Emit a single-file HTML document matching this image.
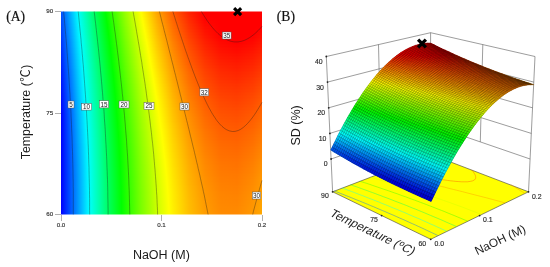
<!DOCTYPE html>
<html><head><meta charset="utf-8"><title>Figure</title><style>html,body{margin:0;padding:0;background:#fff}svg{display:block}</style></head><body>
<svg width="550" height="267" viewBox="0 0 550 267">
<defs><linearGradient id="g0"><stop offset="0" stop-color="#004cff"/><stop offset="0.0796" stop-color="#00f5ff"/><stop offset="0.0841" stop-color="#00feff"/><stop offset="0.1592" stop-color="#00ff6f"/><stop offset="0.2224" stop-color="#00ff01"/><stop offset="0.2388" stop-color="#1bff00"/><stop offset="0.3184" stop-color="#94ff00"/><stop offset="0.398" stop-color="#feff00"/><stop offset="0.3985" stop-color="#ff0"/><stop offset="0.4776" stop-color="#ffa600"/><stop offset="0.5572" stop-color="#ff5d00"/><stop offset="0.6368" stop-color="#ff2300"/><stop offset="0.7164" stop-color="#f00"/><stop offset="0.796" stop-color="#f00"/><stop offset="0.8756" stop-color="#f00"/><stop offset="0.9552" stop-color="#f00"/><stop offset="1" stop-color="#f00"/></linearGradient><linearGradient id="g1"><stop offset="0" stop-color="#0049ff"/><stop offset="0.0796" stop-color="#00f2ff"/><stop offset="0.0856" stop-color="#00feff"/><stop offset="0.1592" stop-color="#00ff72"/><stop offset="0.2244" stop-color="#00ff01"/><stop offset="0.2388" stop-color="#17ff00"/><stop offset="0.3184" stop-color="#91ff00"/><stop offset="0.398" stop-color="#faff00"/><stop offset="0.4015" stop-color="#ff0"/><stop offset="0.4776" stop-color="#fa0"/><stop offset="0.5572" stop-color="#ff6100"/><stop offset="0.6368" stop-color="#ff2700"/><stop offset="0.7164" stop-color="#f00"/><stop offset="0.796" stop-color="#f00"/><stop offset="0.8756" stop-color="#f00"/><stop offset="0.9552" stop-color="#f00"/><stop offset="1" stop-color="#f00"/></linearGradient><linearGradient id="g2"><stop offset="0" stop-color="#0046ff"/><stop offset="0.0796" stop-color="#00efff"/><stop offset="0.0871" stop-color="#00feff"/><stop offset="0.1592" stop-color="#00ff76"/><stop offset="0.2264" stop-color="#00ff01"/><stop offset="0.2388" stop-color="#14ff00"/><stop offset="0.3184" stop-color="#8dff00"/><stop offset="0.398" stop-color="#f7ff00"/><stop offset="0.4045" stop-color="#ff0"/><stop offset="0.4776" stop-color="#ffae00"/><stop offset="0.5572" stop-color="#ff6400"/><stop offset="0.6368" stop-color="#ff2b00"/><stop offset="0.7164" stop-color="#ff0200"/><stop offset="0.796" stop-color="#f00"/><stop offset="0.8756" stop-color="#f00"/><stop offset="0.9552" stop-color="#f00"/><stop offset="1" stop-color="#f00"/></linearGradient><linearGradient id="g3"><stop offset="0" stop-color="#0043ff"/><stop offset="0.0796" stop-color="#00ecff"/><stop offset="0.0886" stop-color="#00feff"/><stop offset="0.1592" stop-color="#00ff79"/><stop offset="0.2284" stop-color="#0f0"/><stop offset="0.2388" stop-color="#1f0"/><stop offset="0.3184" stop-color="#8aff00"/><stop offset="0.398" stop-color="#f3ff00"/><stop offset="0.4075" stop-color="#ff0"/><stop offset="0.4776" stop-color="#ffb100"/><stop offset="0.5572" stop-color="#ff6800"/><stop offset="0.6368" stop-color="#ff2f00"/><stop offset="0.7164" stop-color="#ff0600"/><stop offset="0.796" stop-color="#f00"/><stop offset="0.8756" stop-color="#f00"/><stop offset="0.9552" stop-color="#f00"/><stop offset="1" stop-color="#f00"/></linearGradient><linearGradient id="g4"><stop offset="0" stop-color="#0040ff"/><stop offset="0.0796" stop-color="#00e9ff"/><stop offset="0.09" stop-color="#00feff"/><stop offset="0.1592" stop-color="#00ff7c"/><stop offset="0.2303" stop-color="#0f0"/><stop offset="0.2388" stop-color="#0dff00"/><stop offset="0.3184" stop-color="#87ff00"/><stop offset="0.398" stop-color="#f0ff00"/><stop offset="0.4104" stop-color="#ff0"/><stop offset="0.4776" stop-color="#ffb500"/><stop offset="0.5572" stop-color="#ff6c00"/><stop offset="0.6368" stop-color="#f30"/><stop offset="0.7164" stop-color="#ff0a00"/><stop offset="0.796" stop-color="#f00"/><stop offset="0.8756" stop-color="#f00"/><stop offset="0.9552" stop-color="#f00"/><stop offset="1" stop-color="#f00"/></linearGradient><linearGradient id="g5"><stop offset="0" stop-color="#003eff"/><stop offset="0.0796" stop-color="#00e6ff"/><stop offset="0.0915" stop-color="#00feff"/><stop offset="0.1592" stop-color="#00ff7f"/><stop offset="0.2323" stop-color="#0f0"/><stop offset="0.2388" stop-color="#0aff00"/><stop offset="0.3184" stop-color="#83ff00"/><stop offset="0.398" stop-color="#edff00"/><stop offset="0.4129" stop-color="#ff0"/><stop offset="0.4776" stop-color="#ffb800"/><stop offset="0.5572" stop-color="#ff6f00"/><stop offset="0.6368" stop-color="#ff3600"/><stop offset="0.7164" stop-color="#ff0e00"/><stop offset="0.796" stop-color="#f00"/><stop offset="0.8756" stop-color="#f00"/><stop offset="0.9552" stop-color="#f00"/><stop offset="1" stop-color="#ff0200"/></linearGradient><linearGradient id="g6"><stop offset="0" stop-color="#003bff"/><stop offset="0.0796" stop-color="#00e3ff"/><stop offset="0.093" stop-color="#00feff"/><stop offset="0.1592" stop-color="#00ff82"/><stop offset="0.2343" stop-color="#0f0"/><stop offset="0.2388" stop-color="#07ff00"/><stop offset="0.3184" stop-color="#80ff00"/><stop offset="0.398" stop-color="#e9ff00"/><stop offset="0.4159" stop-color="#ff0"/><stop offset="0.4776" stop-color="#ffbc00"/><stop offset="0.5572" stop-color="#ff7300"/><stop offset="0.6368" stop-color="#ff3a00"/><stop offset="0.7164" stop-color="#ff1200"/><stop offset="0.796" stop-color="#f00"/><stop offset="0.8756" stop-color="#f00"/><stop offset="0.9552" stop-color="#f00"/><stop offset="1" stop-color="#ff0600"/></linearGradient><linearGradient id="g7"><stop offset="0" stop-color="#0038ff"/><stop offset="0.0796" stop-color="#00e1ff"/><stop offset="0.0945" stop-color="#00feff"/><stop offset="0.1592" stop-color="#00ff85"/><stop offset="0.2358" stop-color="#00ff01"/><stop offset="0.2388" stop-color="#04ff00"/><stop offset="0.3184" stop-color="#7dff00"/><stop offset="0.398" stop-color="#e6ff00"/><stop offset="0.4189" stop-color="#ff0"/><stop offset="0.4776" stop-color="#ffbf00"/><stop offset="0.5572" stop-color="#ff7600"/><stop offset="0.6368" stop-color="#ff3e00"/><stop offset="0.7164" stop-color="#ff1500"/><stop offset="0.796" stop-color="#f00"/><stop offset="0.8756" stop-color="#f00"/><stop offset="0.9552" stop-color="#f00"/><stop offset="1" stop-color="#ff0b00"/></linearGradient><linearGradient id="g8"><stop offset="0" stop-color="#0035ff"/><stop offset="0.0796" stop-color="#00deff"/><stop offset="0.096" stop-color="#0ff"/><stop offset="0.1592" stop-color="#0f8"/><stop offset="0.2378" stop-color="#00ff01"/><stop offset="0.2388" stop-color="#01ff00"/><stop offset="0.3184" stop-color="#7aff00"/><stop offset="0.398" stop-color="#e3ff00"/><stop offset="0.4214" stop-color="#feff00"/><stop offset="0.4776" stop-color="#ffc300"/><stop offset="0.5572" stop-color="#ff7a00"/><stop offset="0.6368" stop-color="#ff4100"/><stop offset="0.7164" stop-color="#ff1900"/><stop offset="0.796" stop-color="#ff0100"/><stop offset="0.8756" stop-color="#f00"/><stop offset="0.9552" stop-color="#ff0200"/><stop offset="1" stop-color="#ff0f00"/></linearGradient><linearGradient id="g9"><stop offset="0" stop-color="#03f"/><stop offset="0.0796" stop-color="#00dbff"/><stop offset="0.0975" stop-color="#0ff"/><stop offset="0.1592" stop-color="#00ff8a"/><stop offset="0.2388" stop-color="#00ff02"/><stop offset="0.2398" stop-color="#0f0"/><stop offset="0.3184" stop-color="#7f0"/><stop offset="0.398" stop-color="#e0ff00"/><stop offset="0.4244" stop-color="#ff0"/><stop offset="0.4776" stop-color="#ffc600"/><stop offset="0.5572" stop-color="#ff7d00"/><stop offset="0.6368" stop-color="#ff4500"/><stop offset="0.7164" stop-color="#ff1d00"/><stop offset="0.796" stop-color="#ff0500"/><stop offset="0.8756" stop-color="#f00"/><stop offset="0.9552" stop-color="#ff0600"/><stop offset="1" stop-color="#ff1300"/></linearGradient><linearGradient id="g10"><stop offset="0" stop-color="#0030ff"/><stop offset="0.0796" stop-color="#00d8ff"/><stop offset="0.099" stop-color="#0ff"/><stop offset="0.1592" stop-color="#00ff8d"/><stop offset="0.2388" stop-color="#00ff05"/><stop offset="0.2413" stop-color="#00ff01"/><stop offset="0.3184" stop-color="#74ff00"/><stop offset="0.398" stop-color="#dcff00"/><stop offset="0.4274" stop-color="#ff0"/><stop offset="0.4776" stop-color="#ffc900"/><stop offset="0.5572" stop-color="#ff8100"/><stop offset="0.6368" stop-color="#ff4800"/><stop offset="0.7164" stop-color="#ff2000"/><stop offset="0.796" stop-color="#ff0900"/><stop offset="0.8756" stop-color="#ff0100"/><stop offset="0.9552" stop-color="#ff0a00"/><stop offset="1" stop-color="#ff1700"/></linearGradient><linearGradient id="g11"><stop offset="0" stop-color="#002eff"/><stop offset="0.0796" stop-color="#00d6ff"/><stop offset="0.1" stop-color="#00feff"/><stop offset="0.1592" stop-color="#00ff90"/><stop offset="0.2388" stop-color="#00ff08"/><stop offset="0.2433" stop-color="#0f0"/><stop offset="0.3184" stop-color="#71ff00"/><stop offset="0.398" stop-color="#d9ff00"/><stop offset="0.4299" stop-color="#ff0"/><stop offset="0.4776" stop-color="#fc0"/><stop offset="0.5572" stop-color="#ff8400"/><stop offset="0.6368" stop-color="#ff4c00"/><stop offset="0.7164" stop-color="#ff2400"/><stop offset="0.796" stop-color="#ff0c00"/><stop offset="0.8756" stop-color="#ff0500"/><stop offset="0.9552" stop-color="#ff0e00"/><stop offset="1" stop-color="#ff1b00"/></linearGradient><linearGradient id="g12"><stop offset="0" stop-color="#002bff"/><stop offset="0.0796" stop-color="#00d3ff"/><stop offset="0.1015" stop-color="#0ff"/><stop offset="0.1592" stop-color="#00ff93"/><stop offset="0.2388" stop-color="#00ff0a"/><stop offset="0.2453" stop-color="#0f0"/><stop offset="0.3184" stop-color="#6eff00"/><stop offset="0.398" stop-color="#d6ff00"/><stop offset="0.4328" stop-color="#ff0"/><stop offset="0.4776" stop-color="#ffcf00"/><stop offset="0.5572" stop-color="#ff8700"/><stop offset="0.6368" stop-color="#ff4f00"/><stop offset="0.7164" stop-color="#ff2700"/><stop offset="0.796" stop-color="#ff1000"/><stop offset="0.8756" stop-color="#ff0900"/><stop offset="0.9552" stop-color="#ff1200"/><stop offset="1" stop-color="#ff1f00"/></linearGradient><linearGradient id="g13"><stop offset="0" stop-color="#0029ff"/><stop offset="0.0796" stop-color="#00d1ff"/><stop offset="0.103" stop-color="#0ff"/><stop offset="0.1592" stop-color="#00ff95"/><stop offset="0.2388" stop-color="#00ff0d"/><stop offset="0.2468" stop-color="#00ff01"/><stop offset="0.3184" stop-color="#6bff00"/><stop offset="0.398" stop-color="#d3ff00"/><stop offset="0.4353" stop-color="#ff0"/><stop offset="0.4776" stop-color="#ffd300"/><stop offset="0.5572" stop-color="#ff8b00"/><stop offset="0.6368" stop-color="#ff5300"/><stop offset="0.7164" stop-color="#ff2b00"/><stop offset="0.796" stop-color="#ff1300"/><stop offset="0.8756" stop-color="#ff0c00"/><stop offset="0.9552" stop-color="#ff1600"/><stop offset="1" stop-color="#f20"/></linearGradient><linearGradient id="g14"><stop offset="0" stop-color="#0026ff"/><stop offset="0.0796" stop-color="#00ceff"/><stop offset="0.104" stop-color="#00feff"/><stop offset="0.1592" stop-color="#00ff98"/><stop offset="0.2388" stop-color="#00ff10"/><stop offset="0.2488" stop-color="#0f0"/><stop offset="0.3184" stop-color="#68ff00"/><stop offset="0.398" stop-color="#d0ff00"/><stop offset="0.4383" stop-color="#ff0"/><stop offset="0.4776" stop-color="#ffd600"/><stop offset="0.5572" stop-color="#ff8e00"/><stop offset="0.6368" stop-color="#ff5600"/><stop offset="0.7164" stop-color="#ff2e00"/><stop offset="0.796" stop-color="#ff1700"/><stop offset="0.8756" stop-color="#ff1000"/><stop offset="0.9552" stop-color="#ff1a00"/><stop offset="1" stop-color="#ff2600"/></linearGradient><linearGradient id="g15"><stop offset="0" stop-color="#0024ff"/><stop offset="0.0796" stop-color="#0cf"/><stop offset="0.1055" stop-color="#0ff"/><stop offset="0.1592" stop-color="#00ff9b"/><stop offset="0.2388" stop-color="#00ff13"/><stop offset="0.2502" stop-color="#0f0"/><stop offset="0.3184" stop-color="#65ff00"/><stop offset="0.398" stop-color="#cdff00"/><stop offset="0.4408" stop-color="#ff0"/><stop offset="0.4776" stop-color="#ffd900"/><stop offset="0.5572" stop-color="#ff9100"/><stop offset="0.6368" stop-color="#ff5900"/><stop offset="0.7164" stop-color="#ff3200"/><stop offset="0.796" stop-color="#ff1a00"/><stop offset="0.8756" stop-color="#ff1400"/><stop offset="0.9552" stop-color="#ff1d00"/><stop offset="1" stop-color="#ff2a00"/></linearGradient><linearGradient id="g16"><stop offset="0" stop-color="#02f"/><stop offset="0.0796" stop-color="#00c9ff"/><stop offset="0.1065" stop-color="#00feff"/><stop offset="0.1592" stop-color="#00ff9d"/><stop offset="0.2388" stop-color="#00ff15"/><stop offset="0.2517" stop-color="#00ff01"/><stop offset="0.3184" stop-color="#63ff00"/><stop offset="0.398" stop-color="#caff00"/><stop offset="0.4438" stop-color="#ff0"/><stop offset="0.4776" stop-color="#ffdc00"/><stop offset="0.5572" stop-color="#ff9400"/><stop offset="0.6368" stop-color="#ff5c00"/><stop offset="0.7164" stop-color="#ff3500"/><stop offset="0.796" stop-color="#ff1e00"/><stop offset="0.8756" stop-color="#ff1700"/><stop offset="0.9552" stop-color="#ff2100"/><stop offset="1" stop-color="#ff2e00"/></linearGradient><linearGradient id="g17"><stop offset="0" stop-color="#0020ff"/><stop offset="0.0796" stop-color="#00c7ff"/><stop offset="0.108" stop-color="#0ff"/><stop offset="0.1592" stop-color="#00ffa0"/><stop offset="0.2388" stop-color="#00ff18"/><stop offset="0.2537" stop-color="#0f0"/><stop offset="0.3184" stop-color="#60ff00"/><stop offset="0.398" stop-color="#c8ff00"/><stop offset="0.4463" stop-color="#ff0"/><stop offset="0.4776" stop-color="#ffdf00"/><stop offset="0.5572" stop-color="#ff9700"/><stop offset="0.6368" stop-color="#ff5f00"/><stop offset="0.7164" stop-color="#ff3800"/><stop offset="0.796" stop-color="#ff2100"/><stop offset="0.8756" stop-color="#ff1b00"/><stop offset="0.9552" stop-color="#ff2400"/><stop offset="1" stop-color="#ff3100"/></linearGradient><linearGradient id="g18"><stop offset="0" stop-color="#001dff"/><stop offset="0.0796" stop-color="#00c5ff"/><stop offset="0.109" stop-color="#00feff"/><stop offset="0.1592" stop-color="#00ffa2"/><stop offset="0.2388" stop-color="#00ff1a"/><stop offset="0.2552" stop-color="#0f0"/><stop offset="0.3184" stop-color="#5dff00"/><stop offset="0.398" stop-color="#c5ff00"/><stop offset="0.4488" stop-color="#ff0"/><stop offset="0.4776" stop-color="#ffe100"/><stop offset="0.5572" stop-color="#ff9a00"/><stop offset="0.6368" stop-color="#ff6300"/><stop offset="0.7164" stop-color="#ff3b00"/><stop offset="0.796" stop-color="#ff2500"/><stop offset="0.8756" stop-color="#ff1e00"/><stop offset="0.9552" stop-color="#ff2800"/><stop offset="1" stop-color="#ff3500"/></linearGradient><linearGradient id="g19"><stop offset="0" stop-color="#001bff"/><stop offset="0.0796" stop-color="#00c2ff"/><stop offset="0.1104" stop-color="#0ff"/><stop offset="0.1592" stop-color="#00ffa4"/><stop offset="0.2388" stop-color="#00ff1d"/><stop offset="0.2567" stop-color="#00ff01"/><stop offset="0.3184" stop-color="#5bff00"/><stop offset="0.398" stop-color="#c2ff00"/><stop offset="0.4517" stop-color="#ff0"/><stop offset="0.4776" stop-color="#ffe400"/><stop offset="0.5572" stop-color="#ff9d00"/><stop offset="0.6368" stop-color="#f60"/><stop offset="0.7164" stop-color="#ff3f00"/><stop offset="0.796" stop-color="#ff2800"/><stop offset="0.8756" stop-color="#ff2100"/><stop offset="0.9552" stop-color="#ff2b00"/><stop offset="1" stop-color="#ff3800"/></linearGradient><linearGradient id="g20"><stop offset="0" stop-color="#0019ff"/><stop offset="0.0796" stop-color="#00c0ff"/><stop offset="0.1114" stop-color="#0ff"/><stop offset="0.1592" stop-color="#00ffa7"/><stop offset="0.2388" stop-color="#00ff1f"/><stop offset="0.2587" stop-color="#0f0"/><stop offset="0.3184" stop-color="#58ff00"/><stop offset="0.398" stop-color="#bfff00"/><stop offset="0.4542" stop-color="#ff0"/><stop offset="0.4776" stop-color="#ffe700"/><stop offset="0.5572" stop-color="#ffa000"/><stop offset="0.6368" stop-color="#ff6900"/><stop offset="0.7164" stop-color="#ff4200"/><stop offset="0.796" stop-color="#ff2b00"/><stop offset="0.8756" stop-color="#ff2500"/><stop offset="0.9552" stop-color="#ff2f00"/><stop offset="1" stop-color="#ff3c00"/></linearGradient><linearGradient id="g21"><stop offset="0" stop-color="#0017ff"/><stop offset="0.0796" stop-color="#00beff"/><stop offset="0.1124" stop-color="#00feff"/><stop offset="0.1592" stop-color="#00ffa9"/><stop offset="0.2388" stop-color="#0f2"/><stop offset="0.2602" stop-color="#0f0"/><stop offset="0.3184" stop-color="#56ff00"/><stop offset="0.398" stop-color="#bdff00"/><stop offset="0.4567" stop-color="#ff0"/><stop offset="0.4776" stop-color="#ffea00"/><stop offset="0.5572" stop-color="#ffa300"/><stop offset="0.6368" stop-color="#ff6c00"/><stop offset="0.7164" stop-color="#ff4500"/><stop offset="0.796" stop-color="#ff2e00"/><stop offset="0.8756" stop-color="#ff2800"/><stop offset="0.9552" stop-color="#ff3200"/><stop offset="1" stop-color="#ff3f00"/></linearGradient><linearGradient id="g22"><stop offset="0" stop-color="#0015ff"/><stop offset="0.0796" stop-color="#00bcff"/><stop offset="0.1139" stop-color="#0ff"/><stop offset="0.1592" stop-color="#00ffab"/><stop offset="0.2388" stop-color="#00ff24"/><stop offset="0.2617" stop-color="#0f0"/><stop offset="0.3184" stop-color="#53ff00"/><stop offset="0.398" stop-color="#baff00"/><stop offset="0.4592" stop-color="#ff0"/><stop offset="0.4776" stop-color="#ffed00"/><stop offset="0.5572" stop-color="#ffa500"/><stop offset="0.6368" stop-color="#ff6e00"/><stop offset="0.7164" stop-color="#ff4800"/><stop offset="0.796" stop-color="#ff3100"/><stop offset="0.8756" stop-color="#ff2b00"/><stop offset="0.9552" stop-color="#ff3600"/><stop offset="1" stop-color="#ff4300"/></linearGradient><linearGradient id="g23"><stop offset="0" stop-color="#0013ff"/><stop offset="0.0796" stop-color="#00baff"/><stop offset="0.1149" stop-color="#0ff"/><stop offset="0.1592" stop-color="#00ffad"/><stop offset="0.2388" stop-color="#00ff26"/><stop offset="0.2632" stop-color="#0f0"/><stop offset="0.3184" stop-color="#51ff00"/><stop offset="0.398" stop-color="#b8ff00"/><stop offset="0.4617" stop-color="#ff0"/><stop offset="0.4776" stop-color="#ffef00"/><stop offset="0.5572" stop-color="#ffa800"/><stop offset="0.6368" stop-color="#ff7100"/><stop offset="0.7164" stop-color="#ff4b00"/><stop offset="0.796" stop-color="#ff3400"/><stop offset="0.8756" stop-color="#ff2e00"/><stop offset="0.9552" stop-color="#ff3900"/><stop offset="1" stop-color="#ff4600"/></linearGradient><linearGradient id="g24"><stop offset="0" stop-color="#01f"/><stop offset="0.0796" stop-color="#00b8ff"/><stop offset="0.1159" stop-color="#0ff"/><stop offset="0.1592" stop-color="#00ffb0"/><stop offset="0.2388" stop-color="#00ff29"/><stop offset="0.2647" stop-color="#0f0"/><stop offset="0.3184" stop-color="#4eff00"/><stop offset="0.398" stop-color="#b5ff00"/><stop offset="0.4642" stop-color="#ff0"/><stop offset="0.4776" stop-color="#fff200"/><stop offset="0.5572" stop-color="#ffab00"/><stop offset="0.6368" stop-color="#ff7400"/><stop offset="0.7164" stop-color="#ff4e00"/><stop offset="0.796" stop-color="#ff3700"/><stop offset="0.8756" stop-color="#ff3200"/><stop offset="0.9552" stop-color="#ff3c00"/><stop offset="1" stop-color="#ff4900"/></linearGradient><linearGradient id="g25"><stop offset="0" stop-color="#0010ff"/><stop offset="0.0796" stop-color="#00b6ff"/><stop offset="0.1169" stop-color="#00feff"/><stop offset="0.1592" stop-color="#00ffb2"/><stop offset="0.2388" stop-color="#00ff2b"/><stop offset="0.2662" stop-color="#0f0"/><stop offset="0.3184" stop-color="#4cff00"/><stop offset="0.398" stop-color="#b3ff00"/><stop offset="0.4667" stop-color="#ff0"/><stop offset="0.4776" stop-color="#fff400"/><stop offset="0.5572" stop-color="#ffae00"/><stop offset="0.6368" stop-color="#f70"/><stop offset="0.7164" stop-color="#ff5100"/><stop offset="0.796" stop-color="#ff3a00"/><stop offset="0.8756" stop-color="#ff3500"/><stop offset="0.9552" stop-color="#ff3f00"/><stop offset="1" stop-color="#ff4d00"/></linearGradient><linearGradient id="g26"><stop offset="0" stop-color="#000eff"/><stop offset="0.0796" stop-color="#00b4ff"/><stop offset="0.1179" stop-color="#00feff"/><stop offset="0.1592" stop-color="#00ffb4"/><stop offset="0.2388" stop-color="#00ff2d"/><stop offset="0.2677" stop-color="#0f0"/><stop offset="0.3184" stop-color="#4aff00"/><stop offset="0.398" stop-color="#b0ff00"/><stop offset="0.4692" stop-color="#ff0"/><stop offset="0.4776" stop-color="#fff700"/><stop offset="0.5572" stop-color="#ffb000"/><stop offset="0.6368" stop-color="#ff7a00"/><stop offset="0.7164" stop-color="#ff5300"/><stop offset="0.796" stop-color="#ff3d00"/><stop offset="0.8756" stop-color="#ff3800"/><stop offset="0.9552" stop-color="#ff4200"/><stop offset="1" stop-color="#ff5000"/></linearGradient><linearGradient id="g27"><stop offset="0" stop-color="#000cff"/><stop offset="0.0796" stop-color="#00b2ff"/><stop offset="0.1189" stop-color="#00feff"/><stop offset="0.1592" stop-color="#00ffb6"/><stop offset="0.2388" stop-color="#00ff2f"/><stop offset="0.2692" stop-color="#0f0"/><stop offset="0.3184" stop-color="#48ff00"/><stop offset="0.398" stop-color="#aeff00"/><stop offset="0.4716" stop-color="#ff0"/><stop offset="0.4776" stop-color="#fff900"/><stop offset="0.5572" stop-color="#ffb300"/><stop offset="0.6368" stop-color="#ff7c00"/><stop offset="0.7164" stop-color="#ff5600"/><stop offset="0.796" stop-color="#ff4000"/><stop offset="0.8756" stop-color="#ff3b00"/><stop offset="0.9552" stop-color="#ff4600"/><stop offset="1" stop-color="#ff5300"/></linearGradient><linearGradient id="g28"><stop offset="0" stop-color="#000aff"/><stop offset="0.0796" stop-color="#00b0ff"/><stop offset="0.1199" stop-color="#00feff"/><stop offset="0.1592" stop-color="#00ffb8"/><stop offset="0.2388" stop-color="#00ff31"/><stop offset="0.2701" stop-color="#00ff01"/><stop offset="0.3184" stop-color="#45ff00"/><stop offset="0.398" stop-color="#acff00"/><stop offset="0.4741" stop-color="#ff0"/><stop offset="0.4776" stop-color="#fffc00"/><stop offset="0.5572" stop-color="#ffb500"/><stop offset="0.6368" stop-color="#ff7f00"/><stop offset="0.7164" stop-color="#ff5900"/><stop offset="0.796" stop-color="#ff4300"/><stop offset="0.8756" stop-color="#ff3e00"/><stop offset="0.9552" stop-color="#ff4900"/><stop offset="1" stop-color="#ff5600"/></linearGradient><linearGradient id="g29"><stop offset="0" stop-color="#0009ff"/><stop offset="0.0796" stop-color="#00aeff"/><stop offset="0.1209" stop-color="#00feff"/><stop offset="0.1592" stop-color="#00ffb9"/><stop offset="0.2388" stop-color="#0f3"/><stop offset="0.2716" stop-color="#0f0"/><stop offset="0.3184" stop-color="#43ff00"/><stop offset="0.398" stop-color="#af0"/><stop offset="0.4761" stop-color="#ff0"/><stop offset="0.4776" stop-color="#fffe00"/><stop offset="0.5572" stop-color="#ffb800"/><stop offset="0.6368" stop-color="#ff8100"/><stop offset="0.7164" stop-color="#ff5c00"/><stop offset="0.796" stop-color="#ff4600"/><stop offset="0.8756" stop-color="#ff4000"/><stop offset="0.9552" stop-color="#ff4c00"/><stop offset="1" stop-color="#ff5900"/></linearGradient><linearGradient id="g30"><stop offset="0" stop-color="#0007ff"/><stop offset="0.0796" stop-color="#00adff"/><stop offset="0.1219" stop-color="#00feff"/><stop offset="0.1592" stop-color="#0fb"/><stop offset="0.2388" stop-color="#00ff35"/><stop offset="0.2731" stop-color="#0f0"/><stop offset="0.3184" stop-color="#41ff00"/><stop offset="0.398" stop-color="#a7ff00"/><stop offset="0.4776" stop-color="#feff00"/><stop offset="0.4786" stop-color="#ff0"/><stop offset="0.5572" stop-color="#ffba00"/><stop offset="0.6368" stop-color="#ff8400"/><stop offset="0.7164" stop-color="#ff5e00"/><stop offset="0.796" stop-color="#ff4900"/><stop offset="0.8756" stop-color="#ff4300"/><stop offset="0.9552" stop-color="#ff4e00"/><stop offset="1" stop-color="#ff5c00"/></linearGradient><linearGradient id="g31"><stop offset="0" stop-color="#0005ff"/><stop offset="0.0796" stop-color="#00abff"/><stop offset="0.1229" stop-color="#00feff"/><stop offset="0.1592" stop-color="#00ffbd"/><stop offset="0.2388" stop-color="#00ff37"/><stop offset="0.2741" stop-color="#00ff01"/><stop offset="0.3184" stop-color="#3fff00"/><stop offset="0.398" stop-color="#a5ff00"/><stop offset="0.4776" stop-color="#fbff00"/><stop offset="0.4811" stop-color="#ff0"/><stop offset="0.5572" stop-color="#ffbc00"/><stop offset="0.6368" stop-color="#ff8600"/><stop offset="0.7164" stop-color="#ff6100"/><stop offset="0.796" stop-color="#ff4b00"/><stop offset="0.8756" stop-color="#ff4600"/><stop offset="0.9552" stop-color="#ff5100"/><stop offset="1" stop-color="#ff5f00"/></linearGradient><linearGradient id="g32"><stop offset="0" stop-color="#0004ff"/><stop offset="0.0796" stop-color="#00a9ff"/><stop offset="0.1239" stop-color="#0ff"/><stop offset="0.1592" stop-color="#00ffbf"/><stop offset="0.2388" stop-color="#00ff39"/><stop offset="0.2756" stop-color="#0f0"/><stop offset="0.3184" stop-color="#3dff00"/><stop offset="0.398" stop-color="#a3ff00"/><stop offset="0.4776" stop-color="#f9ff00"/><stop offset="0.4831" stop-color="#ff0"/><stop offset="0.5572" stop-color="#ffbf00"/><stop offset="0.6368" stop-color="#ff8900"/><stop offset="0.7164" stop-color="#ff6300"/><stop offset="0.796" stop-color="#ff4e00"/><stop offset="0.8756" stop-color="#ff4900"/><stop offset="0.9552" stop-color="#ff5400"/><stop offset="1" stop-color="#ff6200"/></linearGradient><linearGradient id="g33"><stop offset="0" stop-color="#0002ff"/><stop offset="0.0796" stop-color="#00a8ff"/><stop offset="0.1249" stop-color="#0ff"/><stop offset="0.1592" stop-color="#00ffc1"/><stop offset="0.2388" stop-color="#00ff3b"/><stop offset="0.2766" stop-color="#00ff01"/><stop offset="0.3184" stop-color="#3bff00"/><stop offset="0.398" stop-color="#a1ff00"/><stop offset="0.4776" stop-color="#f7ff00"/><stop offset="0.4856" stop-color="#ff0"/><stop offset="0.5572" stop-color="#ffc100"/><stop offset="0.6368" stop-color="#ff8b00"/><stop offset="0.7164" stop-color="#f60"/><stop offset="0.796" stop-color="#ff5000"/><stop offset="0.8756" stop-color="#ff4c00"/><stop offset="0.9552" stop-color="#ff5700"/><stop offset="1" stop-color="#ff6500"/></linearGradient><linearGradient id="g34"><stop offset="0" stop-color="#0001ff"/><stop offset="0.0796" stop-color="#00a6ff"/><stop offset="0.1254" stop-color="#00feff"/><stop offset="0.1592" stop-color="#00ffc2"/><stop offset="0.2388" stop-color="#00ff3d"/><stop offset="0.2781" stop-color="#0f0"/><stop offset="0.3184" stop-color="#39ff00"/><stop offset="0.398" stop-color="#9fff00"/><stop offset="0.4776" stop-color="#f5ff00"/><stop offset="0.4876" stop-color="#ff0"/><stop offset="0.5572" stop-color="#ffc300"/><stop offset="0.6368" stop-color="#ff8e00"/><stop offset="0.7164" stop-color="#ff6800"/><stop offset="0.796" stop-color="#ff5300"/><stop offset="0.8756" stop-color="#ff4e00"/><stop offset="0.9552" stop-color="#ff5a00"/><stop offset="1" stop-color="#ff6800"/></linearGradient><linearGradient id="g35"><stop offset="0" stop-color="#00f"/><stop offset="0.0796" stop-color="#00a5ff"/><stop offset="0.1264" stop-color="#00feff"/><stop offset="0.1592" stop-color="#00ffc4"/><stop offset="0.2388" stop-color="#00ff3e"/><stop offset="0.2791" stop-color="#00ff01"/><stop offset="0.3184" stop-color="#37ff00"/><stop offset="0.398" stop-color="#9dff00"/><stop offset="0.4776" stop-color="#f3ff00"/><stop offset="0.49" stop-color="#ff0"/><stop offset="0.5572" stop-color="#ffc500"/><stop offset="0.6368" stop-color="#ff9000"/><stop offset="0.7164" stop-color="#ff6b00"/><stop offset="0.796" stop-color="#f50"/><stop offset="0.8756" stop-color="#ff5100"/><stop offset="0.9552" stop-color="#ff5c00"/><stop offset="1" stop-color="#ff6a00"/></linearGradient><linearGradient id="g36"><stop offset="0" stop-color="#00f"/><stop offset="0.0796" stop-color="#00a3ff"/><stop offset="0.1274" stop-color="#0ff"/><stop offset="0.1592" stop-color="#00ffc5"/><stop offset="0.2388" stop-color="#00ff40"/><stop offset="0.2806" stop-color="#0f0"/><stop offset="0.3184" stop-color="#36ff00"/><stop offset="0.398" stop-color="#9bff00"/><stop offset="0.4776" stop-color="#f1ff00"/><stop offset="0.492" stop-color="#ff0"/><stop offset="0.5572" stop-color="#ffc700"/><stop offset="0.6368" stop-color="#ff9200"/><stop offset="0.7164" stop-color="#ff6d00"/><stop offset="0.796" stop-color="#ff5800"/><stop offset="0.8756" stop-color="#ff5300"/><stop offset="0.9552" stop-color="#ff5f00"/><stop offset="1" stop-color="#ff6d00"/></linearGradient><linearGradient id="g37"><stop offset="0" stop-color="#00f"/><stop offset="0.0796" stop-color="#00a2ff"/><stop offset="0.1279" stop-color="#00feff"/><stop offset="0.1592" stop-color="#00ffc7"/><stop offset="0.2388" stop-color="#00ff42"/><stop offset="0.2816" stop-color="#0f0"/><stop offset="0.3184" stop-color="#34ff00"/><stop offset="0.398" stop-color="#9f0"/><stop offset="0.4776" stop-color="#efff00"/><stop offset="0.494" stop-color="#ff0"/><stop offset="0.5572" stop-color="#ffca00"/><stop offset="0.6368" stop-color="#ff9400"/><stop offset="0.7164" stop-color="#ff6f00"/><stop offset="0.796" stop-color="#ff5a00"/><stop offset="0.8756" stop-color="#ff5600"/><stop offset="0.9552" stop-color="#ff6200"/><stop offset="1" stop-color="#ff7000"/></linearGradient><linearGradient id="g38"><stop offset="0" stop-color="#00f"/><stop offset="0.0796" stop-color="#00a1ff"/><stop offset="0.1289" stop-color="#0ff"/><stop offset="0.1592" stop-color="#00ffc8"/><stop offset="0.2388" stop-color="#00ff43"/><stop offset="0.2826" stop-color="#00ff01"/><stop offset="0.3184" stop-color="#32ff00"/><stop offset="0.398" stop-color="#98ff00"/><stop offset="0.4776" stop-color="#edff00"/><stop offset="0.496" stop-color="#ff0"/><stop offset="0.5572" stop-color="#fc0"/><stop offset="0.6368" stop-color="#ff9600"/><stop offset="0.7164" stop-color="#ff7100"/><stop offset="0.796" stop-color="#ff5d00"/><stop offset="0.8756" stop-color="#ff5800"/><stop offset="0.9552" stop-color="#ff6400"/><stop offset="1" stop-color="#ff7200"/></linearGradient><linearGradient id="g39"><stop offset="0" stop-color="#00f"/><stop offset="0.0796" stop-color="#009fff"/><stop offset="0.1294" stop-color="#00feff"/><stop offset="0.1592" stop-color="#00ffca"/><stop offset="0.2388" stop-color="#00ff45"/><stop offset="0.2836" stop-color="#00ff01"/><stop offset="0.3184" stop-color="#31ff00"/><stop offset="0.398" stop-color="#96ff00"/><stop offset="0.4776" stop-color="#ebff00"/><stop offset="0.4985" stop-color="#ff0"/><stop offset="0.5572" stop-color="#ffce00"/><stop offset="0.6368" stop-color="#ff9800"/><stop offset="0.7164" stop-color="#ff7400"/><stop offset="0.796" stop-color="#ff5f00"/><stop offset="0.8756" stop-color="#ff5b00"/><stop offset="0.9552" stop-color="#ff6700"/><stop offset="1" stop-color="#ff7500"/></linearGradient><linearGradient id="g40"><stop offset="0" stop-color="#00f"/><stop offset="0.0796" stop-color="#009eff"/><stop offset="0.1303" stop-color="#0ff"/><stop offset="0.1592" stop-color="#00ffcb"/><stop offset="0.2388" stop-color="#00ff46"/><stop offset="0.2851" stop-color="#0f0"/><stop offset="0.3184" stop-color="#2fff00"/><stop offset="0.398" stop-color="#94ff00"/><stop offset="0.4776" stop-color="#e9ff00"/><stop offset="0.5005" stop-color="#ff0"/><stop offset="0.5572" stop-color="#ffcf00"/><stop offset="0.6368" stop-color="#ff9a00"/><stop offset="0.7164" stop-color="#ff7600"/><stop offset="0.796" stop-color="#ff6100"/><stop offset="0.8756" stop-color="#ff5d00"/><stop offset="0.9552" stop-color="#ff6900"/><stop offset="1" stop-color="#f70"/></linearGradient><linearGradient id="g41"><stop offset="0" stop-color="#00f"/><stop offset="0.0796" stop-color="#009dff"/><stop offset="0.1308" stop-color="#00feff"/><stop offset="0.1592" stop-color="#0fc"/><stop offset="0.2388" stop-color="#00ff48"/><stop offset="0.2861" stop-color="#0f0"/><stop offset="0.3184" stop-color="#2dff00"/><stop offset="0.398" stop-color="#93ff00"/><stop offset="0.4776" stop-color="#e8ff00"/><stop offset="0.5025" stop-color="#ff0"/><stop offset="0.5572" stop-color="#ffd100"/><stop offset="0.6368" stop-color="#ff9c00"/><stop offset="0.7164" stop-color="#ff7800"/><stop offset="0.796" stop-color="#ff6300"/><stop offset="0.8756" stop-color="#ff5f00"/><stop offset="0.9552" stop-color="#ff6c00"/><stop offset="1" stop-color="#ff7a00"/></linearGradient><linearGradient id="g42"><stop offset="0" stop-color="#00f"/><stop offset="0.0796" stop-color="#009cff"/><stop offset="0.1318" stop-color="#0ff"/><stop offset="0.1592" stop-color="#00ffce"/><stop offset="0.2388" stop-color="#00ff49"/><stop offset="0.2871" stop-color="#0f0"/><stop offset="0.3184" stop-color="#2cff00"/><stop offset="0.398" stop-color="#91ff00"/><stop offset="0.4776" stop-color="#e6ff00"/><stop offset="0.504" stop-color="#ff0"/><stop offset="0.5572" stop-color="#ffd300"/><stop offset="0.6368" stop-color="#ff9e00"/><stop offset="0.7164" stop-color="#ff7a00"/><stop offset="0.796" stop-color="#ff6500"/><stop offset="0.8756" stop-color="#ff6100"/><stop offset="0.9552" stop-color="#ff6e00"/><stop offset="1" stop-color="#ff7c00"/></linearGradient><linearGradient id="g43"><stop offset="0" stop-color="#00f"/><stop offset="0.0796" stop-color="#009bff"/><stop offset="0.1323" stop-color="#0ff"/><stop offset="0.1592" stop-color="#00ffcf"/><stop offset="0.2388" stop-color="#00ff4a"/><stop offset="0.2881" stop-color="#0f0"/><stop offset="0.3184" stop-color="#2bff00"/><stop offset="0.398" stop-color="#8fff00"/><stop offset="0.4776" stop-color="#e4ff00"/><stop offset="0.506" stop-color="#ff0"/><stop offset="0.5572" stop-color="#ffd500"/><stop offset="0.6368" stop-color="#ffa000"/><stop offset="0.7164" stop-color="#ff7c00"/><stop offset="0.796" stop-color="#ff6800"/><stop offset="0.8756" stop-color="#ff6400"/><stop offset="0.9552" stop-color="#ff7000"/><stop offset="1" stop-color="#ff7e00"/></linearGradient><linearGradient id="g44"><stop offset="0" stop-color="#00f"/><stop offset="0.0796" stop-color="#09f"/><stop offset="0.1328" stop-color="#00feff"/><stop offset="0.1592" stop-color="#00ffd0"/><stop offset="0.2388" stop-color="#00ff4c"/><stop offset="0.2891" stop-color="#0f0"/><stop offset="0.3184" stop-color="#29ff00"/><stop offset="0.398" stop-color="#8eff00"/><stop offset="0.4776" stop-color="#e3ff00"/><stop offset="0.508" stop-color="#ff0"/><stop offset="0.5572" stop-color="#ffd700"/><stop offset="0.6368" stop-color="#ffa200"/><stop offset="0.7164" stop-color="#ff7e00"/><stop offset="0.796" stop-color="#ff6a00"/><stop offset="0.8756" stop-color="#f60"/><stop offset="0.9552" stop-color="#ff7200"/><stop offset="1" stop-color="#ff8100"/></linearGradient><linearGradient id="g45"><stop offset="0" stop-color="#00f"/><stop offset="0.0796" stop-color="#0098ff"/><stop offset="0.1333" stop-color="#00feff"/><stop offset="0.1592" stop-color="#00ffd1"/><stop offset="0.2388" stop-color="#00ff4d"/><stop offset="0.2896" stop-color="#00ff01"/><stop offset="0.3184" stop-color="#28ff00"/><stop offset="0.398" stop-color="#8cff00"/><stop offset="0.4776" stop-color="#e1ff00"/><stop offset="0.51" stop-color="#ff0"/><stop offset="0.5572" stop-color="#ffd800"/><stop offset="0.6368" stop-color="#ffa400"/><stop offset="0.7164" stop-color="#ff8000"/><stop offset="0.796" stop-color="#ff6c00"/><stop offset="0.8756" stop-color="#ff6800"/><stop offset="0.9552" stop-color="#ff7500"/><stop offset="1" stop-color="#ff8300"/></linearGradient><linearGradient id="g46"><stop offset="0" stop-color="#00f"/><stop offset="0.0796" stop-color="#0098ff"/><stop offset="0.1338" stop-color="#00feff"/><stop offset="0.1592" stop-color="#00ffd2"/><stop offset="0.2388" stop-color="#00ff4e"/><stop offset="0.2905" stop-color="#0f0"/><stop offset="0.3184" stop-color="#26ff00"/><stop offset="0.398" stop-color="#8bff00"/><stop offset="0.4776" stop-color="#e0ff00"/><stop offset="0.5114" stop-color="#ff0"/><stop offset="0.5572" stop-color="#ffda00"/><stop offset="0.6368" stop-color="#ffa600"/><stop offset="0.7164" stop-color="#ff8100"/><stop offset="0.796" stop-color="#ff6e00"/><stop offset="0.8756" stop-color="#ff6a00"/><stop offset="0.9552" stop-color="#f70"/><stop offset="1" stop-color="#ff8500"/></linearGradient><linearGradient id="g47"><stop offset="0" stop-color="#00f"/><stop offset="0.0796" stop-color="#0097ff"/><stop offset="0.1348" stop-color="#0ff"/><stop offset="0.1592" stop-color="#00ffd3"/><stop offset="0.2388" stop-color="#00ff4f"/><stop offset="0.2915" stop-color="#0f0"/><stop offset="0.3184" stop-color="#25ff00"/><stop offset="0.398" stop-color="#8aff00"/><stop offset="0.4776" stop-color="#deff00"/><stop offset="0.5134" stop-color="#ff0"/><stop offset="0.5572" stop-color="#ffdc00"/><stop offset="0.6368" stop-color="#ffa700"/><stop offset="0.7164" stop-color="#ff8300"/><stop offset="0.796" stop-color="#ff6f00"/><stop offset="0.8756" stop-color="#ff6c00"/><stop offset="0.9552" stop-color="#ff7900"/><stop offset="1" stop-color="#ff8700"/></linearGradient><linearGradient id="g48"><stop offset="0" stop-color="#00f"/><stop offset="0.0796" stop-color="#0096ff"/><stop offset="0.1353" stop-color="#0ff"/><stop offset="0.1592" stop-color="#00ffd4"/><stop offset="0.2388" stop-color="#00ff50"/><stop offset="0.2925" stop-color="#0f0"/><stop offset="0.3184" stop-color="#24ff00"/><stop offset="0.398" stop-color="#8f0"/><stop offset="0.4776" stop-color="#df0"/><stop offset="0.5149" stop-color="#ff0"/><stop offset="0.5572" stop-color="#fd0"/><stop offset="0.6368" stop-color="#ffa900"/><stop offset="0.7164" stop-color="#ff8500"/><stop offset="0.796" stop-color="#ff7100"/><stop offset="0.8756" stop-color="#ff6e00"/><stop offset="0.9552" stop-color="#ff7b00"/><stop offset="1" stop-color="#ff8900"/></linearGradient><linearGradient id="g49"><stop offset="0" stop-color="#00f"/><stop offset="0.0796" stop-color="#0095ff"/><stop offset="0.1358" stop-color="#0ff"/><stop offset="0.1592" stop-color="#00ffd5"/><stop offset="0.2388" stop-color="#00ff51"/><stop offset="0.293" stop-color="#0f0"/><stop offset="0.3184" stop-color="#23ff00"/><stop offset="0.398" stop-color="#87ff00"/><stop offset="0.4776" stop-color="#dbff00"/><stop offset="0.5169" stop-color="#ff0"/><stop offset="0.5572" stop-color="#ffdf00"/><stop offset="0.6368" stop-color="#ffab00"/><stop offset="0.7164" stop-color="#ff8700"/><stop offset="0.796" stop-color="#ff7300"/><stop offset="0.8756" stop-color="#ff7000"/><stop offset="0.9552" stop-color="#ff7d00"/><stop offset="1" stop-color="#ff8c00"/></linearGradient><linearGradient id="g50"><stop offset="0" stop-color="#00f"/><stop offset="0.0796" stop-color="#0094ff"/><stop offset="0.1363" stop-color="#0ff"/><stop offset="0.1592" stop-color="#00ffd6"/><stop offset="0.2388" stop-color="#00ff52"/><stop offset="0.294" stop-color="#0f0"/><stop offset="0.3184" stop-color="#2f0"/><stop offset="0.398" stop-color="#86ff00"/><stop offset="0.4776" stop-color="#daff00"/><stop offset="0.5184" stop-color="#ff0"/><stop offset="0.5572" stop-color="#ffe000"/><stop offset="0.6368" stop-color="#ffac00"/><stop offset="0.7164" stop-color="#f80"/><stop offset="0.796" stop-color="#ff7500"/><stop offset="0.8756" stop-color="#ff7200"/><stop offset="0.9552" stop-color="#ff7f00"/><stop offset="1" stop-color="#ff8e00"/></linearGradient><linearGradient id="g51"><stop offset="0" stop-color="#00f"/><stop offset="0.0796" stop-color="#0093ff"/><stop offset="0.1363" stop-color="#00feff"/><stop offset="0.1592" stop-color="#00ffd7"/><stop offset="0.2388" stop-color="#00ff53"/><stop offset="0.2945" stop-color="#0f0"/><stop offset="0.3184" stop-color="#21ff00"/><stop offset="0.398" stop-color="#85ff00"/><stop offset="0.4776" stop-color="#d9ff00"/><stop offset="0.5199" stop-color="#ff0"/><stop offset="0.5572" stop-color="#ffe100"/><stop offset="0.6368" stop-color="#ffae00"/><stop offset="0.7164" stop-color="#ff8a00"/><stop offset="0.796" stop-color="#f70"/><stop offset="0.8756" stop-color="#ff7300"/><stop offset="0.9552" stop-color="#ff8100"/><stop offset="1" stop-color="#ff9000"/></linearGradient><linearGradient id="g52"><stop offset="0" stop-color="#00f"/><stop offset="0.0796" stop-color="#0093ff"/><stop offset="0.1368" stop-color="#00feff"/><stop offset="0.1592" stop-color="#00ffd8"/><stop offset="0.2388" stop-color="#00ff54"/><stop offset="0.295" stop-color="#00ff01"/><stop offset="0.3184" stop-color="#20ff00"/><stop offset="0.398" stop-color="#84ff00"/><stop offset="0.4776" stop-color="#d7ff00"/><stop offset="0.5214" stop-color="#ff0"/><stop offset="0.5572" stop-color="#ffe300"/><stop offset="0.6368" stop-color="#ffaf00"/><stop offset="0.7164" stop-color="#ff8b00"/><stop offset="0.796" stop-color="#ff7800"/><stop offset="0.8756" stop-color="#ff7500"/><stop offset="0.9552" stop-color="#ff8300"/><stop offset="1" stop-color="#ff9100"/></linearGradient><linearGradient id="g53"><stop offset="0" stop-color="#00f"/><stop offset="0.0796" stop-color="#0092ff"/><stop offset="0.1373" stop-color="#00feff"/><stop offset="0.1592" stop-color="#00ffd9"/><stop offset="0.2388" stop-color="#0f5"/><stop offset="0.296" stop-color="#0f0"/><stop offset="0.3184" stop-color="#1fff00"/><stop offset="0.398" stop-color="#82ff00"/><stop offset="0.4776" stop-color="#d6ff00"/><stop offset="0.5229" stop-color="#ff0"/><stop offset="0.5572" stop-color="#ffe400"/><stop offset="0.6368" stop-color="#ffb000"/><stop offset="0.7164" stop-color="#ff8d00"/><stop offset="0.796" stop-color="#ff7a00"/><stop offset="0.8756" stop-color="#f70"/><stop offset="0.9552" stop-color="#ff8400"/><stop offset="1" stop-color="#ff9300"/></linearGradient><linearGradient id="g54"><stop offset="0" stop-color="#00f"/><stop offset="0.0796" stop-color="#0091ff"/><stop offset="0.1378" stop-color="#0ff"/><stop offset="0.1592" stop-color="#00ffd9"/><stop offset="0.2388" stop-color="#00ff56"/><stop offset="0.2965" stop-color="#0f0"/><stop offset="0.3184" stop-color="#1eff00"/><stop offset="0.398" stop-color="#81ff00"/><stop offset="0.4776" stop-color="#d5ff00"/><stop offset="0.5244" stop-color="#ff0"/><stop offset="0.5572" stop-color="#ffe500"/><stop offset="0.6368" stop-color="#ffb200"/><stop offset="0.7164" stop-color="#ff8e00"/><stop offset="0.796" stop-color="#ff7b00"/><stop offset="0.8756" stop-color="#ff7900"/><stop offset="0.9552" stop-color="#ff8600"/><stop offset="1" stop-color="#ff9500"/></linearGradient><linearGradient id="g55"><stop offset="0" stop-color="#00f"/><stop offset="0.0796" stop-color="#0091ff"/><stop offset="0.1383" stop-color="#0ff"/><stop offset="0.1592" stop-color="#00ffda"/><stop offset="0.2388" stop-color="#00ff57"/><stop offset="0.297" stop-color="#00ff01"/><stop offset="0.3184" stop-color="#1dff00"/><stop offset="0.398" stop-color="#80ff00"/><stop offset="0.4776" stop-color="#d4ff00"/><stop offset="0.5259" stop-color="#ff0"/><stop offset="0.5572" stop-color="#ffe600"/><stop offset="0.6368" stop-color="#ffb300"/><stop offset="0.7164" stop-color="#ff9000"/><stop offset="0.796" stop-color="#ff7d00"/><stop offset="0.8756" stop-color="#ff7a00"/><stop offset="0.9552" stop-color="#f80"/><stop offset="1" stop-color="#ff9700"/></linearGradient><linearGradient id="g56"><stop offset="0" stop-color="#00f"/><stop offset="0.0796" stop-color="#0090ff"/><stop offset="0.1383" stop-color="#00feff"/><stop offset="0.1592" stop-color="#00ffdb"/><stop offset="0.2388" stop-color="#00ff57"/><stop offset="0.2975" stop-color="#00ff01"/><stop offset="0.3184" stop-color="#1cff00"/><stop offset="0.398" stop-color="#80ff00"/><stop offset="0.4776" stop-color="#d3ff00"/><stop offset="0.5269" stop-color="#ff0"/><stop offset="0.5572" stop-color="#ffe800"/><stop offset="0.6368" stop-color="#ffb400"/><stop offset="0.7164" stop-color="#ff9100"/><stop offset="0.796" stop-color="#ff7e00"/><stop offset="0.8756" stop-color="#ff7c00"/><stop offset="0.9552" stop-color="#ff8a00"/><stop offset="1" stop-color="#f90"/></linearGradient><linearGradient id="g57"><stop offset="0" stop-color="#00f"/><stop offset="0.0796" stop-color="#0090ff"/><stop offset="0.1388" stop-color="#0ff"/><stop offset="0.1592" stop-color="#00ffdb"/><stop offset="0.2388" stop-color="#00ff58"/><stop offset="0.298" stop-color="#00ff01"/><stop offset="0.3184" stop-color="#1bff00"/><stop offset="0.398" stop-color="#7fff00"/><stop offset="0.4776" stop-color="#d2ff00"/><stop offset="0.5284" stop-color="#ff0"/><stop offset="0.5572" stop-color="#ffe900"/><stop offset="0.6368" stop-color="#ffb500"/><stop offset="0.7164" stop-color="#ff9200"/><stop offset="0.796" stop-color="#ff8000"/><stop offset="0.8756" stop-color="#ff7d00"/><stop offset="0.9552" stop-color="#ff8b00"/><stop offset="1" stop-color="#ff9a00"/></linearGradient><linearGradient id="g58"><stop offset="0" stop-color="#00f"/><stop offset="0.0796" stop-color="#0090ff"/><stop offset="0.1388" stop-color="#00feff"/><stop offset="0.1592" stop-color="#00ffdc"/><stop offset="0.2388" stop-color="#00ff59"/><stop offset="0.299" stop-color="#0f0"/><stop offset="0.3184" stop-color="#1bff00"/><stop offset="0.398" stop-color="#7eff00"/><stop offset="0.4776" stop-color="#d1ff00"/><stop offset="0.5294" stop-color="#ff0"/><stop offset="0.5572" stop-color="#ffea00"/><stop offset="0.6368" stop-color="#ffb700"/><stop offset="0.7164" stop-color="#ff9400"/><stop offset="0.796" stop-color="#ff8100"/><stop offset="0.8756" stop-color="#ff7f00"/><stop offset="0.9552" stop-color="#ff8d00"/><stop offset="1" stop-color="#ff9c00"/></linearGradient><linearGradient id="g59"><stop offset="0" stop-color="#00f"/><stop offset="0.0796" stop-color="#008fff"/><stop offset="0.1393" stop-color="#0ff"/><stop offset="0.1592" stop-color="#00ffdc"/><stop offset="0.2388" stop-color="#00ff59"/><stop offset="0.299" stop-color="#00ff01"/><stop offset="0.3184" stop-color="#1aff00"/><stop offset="0.398" stop-color="#7dff00"/><stop offset="0.4776" stop-color="#d0ff00"/><stop offset="0.5308" stop-color="#ff0"/><stop offset="0.5572" stop-color="#ffeb00"/><stop offset="0.6368" stop-color="#ffb800"/><stop offset="0.7164" stop-color="#ff9500"/><stop offset="0.796" stop-color="#ff8200"/><stop offset="0.8756" stop-color="#ff8000"/><stop offset="0.9552" stop-color="#ff8e00"/><stop offset="1" stop-color="#ff9d00"/></linearGradient><linearGradient id="g60"><stop offset="0" stop-color="#00f"/><stop offset="0.0796" stop-color="#008fff"/><stop offset="0.1393" stop-color="#00feff"/><stop offset="0.1592" stop-color="#00ffdc"/><stop offset="0.2388" stop-color="#00ff5a"/><stop offset="0.2995" stop-color="#00ff01"/><stop offset="0.3184" stop-color="#19ff00"/><stop offset="0.398" stop-color="#7cff00"/><stop offset="0.4776" stop-color="#cfff00"/><stop offset="0.5318" stop-color="#ff0"/><stop offset="0.5572" stop-color="#ffec00"/><stop offset="0.6368" stop-color="#ffb900"/><stop offset="0.7164" stop-color="#ff9600"/><stop offset="0.796" stop-color="#ff8400"/><stop offset="0.8756" stop-color="#ff8100"/><stop offset="0.9552" stop-color="#ff9000"/><stop offset="1" stop-color="#ff9f00"/></linearGradient><linearGradient id="g61"><stop offset="0" stop-color="#00f"/><stop offset="0.0796" stop-color="#008fff"/><stop offset="0.1398" stop-color="#0ff"/><stop offset="0.1592" stop-color="#0fd"/><stop offset="0.2388" stop-color="#00ff5a"/><stop offset="0.3" stop-color="#0f0"/><stop offset="0.3184" stop-color="#19ff00"/><stop offset="0.398" stop-color="#7cff00"/><stop offset="0.4776" stop-color="#cfff00"/><stop offset="0.5328" stop-color="#ff0"/><stop offset="0.5572" stop-color="#ffed00"/><stop offset="0.6368" stop-color="#ffba00"/><stop offset="0.7164" stop-color="#ff9700"/><stop offset="0.796" stop-color="#ff8500"/><stop offset="0.8756" stop-color="#ff8300"/><stop offset="0.9552" stop-color="#ff9100"/><stop offset="1" stop-color="#ffa000"/></linearGradient><linearGradient id="g62"><stop offset="0" stop-color="#00f"/><stop offset="0.0796" stop-color="#008fff"/><stop offset="0.1398" stop-color="#0ff"/><stop offset="0.1592" stop-color="#0fd"/><stop offset="0.2388" stop-color="#00ff5b"/><stop offset="0.3005" stop-color="#0f0"/><stop offset="0.3184" stop-color="#18ff00"/><stop offset="0.398" stop-color="#7bff00"/><stop offset="0.4776" stop-color="#ceff00"/><stop offset="0.5338" stop-color="#ff0"/><stop offset="0.5572" stop-color="#ffed00"/><stop offset="0.6368" stop-color="#fb0"/><stop offset="0.7164" stop-color="#ff9800"/><stop offset="0.796" stop-color="#ff8600"/><stop offset="0.8756" stop-color="#ff8400"/><stop offset="0.9552" stop-color="#ff9200"/><stop offset="1" stop-color="#ffa200"/></linearGradient><linearGradient id="g63"><stop offset="0" stop-color="#00f"/><stop offset="0.0796" stop-color="#008eff"/><stop offset="0.1398" stop-color="#00feff"/><stop offset="0.1592" stop-color="#0fd"/><stop offset="0.2388" stop-color="#00ff5b"/><stop offset="0.301" stop-color="#0f0"/><stop offset="0.3184" stop-color="#18ff00"/><stop offset="0.398" stop-color="#7aff00"/><stop offset="0.4776" stop-color="#cdff00"/><stop offset="0.5348" stop-color="#ff0"/><stop offset="0.5572" stop-color="#fe0"/><stop offset="0.6368" stop-color="#ffbc00"/><stop offset="0.7164" stop-color="#f90"/><stop offset="0.796" stop-color="#ff8700"/><stop offset="0.8756" stop-color="#ff8500"/><stop offset="0.9552" stop-color="#ff9400"/><stop offset="1" stop-color="#ffa300"/></linearGradient><linearGradient id="g64"><stop offset="0" stop-color="#00f"/><stop offset="0.0796" stop-color="#008eff"/><stop offset="0.1398" stop-color="#00feff"/><stop offset="0.1592" stop-color="#00ffde"/><stop offset="0.2388" stop-color="#00ff5b"/><stop offset="0.301" stop-color="#0f0"/><stop offset="0.3184" stop-color="#17ff00"/><stop offset="0.398" stop-color="#7aff00"/><stop offset="0.4776" stop-color="#cf0"/><stop offset="0.5358" stop-color="#ff0"/><stop offset="0.5572" stop-color="#ffef00"/><stop offset="0.6368" stop-color="#ffbd00"/><stop offset="0.7164" stop-color="#ff9a00"/><stop offset="0.796" stop-color="#f80"/><stop offset="0.8756" stop-color="#ff8600"/><stop offset="0.9552" stop-color="#ff9500"/><stop offset="1" stop-color="#ffa400"/></linearGradient><linearGradient id="g65"><stop offset="0" stop-color="#00f"/><stop offset="0.0796" stop-color="#008eff"/><stop offset="0.1403" stop-color="#0ff"/><stop offset="0.1592" stop-color="#00ffde"/><stop offset="0.2388" stop-color="#00ff5c"/><stop offset="0.3015" stop-color="#0f0"/><stop offset="0.3184" stop-color="#17ff00"/><stop offset="0.398" stop-color="#79ff00"/><stop offset="0.4776" stop-color="#cf0"/><stop offset="0.5368" stop-color="#ff0"/><stop offset="0.5572" stop-color="#fff000"/><stop offset="0.6368" stop-color="#ffbd00"/><stop offset="0.7164" stop-color="#ff9b00"/><stop offset="0.796" stop-color="#ff8900"/><stop offset="0.8756" stop-color="#f80"/><stop offset="0.9552" stop-color="#ff9600"/><stop offset="1" stop-color="#ffa600"/></linearGradient><linearGradient id="g66"><stop offset="0" stop-color="#00f"/><stop offset="0.0796" stop-color="#008eff"/><stop offset="0.1403" stop-color="#0ff"/><stop offset="0.1592" stop-color="#00ffde"/><stop offset="0.2388" stop-color="#00ff5c"/><stop offset="0.3015" stop-color="#0f0"/><stop offset="0.3184" stop-color="#17ff00"/><stop offset="0.398" stop-color="#79ff00"/><stop offset="0.4776" stop-color="#cbff00"/><stop offset="0.5378" stop-color="#ff0"/><stop offset="0.5572" stop-color="#fff000"/><stop offset="0.6368" stop-color="#ffbe00"/><stop offset="0.7164" stop-color="#ff9c00"/><stop offset="0.796" stop-color="#ff8a00"/><stop offset="0.8756" stop-color="#ff8900"/><stop offset="0.9552" stop-color="#ff9700"/><stop offset="1" stop-color="#ffa700"/></linearGradient><linearGradient id="g67"><stop offset="0" stop-color="#00f"/><stop offset="0.0796" stop-color="#008eff"/><stop offset="0.1403" stop-color="#0ff"/><stop offset="0.1592" stop-color="#00ffde"/><stop offset="0.2388" stop-color="#00ff5c"/><stop offset="0.3015" stop-color="#00ff01"/><stop offset="0.3184" stop-color="#16ff00"/><stop offset="0.398" stop-color="#79ff00"/><stop offset="0.4776" stop-color="#cbff00"/><stop offset="0.5383" stop-color="#ff0"/><stop offset="0.5572" stop-color="#fff100"/><stop offset="0.6368" stop-color="#ffbf00"/><stop offset="0.7164" stop-color="#ff9d00"/><stop offset="0.796" stop-color="#ff8b00"/><stop offset="0.8756" stop-color="#ff8900"/><stop offset="0.9552" stop-color="#ff9800"/><stop offset="1" stop-color="#ffa800"/></linearGradient></defs>
<g><rect x="61" y="11.5" width="201" height="3.5" fill="url(#g0)"/><rect x="61" y="14.5" width="201" height="3.5" fill="url(#g1)"/><rect x="61" y="17.5" width="201" height="3.5" fill="url(#g2)"/><rect x="61" y="20.5" width="201" height="3.5" fill="url(#g3)"/><rect x="61" y="23.5" width="201" height="3.5" fill="url(#g4)"/><rect x="61" y="26.5" width="201" height="3.5" fill="url(#g5)"/><rect x="61" y="29.5" width="201" height="3.5" fill="url(#g6)"/><rect x="61" y="32.5" width="201" height="3.5" fill="url(#g7)"/><rect x="61" y="35.5" width="201" height="3.5" fill="url(#g8)"/><rect x="61" y="38.5" width="201" height="3.5" fill="url(#g9)"/><rect x="61" y="41.5" width="201" height="3.5" fill="url(#g10)"/><rect x="61" y="44.5" width="201" height="3.5" fill="url(#g11)"/><rect x="61" y="47.5" width="201" height="3.5" fill="url(#g12)"/><rect x="61" y="50.5" width="201" height="3.5" fill="url(#g13)"/><rect x="61" y="53.5" width="201" height="3.5" fill="url(#g14)"/><rect x="61" y="56.5" width="201" height="3.5" fill="url(#g15)"/><rect x="61" y="59.5" width="201" height="3.5" fill="url(#g16)"/><rect x="61" y="62.5" width="201" height="3.5" fill="url(#g17)"/><rect x="61" y="65.5" width="201" height="3.5" fill="url(#g18)"/><rect x="61" y="68.5" width="201" height="3.5" fill="url(#g19)"/><rect x="61" y="71.5" width="201" height="3.5" fill="url(#g20)"/><rect x="61" y="74.5" width="201" height="3.5" fill="url(#g21)"/><rect x="61" y="77.5" width="201" height="3.5" fill="url(#g22)"/><rect x="61" y="80.5" width="201" height="3.5" fill="url(#g23)"/><rect x="61" y="83.5" width="201" height="3.5" fill="url(#g24)"/><rect x="61" y="86.5" width="201" height="3.5" fill="url(#g25)"/><rect x="61" y="89.5" width="201" height="3.5" fill="url(#g26)"/><rect x="61" y="92.5" width="201" height="3.5" fill="url(#g27)"/><rect x="61" y="95.5" width="201" height="3.5" fill="url(#g28)"/><rect x="61" y="98.5" width="201" height="3.5" fill="url(#g29)"/><rect x="61" y="101.5" width="201" height="3.5" fill="url(#g30)"/><rect x="61" y="104.5" width="201" height="3.5" fill="url(#g31)"/><rect x="61" y="107.5" width="201" height="3.5" fill="url(#g32)"/><rect x="61" y="110.5" width="201" height="3.5" fill="url(#g33)"/><rect x="61" y="113.5" width="201" height="3.5" fill="url(#g34)"/><rect x="61" y="116.5" width="201" height="3.5" fill="url(#g35)"/><rect x="61" y="119.5" width="201" height="3.5" fill="url(#g36)"/><rect x="61" y="122.5" width="201" height="3.5" fill="url(#g37)"/><rect x="61" y="125.5" width="201" height="3.5" fill="url(#g38)"/><rect x="61" y="128.5" width="201" height="3.5" fill="url(#g39)"/><rect x="61" y="131.5" width="201" height="3.5" fill="url(#g40)"/><rect x="61" y="134.5" width="201" height="3.5" fill="url(#g41)"/><rect x="61" y="137.5" width="201" height="3.5" fill="url(#g42)"/><rect x="61" y="140.5" width="201" height="3.5" fill="url(#g43)"/><rect x="61" y="143.5" width="201" height="3.5" fill="url(#g44)"/><rect x="61" y="146.5" width="201" height="3.5" fill="url(#g45)"/><rect x="61" y="149.5" width="201" height="3.5" fill="url(#g46)"/><rect x="61" y="152.5" width="201" height="3.5" fill="url(#g47)"/><rect x="61" y="155.5" width="201" height="3.5" fill="url(#g48)"/><rect x="61" y="158.5" width="201" height="3.5" fill="url(#g49)"/><rect x="61" y="161.5" width="201" height="3.5" fill="url(#g50)"/><rect x="61" y="164.5" width="201" height="3.5" fill="url(#g51)"/><rect x="61" y="167.5" width="201" height="3.5" fill="url(#g52)"/><rect x="61" y="170.5" width="201" height="3.5" fill="url(#g53)"/><rect x="61" y="173.5" width="201" height="3.5" fill="url(#g54)"/><rect x="61" y="176.5" width="201" height="3.5" fill="url(#g55)"/><rect x="61" y="179.5" width="201" height="3.5" fill="url(#g56)"/><rect x="61" y="182.5" width="201" height="3.5" fill="url(#g57)"/><rect x="61" y="185.5" width="201" height="3.5" fill="url(#g58)"/><rect x="61" y="188.5" width="201" height="3.5" fill="url(#g59)"/><rect x="61" y="191.5" width="201" height="3.5" fill="url(#g60)"/><rect x="61" y="194.5" width="201" height="3.5" fill="url(#g61)"/><rect x="61" y="197.5" width="201" height="3.5" fill="url(#g62)"/><rect x="61" y="200.5" width="201" height="3.5" fill="url(#g63)"/><rect x="61" y="203.5" width="201" height="3.5" fill="url(#g64)"/><rect x="61" y="206.5" width="201" height="3.5" fill="url(#g65)"/><rect x="61" y="209.5" width="201" height="3.5" fill="url(#g66)"/><rect x="61" y="212.5" width="201" height="2" fill="url(#g67)"/></g>
<path d="M73.3,214.5 73.3,210.5 73.3,206.5 73.3,202.5 73.3,198.5 73.3,194.5 73.3,190.5 73.2,186.5 73.2,182.5 73.1,178.5 73,174.5 73,171.5 72.9,167.5 72.8,163.5 72.7,159.5 72.6,155.5 72.5,151.5 72.3,147.5 72.2,143.5 72.1,139.5 72,136.5 71.8,132.5 71.6,128.5 71.5,124.5 71.3,120.5 71.1,116.5 71,113.5 70.8,109.5 70.6,105.5 70.4,101.5 70.1,97.5 70,94.5 69.7,90.5 69.5,86.5 69.2,82.5 69,78.9 68.8,75.5 68.5,71.5 68.2,67.5 68,64.3 67.7,60.5 67.4,56.5 67.1,52.5 66.9,49.5 66.6,45.5 66.3,41.5 66,38.3 65.7,34.5 65.3,30.5 65,26.6 64.7,23.5 64.4,19.5 64,15.5 63.7,12.5 63.6,11.5M89.7,214.5 89.6,210.5 89.6,206.5 89.6,202.5 89.6,198.5 89.5,194.5 89.5,190.5 89.4,186.5 89.3,182.5 89.2,178.5 89.1,174.5 89,170.5 89,167.5 88.8,163.5 88.7,159.5 88.6,155.5 88.4,151.5 88.3,147.5 88.1,143.5 88,140.5 87.8,136.5 87.6,132.5 87.4,128.5 87.2,124.5 87,120.5 86.8,117.5 86.6,113.5 86.4,109.5 86.1,105.5 85.9,102.5 85.7,98.5 85.4,94.5 85.1,90.5 84.9,87.5 84.6,83.5 84.3,79.5 84,75.5 83.8,72.5 83.5,68.5 83.2,64.5 82.9,61.5 82.6,57.5 82.2,53.5 82,50.5 81.6,46.5 81.2,42.5 81,39.5 80.6,35.5 80.2,31.5 79.9,28.5 79.5,24.5 79.1,20.5 78.8,17.5 78.4,13.5 78.2,11.5M108.1,214.5 108.1,210.5 108,206.5 108,203.5 107.9,199.5 107.8,195.5 107.8,191.5 107.7,187.5 107.6,183.5 107.5,179.5 107.3,175.5 107.2,171.5 107,167.5 106.9,164.5 106.8,160.5 106.6,156.5 106.4,152.5 106.2,148.5 106,144.5 105.8,141.5 105.6,137.5 105.4,133.5 105.2,129.5 105,126.5 104.7,122.5 104.4,118.5 104.2,114.5 104,111.5 103.7,107.5 103.4,103.5 103,99.5 102.8,96.5 102.5,92.5 102.1,88.5 101.9,85.5 101.5,81.5 101.2,77.5 100.9,74.5 100.5,70.5 100.2,66.5 99.9,63.5 99.5,59.5 99.1,55.5 98.8,52.5 98.4,48.5 98,45.2 97.6,41.5 97.2,37.5 96.8,34.5 96.4,30.5 96,27.1 95.6,23.5 95.1,19.5 94.8,16.5 94.3,12.5 94.2,11.5M129.8,214.5 129.7,210.5 129.6,206.5 129.5,202.5 129.4,198.5 129.3,194.5 129.2,190.5 129,186.5 128.9,183.5 128.8,179.5 128.6,175.5 128.4,171.5 128.2,167.5 128,164.3 127.8,160.5 127.6,156.5 127.3,152.5 127,148.5 126.8,145.5 126.6,141.5 126.3,137.5 126,134.1 125.7,130.5 125.4,126.5 125.1,122.5 124.8,119.5 124.5,115.5 124.1,111.5 123.8,108.5 123.4,104.5 123,100.5 122.8,97.5 122.3,93.5 122,90.2 121.6,86.5 121.2,82.5 120.8,79.5 120.4,75.5 120,72 119.6,68.5 119.1,64.5 118.8,61.5 118.3,57.5 117.9,54.5 117.4,50.5 117,47.3 116.5,43.5 116,39.6 115.6,36.5 115.1,32.5 114.6,29.5 114.1,25.5 113.7,22.5 113.1,18.5 112.7,15.5 112.1,11.5M157.6,214.5 157.5,210.5 157.3,206.5 157.1,202.5 157,199.5 156.8,195.5 156.5,191.5 156.3,187.5 156,183.5 155.8,180.5 155.5,176.5 155.2,172.5 155,169.5 154.6,165.5 154.3,161.5 154,158.2 153.7,154.5 153.3,150.5 153,147.5 152.6,143.5 152.1,139.5 151.8,136.5 151.4,132.5 151,129.4 150.5,125.5 150.1,121.5 149.7,118.5 149.2,114.5 148.8,111.5 148.3,107.5 147.9,104.5 147.4,100.5 146.9,97.5 146.4,93.5 146,90.5 145.4,86.5 145,83.5 144.4,79.5 143.9,76.5 143.3,72.5 142.8,69.5 142.2,65.5 141.8,62.5 141.1,58.5 140.6,55.5 140,51.6 139.5,48.5 139,45.5 138.3,41.5 137.8,38.5 137.1,34.5 136.6,31.5 136,27.9 135.4,24.5 134.9,21.5 134.2,17.5 133.6,14.5 133.1,11.5M262,180.4 261.1,183.5 260.3,186.5 259.4,189.5 258.6,192.5 257.7,195.5 256.9,198.5 256,201.8 255,205.5 254.2,208.5 253.4,211.5 252.7,214.5M208.1,214.5 207.5,211.5 206.9,208.5 206.1,204.5 205.5,201.5 204.9,198.5 204.1,194.5 203.4,191.5 202.8,188.5 202,185.1 201.2,181.5 200.5,178.5 199.9,175.5 199,171.8 198.2,168.5 197.6,165.5 196.8,162.5 196,158.9 195.2,155.5 194.5,152.5 193.8,149.5 193,146.3 192.1,142.5 191.4,139.5 190.6,136.5 189.9,133.5 189,129.7 188.2,126.5 187.5,123.5 186.7,120.5 186,117.5 185,113.5 184.3,110.5 183.5,107.5 182.8,104.5 182,101.3 181.1,97.5 180.3,94.5 179.6,91.5 178.8,88.5 178,85.2 177.1,81.5 176.3,78.5 175.6,75.5 174.8,72.5 174,69.3 173.1,65.5 172.3,62.5 171.5,59.5 170.8,56.5 170,53.4 169,49.5 168.3,46.5 167.5,43.5 166.8,40.5 166,37.5 165,33.6 164.2,30.5 163.5,27.5 162.7,24.5 161.9,21.5 161,17.8 160.2,14.5 159.4,11.5M262,102.3 260.8,104.5 259,107.5 257.8,109.5 256,112.4 254.6,114.5 253,116.8 251,119.4 249.3,121.5 247.5,123.5 245.5,125.5 243.2,127.5 241,129.1 238.2,130.5 235,131.4 232.4,131.5 229,130.8 226.2,129.5 224,128 222,126.3 220,124.3 218,122 216.1,119.5 214.8,117.5 213,114.8 211.6,112.5 210,109.6 208.8,107.5 207.3,104.5 206,101.9 204.9,99.5 203.5,96.5 202.1,93.5 201,91 200,88.5 198.7,85.5 197.5,82.5 196.3,79.5 195.1,76.5 194,73.6 193,71 192,68.3 191,65.5 189.9,62.5 188.8,59.5 187.7,56.5 186.7,53.5 185.6,50.5 184.6,47.5 183.6,44.5 182.6,41.5 181.6,38.5 180.6,35.5 179.6,32.5 178.6,29.5 177.6,26.5 176.7,23.5 175.7,20.5 174.8,17.5 173.8,14.5 172.9,11.5M262,26.4 260.1,28.5 258.2,30.5 256.1,32.5 254,34.4 252,35.9 249.8,37.5 247,39.1 244,40.5 241,41.4 238,41.9 234,41.9 231,41.3 228,40.3 225,38.8 223,37.5 220.3,35.5 218,33.5 216,31.5 214.1,29.5 212.4,27.5 210.8,25.5 209,23.2 207.1,20.5 205.8,18.5 204,15.8 202.6,13.5 201.4,11.5" fill="none" stroke="#1a1a1a" stroke-opacity=".7" stroke-width=".5"/>
<g stroke="#b0b0b0" stroke-width="1" shape-rendering="crispEdges">
<line x1="55" y1="11.5" x2="61" y2="11.5"/>
<line x1="55" y1="113" x2="61" y2="113"/>
<line x1="55" y1="214.5" x2="61" y2="214.5"/>
<line x1="61" y1="214.5" x2="61" y2="220.5"/>
<line x1="161.5" y1="214.5" x2="161.5" y2="220.5"/>
<line x1="262" y1="214.5" x2="262" y2="220.5"/>
</g>
<g font-family="'Liberation Sans',sans-serif" font-size="6.3" text-anchor="middle" fill="#222">
<rect x="68" y="101" width="6" height="7" fill="#fff" stroke="#555" stroke-width=".5"/>
<text x="71" y="106.8">5</text>
<rect x="81.6" y="103.5" width="10" height="6.6" fill="#fff" stroke="#555" stroke-width=".5"/>
<text x="86.6" y="109">10</text>
<rect x="99.3" y="100.7" width="9.4" height="7.2" fill="#fff" stroke="#555" stroke-width=".5"/>
<text x="104" y="106.5">15</text>
<rect x="119" y="101" width="10" height="7" fill="#fff" stroke="#555" stroke-width=".5"/>
<text x="124" y="106.8">20</text>
<rect x="144" y="102.5" width="10" height="7" fill="#fff" stroke="#555" stroke-width=".5"/>
<text x="149" y="108.2">25</text>
<rect x="180" y="103" width="9" height="7" fill="#fff" stroke="#555" stroke-width=".5"/>
<text x="184.5" y="108.8">30</text>
<rect x="199.9" y="88.7" width="8.8" height="7.2" fill="#fff" stroke="#555" stroke-width=".5"/>
<text x="204.3" y="94.5">32</text>
<rect x="222.3" y="32" width="8.8" height="7" fill="#fff" stroke="#555" stroke-width=".5"/>
<text x="226.7" y="37.8">35</text>
<rect x="252.3" y="192" width="8.4" height="7" fill="#fff" stroke="#555" stroke-width=".5"/>
<text x="256.5" y="197.8">30</text>
</g>
<g font-family="'Liberation Sans',sans-serif" font-size="6.2" fill="#333" stroke="#333" stroke-width=".15">
<text x="53.2" y="13.3" text-anchor="end">90</text>
<text x="53.2" y="114.8" text-anchor="end">75</text>
<text x="53.2" y="216.3" text-anchor="end">60</text>
<text x="61" y="226.9" text-anchor="middle">0.0</text>
<text x="161.5" y="226.9" text-anchor="middle">0.1</text>
<text x="262" y="226.9" text-anchor="middle">0.2</text>
</g>
<path d="M234.1,8.1L241.1,15.1M234.1,15.1L241.1,8.1" stroke="#000" stroke-width="3.1" fill="none"/>
<g font-family="'Liberation Serif',serif" font-size="13.6" fill="#111" stroke="#111" stroke-width=".2"><text x="6.2" y="20.6">(A)</text><text x="276.8" y="20.6">(B)</text></g>
<g font-family="'Liberation Sans','Noto Sans CJK SC',sans-serif" font-size="12" fill="#1a1a1a">
<text transform="translate(30,159.3) rotate(-90)" font-size="12.4">Temperature (<tspan dx=".5">℃</tspan><tspan dx=".5">)</tspan></text>
<text x="132.9" y="259.3" font-size="12.5">NaOH (M)</text>
<text transform="translate(300.2,145.6) rotate(-90)" font-size="12.5">SD (%)</text>
</g>
<polygon points="332.6,191.8 430.7,239.3 528.5,191.8 430.5,154.3" fill="#ffff00" stroke="#3a3a3a" stroke-width=".6"/>
<path d="M437.8,235.5 434.5,233.9 431.2,232.4 428,230.9 424.7,229.3 421.5,227.8 418.3,226.4 415.4,225 412.4,223.7 409.2,222.3 406.1,220.8 402.9,219.4 399.8,218.1 396.7,216.7 394.1,215.5 391,214.2 387.9,212.9 384.8,211.5 382.3,210.5 379.2,209.2 376.2,207.9 373.7,206.8 370.6,205.6 367.6,204.3 365.2,203.3 362.2,202.1 359.6,201 356.7,199.9 353.8,198.7 351.4,197.7 348.4,196.5 346,195.6 343.1,194.4 340.7,193.5 337.8,192.3 335.4,191.4 334,190.8" fill="none" stroke="#006bff" stroke-width=".5" stroke-opacity=".85"/>
<path d="M446.6,231.2 443.3,229.7 440,228.2 436.7,226.7 433.5,225.2 430.2,223.8 427,222.3 423.8,220.9 421.1,219.7 417.9,218.3 414.7,217 411.5,215.6 408.4,214.3 405.8,213.1 402.6,211.8 399.5,210.5 396.4,209.2 393.8,208.2 390.7,206.9 387.6,205.6 385.1,204.6 382,203.4 379.5,202.3 376.4,201.1 373.4,199.9 370.9,198.9 367.9,197.8 365.4,196.8 362.4,195.6 359.9,194.7 357,193.6 354.5,192.6 351.6,191.5 349.1,190.6 346.2,189.5 343.8,188.6 341.8,187.9" fill="none" stroke="#00fffb" stroke-width=".5" stroke-opacity=".85"/>
<path d="M456.3,226.5 453,225 450.2,223.8 446.9,222.4 443.7,220.9 440.4,219.5 437.1,218.1 433.9,216.8 430.6,215.4 427.9,214.3 424.7,212.9 421.5,211.6 418.3,210.3 415.7,209.2 412.5,208 409.3,206.7 406.7,205.6 403.6,204.4 401,203.4 397.8,202.2 394.7,201 392.2,200 389.1,198.8 386.5,197.8 383.4,196.7 380.9,195.7 377.8,194.6 375.3,193.6 372.3,192.5 369.7,191.6 367.1,190.6 364.2,189.6 361.7,188.7 358.7,187.6 356.3,186.7 353.8,185.9 350.8,184.8 350.3,184.6" fill="none" stroke="#00ff63" stroke-width=".5" stroke-opacity=".85"/>
<path d="M467.4,221.1 464.1,219.7 460.8,218.3 457.4,216.9 454.1,215.5 451.3,214.4 448.1,213.1 444.8,211.7 441.5,210.4 438.8,209.4 435.5,208.1 432.3,206.8 429.6,205.8 426.3,204.5 423.4,203.4 420.4,202.3 417.2,201.1 414.6,200.1 411.4,199 408.7,198 405.6,196.8 402.9,195.9 400.1,194.9 397.2,193.8 394.5,192.9 391.4,191.8 388.8,190.9 386.2,190 383.1,189 380.5,188.1 377.9,187.2 374.9,186.2 372.3,185.3 369.8,184.4 366.8,183.4 364.2,182.6 361.7,181.8 359.7,181.1" fill="none" stroke="#35ff00" stroke-width=".5" stroke-opacity=".85"/>
<path d="M481.2,214.4 477.8,213.1 474.4,211.7 471.6,210.7 468.2,209.4 464.9,208.1 462.1,207 458.7,205.8 455.9,204.8 452.5,203.6 449.6,202.5 446.4,201.4 443.6,200.4 440.3,199.3 437.5,198.3 434.2,197.2 431.5,196.2 428.7,195.3 425.4,194.2 422.7,193.3 420,192.4 416.7,191.4 414,190.5 411.3,189.6 408.6,188.8 405.3,187.7 402.6,186.9 399.9,186 397.3,185.2 394.6,184.4 391.5,183.4 388.7,182.6 386.1,181.8 383.4,181 380.8,180.2 378.2,179.4 375.6,178.6 372.9,177.8 370.3,177.1" fill="none" stroke="#ceff00" stroke-width=".5" stroke-opacity=".85"/>
<path d="M510.6,184.5 512.2,185.5 514.3,186.8 516.3,188.1 518,189.1 520,190.4 522.2,191.7 524.2,192.9 524.8,193.3M505,202.9 501.8,202 498.7,201.1 495.5,200.3 492.3,199.4 489.3,198.6 486.4,197.8 483.5,197.1 480.4,196.3 477.3,195.5 474.1,194.7 471,193.9 467.9,193.1 464.8,192.3 462.2,191.6 459.3,190.9 456.2,190.1 453.2,189.4 450.1,188.6 447.1,187.9 444.7,187.2 441.7,186.5 438.7,185.8 435.7,185 432.7,184.3 430.2,183.6 427.4,183 424.4,182.2 421.5,181.5 418.6,180.8 416.1,180.2 413.4,179.5 410.5,178.8 407.6,178.1 404.7,177.4 402.4,176.8 399.6,176.1 396.8,175.4 394,174.7 391.2,174.1 388.9,173.5 386.1,172.8 383.4,172.1" fill="none" stroke="#ff9800" stroke-width=".5" stroke-opacity=".85"/>
<path d="M471.7,169.8 472.5,170.8 473.3,171.9 474.1,173.1 474.7,174.1 475.3,175.3 475.6,176.4 475.7,177.5 475.5,178.7 474.6,179.8 472.8,180.8 470.3,181.4 467.4,181.8 464.7,181.8 461.7,181.8 458.8,181.6 455.9,181.4 453.4,181.1 450.5,180.8 447.6,180.4 444.8,180 442,179.6 439,179.1 436,178.6 433.4,178.2 430.8,177.7 427.6,177.2 425,176.7 422.5,176.2 419.3,175.6 416.8,175.1 413.8,174.6 411.3,174.1 408.4,173.5 405.8,173 403,172.4 400.4,171.9 397.5,171.3 395.1,170.8 392.2,170.2 389.9,169.7" fill="none" stroke="#ff5b00" stroke-width=".5" stroke-opacity=".85"/>
<path d="M437,156.7 437.1,157.7 437.1,158.7 436.9,159.7 436.5,160.6 435.8,161.7 434.4,162.8 432.5,163.8 429.9,164.6 427,165.1 424.6,165.3 421.5,165.5 418.8,165.5 416.2,165.5 413.7,165.4 410.8,165.2 408.4,165 405.5,164.8 403.3,164.6" fill="none" stroke="#f00" stroke-width=".5" stroke-opacity=".85"/>
<g stroke="#5a5a5a" stroke-width=".6" fill="none">
<path d="M326.3,56.5L332.6,191.8M430.6,32.7L430.5,154.3M535,56.5L528.5,191.8"/>
<path d="M331.1,159L430.5,124.8L530.1,159"/>
<path d="M329.9,133.4L430.5,101.8L531.3,133.4"/>
<path d="M328.7,107.8L430.6,78.8L532.5,107.8"/>
<path d="M327.5,82.1L430.6,55.7L533.8,82.1"/>
<path d="M326.3,56.5L430.6,32.7L535,56.5"/>
<path d="M378.5,44.6L380.8,141.9M482.8,44.6L480.3,141.9"/>
</g>
<g fill="#222">
<circle cx="331.1" cy="159" r=".9"/>
<circle cx="329.9" cy="133.4" r=".9"/>
<circle cx="328.7" cy="107.8" r=".9"/>
<circle cx="327.5" cy="82.1" r=".9"/>
<circle cx="326.3" cy="56.5" r=".9"/>
<circle cx="332.6" cy="191.8" r=".9"/>
<circle cx="381.6" cy="215.6" r=".9"/>
<circle cx="430.7" cy="239.3" r=".9"/>
<circle cx="479.6" cy="215.6" r=".9"/>
<circle cx="528.5" cy="191.8" r=".9"/>
</g>
<g stroke-width=".5" stroke-linejoin="round"><path fill="#c70000" stroke="#c70000" d="M430.8,45.1l3.7,-.1-3.7,-1.8-3.7,0z"/><path fill="#c60000" stroke="#c60000" d="M434.5,46.9l3.7,0-3.7,-1.9-3.7,.1z"/><path fill="#c00" stroke="#c00" d="M427.1,45.4l3.7,-.3-3.7,-1.9-3.7,.4z"/><path fill="#c60000" stroke="#c60000" d="M438.3,48.7l3.6,0-3.7,-1.8-3.7,0z"/><path fill="#cb0000" stroke="#cb0000" d="M430.8,47.2l3.7,-.3-3.7,-1.8-3.7,.3z"/><path fill="#d10000" stroke="#d10000" d="M423.3,46.1l3.8,-.7-3.7,-1.8-3.8,.7z"/><path fill="#c50000" stroke="#c50000" d="M442.1,50.5l3.6,-.1-3.8,-1.7-3.6,0z"/><path fill="#cb0000" stroke="#cb0000" d="M434.6,49l3.7,-.3-3.8,-1.8-3.7,.3z"/><path fill="#d00000" stroke="#d00000" d="M427.1,47.9l3.7,-.7-3.7,-1.8-3.8,.7z"/><path fill="#d60000" stroke="#d60000" d="M419.6,47.1l3.7,-1-3.7,-1.8-3.8,1z"/><path fill="#c40600" stroke="#c40600" d="M445.9,52.2l3.7,0-3.9,-1.8-3.6,.1z"/><path fill="#ca0000" stroke="#ca0000" d="M438.4,50.8l3.7,-.3-3.8,-1.8-3.7,.3z"/><path fill="#d00000" stroke="#d00000" d="M430.8,49.7l3.8,-.7-3.8,-1.8-3.7,.7z"/><path fill="#d50000" stroke="#d50000" d="M423.3,49l3.8,-1.1-3.8,-1.8-3.7,1z"/><path fill="#da0000" stroke="#da0000" d="M415.7,48.5l3.9,-1.4-3.8,-1.8-3.8,1.4z"/><path fill="#c40e00" stroke="#c40e00" d="M449.8,54l3.6,0-3.8,-1.8-3.7,0z"/><path fill="#ca0000" stroke="#ca0000" d="M442.2,52.6l3.7,-.4-3.8,-1.7-3.7,.3z"/><path fill="#cf0000" stroke="#cf0000" d="M434.6,51.5l3.8,-.7-3.8,-1.8-3.8,.7z"/><path fill="#d50000" stroke="#d50000" d="M427,50.8l3.8,-1.1-3.7,-1.8-3.8,1.1z"/><path fill="#da0000" stroke="#da0000" d="M419.5,50.3l3.8,-1.3-3.7,-1.9-3.9,1.4z"/><path fill="#df0000" stroke="#df0000" d="M411.9,50.3l3.8,-1.8-3.7,-1.8-3.8,1.7z"/><path fill="#c31500" stroke="#c31500" d="M453.6,55.7l3.7,0-3.9,-1.7-3.6,0z"/><path fill="#c90700" stroke="#c90700" d="M446.1,54.4l3.7,-.4-3.9,-1.8-3.7,.4z"/><path fill="#cf0000" stroke="#cf0000" d="M438.5,53.3l3.7,-.7-3.8,-1.8-3.8,.7z"/><path fill="#d40000" stroke="#d40000" d="M430.8,52.6l3.8,-1.1-3.8,-1.8-3.8,1.1z"/><path fill="#d90000" stroke="#d90000" d="M423.2,52.2l3.8,-1.4-3.7,-1.8-3.8,1.3z"/><path fill="#de0000" stroke="#de0000" d="M415.6,52.1l3.9,-1.8-3.8,-1.8-3.8,1.8z"/><path fill="#e30000" stroke="#e30000" d="M408,52.3l3.9,-2-3.7,-1.9-3.9,2.1z"/><path fill="#c31d00" stroke="#c31d00" d="M457.6,57.5l3.6,0-3.9,-1.8-3.7,0z"/><path fill="#c80f00" stroke="#c80f00" d="M450,56.1l3.6,-.4-3.8,-1.7-3.7,.4z"/><path fill="#ce0200" stroke="#ce0200" d="M442.3,55l3.8,-.6-3.9,-1.8-3.7,.7z"/><path fill="#d40000" stroke="#d40000" d="M434.7,54.3l3.8,-1-3.9,-1.8-3.8,1.1z"/><path fill="#d90000" stroke="#d90000" d="M427,53.9l3.8,-1.3-3.8,-1.8-3.8,1.4z"/><path fill="#e70000" stroke="#e70000" d="M404.1,54.8l3.9,-2.5-3.7,-1.8-3.9,2.4z"/><path fill="#de0000" stroke="#de0000" d="M419.4,53.9l3.8,-1.7-3.7,-1.9-3.9,1.8z"/><path fill="#e20000" stroke="#e20000" d="M411.7,54.2l3.9,-2.1-3.7,-1.8-3.9,2z"/><path fill="#c22400" stroke="#c22400" d="M461.5,59.2l3.7,0-4,-1.7-3.6,0z"/><path fill="#c81600" stroke="#c81600" d="M453.9,57.8l3.7,-.3-4,-1.8-3.6,.4z"/><path fill="#ce0a00" stroke="#ce0a00" d="M446.2,56.8l3.8,-.7-3.9,-1.7-3.8,.6z"/><path fill="#d30200" stroke="#d30200" d="M438.5,56.1l3.8,-1.1-3.8,-1.7-3.8,1z"/><path fill="#ea0900" stroke="#ea0900" d="M400.1,57.6l4,-2.8-3.7,-1.9-3.9,2.8z"/><path fill="#d80000" stroke="#d80000" d="M430.9,55.7l3.8,-1.4-3.9,-1.7-3.8,1.3z"/><path fill="#e60000" stroke="#e60000" d="M407.8,56.6l3.9,-2.4-3.7,-1.9-3.9,2.5z"/><path fill="#d00" stroke="#d00" d="M423.2,55.7l3.8,-1.8-3.8,-1.7-3.8,1.7z"/><path fill="#e20000" stroke="#e20000" d="M415.5,56l3.9,-2.1-3.8,-1.8-3.9,2.1z"/><path fill="#c22a00" stroke="#c22a00" d="M465.5,60.9l3.7,0-4,-1.7-3.7,0z"/><path fill="#c71d00" stroke="#c71d00" d="M457.8,59.5l3.7,-.3-3.9,-1.7-3.7,.3z"/><path fill="#cd1200" stroke="#cd1200" d="M450.2,58.5l3.7,-.7-3.9,-1.7-3.8,.7z"/><path fill="#ed2000" stroke="#ed2000" d="M396.2,60.7l3.9,-3.1-3.6,-1.9-4,3.2z"/><path fill="#d20a00" stroke="#d20a00" d="M442.4,57.8l3.8,-1-3.9,-1.8-3.8,1.1z"/><path fill="#e91300" stroke="#e91300" d="M403.9,59.4l3.9,-2.8-3.7,-1.8-4,2.8z"/><path fill="#d80400" stroke="#d80400" d="M434.7,57.5l3.8,-1.4-3.8,-1.8-3.8,1.4z"/><path fill="#e60a00" stroke="#e60a00" d="M411.6,58.4l3.9,-2.4-3.8,-1.8-3.9,2.4z"/><path fill="#dd0300" stroke="#dd0300" d="M427,57.5l3.9,-1.8-3.9,-1.8-3.8,1.8z"/><path fill="#e10400" stroke="#e10400" d="M419.3,57.8l3.9,-2.1-3.8,-1.8-3.9,2.1z"/><path fill="#c13100" stroke="#c13100" d="M469.6,62.6l3.6,0-4,-1.7-3.7,0z"/><path fill="#c72400" stroke="#c72400" d="M461.9,61.3l3.6,-.4-4,-1.7-3.7,.3z"/><path fill="#ef3c00" stroke="#ef3c00" d="M392.2,64.3l4,-3.6-3.7,-1.8-4,3.5z"/><path fill="#cc1a00" stroke="#cc1a00" d="M454.1,60.2l3.7,-.7-3.9,-1.7-3.7,.7z"/><path fill="#ec2a00" stroke="#ec2a00" d="M399.9,62.6l4,-3.2-3.8,-1.8-3.9,3.1z"/><path fill="#d21100" stroke="#d21100" d="M446.4,59.6l3.8,-1.1-4,-1.7-3.8,1z"/><path fill="#e91c00" stroke="#e91c00" d="M407.6,61.2l4,-2.8-3.8,-1.8-3.9,2.8z"/><path fill="#d70d00" stroke="#d70d00" d="M438.6,59.2l3.8,-1.4-3.9,-1.7-3.8,1.4z"/><path fill="#e51300" stroke="#e51300" d="M415.4,60.2l3.9,-2.4-3.8,-1.8-3.9,2.4z"/><path fill="#dc0b00" stroke="#dc0b00" d="M430.9,59.2l3.8,-1.7-3.8,-1.8-3.9,1.8z"/><path fill="#e10d00" stroke="#e10d00" d="M423.1,59.6l3.9,-2.1-3.8,-1.8-3.9,2.1z"/><path fill="#c03700" stroke="#c03700" d="M473.6,64.3l3.7,0-4.1,-1.7-3.6,0z"/><path fill="#f25c00" stroke="#f25c00" d="M388.2,68.1l4,-3.8-3.7,-1.9-4,3.9z"/><path fill="#c62b00" stroke="#c62b00" d="M465.9,62.9l3.7,-.3-4.1,-1.7-3.6,.4z"/><path fill="#ef4500" stroke="#ef4500" d="M395.9,66.1l4,-3.5-3.7,-1.9-4,3.6z"/><path fill="#cc2000" stroke="#cc2000" d="M458.1,61.9l3.8,-.6-4.1,-1.8-3.7,.7z"/><path fill="#ec3300" stroke="#ec3300" d="M403.7,64.4l3.9,-3.2-3.7,-1.8-4,3.2z"/><path fill="#d11900" stroke="#d11900" d="M450.4,61.3l3.7,-1.1-3.9,-1.7-3.8,1.1z"/><path fill="#e82500" stroke="#e82500" d="M411.4,63.1l4,-2.9-3.8,-1.8-4,2.8z"/><path fill="#d71400" stroke="#d71400" d="M442.6,61l3.8,-1.4-4,-1.8-3.8,1.4z"/><path fill="#e51b00" stroke="#e51b00" d="M419.2,62l3.9,-2.4-3.8,-1.8-3.9,2.4z"/><path fill="#dc1300" stroke="#dc1300" d="M434.8,61l3.8,-1.8-3.9,-1.7-3.8,1.7z"/><path fill="#e01500" stroke="#e01500" d="M427,61.3l3.9,-2.1-3.9,-1.7-3.9,2.1z"/><path fill="#f48000" stroke="#f48000" d="M384.1,72.4l4.1,-4.3-3.7,-1.8-4.1,4.2z"/><path fill="#c03d00" stroke="#c03d00" d="M477.7,65.9l3.7,0-4.1,-1.6-3.7,0z"/><path fill="#f16500" stroke="#f16500" d="M391.9,70l4,-3.9-3.7,-1.8-4,3.8z"/><path fill="#c63100" stroke="#c63100" d="M470,64.6l3.6,-.3-4,-1.7-3.7,.3z"/><path fill="#ee4f00" stroke="#ee4f00" d="M399.7,68l4,-3.6-3.8,-1.8-4,3.5z"/><path fill="#cb2600" stroke="#cb2600" d="M462.2,63.6l3.7,-.7-4,-1.6-3.8,.6z"/><path fill="#eb3c00" stroke="#eb3c00" d="M407.5,66.2l3.9,-3.1-3.8,-1.9-3.9,3.2z"/><path fill="#d11f00" stroke="#d11f00" d="M454.4,63l3.7,-1.1-4,-1.7-3.7,1.1z"/><path fill="#e82d00" stroke="#e82d00" d="M415.3,64.9l3.9,-2.9-3.8,-1.8-4,2.9z"/><path fill="#d61c00" stroke="#d61c00" d="M446.5,62.7l3.9,-1.4-4,-1.7-3.8,1.4z"/><path fill="#e42400" stroke="#e42400" d="M423.1,63.8l3.9,-2.5-3.9,-1.7-3.9,2.4z"/><path fill="#db1b00" stroke="#db1b00" d="M438.7,62.7l3.9,-1.7-4,-1.8-3.8,1.8z"/><path fill="#e01d00" stroke="#e01d00" d="M430.9,63.1l3.9,-2.1-3.9,-1.8-3.9,2.1z"/><path fill="#f5a800" stroke="#f5a800" d="M380,77l4.1,-4.6-3.7,-1.9-4,4.6z"/><path fill="#f38900" stroke="#f38900" d="M387.8,74.3l4.1,-4.3-3.7,-1.9-4.1,4.3z"/><path fill="#f16e00" stroke="#f16e00" d="M395.6,71.9l4.1,-3.9-3.8,-1.9-4,3.9z"/><path fill="#bf4200" stroke="#bf4200" d="M481.9,67.6l3.6,0-4.1,-1.7-3.7,0z"/><path fill="#ee5800" stroke="#ee5800" d="M403.4,69.8l4.1,-3.6-3.8,-1.8-4,3.6z"/><path fill="#c53600" stroke="#c53600" d="M474.1,66.3l3.6,-.4-4.1,-1.6-3.6,.3z"/><path fill="#eb4500" stroke="#eb4500" d="M411.3,68.1l4,-3.2-3.9,-1.8-3.9,3.1z"/><path fill="#cb2d00" stroke="#cb2d00" d="M466.2,65.3l3.8,-.7-4.1,-1.7-3.7,.7z"/><path fill="#f7d600" stroke="#f7d600" d="M376,82l4,-5-3.6,-1.9-4.1,5z"/><path fill="#e73600" stroke="#e73600" d="M419.1,66.6l4,-2.8-3.9,-1.8-3.9,2.9z"/><path fill="#d02600" stroke="#d02600" d="M458.4,64.7l3.8,-1.1-4.1,-1.7-3.7,1.1z"/><path fill="#e42c00" stroke="#e42c00" d="M427,65.6l3.9,-2.5-3.9,-1.8-3.9,2.5z"/><path fill="#d62200" stroke="#d62200" d="M450.6,64.4l3.8,-1.4-4,-1.7-3.9,1.4z"/><path fill="#df2500" stroke="#df2500" d="M434.8,64.8l3.9,-2.1-3.9,-1.7-3.9,2.1z"/><path fill="#db2100" stroke="#db2100" d="M442.7,64.5l3.8,-1.8-3.9,-1.7-3.9,1.7z"/><path fill="#f5b200" stroke="#f5b200" d="M383.8,78.9l4,-4.6-3.7,-1.9-4.1,4.6z"/><path fill="#f39300" stroke="#f39300" d="M391.6,76.2l4,-4.3-3.7,-1.9-4.1,4.3z"/><path fill="#f07700" stroke="#f07700" d="M399.4,73.7l4,-3.9-3.7,-1.8-4.1,3.9z"/><path fill="#e9f800" stroke="#e9f800" d="M371.9,87.4l4.1,-5.4-3.7,-1.9-4.1,5.3z"/><path fill="#bf4700" stroke="#bf4700" d="M486.1,69.2l3.6,0-4.2,-1.6-3.6,0z"/><path fill="#ee6000" stroke="#ee6000" d="M407.3,71.6l4,-3.5-3.8,-1.9-4.1,3.6z"/><path fill="#c43c00" stroke="#c43c00" d="M478.2,67.9l3.7,-.3-4.2,-1.7-3.6,.4z"/><path fill="#eb4d00" stroke="#eb4d00" d="M415.1,69.9l4,-3.3-3.8,-1.7-4,3.2z"/><path fill="#f6de00" stroke="#f6de00" d="M379.7,83.9l4.1,-5-3.8,-1.9-4,5z"/><path fill="#ca3300" stroke="#ca3300" d="M470.4,67l3.7,-.7-4.1,-1.7-3.8,.7z"/><path fill="#e73e00" stroke="#e73e00" d="M423,68.4l4,-2.8-3.9,-1.8-4,2.8z"/><path fill="#d02c00" stroke="#d02c00" d="M462.5,66.4l3.7,-1.1-4,-1.7-3.8,1.1z"/><path fill="#e33300" stroke="#e33300" d="M430.9,67.3l3.9,-2.5-3.9,-1.7-3.9,2.5z"/><path fill="#d52900" stroke="#d52900" d="M454.6,66.1l3.8,-1.4-4,-1.7-3.8,1.4z"/><path fill="#df2c00" stroke="#df2c00" d="M438.8,66.6l3.9,-2.1-4,-1.8-3.9,2.1z"/><path fill="#da2900" stroke="#da2900" d="M446.7,66.2l3.9,-1.8-4.1,-1.7-3.8,1.8z"/><path fill="#f4bb00" stroke="#f4bb00" d="M387.5,80.8l4.1,-4.6-3.8,-1.9-4,4.6z"/><path fill="#b5f900" stroke="#b5f900" d="M367.7,93.1l4.2,-5.7-3.7,-2-4.1,5.7z"/><path fill="#f29b00" stroke="#f29b00" d="M395.4,78l4,-4.3-3.8,-1.8-4,4.3z"/><path fill="#f07f00" stroke="#f07f00" d="M403.2,75.6l4.1,-4-3.9,-1.8-4,3.9z"/><path fill="#dff700" stroke="#dff700" d="M375.5,89.3l4.2,-5.4-3.7,-1.9-4.1,5.4z"/><path fill="#be4c00" stroke="#be4c00" d="M490.3,70.8l3.6,0-4.2,-1.6-3.6,0z"/><path fill="#ed6800" stroke="#ed6800" d="M411.1,73.4l4,-3.5-3.8,-1.8-4,3.5z"/><path fill="#c44100" stroke="#c44100" d="M482.4,69.5l3.7,-.3-4.2,-1.6-3.7,.3z"/><path fill="#ea5400" stroke="#ea5400" d="M419,71.6l4,-3.2-3.9,-1.8-4,3.3z"/><path fill="#f6e700" stroke="#f6e700" d="M383.4,85.8l4.1,-5-3.7,-1.9-4.1,5z"/><path fill="#7dfa00" stroke="#7dfa00" d="M363.6,99.2l4.1,-6.1-3.6,-2-4.1,6.1z"/><path fill="#ca3800" stroke="#ca3800" d="M474.5,68.6l3.7,-.7-4.1,-1.6-3.7,.7z"/><path fill="#e74600" stroke="#e74600" d="M427,70.2l3.9,-2.9-3.9,-1.7-4,2.8z"/><path fill="#cf3200" stroke="#cf3200" d="M466.6,68l3.8,-1-4.2,-1.7-3.7,1.1z"/><path fill="#e33b00" stroke="#e33b00" d="M434.9,69.1l3.9,-2.5-4,-1.8-3.9,2.5z"/><path fill="#d42f00" stroke="#d42f00" d="M458.7,67.8l3.8,-1.4-4.1,-1.7-3.8,1.4z"/><path fill="#de3300" stroke="#de3300" d="M442.8,68.3l3.9,-2.1-4,-1.7-3.9,2.1z"/><path fill="#d92f00" stroke="#d92f00" d="M450.8,67.9l3.8,-1.8-4,-1.7-3.9,1.8z"/><path fill="#f4c300" stroke="#f4c300" d="M391.3,82.7l4.1,-4.7-3.8,-1.8-4.1,4.6z"/><path fill="#acf800" stroke="#acf800" d="M371.4,95l4.1,-5.7-3.6,-1.9-4.2,5.7z"/><path fill="#f2a300" stroke="#f2a300" d="M399.2,79.9l4,-4.3-3.8,-1.9-4,4.3z"/><path fill="#41fa00" stroke="#41fa00" d="M359.4,105.7l4.2,-6.5-3.6,-2-4.2,6.5z"/><path fill="#f08700" stroke="#f08700" d="M407.1,77.4l4,-4-3.8,-1.8-4.1,4z"/><path fill="#d6f700" stroke="#d6f700" d="M379.3,91.2l4.1,-5.4-3.7,-1.9-4.2,5.4z"/><path fill="#bd5000" stroke="#bd5000" d="M494.6,72.4l3.6,0-4.3,-1.6-3.6,0z"/><path fill="#ed6f00" stroke="#ed6f00" d="M415,75.2l4,-3.6-3.9,-1.7-4,3.5z"/><path fill="#c34600" stroke="#c34600" d="M486.7,71.2l3.6,-.4-4.2,-1.6-3.7,.3z"/><path fill="#ea5d00" stroke="#ea5d00" d="M423,73.4l4,-3.2-4,-1.8-4,3.2z"/><path fill="#f6f000" stroke="#f6f000" d="M387.2,87.7l4.1,-5-3.8,-1.9-4.1,5z"/><path fill="#74f900" stroke="#74f900" d="M367.3,101.2l4.1,-6.2-3.7,-1.9-4.1,6.1z"/><path fill="#c93d00" stroke="#c93d00" d="M478.7,70.2l3.7,-.7-4.2,-1.6-3.7,.7z"/><path fill="#e64d00" stroke="#e64d00" d="M430.9,71.9l4,-2.8-4,-1.8-3.9,2.9z"/><path fill="#cf3800" stroke="#cf3800" d="M470.8,69.7l3.7,-1.1-4.1,-1.6-3.8,1z"/><path fill="#e24200" stroke="#e24200" d="M438.9,70.8l3.9,-2.5-4,-1.7-3.9,2.5z"/><path fill="#00fb00" stroke="#00fb00" d="M355.3,112.5l4.1,-6.8-3.6,-2-4.1,6.8z"/><path fill="#d43500" stroke="#d43500" d="M462.8,69.4l3.8,-1.4-4.1,-1.6-3.8,1.4z"/><path fill="#de3900" stroke="#de3900" d="M446.9,70l3.9,-2.1-4.1,-1.7-3.9,2.1z"/><path fill="#d93600" stroke="#d93600" d="M454.8,69.5l3.9,-1.7-4.1,-1.7-3.8,1.8z"/><path fill="#f4cc00" stroke="#f4cc00" d="M395.1,84.5l4.1,-4.6-3.8,-1.9-4.1,4.7z"/><path fill="#a3f800" stroke="#a3f800" d="M375.1,97l4.2,-5.8-3.8,-1.9-4.1,5.7z"/><path fill="#f2ab00" stroke="#f2ab00" d="M403,81.7l4.1,-4.3-3.9,-1.8-4,4.3z"/><path fill="#38fa00" stroke="#38fa00" d="M363.1,107.6l4.2,-6.4-3.7,-2-4.2,6.5z"/><path fill="#ef8f00" stroke="#ef8f00" d="M411,79.2l4,-4-3.9,-1.8-4,4z"/><path fill="#cdf700" stroke="#cdf700" d="M383,93.1l4.2,-5.4-3.8,-1.9-4.1,5.4z"/><path fill="#00fb45" stroke="#00fb45" d="M351.1,119.7l4.2,-7.2-3.6,-2-4.2,7.1z"/><path fill="#bd5400" stroke="#bd5400" d="M498.9,74l3.6,0-4.3,-1.6-3.6,0z"/><path fill="#ec7700" stroke="#ec7700" d="M419,77l4,-3.6-4,-1.8-4,3.6z"/><path fill="#c34a00" stroke="#c34a00" d="M490.9,72.8l3.7,-.4-4.3,-1.6-3.6,.4z"/><path fill="#f3f500" stroke="#f3f500" d="M391,89.6l4.1,-5.1-3.8,-1.8-4.1,5z"/><path fill="#e96400" stroke="#e96400" d="M426.9,75.2l4,-3.3-3.9,-1.7-4,3.2z"/><path fill="#6bf900" stroke="#6bf900" d="M371,103.1l4.1,-6.1-3.7,-2-4.1,6.2z"/><path fill="#c84200" stroke="#c84200" d="M483,71.9l3.7,-.7-4.3,-1.7-3.7,.7z"/><path fill="#e65400" stroke="#e65400" d="M434.9,73.7l4,-2.9-4,-1.7-4,2.8z"/><path fill="#ce3d00" stroke="#ce3d00" d="M475,71.3l3.7,-1.1-4.2,-1.6-3.7,1.1z"/><path fill="#e24800" stroke="#e24800" d="M443,72.5l3.9,-2.5-4.1,-1.7-3.9,2.5z"/><path fill="#00fa09" stroke="#00fa09" d="M358.9,114.5l4.2,-6.9-3.7,-1.9-4.1,6.8z"/><path fill="#d33b00" stroke="#d33b00" d="M467,71.1l3.8,-1.4-4.2,-1.7-3.8,1.4z"/><path fill="#dd4000" stroke="#dd4000" d="M451,71.7l3.8,-2.2-4,-1.6-3.9,2.1z"/><path fill="#d83b00" stroke="#d83b00" d="M459,71.2l3.8,-1.8-4.1,-1.6-3.9,1.7z"/><path fill="#00fb8e" stroke="#00fb8e" d="M346.9,127.3l4.2,-7.6-3.6,-2.1-4.2,7.6z"/><path fill="#f3d300" stroke="#f3d300" d="M398.9,86.4l4.1,-4.7-3.8,-1.8-4.1,4.6z"/><path fill="#9bf800" stroke="#9bf800" d="M378.9,98.9l4.1,-5.8-3.7,-1.9-4.2,5.8z"/><path fill="#f1b300" stroke="#f1b300" d="M406.9,83.5l4.1,-4.3-3.9,-1.8-4.1,4.3z"/><path fill="#2ffa00" stroke="#2ffa00" d="M366.8,109.6l4.2,-6.5-3.7,-1.9-4.2,6.4z"/><path fill="#ef9600" stroke="#ef9600" d="M414.9,81l4.1,-4-4,-1.8-4,4z"/><path fill="#c5f600" stroke="#c5f600" d="M386.8,95l4.2,-5.4-3.8,-1.9-4.2,5.4z"/><path fill="#00fcdb" stroke="#00fcdb" d="M342.7,135.2l4.2,-7.9-3.6,-2.1-4.2,7.9z"/><path fill="#00fb4e" stroke="#00fb4e" d="M354.7,121.7l4.2,-7.2-3.6,-2-4.2,7.2z"/><path fill="#bc5900" stroke="#bc5900" d="M503.2,75.6l3.6,0-4.3,-1.6-3.6,0z"/><path fill="#ec7e00" stroke="#ec7e00" d="M422.9,78.8l4,-3.6-3.9,-1.8-4,3.6z"/><path fill="#c24e00" stroke="#c24e00" d="M495.2,74.3l3.7,-.3-4.3,-1.6-3.7,.4z"/><path fill="#eaf500" stroke="#eaf500" d="M394.8,91.5l4.1,-5.1-3.8,-1.9-4.1,5.1z"/><path fill="#63f900" stroke="#63f900" d="M374.7,105.1l4.2,-6.2-3.8,-1.9-4.1,6.1z"/><path fill="#e96a00" stroke="#e96a00" d="M431,76.9l3.9,-3.2-4,-1.8-4,3.3z"/><path fill="#c84700" stroke="#c84700" d="M487.2,73.5l3.7,-.7-4.2,-1.6-3.7,.7z"/><path fill="#e55a00" stroke="#e55a00" d="M439,75.4l4,-2.9-4.1,-1.7-4,2.9z"/><path fill="#00cbfc" stroke="#00cbfc" d="M338.5,143.5l4.2,-8.3-3.6,-2.1-4.1,8.3z"/><path fill="#cd4200" stroke="#cd4200" d="M479.2,72.9l3.8,-1-4.3,-1.7-3.7,1.1z"/><path fill="#00fa11" stroke="#00fa11" d="M362.6,116.5l4.2,-6.9-3.7,-2-4.2,6.9z"/><path fill="#e14e00" stroke="#e14e00" d="M447,74.2l4,-2.5-4.1,-1.7-3.9,2.5z"/><path fill="#d34000" stroke="#d34000" d="M471.2,72.7l3.8,-1.4-4.2,-1.6-3.8,1.4z"/><path fill="#00fb97" stroke="#00fb97" d="M350.6,129.3l4.1,-7.6-3.6,-2-4.2,7.6z"/><path fill="#dd4600" stroke="#dd4600" d="M455.1,73.4l3.9,-2.2-4.2,-1.7-3.8,2.2z"/><path fill="#d84100" stroke="#d84100" d="M463.1,72.9l3.9,-1.8-4.2,-1.7-3.8,1.8z"/><path fill="#f3da00" stroke="#f3da00" d="M402.8,88.2l4.1,-4.7-3.9,-1.8-4.1,4.7z"/><path fill="#93f700" stroke="#93f700" d="M382.7,100.8l4.1,-5.8-3.8,-1.9-4.1,5.8z"/><path fill="#f1ba00" stroke="#f1ba00" d="M410.8,85.3l4.1,-4.3-3.9,-1.8-4.1,4.3z"/><path fill="#0071f2" stroke="#0071f2" d="M334.3,152.2l4.2,-8.7-3.5,-2.1-4.2,8.6z"/><path fill="#27f900" stroke="#27f900" d="M370.5,111.6l4.2,-6.5-3.7,-2-4.2,6.5z"/><path fill="#bcf600" stroke="#bcf600" d="M390.7,96.9l4.1,-5.4-3.8,-1.9-4.2,5.4z"/><path fill="#00fbe4" stroke="#00fbe4" d="M346.3,137.3l4.3,-8-3.7,-2-4.2,7.9z"/><path fill="#ee9d00" stroke="#ee9d00" d="M418.9,82.7l4,-3.9-3.9,-1.8-4.1,4z"/><path fill="#00fb55" stroke="#00fb55" d="M358.4,123.8l4.2,-7.3-3.7,-2-4.2,7.2z"/><path fill="#bc5c00" stroke="#bc5c00" d="M507.6,77.1l3.6,.1-4.4,-1.6-3.6,0z"/><path fill="#eb8500" stroke="#eb8500" d="M426.9,80.5l4.1,-3.6-4.1,-1.7-4,3.6z"/><path fill="#c15300" stroke="#c15300" d="M499.6,75.9l3.6,-.3-4.3,-1.6-3.7,.3z"/><path fill="#e2f400" stroke="#e2f400" d="M398.7,93.3l4.1,-5.1-3.9,-1.8-4.1,5.1z"/><path fill="#5bf800" stroke="#5bf800" d="M378.5,107l4.2,-6.2-3.8,-1.9-4.2,6.2z"/><path fill="#e87000" stroke="#e87000" d="M435,78.6l4,-3.2-4.1,-1.7-3.9,3.2z"/><path fill="#c74b00" stroke="#c74b00" d="M491.6,75l3.6,-.7-4.3,-1.5-3.7,.7z"/><path fill="#e56000" stroke="#e56000" d="M443.1,77.1l3.9,-2.9-4,-1.7-4,2.9z"/><path fill="#00c2fc" stroke="#00c2fc" d="M342.1,145.6l4.2,-8.3-3.6,-2.1-4.2,8.3z"/><path fill="#cd4700" stroke="#cd4700" d="M483.5,74.5l3.7,-1-4.2,-1.6-3.8,1z"/><path fill="#00fa18" stroke="#00fa18" d="M366.3,118.5l4.2,-6.9-3.7,-2-4.2,6.9z"/><path fill="#e15400" stroke="#e15400" d="M451.2,75.9l3.9,-2.5-4.1,-1.7-4,2.5z"/><path fill="#00fb9e" stroke="#00fb9e" d="M354.2,131.4l4.2,-7.6-3.7,-2.1-4.1,7.6z"/><path fill="#d24400" stroke="#d24400" d="M475.4,74.3l3.8,-1.4-4.2,-1.6-3.8,1.4z"/><path fill="#dc4b00" stroke="#dc4b00" d="M459.3,75l3.8,-2.1-4.1,-1.7-3.9,2.2z"/><path fill="#d74600" stroke="#d74600" d="M467.3,74.5l3.9,-1.8-4.2,-1.6-3.9,1.8z"/><path fill="#f3e100" stroke="#f3e100" d="M406.7,90l4.1,-4.7-3.9,-1.8-4.1,4.7z"/><path fill="#8bf700" stroke="#8bf700" d="M386.5,102.7l4.2,-5.8-3.9,-1.9-4.1,5.8z"/><path fill="#f0c000" stroke="#f0c000" d="M414.8,87.1l4.1,-4.4-4,-1.7-4.1,4.3z"/><path fill="#0069f0" stroke="#0069f0" d="M337.9,154.3l4.2,-8.7-3.6,-2.1-4.2,8.7z"/><path fill="#1ff900" stroke="#1ff900" d="M374.3,113.6l4.2,-6.6-3.8,-1.9-4.2,6.5z"/><path fill="#00fbeb" stroke="#00fbeb" d="M350,139.4l4.2,-8-3.6,-2.1-4.3,8z"/><path fill="#b5f600" stroke="#b5f600" d="M394.5,98.8l4.2,-5.5-3.9,-1.8-4.1,5.4z"/><path fill="#eea300" stroke="#eea300" d="M422.9,84.5l4,-4-4,-1.7-4,3.9z"/><path fill="#00fa5d" stroke="#00fa5d" d="M362.1,125.8l4.2,-7.3-3.7,-2-4.2,7.3z"/><path fill="#bb5f00" stroke="#bb5f00" d="M512.1,78.7l3.5,0-4.4,-1.5-3.6,-.1z"/><path fill="#eb8b00" stroke="#eb8b00" d="M431,82.3l4,-3.7-4,-1.7-4.1,3.6z"/><path fill="#c15600" stroke="#c15600" d="M504,77.5l3.6,-.4-4.4,-1.5-3.6,.3z"/><path fill="#dbf400" stroke="#dbf400" d="M402.6,95.1l4.1,-5.1-3.9,-1.8-4.1,5.1z"/><path fill="#54f800" stroke="#54f800" d="M382.3,108.9l4.2,-6.2-3.8,-1.9-4.2,6.2z"/><path fill="#e87600" stroke="#e87600" d="M439.1,80.3l4,-3.2-4.1,-1.7-4,3.2z"/><path fill="#c74f00" stroke="#c74f00" d="M495.9,76.6l3.7,-.7-4.4,-1.6-3.6,.7z"/><path fill="#e46600" stroke="#e46600" d="M447.2,78.8l4,-2.9-4.2,-1.7-3.9,2.9z"/><path fill="#00bafb" stroke="#00bafb" d="M345.8,147.7l4.2,-8.3-3.7,-2.1-4.2,8.3z"/><path fill="#00fa20" stroke="#00fa20" d="M370.1,120.5l4.2,-6.9-3.8,-2-4.2,6.9z"/><path fill="#cc4a00" stroke="#cc4a00" d="M487.8,76.1l3.8,-1.1-4.4,-1.5-3.7,1z"/><path fill="#e05a00" stroke="#e05a00" d="M455.3,77.5l4,-2.5-4.2,-1.6-3.9,2.5z"/><path fill="#00fba6" stroke="#00fba6" d="M357.9,133.4l4.2,-7.6-3.7,-2-4.2,7.6z"/><path fill="#d24900" stroke="#d24900" d="M479.7,75.9l3.8,-1.4-4.3,-1.6-3.8,1.4z"/><path fill="#dc5000" stroke="#dc5000" d="M463.5,76.7l3.8,-2.2-4.2,-1.6-3.8,2.1z"/><path fill="#d74b00" stroke="#d74b00" d="M471.6,76.1l3.8,-1.8-4.2,-1.6-3.9,1.8z"/><path fill="#f2e800" stroke="#f2e800" d="M410.7,91.8l4.1,-4.7-4,-1.8-4.1,4.7z"/><path fill="#83f700" stroke="#83f700" d="M390.4,104.6l4.1,-5.8-3.8,-1.9-4.2,5.8z"/><path fill="#f0c700" stroke="#f0c700" d="M418.8,88.9l4.1,-4.4-4,-1.8-4.1,4.4z"/><path fill="#0060ef" stroke="#0060ef" d="M341.6,156.5l4.2,-8.8-3.7,-2.1-4.2,8.7z"/><path fill="#17f900" stroke="#17f900" d="M378.1,115.5l4.2,-6.6-3.8,-1.9-4.2,6.6z"/><path fill="#00fbf2" stroke="#00fbf2" d="M353.7,141.5l4.2,-8.1-3.7,-2-4.2,8z"/><path fill="#adf500" stroke="#adf500" d="M398.4,100.6l4.2,-5.5-3.9,-1.8-4.2,5.5z"/><path fill="#eda900" stroke="#eda900" d="M426.9,86.3l4.1,-4-4.1,-1.8-4,4z"/><path fill="#00fa65" stroke="#00fa65" d="M365.9,127.8l4.2,-7.3-3.8,-2-4.2,7.3z"/><path fill="#bb6300" stroke="#bb6300" d="M516.5,80.2l3.6,0-4.5,-1.5-3.5,0z"/><path fill="#eb9100" stroke="#eb9100" d="M435.1,84l4,-3.7-4.1,-1.7-4,3.7z"/><path fill="#d4f400" stroke="#d4f400" d="M406.5,97l4.2,-5.2-4,-1.8-4.1,5.1z"/><path fill="#4cf800" stroke="#4cf800" d="M386.2,110.8l4.2,-6.2-3.9,-1.9-4.2,6.2z"/><path fill="#c05a00" stroke="#c05a00" d="M508.4,79l3.7,-.3-4.5,-1.6-3.6,.4z"/><path fill="#e77c00" stroke="#e77c00" d="M443.2,82l4,-3.2-4.1,-1.7-4,3.2z"/><path fill="#c65200" stroke="#c65200" d="M500.3,78.2l3.7,-.7-4.4,-1.6-3.7,.7z"/><path fill="#e46b00" stroke="#e46b00" d="M451.4,80.4l3.9,-2.9-4.1,-1.6-4,2.9z"/><path fill="#00b3fb" stroke="#00b3fb" d="M349.5,149.9l4.2,-8.4-3.7,-2.1-4.2,8.3z"/><path fill="#00f928" stroke="#00f928" d="M373.9,122.5l4.2,-7-3.8,-1.9-4.2,6.9z"/><path fill="#cc4e00" stroke="#cc4e00" d="M492.2,77.7l3.7,-1.1-4.3,-1.6-3.8,1.1z"/><path fill="#df5f00" stroke="#df5f00" d="M459.5,79.2l4,-2.5-4.2,-1.7-4,2.5z"/><path fill="#00faad" stroke="#00faad" d="M361.7,135.5l4.2,-7.7-3.8,-2-4.2,7.6z"/><path fill="#d14e00" stroke="#d14e00" d="M484,77.5l3.8,-1.4-4.3,-1.6-3.8,1.4z"/><path fill="#db5500" stroke="#db5500" d="M467.7,78.3l3.9,-2.2-4.3,-1.6-3.8,2.2z"/><path fill="#f2ee00" stroke="#f2ee00" d="M414.7,93.6l4.1,-4.7-4,-1.8-4.1,4.7z"/><path fill="#d65000" stroke="#d65000" d="M475.9,77.7l3.8,-1.8-4.3,-1.6-3.8,1.8z"/><path fill="#7cf600" stroke="#7cf600" d="M394.2,106.5l4.2,-5.9-3.9,-1.8-4.1,5.8z"/><path fill="#f0cd00" stroke="#f0cd00" d="M422.8,90.7l4.1,-4.4-4,-1.8-4.1,4.4z"/><path fill="#0059ed" stroke="#0059ed" d="M345.2,158.6l4.3,-8.7-3.7,-2.2-4.2,8.8z"/><path fill="#11f800" stroke="#11f800" d="M382,117.4l4.2,-6.6-3.9,-1.9-4.2,6.6z"/><path fill="#00fbfa" stroke="#00fbfa" d="M357.4,143.5l4.3,-8-3.8,-2.1-4.2,8.1z"/><path fill="#a6f500" stroke="#a6f500" d="M402.4,102.5l4.1,-5.5-3.9,-1.9-4.2,5.5z"/><path fill="#00fa6c" stroke="#00fa6c" d="M369.7,129.8l4.2,-7.3-3.8,-2-4.2,7.3z"/><path fill="#edb000" stroke="#edb000" d="M431,88l4.1,-4-4.1,-1.7-4.1,4z"/><path fill="#ea9700" stroke="#ea9700" d="M439.2,85.7l4,-3.7-4.1,-1.7-4,3.7z"/><path fill="#ba6500" stroke="#ba6500" d="M521.1,81.7l3.5,0-4.5,-1.5-3.6,0z"/><path fill="#45f700" stroke="#45f700" d="M390,112.7l4.2,-6.2-3.8,-1.9-4.2,6.2z"/><path fill="#cdf300" stroke="#cdf300" d="M410.5,98.8l4.2,-5.2-4,-1.8-4.2,5.2z"/><path fill="#e78100" stroke="#e78100" d="M447.4,83.7l4,-3.3-4.2,-1.6-4,3.2z"/><path fill="#c05c00" stroke="#c05c00" d="M512.9,80.5l3.6,-.3-4.4,-1.5-3.7,.3z"/><path fill="#00acfb" stroke="#00acfb" d="M353.2,151.9l4.2,-8.4-3.7,-2-4.2,8.4z"/><path fill="#e37000" stroke="#e37000" d="M455.6,82.1l3.9,-2.9-4.2,-1.7-3.9,2.9z"/><path fill="#c55600" stroke="#c55600" d="M504.8,79.7l3.6,-.7-4.4,-1.5-3.7,.7z"/><path fill="#00f92f" stroke="#00f92f" d="M377.7,124.4l4.3,-7-3.9,-1.9-4.2,7z"/><path fill="#00fab3" stroke="#00fab3" d="M365.4,137.5l4.3,-7.7-3.8,-2-4.2,7.7z"/><path fill="#df6300" stroke="#df6300" d="M463.8,80.8l3.9,-2.5-4.2,-1.6-4,2.5z"/><path fill="#cb5200" stroke="#cb5200" d="M496.6,79.2l3.7,-1-4.4,-1.6-3.7,1.1z"/><path fill="#da5a00" stroke="#da5a00" d="M472,79.9l3.9,-2.2-4.3,-1.6-3.9,2.2z"/><path fill="#eff100" stroke="#eff100" d="M418.7,95.4l4.1,-4.7-4,-1.8-4.1,4.7z"/><path fill="#d05200" stroke="#d05200" d="M488.4,79.1l3.8,-1.4-4.4,-1.6-3.8,1.4z"/><path fill="#d65400" stroke="#d65400" d="M480.2,79.3l3.8,-1.8-4.3,-1.6-3.8,1.8z"/><path fill="#75f600" stroke="#75f600" d="M398.2,108.4l4.2,-5.9-4,-1.9-4.2,5.9z"/><path fill="#efd200" stroke="#efd200" d="M426.9,92.4l4.1,-4.4-4.1,-1.7-4.1,4.4z"/><path fill="#0052ec" stroke="#0052ec" d="M348.9,160.7l4.3,-8.8-3.7,-2-4.3,8.7z"/><path fill="#0af800" stroke="#0af800" d="M385.8,119.4l4.2,-6.7-3.8,-1.9-4.2,6.6z"/><path fill="#00f4fa" stroke="#00f4fa" d="M361.2,145.6l4.2,-8.1-3.7,-2-4.3,8z"/><path fill="#a0f500" stroke="#a0f500" d="M406.3,104.3l4.2,-5.5-4,-1.8-4.1,5.5z"/><path fill="#00f972" stroke="#00f972" d="M373.5,131.8l4.2,-7.4-3.8,-1.9-4.2,7.3z"/><path fill="#edb500" stroke="#edb500" d="M435.1,89.7l4.1,-4-4.1,-1.7-4.1,4z"/><path fill="#ea9c00" stroke="#ea9c00" d="M443.3,87.4l4.1,-3.7-4.2,-1.7-4,3.7z"/><path fill="#b96800" stroke="#b96800" d="M525.6,83.2l3.6,0-4.6,-1.5-3.5,0z"/><path fill="#3ef700" stroke="#3ef700" d="M394,114.6l4.2,-6.2-4,-1.9-4.2,6.2z"/><path fill="#c6f300" stroke="#c6f300" d="M414.5,100.6l4.2,-5.2-4,-1.8-4.2,5.2z"/><path fill="#e68700" stroke="#e68700" d="M451.6,85.4l4,-3.3-4.2,-1.7-4,3.3z"/><path fill="#bf5f00" stroke="#bf5f00" d="M517.5,82l3.6,-.3-4.6,-1.5-3.6,.3z"/><path fill="#00a5fa" stroke="#00a5fa" d="M356.9,154l4.3,-8.4-3.8,-2.1-4.2,8.4z"/><path fill="#e37500" stroke="#e37500" d="M459.8,83.7l4,-2.9-4.3,-1.6-3.9,2.9z"/><path fill="#c55900" stroke="#c55900" d="M509.3,81.2l3.6,-.7-4.5,-1.5-3.6,.7z"/><path fill="#00f936" stroke="#00f936" d="M381.6,126.4l4.2,-7-3.8,-2-4.3,7z"/><path fill="#00faba" stroke="#00faba" d="M369.2,139.5l4.3,-7.7-3.8,-2-4.3,7.7z"/><path fill="#de6800" stroke="#de6800" d="M468.1,82.4l3.9,-2.5-4.3,-1.6-3.9,2.5z"/><path fill="#ca5600" stroke="#ca5600" d="M501.1,80.8l3.7,-1.1-4.5,-1.5-3.7,1z"/><path fill="#e9f100" stroke="#e9f100" d="M422.8,97.2l4.1,-4.8-4.1,-1.7-4.1,4.7z"/><path fill="#da5e00" stroke="#da5e00" d="M476.3,81.5l3.9,-2.2-4.3,-1.6-3.9,2.2z"/><path fill="#d05500" stroke="#d05500" d="M492.8,80.6l3.8,-1.4-4.4,-1.5-3.8,1.4z"/><path fill="#d55800" stroke="#d55800" d="M484.6,80.9l3.8,-1.8-4.4,-1.6-3.8,1.8z"/><path fill="#6ef600" stroke="#6ef600" d="M402.1,110.2l4.2,-5.9-3.9,-1.8-4.2,5.9z"/><path fill="#efd800" stroke="#efd800" d="M431,94.1l4.1,-4.4-4.1,-1.7-4.1,4.4z"/><path fill="#004bea" stroke="#004bea" d="M352.6,162.9l4.3,-8.9-3.7,-2.1-4.3,8.8z"/><path fill="#04f800" stroke="#04f800" d="M389.7,121.3l4.3,-6.7-4,-1.9-4.2,6.7z"/><path fill="#00eefa" stroke="#00eefa" d="M365,147.6l4.2,-8.1-3.8,-2-4.2,8.1z"/><path fill="#99f400" stroke="#99f400" d="M410.4,106.1l4.1,-5.5-4,-1.8-4.2,5.5z"/><path fill="#00f979" stroke="#00f979" d="M377.3,133.8l4.3,-7.4-3.9,-2-4.2,7.4z"/><path fill="#ecba00" stroke="#ecba00" d="M439.3,91.4l4,-4-4.1,-1.7-4.1,4z"/><path fill="#e9a100" stroke="#e9a100" d="M447.5,89.1l4.1,-3.7-4.2,-1.7-4.1,3.7z"/><path fill="#b96a00" stroke="#b96a00" d="M530.3,84.7l3.5,0-4.6,-1.5-3.6,0z"/><path fill="#38f700" stroke="#38f700" d="M397.9,116.5l4.2,-6.3-3.9,-1.8-4.2,6.2z"/><path fill="#c0f300" stroke="#c0f300" d="M418.6,102.4l4.2,-5.2-4.1,-1.8-4.2,5.2z"/><path fill="#e68b00" stroke="#e68b00" d="M455.8,87l4,-3.3-4.2,-1.6-4,3.3z"/><path fill="#bf6200" stroke="#bf6200" d="M522.1,83.5l3.5,-.3-4.5,-1.5-3.6,.3z"/><path fill="#009df9" stroke="#009df9" d="M360.7,156.1l4.3,-8.5-3.8,-2-4.3,8.4z"/><path fill="#e27900" stroke="#e27900" d="M464.1,85.4l4,-3-4.3,-1.6-4,2.9z"/><path fill="#00f83b" stroke="#00f83b" d="M385.5,128.3l4.2,-7-3.9,-1.9-4.2,7z"/><path fill="#c45c00" stroke="#c45c00" d="M513.8,82.7l3.7,-.7-4.6,-1.5-3.6,.7z"/><path fill="#00fac1" stroke="#00fac1" d="M373.1,141.5l4.2,-7.7-3.8,-2-4.3,7.7z"/><path fill="#de6c00" stroke="#de6c00" d="M472.4,84l3.9,-2.5-4.3,-1.6-3.9,2.5z"/><path fill="#ca5900" stroke="#ca5900" d="M505.6,82.3l3.7,-1.1-4.5,-1.5-3.7,1.1z"/><path fill="#e2f100" stroke="#e2f100" d="M426.9,98.9l4.1,-4.8-4.1,-1.7-4.1,4.8z"/><path fill="#d96200" stroke="#d96200" d="M480.7,83.1l3.9,-2.2-4.4,-1.6-3.9,2.2z"/><path fill="#cf5900" stroke="#cf5900" d="M497.3,82.2l3.8,-1.4-4.5,-1.6-3.8,1.4z"/><path fill="#d45c00" stroke="#d45c00" d="M489,82.5l3.8,-1.9-4.4,-1.5-3.8,1.8z"/><path fill="#68f500" stroke="#68f500" d="M406.2,112.1l4.2,-6-4.1,-1.8-4.2,5.9z"/><path fill="#ed0" stroke="#ed0" d="M435.2,95.9l4.1,-4.5-4.2,-1.7-4.1,4.4z"/><path fill="#0045e9" stroke="#0045e9" d="M356.4,165l4.3,-8.9-3.8,-2.1-4.3,8.9z"/><path fill="#00f703" stroke="#00f703" d="M393.7,123.2l4.2,-6.7-3.9,-1.9-4.3,6.7z"/><path fill="#00e7fa" stroke="#00e7fa" d="M368.8,149.7l4.3,-8.2-3.9,-2-4.2,8.1z"/><path fill="#93f400" stroke="#93f400" d="M414.4,107.9l4.2,-5.5-4.1,-1.8-4.1,5.5z"/><path fill="#00f97f" stroke="#00f97f" d="M381.2,135.7l4.3,-7.4-3.9,-1.9-4.3,7.4z"/><path fill="#ecbe00" stroke="#ecbe00" d="M443.5,93.1l4,-4-4.2,-1.7-4,4z"/><path fill="#e9a500" stroke="#e9a500" d="M451.8,90.7l4,-3.7-4.2,-1.6-4.1,3.7z"/><path fill="#32f600" stroke="#32f600" d="M401.9,118.4l4.3,-6.3-4.1,-1.9-4.2,6.3z"/><path fill="#baf200" stroke="#baf200" d="M422.7,104.1l4.2,-5.2-4.1,-1.7-4.2,5.2z"/><path fill="#e58f00" stroke="#e58f00" d="M460.1,88.7l4,-3.3-4.3,-1.7-4,3.3z"/><path fill="#be6400" stroke="#be6400" d="M526.7,85l3.6,-.3-4.7,-1.5-3.5,.3z"/><path fill="#0096f7" stroke="#0096f7" d="M364.5,158.2l4.3,-8.5-3.8,-2.1-4.3,8.5z"/><path fill="#e27e00" stroke="#e27e00" d="M468.4,87l4,-3-4.3,-1.6-4,3z"/><path fill="#00f841" stroke="#00f841" d="M389.4,130.2l4.3,-7-4,-1.9-4.2,7z"/><path fill="#c45e00" stroke="#c45e00" d="M518.4,84.2l3.7,-.7-4.6,-1.5-3.7,.7z"/><path fill="#00f9c6" stroke="#00f9c6" d="M377,143.5l4.2,-7.8-3.9,-1.9-4.2,7.7z"/><path fill="#dd6f00" stroke="#dd6f00" d="M476.8,85.6l3.9,-2.5-4.4,-1.6-3.9,2.5z"/><path fill="#c95c00" stroke="#c95c00" d="M510.1,83.8l3.7,-1.1-4.5,-1.5-3.7,1.1z"/><path fill="#dcf000" stroke="#dcf000" d="M431,100.7l4.2,-4.8-4.2,-1.8-4.1,4.8z"/><path fill="#d96500" stroke="#d96500" d="M485.1,84.6l3.9,-2.1-4.4,-1.6-3.9,2.2z"/><path fill="#cf5c00" stroke="#cf5c00" d="M501.8,83.7l3.8,-1.4-4.5,-1.5-3.8,1.4z"/><path fill="#d45f00" stroke="#d45f00" d="M493.5,84l3.8,-1.8-4.5,-1.6-3.8,1.9z"/><path fill="#62f500" stroke="#62f500" d="M410.2,113.9l4.2,-6-4,-1.8-4.2,6z"/><path fill="#eee200" stroke="#eee200" d="M439.3,97.6l4.2,-4.5-4.2,-1.7-4.1,4.5z"/><path fill="#0040e7" stroke="#0040e7" d="M360.2,167.1l4.3,-8.9-3.8,-2.1-4.3,8.9z"/><path fill="#00f708" stroke="#00f708" d="M397.7,125.1l4.2,-6.7-4,-1.9-4.2,6.7z"/><path fill="#00e1fa" stroke="#00e1fa" d="M372.7,151.7l4.3,-8.2-3.9,-2-4.3,8.2z"/><path fill="#8ef400" stroke="#8ef400" d="M418.5,109.7l4.2,-5.6-4.1,-1.7-4.2,5.5z"/><path fill="#00f985" stroke="#00f985" d="M385.2,137.7l4.2,-7.5-3.9,-1.9-4.3,7.4z"/><path fill="#ebc400" stroke="#ebc400" d="M447.7,94.8l4.1,-4.1-4.3,-1.6-4,4z"/><path fill="#e8a900" stroke="#e8a900" d="M456.1,92.4l4,-3.7-4.3,-1.7-4,3.7z"/><path fill="#2cf600" stroke="#2cf600" d="M406,120.2l4.2,-6.3-4,-1.8-4.3,6.3z"/><path fill="#b5f200" stroke="#b5f200" d="M426.8,105.9l4.2,-5.2-4.1,-1.8-4.2,5.2z"/><path fill="#e59300" stroke="#e59300" d="M464.4,90.3l4,-3.3-4.3,-1.6-4,3.3z"/><path fill="#0091f6" stroke="#0091f6" d="M368.4,160.2l4.3,-8.5-3.9,-2-4.3,8.5z"/><path fill="#00f847" stroke="#00f847" d="M393.4,132.2l4.3,-7.1-4,-1.9-4.3,7z"/><path fill="#e18100" stroke="#e18100" d="M472.8,88.6l4,-3-4.4,-1.6-4,3z"/><path fill="#00f9cb" stroke="#00f9cb" d="M380.9,145.5l4.3,-7.8-4,-2-4.2,7.8z"/><path fill="#c36000" stroke="#c36000" d="M523,85.7l3.7,-.7-4.6,-1.5-3.7,.7z"/><path fill="#dd7300" stroke="#dd7300" d="M481.2,87.2l3.9,-2.6-4.4,-1.5-3.9,2.5z"/><path fill="#d7f000" stroke="#d7f000" d="M435.2,102.4l4.1,-4.8-4.1,-1.7-4.2,4.8z"/><path fill="#c95e00" stroke="#c95e00" d="M514.7,85.3l3.7,-1.1-4.6,-1.5-3.7,1.1z"/><path fill="#d86800" stroke="#d86800" d="M489.6,86.2l3.9,-2.2-4.5,-1.5-3.9,2.1z"/><path fill="#ce5e00" stroke="#ce5e00" d="M506.3,85.2l3.8,-1.4-4.5,-1.5-3.8,1.4z"/><path fill="#d36200" stroke="#d36200" d="M498,85.5l3.8,-1.8-4.5,-1.5-3.8,1.8z"/><path fill="#5df500" stroke="#5df500" d="M414.3,115.7l4.2,-6-4.1,-1.8-4.2,6z"/><path fill="#ede600" stroke="#ede600" d="M443.6,99.3l4.1,-4.5-4.2,-1.7-4.2,4.5z"/><path fill="#003be6" stroke="#003be6" d="M364,169.2l4.4,-9-3.9,-2-4.3,8.9z"/><path fill="#00f70e" stroke="#00f70e" d="M401.7,126.9l4.3,-6.7-4.1,-1.8-4.2,6.7z"/><path fill="#00dcf9" stroke="#00dcf9" d="M376.6,153.7l4.3,-8.2-3.9,-2-4.3,8.2z"/><path fill="#88f300" stroke="#88f300" d="M422.6,111.5l4.2,-5.6-4.1,-1.8-4.2,5.6z"/><path fill="#00f889" stroke="#00f889" d="M389.1,139.6l4.3,-7.4-4,-2-4.2,7.5z"/><path fill="#ebc700" stroke="#ebc700" d="M452,96.5l4.1,-4.1-4.3,-1.7-4.1,4.1z"/><path fill="#e8ad00" stroke="#e8ad00" d="M460.4,94l4,-3.7-4.3,-1.6-4,3.7z"/><path fill="#28f600" stroke="#28f600" d="M410,122.1l4.3,-6.4-4.1,-1.8-4.2,6.3z"/><path fill="#b0f100" stroke="#b0f100" d="M431,107.7l4.2,-5.3-4.2,-1.7-4.2,5.2z"/><path fill="#e49600" stroke="#e49600" d="M468.8,91.9l4,-3.3-4.4,-1.6-4,3.3z"/><path fill="#008af5" stroke="#008af5" d="M372.2,162.3l4.4,-8.6-3.9,-2-4.3,8.5z"/><path fill="#00f84c" stroke="#00f84c" d="M397.4,134.1l4.3,-7.2-4,-1.8-4.3,7.1z"/><path fill="#e18400" stroke="#e18400" d="M477.2,90.2l4,-3-4.4,-1.6-4,3z"/><path fill="#00f9d1" stroke="#00f9d1" d="M384.8,147.5l4.3,-7.9-3.9,-1.9-4.3,7.8z"/><path fill="#dc7600" stroke="#dc7600" d="M485.7,88.8l3.9,-2.6-4.5,-1.6-3.9,2.6z"/><path fill="#d2ef00" stroke="#d2ef00" d="M439.4,104.1l4.2,-4.8-4.3,-1.7-4.1,4.8z"/><path fill="#c86000" stroke="#c86000" d="M519.3,86.7l3.7,-1-4.6,-1.5-3.7,1.1z"/><path fill="#d86b00" stroke="#d86b00" d="M494.1,87.7l3.9,-2.2-4.5,-1.5-3.9,2.2z"/><path fill="#ce6100" stroke="#ce6100" d="M510.9,86.7l3.8,-1.4-4.6,-1.5-3.8,1.4z"/><path fill="#d36400" stroke="#d36400" d="M502.5,87l3.8,-1.8-4.5,-1.5-3.8,1.8z"/><path fill="#58f400" stroke="#58f400" d="M418.4,117.5l4.2,-6-4.1,-1.8-4.2,6z"/><path fill="#ede900" stroke="#ede900" d="M447.9,101l4.1,-4.5-4.3,-1.7-4.1,4.5z"/><path fill="#0035e5" stroke="#0035e5" d="M367.9,171.3l4.3,-9-3.8,-2.1-4.4,9z"/><path fill="#00f712" stroke="#00f712" d="M405.8,128.8l4.2,-6.7-4,-1.9-4.3,6.7z"/><path fill="#00d7f9" stroke="#00d7f9" d="M380.5,155.7l4.3,-8.2-3.9,-2-4.3,8.2z"/><path fill="#00f88e" stroke="#00f88e" d="M393.1,141.6l4.3,-7.5-4,-1.9-4.3,7.4z"/><path fill="#84f300" stroke="#84f300" d="M426.8,113.3l4.2,-5.6-4.2,-1.8-4.2,5.6z"/><path fill="#eacb00" stroke="#eacb00" d="M456.3,98.1l4.1,-4.1-4.3,-1.6-4.1,4.1z"/><path fill="#e7b100" stroke="#e7b100" d="M464.8,95.6l4,-3.7-4.4,-1.6-4,3.7z"/><path fill="#23f500" stroke="#23f500" d="M414.2,123.9l4.2,-6.4-4.1,-1.8-4.3,6.4z"/><path fill="#abf100" stroke="#abf100" d="M435.3,109.4l4.1,-5.3-4.2,-1.7-4.2,5.3z"/><path fill="#e49a00" stroke="#e49a00" d="M473.2,93.5l4,-3.3-4.4,-1.6-4,3.3z"/><path fill="#0085f3" stroke="#0085f3" d="M376.2,164.3l4.3,-8.6-3.9,-2-4.4,8.6z"/><path fill="#00f750" stroke="#00f750" d="M401.5,136l4.3,-7.2-4.1,-1.9-4.3,7.2z"/><path fill="#e08700" stroke="#e08700" d="M481.7,91.7l4,-2.9-4.5,-1.6-4,3z"/><path fill="#00f8d5" stroke="#00f8d5" d="M388.8,149.4l4.3,-7.8-4,-2-4.3,7.9z"/><path fill="#dc7900" stroke="#dc7900" d="M490.2,90.3l3.9,-2.6-4.5,-1.5-3.9,2.6z"/><path fill="#ceef00" stroke="#ceef00" d="M443.7,105.8l4.2,-4.8-4.3,-1.7-4.2,4.8z"/><path fill="#d76e00" stroke="#d76e00" d="M498.7,89.2l3.8,-2.2-4.5,-1.5-3.9,2.2z"/><path fill="#cd6200" stroke="#cd6200" d="M515.6,88.2l3.7,-1.5-4.6,-1.4-3.8,1.4z"/><path fill="#d26600" stroke="#d26600" d="M507.1,88.5l3.8,-1.8-4.6,-1.5-3.8,1.8z"/><path fill="#53f400" stroke="#53f400" d="M422.6,119.3l4.2,-6-4.2,-1.8-4.2,6z"/><path fill="#eded00" stroke="#eded00" d="M452.2,102.6l4.1,-4.5-4.3,-1.6-4.1,4.5z"/><path fill="#0030e4" stroke="#0030e4" d="M371.8,173.3l4.4,-9-4,-2-4.3,9z"/><path fill="#00f617" stroke="#00f617" d="M409.9,130.7l4.3,-6.8-4.2,-1.8-4.2,6.7z"/><path fill="#00d2f9" stroke="#00d2f9" d="M384.5,157.7l4.3,-8.3-4,-1.9-4.3,8.2z"/><path fill="#00f893" stroke="#00f893" d="M397.2,143.5l4.3,-7.5-4.1,-1.9-4.3,7.5z"/><path fill="#7ff200" stroke="#7ff200" d="M431,115l4.3,-5.6-4.3,-1.7-4.2,5.6z"/><path fill="#eace00" stroke="#eace00" d="M460.7,99.8l4.1,-4.2-4.4,-1.6-4.1,4.1z"/><path fill="#e7b300" stroke="#e7b300" d="M469.2,97.3l4,-3.8-4.4,-1.6-4,3.7z"/><path fill="#1ef500" stroke="#1ef500" d="M418.3,125.7l4.3,-6.4-4.2,-1.8-4.2,6.4z"/><path fill="#a7f100" stroke="#a7f100" d="M439.5,111.1l4.2,-5.3-4.3,-1.7-4.1,5.3z"/><path fill="#e39d00" stroke="#e39d00" d="M477.7,95.1l4,-3.4-4.5,-1.5-4,3.3z"/><path fill="#007ff2" stroke="#007ff2" d="M380.1,166.4l4.4,-8.7-4,-2-4.3,8.6z"/><path fill="#00f755" stroke="#00f755" d="M405.6,137.8l4.3,-7.1-4.1,-1.9-4.3,7.2z"/><path fill="#df8a00" stroke="#df8a00" d="M486.2,93.3l4,-3-4.5,-1.5-4,2.9z"/><path fill="#00f8d9" stroke="#00f8d9" d="M392.9,151.4l4.3,-7.9-4.1,-1.9-4.3,7.8z"/><path fill="#caef00" stroke="#caef00" d="M448,107.5l4.2,-4.9-4.3,-1.6-4.2,4.8z"/><path fill="#db7b00" stroke="#db7b00" d="M494.8,91.8l3.9,-2.6-4.6,-1.5-3.9,2.6z"/><path fill="#d77000" stroke="#d77000" d="M503.3,90.7l3.8,-2.2-4.6,-1.5-3.8,2.2z"/><path fill="#4ff400" stroke="#4ff400" d="M426.8,121.1l4.2,-6.1-4.2,-1.7-4.2,6z"/><path fill="#d26800" stroke="#d26800" d="M511.8,90l3.8,-1.8-4.7,-1.5-3.8,1.8z"/><path fill="#e8ec00" stroke="#e8ec00" d="M456.6,104.3l4.1,-4.5-4.4,-1.7-4.1,4.5z"/><path fill="#002ce3" stroke="#002ce3" d="M375.8,175.4l4.3,-9-3.9,-2.1-4.4,9z"/><path fill="#00f61b" stroke="#00f61b" d="M414,132.5l4.3,-6.8-4.1,-1.8-4.3,6.8z"/><path fill="#00cdf9" stroke="#00cdf9" d="M388.5,159.7l4.4,-8.3-4.1,-2-4.3,8.3z"/><path fill="#00f797" stroke="#00f797" d="M401.3,145.4l4.3,-7.6-4.1,-1.8-4.3,7.5z"/><path fill="#7bf200" stroke="#7bf200" d="M435.3,116.8l4.2,-5.7-4.2,-1.7-4.3,5.6z"/><path fill="#e9d200" stroke="#e9d200" d="M465.1,101.4l4.1,-4.1-4.4,-1.7-4.1,4.2z"/><path fill="#e6b600" stroke="#e6b600" d="M473.7,98.8l4,-3.7-4.5,-1.6-4,3.8z"/><path fill="#1af500" stroke="#1af500" d="M422.5,127.5l4.3,-6.4-4.2,-1.8-4.3,6.4z"/><path fill="#a3f000" stroke="#a3f000" d="M443.8,112.8l4.2,-5.3-4.3,-1.7-4.2,5.3z"/><path fill="#e39f00" stroke="#e39f00" d="M482.2,96.7l4,-3.4-4.5,-1.6-4,3.4z"/><path fill="#007bf1" stroke="#007bf1" d="M384.2,168.4l4.3,-8.7-4,-2-4.4,8.7z"/><path fill="#00f759" stroke="#00f759" d="M409.7,139.7l4.3,-7.2-4.1,-1.8-4.3,7.1z"/><path fill="#00f8de" stroke="#00f8de" d="M396.9,153.3l4.4,-7.9-4.1,-1.9-4.3,7.9z"/><path fill="#df8d00" stroke="#df8d00" d="M490.8,94.8l4,-3-4.6,-1.5-4,3z"/><path fill="#c6ee00" stroke="#c6ee00" d="M452.4,109.2l4.2,-4.9-4.4,-1.7-4.2,4.9z"/><path fill="#db7d00" stroke="#db7d00" d="M499.4,93.3l3.9,-2.6-4.6,-1.5-3.9,2.6z"/><path fill="#d67200" stroke="#d67200" d="M507.9,92.2l3.9,-2.2-4.7,-1.5-3.8,2.2z"/><path fill="#4bf300" stroke="#4bf300" d="M431.1,122.8l4.2,-6-4.3,-1.8-4.2,6.1z"/><path fill="#0029e2" stroke="#0029e2" d="M379.8,177.5l4.4,-9.1-4.1,-2-4.3,9z"/><path fill="#e4ec00" stroke="#e4ec00" d="M461,105.9l4.1,-4.5-4.4,-1.6-4.1,4.5z"/><path fill="#00f61f" stroke="#00f61f" d="M418.2,134.3l4.3,-6.8-4.2,-1.8-4.3,6.8z"/><path fill="#00c9f8" stroke="#00c9f8" d="M392.6,161.7l4.3,-8.4-4,-1.9-4.4,8.3z"/><path fill="#00f79b" stroke="#00f79b" d="M405.4,147.3l4.3,-7.6-4.1,-1.9-4.3,7.6z"/><path fill="#77f200" stroke="#77f200" d="M439.6,118.5l4.2,-5.7-4.3,-1.7-4.2,5.7z"/><path fill="#e9d400" stroke="#e9d400" d="M469.6,103l4.1,-4.2-4.5,-1.5-4.1,4.1z"/><path fill="#e6b900" stroke="#e6b900" d="M478.2,100.4l4,-3.7-4.5,-1.6-4,3.7z"/><path fill="#16f400" stroke="#16f400" d="M426.8,129.3l4.3,-6.5-4.3,-1.7-4.3,6.4z"/><path fill="#9ff000" stroke="#9ff000" d="M448.2,114.5l4.2,-5.3-4.4,-1.7-4.2,5.3z"/><path fill="#e2a200" stroke="#e2a200" d="M486.8,98.2l4,-3.4-4.6,-1.5-4,3.4z"/><path fill="#0077f0" stroke="#0077f0" d="M388.2,170.4l4.4,-8.7-4.1,-2-4.3,8.7z"/><path fill="#00f65d" stroke="#00f65d" d="M413.9,141.6l4.3,-7.3-4.2,-1.8-4.3,7.2z"/><path fill="#00f8e1" stroke="#00f8e1" d="M401,155.3l4.4,-8-4.1,-1.9-4.4,7.9z"/><path fill="#de8e00" stroke="#de8e00" d="M495.4,96.3l4,-3-4.6,-1.5-4,3z"/><path fill="#c3ee00" stroke="#c3ee00" d="M456.8,110.9l4.2,-5-4.4,-1.6-4.2,4.9z"/><path fill="#da7f00" stroke="#da7f00" d="M504,94.8l3.9,-2.6-4.6,-1.5-3.9,2.6z"/><path fill="#47f300" stroke="#47f300" d="M435.4,124.6l4.2,-6.1-4.3,-1.7-4.2,6z"/><path fill="#0025e1" stroke="#0025e1" d="M383.8,179.5l4.4,-9.1-4,-2-4.4,9.1z"/><path fill="#e1eb00" stroke="#e1eb00" d="M465.4,107.5l4.2,-4.5-4.5,-1.6-4.1,4.5z"/><path fill="#00f523" stroke="#00f523" d="M422.5,136.2l4.3,-6.9-4.3,-1.8-4.3,6.8z"/><path fill="#00c4f8" stroke="#00c4f8" d="M396.7,163.7l4.3,-8.4-4.1,-2-4.3,8.4z"/><path fill="#00f79f" stroke="#00f79f" d="M409.6,149.2l4.3,-7.6-4.2,-1.9-4.3,7.6z"/><path fill="#74f100" stroke="#74f100" d="M444,120.2l4.2,-5.7-4.4,-1.7-4.2,5.7z"/><path fill="#e9d600" stroke="#e9d600" d="M474.1,104.6l4.1,-4.2-4.5,-1.6-4.1,4.2z"/><path fill="#e5bb00" stroke="#e5bb00" d="M482.7,102l4.1,-3.8-4.6,-1.5-4,3.7z"/><path fill="#13f400" stroke="#13f400" d="M431.1,131.1l4.3,-6.5-4.3,-1.8-4.3,6.5z"/><path fill="#9cef00" stroke="#9cef00" d="M452.6,116.2l4.2,-5.3-4.4,-1.7-4.2,5.3z"/><path fill="#e2a400" stroke="#e2a400" d="M491.4,99.7l4,-3.4-4.6,-1.5-4,3.4z"/><path fill="#0073ef" stroke="#0073ef" d="M392.3,172.4l4.4,-8.7-4.1,-2-4.4,8.7z"/><path fill="#00f660" stroke="#00f660" d="M418.1,143.4l4.4,-7.2-4.3,-1.9-4.3,7.3z"/><path fill="#00f7e4" stroke="#00f7e4" d="M405.2,157.2l4.4,-8-4.2,-1.9-4.4,8z"/><path fill="#de9000" stroke="#de9000" d="M500.1,97.8l3.9,-3-4.6,-1.5-4,3z"/><path fill="#c0ed00" stroke="#c0ed00" d="M461.3,112.5l4.1,-5-4.4,-1.6-4.2,5z"/><path fill="#45f300" stroke="#45f300" d="M439.7,126.3l4.3,-6.1-4.4,-1.7-4.2,6.1z"/><path fill="#0021e0" stroke="#0021e0" d="M387.9,181.6l4.4,-9.2-4.1,-2-4.4,9.1z"/><path fill="#deeb00" stroke="#deeb00" d="M469.9,109.2l4.2,-4.6-4.5,-1.6-4.2,4.5z"/><path fill="#00f525" stroke="#00f525" d="M426.8,138l4.3,-6.9-4.3,-1.8-4.3,6.9z"/><path fill="#00c1f8" stroke="#00c1f8" d="M400.8,165.6l4.4,-8.4-4.2,-1.9-4.3,8.4z"/><path fill="#00f7a1" stroke="#00f7a1" d="M413.8,151.1l4.3,-7.7-4.2,-1.8-4.3,7.6z"/><path fill="#70f100" stroke="#70f100" d="M448.4,121.9l4.2,-5.7-4.4,-1.7-4.2,5.7z"/><path fill="#e8d800" stroke="#e8d800" d="M478.6,106.2l4.1,-4.2-4.5,-1.6-4.1,4.2z"/><path fill="#e5bc00" stroke="#e5bc00" d="M487.3,103.5l4.1,-3.8-4.6,-1.5-4.1,3.8z"/><path fill="#10f400" stroke="#10f400" d="M435.4,132.8l4.3,-6.5-4.3,-1.7-4.3,6.5z"/><path fill="#99ef00" stroke="#99ef00" d="M457.1,117.8l4.2,-5.3-4.5,-1.6-4.2,5.3z"/><path fill="#e1a500" stroke="#e1a500" d="M496.1,101.2l4,-3.4-4.7,-1.5-4,3.4z"/><path fill="#006fee" stroke="#006fee" d="M396.4,174.4l4.4,-8.8-4.1,-1.9-4.4,8.7z"/><path fill="#00f663" stroke="#00f663" d="M422.4,145.3l4.4,-7.3-4.3,-1.8-4.4,7.2z"/><path fill="#00f7e8" stroke="#00f7e8" d="M409.4,159.1l4.4,-8-4.2,-1.9-4.4,8z"/><path fill="#bded00" stroke="#bded00" d="M465.8,114.1l4.1,-4.9-4.5,-1.7-4.1,5z"/><path fill="#42f200" stroke="#42f200" d="M444.1,128.1l4.3,-6.2-4.4,-1.7-4.3,6.1z"/><path fill="#001fdf" stroke="#001fdf" d="M392,183.6l4.4,-9.2-4.1,-2-4.4,9.2z"/><path fill="#dcea00" stroke="#dcea00" d="M474.5,110.7l4.1,-4.5-4.5,-1.6-4.2,4.6z"/><path fill="#00f528" stroke="#00f528" d="M431.1,139.8l4.3,-7-4.3,-1.7-4.3,6.9z"/><path fill="#00bef7" stroke="#00bef7" d="M405,167.6l4.4,-8.5-4.2,-1.9-4.4,8.4z"/><path fill="#00f6a4" stroke="#00f6a4" d="M418,152.9l4.4,-7.6-4.3,-1.9-4.3,7.7z"/><path fill="#6ef100" stroke="#6ef100" d="M452.8,123.6l4.3,-5.8-4.5,-1.6-4.2,5.7z"/><path fill="#e8da00" stroke="#e8da00" d="M483.2,107.7l4.1,-4.2-4.6,-1.5-4.1,4.2z"/><path fill="#e4be00" stroke="#e4be00" d="M492,105.1l4.1,-3.9-4.7,-1.5-4.1,3.8z"/><path fill="#0df300" stroke="#0df300" d="M439.8,134.6l4.3,-6.5-4.4,-1.8-4.3,6.5z"/><path fill="#97ef00" stroke="#97ef00" d="M461.5,119.5l4.3,-5.4-4.5,-1.6-4.2,5.3z"/><path fill="#006cee" stroke="#006cee" d="M400.6,176.4l4.4,-8.8-4.2,-2-4.4,8.8z"/><path fill="#00f566" stroke="#00f566" d="M426.7,147.1l4.4,-7.3-4.3,-1.8-4.4,7.3z"/><path fill="#00f7ea" stroke="#00f7ea" d="M413.7,161l4.3,-8.1-4.2,-1.8-4.4,8z"/><path fill="#baec00" stroke="#baec00" d="M470.3,115.7l4.2,-5-4.6,-1.5-4.1,4.9z"/><path fill="#3ff200" stroke="#3ff200" d="M448.5,129.8l4.3,-6.2-4.4,-1.7-4.3,6.2z"/><path fill="#001cde" stroke="#001cde" d="M396.2,185.6l4.4,-9.2-4.2,-2-4.4,9.2z"/><path fill="#d9ea00" stroke="#d9ea00" d="M479.1,112.3l4.1,-4.6-4.6,-1.5-4.1,4.5z"/><path fill="#00f42b" stroke="#00f42b" d="M435.5,141.5l4.3,-6.9-4.4,-1.8-4.3,7z"/><path fill="#00bbf7" stroke="#00bbf7" d="M409.3,169.5l4.4,-8.5-4.3,-1.9-4.4,8.5z"/><path fill="#00f6a7" stroke="#00f6a7" d="M422.4,154.8l4.3,-7.7-4.3,-1.8-4.4,7.6z"/><path fill="#6bf000" stroke="#6bf000" d="M457.3,125.3l4.2,-5.8-4.4,-1.7-4.3,5.8z"/><path fill="#e7db00" stroke="#e7db00" d="M487.9,109.3l4.1,-4.2-4.7,-1.6-4.1,4.2z"/><path fill="#0af300" stroke="#0af300" d="M444.2,136.3l4.3,-6.5-4.4,-1.7-4.3,6.5z"/><path fill="#95ee00" stroke="#95ee00" d="M466.1,121.1l4.2,-5.4-4.5,-1.6-4.3,5.4z"/><path fill="#006aed" stroke="#006aed" d="M404.8,178.4l4.5,-8.9-4.3,-1.9-4.4,8.8z"/><path fill="#00f568" stroke="#00f568" d="M431.1,148.9l4.4,-7.4-4.4,-1.7-4.4,7.3z"/><path fill="#00f6ec" stroke="#00f6ec" d="M418,162.9l4.4,-8.1-4.4,-1.9-4.3,8.1z"/><path fill="#b8ec00" stroke="#b8ec00" d="M474.9,117.3l4.2,-5-4.6,-1.6-4.2,5z"/><path fill="#3df200" stroke="#3df200" d="M453,131.5l4.3,-6.2-4.5,-1.7-4.3,6.2z"/><path fill="#001ade" stroke="#001ade" d="M400.4,187.6l4.4,-9.2-4.2,-2-4.4,9.2z"/><path fill="#d7ea00" stroke="#d7ea00" d="M483.8,113.9l4.1,-4.6-4.7,-1.6-4.1,4.6z"/><path fill="#00f42d" stroke="#00f42d" d="M439.9,143.3l4.3,-7-4.4,-1.7-4.3,6.9z"/><path fill="#00b9f7" stroke="#00b9f7" d="M413.5,171.4l4.5,-8.5-4.3,-1.9-4.4,8.5z"/><path fill="#00f6a9" stroke="#00f6a9" d="M426.7,156.6l4.4,-7.7-4.4,-1.8-4.3,7.7z"/><path fill="#69f000" stroke="#69f000" d="M461.8,126.9l4.3,-5.8-4.6,-1.6-4.2,5.8z"/><path fill="#09f300" stroke="#09f300" d="M448.7,138.1l4.3,-6.6-4.5,-1.7-4.3,6.5z"/><path fill="#92ee00" stroke="#92ee00" d="M470.7,122.8l4.2,-5.5-4.6,-1.6-4.2,5.4z"/><path fill="#0067ec" stroke="#0067ec" d="M409.1,180.3l4.4,-8.9-4.2,-1.9-4.5,8.9z"/><path fill="#00f56a" stroke="#00f56a" d="M435.5,150.7l4.4,-7.4-4.4,-1.8-4.4,7.4z"/><path fill="#00f6ed" stroke="#00f6ed" d="M422.3,164.8l4.4,-8.2-4.3,-1.8-4.4,8.1z"/><path fill="#b6ec00" stroke="#b6ec00" d="M479.6,118.9l4.2,-5-4.7,-1.6-4.2,5z"/><path fill="#3bf100" stroke="#3bf100" d="M457.5,133.2l4.3,-6.3-4.5,-1.6-4.3,6.2z"/><path fill="#0018dd" stroke="#0018dd" d="M404.6,189.6l4.5,-9.3-4.3,-1.9-4.4,9.2z"/><path fill="#00f42f" stroke="#00f42f" d="M444.3,145.1l4.4,-7-4.5,-1.8-4.3,7z"/><path fill="#00b7f7" stroke="#00b7f7" d="M417.9,173.3l4.4,-8.5-4.3,-1.9-4.5,8.5z"/><path fill="#00f5aa" stroke="#00f5aa" d="M431.1,158.5l4.4,-7.8-4.4,-1.8-4.4,7.7z"/><path fill="#68ef00" stroke="#68ef00" d="M466.4,128.6l4.3,-5.8-4.6,-1.7-4.3,5.8z"/><path fill="#08f200" stroke="#08f200" d="M453.2,139.8l4.3,-6.6-4.5,-1.7-4.3,6.6z"/><path fill="#90ed00" stroke="#90ed00" d="M475.3,124.4l4.3,-5.5-4.7,-1.6-4.2,5.5z"/><path fill="#0065ec" stroke="#0065ec" d="M413.4,182.3l4.5,-9-4.4,-1.9-4.4,8.9z"/><path fill="#00f46b" stroke="#00f46b" d="M440,152.5l4.3,-7.4-4.4,-1.8-4.4,7.4z"/><path fill="#00f6ef" stroke="#00f6ef" d="M426.7,166.7l4.4,-8.2-4.4,-1.9-4.4,8.2z"/><path fill="#3af100" stroke="#3af100" d="M462.1,134.8l4.3,-6.2-4.6,-1.7-4.3,6.3z"/><path fill="#0016dc" stroke="#0016dc" d="M408.9,191.6l4.5,-9.3-4.3,-2-4.5,9.3z"/><path fill="#00f331" stroke="#00f331" d="M448.9,146.8l4.3,-7-4.5,-1.7-4.4,7z"/><path fill="#00b5f6" stroke="#00b5f6" d="M422.2,175.2l4.5,-8.5-4.4,-1.9-4.4,8.5z"/><path fill="#00f5ac" stroke="#00f5ac" d="M435.5,160.3l4.5,-7.8-4.5,-1.8-4.4,7.8z"/><path fill="#66ef00" stroke="#66ef00" d="M471.1,130.2l4.2,-5.8-4.6,-1.6-4.3,5.8z"/><path fill="#06f200" stroke="#06f200" d="M457.8,141.5l4.3,-6.7-4.6,-1.6-4.3,6.6z"/><path fill="#0064eb" stroke="#0064eb" d="M417.8,184.2l4.4,-9-4.3,-1.9-4.5,9z"/><path fill="#00f46c" stroke="#00f46c" d="M444.5,154.2l4.4,-7.4-4.6,-1.7-4.3,7.4z"/><path fill="#00f6f1" stroke="#00f6f1" d="M431.1,168.5l4.4,-8.2-4.4,-1.8-4.4,8.2z"/><path fill="#38f000" stroke="#38f000" d="M466.8,136.5l4.3,-6.3-4.7,-1.6-4.3,6.2z"/><path fill="#0016dc" stroke="#0016dc" d="M413.3,193.6l4.5,-9.4-4.4,-1.9-4.5,9.3z"/><path fill="#00f332" stroke="#00f332" d="M453.4,148.5l4.4,-7-4.6,-1.7-4.3,7z"/><path fill="#00b3f6" stroke="#00b3f6" d="M426.7,177.1l4.4,-8.6-4.4,-1.8-4.5,8.5z"/><path fill="#00f5ad" stroke="#00f5ad" d="M440,162.1l4.5,-7.9-4.5,-1.7-4.5,7.8z"/><path fill="#05f200" stroke="#05f200" d="M462.4,143.2l4.4,-6.7-4.7,-1.7-4.3,6.7z"/><path fill="#0062eb" stroke="#0062eb" d="M422.2,186.2l4.5,-9.1-4.5,-1.9-4.4,9z"/><path fill="#00f46d" stroke="#00f46d" d="M449,156l4.4,-7.5-4.5,-1.7-4.4,7.4z"/><path fill="#00f5f1" stroke="#00f5f1" d="M435.6,170.4l4.4,-8.3-4.5,-1.8-4.4,8.2z"/><path fill="#0015db" stroke="#0015db" d="M417.7,195.6l4.5,-9.4-4.4,-2-4.5,9.4z"/><path fill="#00f332" stroke="#00f332" d="M458,150.3l4.4,-7.1-4.6,-1.7-4.4,7z"/><path fill="#00b2f6" stroke="#00b2f6" d="M431.1,179l4.5,-8.6-4.5,-1.9-4.4,8.6z"/><path fill="#00f4ad" stroke="#00f4ad" d="M444.6,163.9l4.4,-7.9-4.5,-1.8-4.5,7.9z"/><path fill="#0061ea" stroke="#0061ea" d="M426.6,188.1l4.5,-9.1-4.4,-1.9-4.5,9.1z"/><path fill="#00f36e" stroke="#00f36e" d="M453.6,157.8l4.4,-7.5-4.6,-1.8-4.4,7.5z"/><path fill="#00f5f1" stroke="#00f5f1" d="M440.1,172.2l4.5,-8.3-4.6,-1.8-4.4,8.3z"/><path fill="#0014db" stroke="#0014db" d="M422.1,197.6l4.5,-9.5-4.4,-1.9-4.5,9.4z"/><path fill="#00b1f5" stroke="#00b1f5" d="M435.6,180.9l4.5,-8.7-4.5,-1.8-4.5,8.6z"/><path fill="#00f4ad" stroke="#00f4ad" d="M449.2,165.7l4.4,-7.9-4.6,-1.8-4.4,7.9z"/><path fill="#0060ea" stroke="#0060ea" d="M431.1,190l4.5,-9.1-4.5,-1.9-4.5,9.1z"/><path fill="#00f5f2" stroke="#00f5f2" d="M444.7,174l4.5,-8.3-4.6,-1.8-4.5,8.3z"/><path fill="#0014db" stroke="#0014db" d="M426.6,199.5l4.5,-9.5-4.5,-1.9-4.5,9.5z"/><path fill="#00b1f5" stroke="#00b1f5" d="M440.2,182.8l4.5,-8.8-4.6,-1.8-4.5,8.7z"/><path fill="#0060ea" stroke="#0060ea" d="M435.7,191.9l4.5,-9.1-4.6,-1.9-4.5,9.1z"/><path fill="#0014db" stroke="#0014db" d="M431.1,201.5l4.6,-9.6-4.6,-1.9-4.5,9.5z"/></g>
<g stroke="#000" stroke-opacity=".4" stroke-width=".4" stroke-linejoin="round"><path fill="#c50000" d="M431.4,44.1l1.2,0-1.8,-.9-1.2,0z"/><path fill="#c70000" d="M430.2,44.1l1.2,0-1.8,-.9-1.3,0z"/><path fill="#c50000" d="M433.2,45l1.3,0-1.9,-.9-1.2,0z"/><path fill="#c90000" d="M428.9,44.1l1.3,0-1.9,-.9-1.2,0z"/><path fill="#c70000" d="M432,45l1.2,0-1.8,-.9-1.2,0z"/><path fill="#c50000" d="M435.1,45.9l1.2,0-1.8,-.9-1.3,0z"/><path fill="#ca0000" d="M427.7,44.2l1.2,-.1-1.8,-.9-1.2,.1z"/><path fill="#c80000" d="M430.8,45.1l1.2,-.1-1.8,-.9-1.3,0z"/><path fill="#c60000" d="M433.9,45.9l1.2,0-1.9,-.9-1.2,0z"/><path fill="#c40000" d="M437,46.8l1.2,.1-1.9,-1-1.2,0z"/><path fill="#c00" d="M426.5,44.3l1.2,-.1-1.8,-.9-1.3,.1z"/><path fill="#ca0000" d="M429.6,45.1l1.2,0-1.9,-1-1.2,.1z"/><path fill="#c80000" d="M432.7,46l1.2,-.1-1.9,-.9-1.2,.1z"/><path fill="#c60000" d="M435.7,46.8l1.3,0-1.9,-.9-1.2,0z"/><path fill="#ce0000" d="M425.2,44.5l1.3,-.2-1.9,-.9-1.2,.2z"/><path fill="#c40000" d="M438.8,47.7l1.3,.1-1.9,-.9-1.2,-.1z"/><path fill="#c00" d="M428.3,45.3l1.3,-.2-1.9,-.9-1.2,.1z"/><path fill="#ca0000" d="M431.4,46l1.3,0-1.9,-.9-1.2,0z"/><path fill="#c80000" d="M434.5,46.9l1.2,-.1-1.8,-.9-1.2,.1z"/><path fill="#cf0000" d="M424,44.7l1.2,-.2-1.8,-.9-1.3,.2z"/><path fill="#c60000" d="M437.6,47.7l1.2,0-1.8,-.9-1.3,0z"/><path fill="#cd0000" d="M427.1,45.4l1.2,-.1-1.8,-1-1.3,.2z"/><path fill="#c40000" d="M440.7,48.6l1.2,.1-1.8,-.9-1.3,-.1z"/><path fill="#cb0000" d="M430.2,46.2l1.2,-.2-1.8,-.9-1.3,.2z"/><path fill="#c90000" d="M433.3,47l1.2,-.1-1.8,-.9-1.3,0z"/><path fill="#d10000" d="M422.7,44.9l1.3,-.2-1.9,-.9-1.2,.2z"/><path fill="#c70000" d="M436.4,47.8l1.2,-.1-1.9,-.9-1.2,.1z"/><path fill="#cf0000" d="M425.8,45.6l1.3,-.2-1.9,-.9-1.2,.2z"/><path fill="#c50000" d="M439.5,48.6l1.2,0-1.9,-.9-1.2,0z"/><path fill="#cd0000" d="M428.9,46.3l1.3,-.1-1.9,-.9-1.2,.1z"/><path fill="#c30000" d="M442.6,49.5l1.2,.1-1.9,-.9-1.2,-.1z"/><path fill="#cb0000" d="M432.1,47.1l1.2,-.1-1.9,-1-1.2,.2z"/><path fill="#d30000" d="M421.5,45.2l1.2,-.3-1.8,-.9-1.3,.3z"/><path fill="#c90000" d="M435.2,47.9l1.2,-.1-1.9,-.9-1.2,.1z"/><path fill="#d10000" d="M424.6,45.8l1.2,-.2-1.8,-.9-1.3,.2z"/><path fill="#c70000" d="M438.3,48.7l1.2,-.1-1.9,-.9-1.2,.1z"/><path fill="#cf0000" d="M427.7,46.5l1.2,-.2-1.8,-.9-1.3,.2z"/><path fill="#c50000" d="M441.4,49.5l1.2,0-1.9,-.9-1.2,0z"/><path fill="#cd0000" d="M430.8,47.2l1.3,-.1-1.9,-.9-1.3,.1z"/><path fill="#d40000" d="M420.2,45.5l1.3,-.3-1.9,-.9-1.2,.3z"/><path fill="#c30300" d="M444.5,50.4l1.2,0-1.9,-.8-1.2,-.1z"/><path fill="#cb0000" d="M433.9,48l1.3,-.1-1.9,-.9-1.2,.1z"/><path fill="#d20000" d="M423.3,46.1l1.3,-.3-1.9,-.9-1.2,.3z"/><path fill="#c90000" d="M437,48.8l1.3,-.1-1.9,-.9-1.2,.1z"/><path fill="#d10000" d="M426.4,46.7l1.3,-.2-1.9,-.9-1.2,.2z"/><path fill="#c70000" d="M440.2,49.6l1.2,-.1-1.9,-.9-1.2,.1z"/><path fill="#d60000" d="M419,45.9l1.2,-.4-1.8,-.9-1.3,.3z"/><path fill="#cf0000" d="M429.6,47.4l1.2,-.2-1.9,-.9-1.2,.2z"/><path fill="#c50000" d="M443.3,50.4l1.2,0-1.9,-.9-1.2,0z"/><path fill="#cd0000" d="M432.7,48.1l1.2,-.1-1.8,-.9-1.3,.1z"/><path fill="#d40000" d="M422.1,46.4l1.2,-.3-1.8,-.9-1.3,.3z"/><path fill="#c30700" d="M446.4,51.3l1.2,0-1.9,-.9-1.2,0z"/><path fill="#cb0000" d="M435.8,48.9l1.2,-.1-1.8,-.9-1.3,.1z"/><path fill="#d20000" d="M425.2,47l1.2,-.3-1.8,-.9-1.3,.3z"/><path fill="#c90000" d="M438.9,49.7l1.3,-.1-1.9,-.9-1.3,.1z"/><path fill="#d80000" d="M417.7,46.2l1.3,-.3-1.9,-1-1.3,.4z"/><path fill="#d00000" d="M428.3,47.7l1.3,-.3-1.9,-.9-1.3,.2z"/><path fill="#c70000" d="M442.1,50.5l1.2,-.1-1.9,-.9-1.2,.1z"/><path fill="#d60000" d="M420.8,46.8l1.3,-.4-1.9,-.9-1.2,.4z"/><path fill="#ce0000" d="M431.4,48.3l1.3,-.2-1.9,-.9-1.2,.2z"/><path fill="#c50400" d="M445.2,51.3l1.2,0-1.9,-.9-1.2,0z"/><path fill="#c00" d="M434.6,49l1.2,-.1-1.9,-.9-1.2,.1z"/><path fill="#d40000" d="M423.9,47.3l1.3,-.3-1.9,-.9-1.2,.3z"/><path fill="#c30b00" d="M448.3,52.2l1.3,0-2,-.9-1.2,0z"/><path fill="#d90000" d="M416.4,46.7l1.3,-.5-1.9,-.9-1.2,.4z"/><path fill="#ca0000" d="M437.7,49.8l1.2,-.1-1.9,-.9-1.2,.1z"/><path fill="#d20000" d="M427.1,47.9l1.2,-.2-1.9,-1-1.2,.3z"/><path fill="#c80000" d="M440.8,50.5l1.3,0-1.9,-.9-1.3,.1z"/><path fill="#d70000" d="M419.6,47.1l1.2,-.3-1.8,-.9-1.3,.3z"/><path fill="#d00000" d="M430.2,48.6l1.2,-.3-1.8,-.9-1.3,.3z"/><path fill="#c60200" d="M444,51.4l1.2,-.1-1.9,-.9-1.2,.1z"/><path fill="#d50000" d="M422.7,47.7l1.2,-.4-1.8,-.9-1.3,.4z"/><path fill="#ce0000" d="M433.3,49.2l1.3,-.2-1.9,-.9-1.3,.2z"/><path fill="#c40800" d="M447.1,52.2l1.2,0-1.9,-.9-1.2,0z"/><path fill="#db0000" d="M415.2,47.1l1.2,-.4-1.8,-1-1.3,.5z"/><path fill="#c00" d="M436.5,49.9l1.2,-.1-1.9,-.9-1.2,.1z"/><path fill="#d40000" d="M425.8,48.2l1.3,-.3-1.9,-.9-1.3,.3z"/><path fill="#c20f00" d="M450.3,53.1l1.2,0-1.9,-.9-1.3,0z"/><path fill="#d90000" d="M418.3,47.6l1.3,-.5-1.9,-.9-1.3,.5z"/><path fill="#ca0000" d="M439.6,50.7l1.2,-.2-1.9,-.8-1.2,.1z"/><path fill="#d20000" d="M428.9,48.8l1.3,-.2-1.9,-.9-1.2,.2z"/><path fill="#c80000" d="M442.7,51.4l1.3,0-1.9,-.9-1.3,0z"/><path fill="#d70000" d="M421.4,48.1l1.3,-.4-1.9,-.9-1.2,.3z"/><path fill="#d00000" d="M432.1,49.5l1.2,-.3-1.9,-.9-1.2,.3z"/><path fill="#dc0000" d="M413.9,47.6l1.3,-.5-1.9,-.9-1.3,.5z"/><path fill="#c60500" d="M445.9,52.2l1.2,0-1.9,-.9-1.2,.1z"/><path fill="#d50000" d="M424.5,48.6l1.3,-.4-1.9,-.9-1.2,.4z"/><path fill="#ce0000" d="M435.2,50.1l1.3,-.2-1.9,-.9-1.3,.2z"/><path fill="#c40c00" d="M449,53.1l1.3,0-2,-.9-1.2,0z"/><path fill="#da0000" d="M417,48l1.3,-.4-1.9,-.9-1.2,.4z"/><path fill="#c00" d="M438.4,50.8l1.2,-.1-1.9,-.9-1.2,.1z"/><path fill="#d30000" d="M427.7,49.1l1.2,-.3-1.8,-.9-1.3,.3z"/><path fill="#c21300" d="M452.2,54l1.2,0-1.9,-.9-1.2,0z"/><path fill="#d90000" d="M420.1,48.5l1.3,-.4-1.8,-1-1.3,.5z"/><path fill="#ca0000" d="M441.5,51.6l1.2,-.2-1.9,-.9-1.2,.2z"/><path fill="#d10000" d="M430.8,49.7l1.3,-.2-1.9,-.9-1.3,.2z"/><path fill="#de0000" d="M412.6,48.2l1.3,-.6-1.9,-.9-1.2,.5z"/><path fill="#c80300" d="M444.7,52.3l1.2,-.1-1.9,-.8-1.3,0z"/><path fill="#d70000" d="M423.3,49l1.2,-.4-1.8,-.9-1.3,.4z"/><path fill="#cf0000" d="M434,50.4l1.2,-.3-1.9,-.9-1.2,.3z"/><path fill="#dc0000" d="M415.7,48.5l1.3,-.5-1.8,-.9-1.3,.5z"/><path fill="#c60900" d="M447.8,53.1l1.2,0-1.9,-.9-1.2,0z"/><path fill="#d50000" d="M426.4,49.5l1.3,-.4-1.9,-.9-1.3,.4z"/><path fill="#cd0000" d="M437.1,51l1.3,-.2-1.9,-.9-1.3,.2z"/><path fill="#c41000" d="M451,54l1.2,0-1.9,-.9-1.3,0z"/><path fill="#da0000" d="M418.9,48.9l1.2,-.4-1.8,-.9-1.3,.4z"/><path fill="#df0000" d="M411.3,48.7l1.3,-.5-1.8,-1-1.3,.6z"/><path fill="#cb0000" d="M440.3,51.7l1.2,-.1-1.9,-.9-1.2,.1z"/><path fill="#d30000" d="M429.6,50l1.2,-.3-1.9,-.9-1.2,.3z"/><path fill="#c21700" d="M454.1,54.8l1.2,.1-1.9,-.9-1.2,0z"/><path fill="#d80000" d="M422,49.4l1.3,-.4-1.9,-.9-1.3,.4z"/><path fill="#c90100" d="M443.4,52.4l1.3,-.1-2,-.9-1.2,.2z"/><path fill="#d10000" d="M432.7,50.6l1.3,-.2-1.9,-.9-1.3,.2z"/><path fill="#d00" d="M414.5,49.1l1.2,-.6-1.8,-.9-1.3,.6z"/><path fill="#c70700" d="M446.6,53.2l1.2,-.1-1.9,-.9-1.2,.1z"/><path fill="#d60000" d="M425.2,49.9l1.2,-.4-1.9,-.9-1.2,.4z"/><path fill="#cf0000" d="M435.9,51.2l1.2,-.2-1.9,-.9-1.2,.3z"/><path fill="#dc0000" d="M417.6,49.4l1.3,-.5-1.9,-.9-1.3,.5z"/><path fill="#e00000" d="M410,49.3l1.3,-.6-1.8,-.9-1.3,.6z"/><path fill="#c50d00" d="M449.8,54l1.2,0-2,-.9-1.2,0z"/><path fill="#d50000" d="M428.3,50.4l1.3,-.4-1.9,-.9-1.3,.4z"/><path fill="#cd0000" d="M439,51.9l1.3,-.2-1.9,-.9-1.3,.2z"/><path fill="#c31400" d="M452.9,54.8l1.2,0-1.9,-.8-1.2,0z"/><path fill="#da0000" d="M420.7,49.8l1.3,-.4-1.9,-.9-1.2,.4z"/><path fill="#df0000" d="M413.2,49.6l1.3,-.5-1.9,-.9-1.3,.5z"/><path fill="#cb0000" d="M442.2,52.6l1.2,-.2-1.9,-.8-1.2,.1z"/><path fill="#d30000" d="M431.5,50.9l1.2,-.3-1.9,-.9-1.2,.3z"/><path fill="#c11b00" d="M456.1,55.7l1.2,0-2,-.8-1.2,-.1z"/><path fill="#d80000" d="M423.9,50.3l1.3,-.4-1.9,-.9-1.3,.4z"/><path fill="#c90500" d="M445.4,53.3l1.2,-.1-1.9,-.9-1.3,.1z"/><path fill="#d10000" d="M434.6,51.5l1.3,-.3-1.9,-.8-1.3,.2z"/><path fill="#d00" d="M416.3,50l1.3,-.6-1.9,-.9-1.2,.6z"/><path fill="#e20000" d="M408.7,50l1.3,-.7-1.8,-.9-1.3,.7z"/><path fill="#c70b00" d="M448.5,54.1l1.3,-.1-2,-.9-1.2,.1z"/><path fill="#d60000" d="M427,50.8l1.3,-.4-1.9,-.9-1.2,.4z"/><path fill="#cf0000" d="M437.8,52.1l1.2,-.2-1.9,-.9-1.2,.2z"/><path fill="#db0000" d="M419.5,50.3l1.2,-.5-1.8,-.9-1.3,.5z"/><path fill="#e00000" d="M411.9,50.3l1.3,-.7-1.9,-.9-1.3,.6z"/><path fill="#c51100" d="M451.7,54.9l1.2,-.1-1.9,-.8-1.2,0z"/><path fill="#d40000" d="M430.2,51.3l1.3,-.4-1.9,-.9-1.3,.4z"/><path fill="#cd0000" d="M441,52.8l1.2,-.2-1.9,-.9-1.3,.2z"/><path fill="#da0000" d="M422.6,50.8l1.3,-.5-1.9,-.9-1.3,.4z"/><path fill="#c31800" d="M454.9,55.7l1.2,0-2,-.9-1.2,0z"/><path fill="#de0000" d="M415,50.6l1.3,-.6-1.8,-.9-1.3,.5z"/><path fill="#e30000" d="M407.4,50.7l1.3,-.7-1.8,-.9-1.3,.7z"/><path fill="#d20000" d="M433.4,51.8l1.2,-.3-1.9,-.9-1.2,.3z"/><path fill="#cb0300" d="M444.1,53.5l1.3,-.2-2,-.9-1.2,.2z"/><path fill="#c11e00" d="M458,56.6l1.3,0-2,-.9-1.2,0z"/><path fill="#d80000" d="M425.8,51.2l1.2,-.4-1.8,-.9-1.3,.4z"/><path fill="#c90900" d="M447.3,54.2l1.2,-.1-1.9,-.9-1.2,.1z"/><path fill="#d00000" d="M436.5,52.4l1.3,-.3-1.9,-.9-1.3,.3z"/><path fill="#d00" d="M418.2,50.9l1.3,-.6-1.9,-.9-1.3,.6z"/><path fill="#e10000" d="M410.6,50.9l1.3,-.6-1.9,-1-1.3,.7z"/><path fill="#d60000" d="M428.9,51.7l1.3,-.4-1.9,-.9-1.3,.4z"/><path fill="#c70f00" d="M450.5,55l1.2,-.1-1.9,-.9-1.3,.1z"/><path fill="#cf0000" d="M439.7,53l1.3,-.2-2,-.9-1.2,.2z"/><path fill="#db0000" d="M421.3,51.3l1.3,-.5-1.9,-1-1.2,.5z"/><path fill="#e40000" d="M406.1,51.4l1.3,-.7-1.8,-.9-1.3,.7z"/><path fill="#e00000" d="M413.7,51.2l1.3,-.6-1.8,-1-1.3,.7z"/><path fill="#c51500" d="M453.6,55.7l1.3,0-2,-.9-1.2,.1z"/><path fill="#d40000" d="M432.1,52.2l1.3,-.4-1.9,-.9-1.3,.4z"/><path fill="#cd0200" d="M442.9,53.7l1.2,-.2-1.9,-.9-1.2,.2z"/><path fill="#d90000" d="M424.5,51.7l1.3,-.5-1.9,-.9-1.3,.5z"/><path fill="#c31c00" d="M456.8,56.6l1.2,0-1.9,-.9-1.2,0z"/><path fill="#de0000" d="M416.9,51.5l1.3,-.6-1.9,-.9-1.3,.6z"/><path fill="#e30000" d="M409.3,51.6l1.3,-.7-1.9,-.9-1.3,.7z"/><path fill="#d20000" d="M435.3,52.7l1.2,-.3-1.9,-.9-1.2,.3z"/><path fill="#cb0700" d="M446.1,54.4l1.2,-.2-1.9,-.9-1.3,.2z"/><path fill="#c12200" d="M460,57.4l1.2,.1-1.9,-.9-1.3,0z"/><path fill="#d70000" d="M427.7,52.1l1.2,-.4-1.9,-.9-1.2,.4z"/><path fill="#c90d00" d="M449.2,55.1l1.3,-.1-2,-.9-1.2,.1z"/><path fill="#d00000" d="M438.5,53.3l1.2,-.3-1.9,-.9-1.3,.3z"/><path fill="#dc0000" d="M420.1,51.8l1.2,-.5-1.8,-1-1.3,.6z"/><path fill="#e50000" d="M404.8,52.2l1.3,-.8-1.8,-.9-1.3,.8z"/><path fill="#e10000" d="M412.5,51.8l1.2,-.6-1.8,-.9-1.3,.6z"/><path fill="#d60000" d="M430.8,52.6l1.3,-.4-1.9,-.9-1.3,.4z"/><path fill="#c71300" d="M452.4,55.8l1.2,-.1-1.9,-.8-1.2,.1z"/><path fill="#ce0100" d="M441.6,53.9l1.3,-.2-1.9,-.9-1.3,.2z"/><path fill="#db0000" d="M423.2,52.2l1.3,-.5-1.9,-.9-1.3,.5z"/><path fill="#e40000" d="M408,52.3l1.3,-.7-1.9,-.9-1.3,.7z"/><path fill="#e00000" d="M415.6,52.1l1.3,-.6-1.9,-.9-1.3,.6z"/><path fill="#c51900" d="M455.6,56.6l1.2,0-1.9,-.9-1.3,0z"/><path fill="#d40000" d="M434,53.1l1.3,-.4-1.9,-.9-1.3,.4z"/><path fill="#cc0600" d="M444.8,54.5l1.3,-.1-2,-.9-1.2,.2z"/><path fill="#d90000" d="M426.4,52.5l1.3,-.4-1.9,-.9-1.3,.5z"/><path fill="#c31f00" d="M458.8,57.4l1.2,0-2,-.8-1.2,0z"/><path fill="#e70000" d="M403.5,53l1.3,-.8-1.8,-.9-1.3,.8z"/><path fill="#de0000" d="M418.8,52.4l1.3,-.6-1.9,-.9-1.3,.6z"/><path fill="#e20000" d="M411.2,52.5l1.3,-.7-1.9,-.9-1.3,.7z"/><path fill="#d20000" d="M437.2,53.6l1.3,-.3-2,-.9-1.2,.3z"/><path fill="#ca0b00" d="M448,55.2l1.2,-.1-1.9,-.9-1.2,.2z"/><path fill="#c12500" d="M462,58.3l1.2,0-2,-.8-1.2,-.1z"/><path fill="#d70000" d="M429.6,53l1.2,-.4-1.9,-.9-1.2,.4z"/><path fill="#c81000" d="M451.2,55.9l1.2,-.1-1.9,-.8-1.3,.1z"/><path fill="#d00000" d="M440.4,54.2l1.2,-.3-1.9,-.9-1.2,.3z"/><path fill="#dc0000" d="M422,52.7l1.2,-.5-1.9,-.9-1.2,.5z"/><path fill="#e50000" d="M406.7,53.1l1.3,-.8-1.9,-.9-1.3,.8z"/><path fill="#e10000" d="M414.3,52.7l1.3,-.6-1.9,-.9-1.2,.6z"/><path fill="#d50000" d="M432.8,53.4l1.2,-.3-1.9,-.9-1.3,.4z"/><path fill="#c61700" d="M454.4,56.7l1.2,-.1-2,-.9-1.2,.1z"/><path fill="#ce0500" d="M443.6,54.8l1.2,-.3-1.9,-.8-1.3,.2z"/><path fill="#e80000" d="M402.2,53.9l1.3,-.9-1.8,-.9-1.3,.8z"/><path fill="#da0000" d="M425.1,53.1l1.3,-.6-1.9,-.8-1.3,.5z"/><path fill="#e40000" d="M409.9,53.3l1.3,-.8-1.9,-.9-1.3,.7z"/><path fill="#df0000" d="M417.5,53l1.3,-.6-1.9,-.9-1.3,.6z"/><path fill="#c41c00" d="M457.6,57.5l1.2,-.1-2,-.8-1.2,0z"/><path fill="#d30000" d="M435.9,53.9l1.3,-.3-1.9,-.9-1.3,.4z"/><path fill="#cc0a00" d="M446.8,55.4l1.2,-.2-1.9,-.8-1.3,.1z"/><path fill="#d90000" d="M428.3,53.4l1.3,-.4-1.9,-.9-1.3,.4z"/><path fill="#c22200" d="M460.8,58.3l1.2,0-2,-.9-1.2,0z"/><path fill="#e60000" d="M405.4,53.9l1.3,-.8-1.9,-.9-1.3,.8z"/><path fill="#de0000" d="M420.7,53.3l1.3,-.6-1.9,-.9-1.3,.6z"/><path fill="#e20000" d="M413,53.4l1.3,-.7-1.8,-.9-1.3,.7z"/><path fill="#d20000" d="M439.1,54.5l1.3,-.3-1.9,-.9-1.3,.3z"/><path fill="#ca0f00" d="M450,56.1l1.2,-.2-2,-.8-1.2,.1z"/><path fill="#c02900" d="M464,59.2l1.2,0-2,-.9-1.2,0z"/><path fill="#d70000" d="M431.5,53.9l1.3,-.5-2,-.8-1.2,.4z"/><path fill="#e90000" d="M400.9,54.8l1.3,-.9-1.8,-1-1.3,.9z"/><path fill="#c81400" d="M453.1,56.8l1.3,-.1-2,-.9-1.2,.1z"/><path fill="#d00400" d="M442.3,55l1.3,-.2-2,-.9-1.2,.3z"/><path fill="#dc0000" d="M423.9,53.6l1.2,-.5-1.9,-.9-1.2,.5z"/><path fill="#e50000" d="M408.6,54l1.3,-.7-1.9,-1-1.3,.8z"/><path fill="#e10000" d="M416.2,53.6l1.3,-.6-1.9,-.9-1.3,.6z"/><path fill="#d50000" d="M434.7,54.3l1.2,-.4-1.9,-.8-1.2,.3z"/><path fill="#c61a00" d="M456.3,57.6l1.3,-.1-2,-.9-1.2,.1z"/><path fill="#ce0900" d="M445.5,55.7l1.3,-.3-2,-.9-1.2,.3z"/><path fill="#e80000" d="M404.1,54.8l1.3,-.9-1.9,-.9-1.3,.9z"/><path fill="#da0000" d="M427,53.9l1.3,-.5-1.9,-.9-1.3,.6z"/><path fill="#e30000" d="M411.7,54.2l1.3,-.8-1.8,-.9-1.3,.8z"/><path fill="#df0000" d="M419.4,53.9l1.3,-.6-1.9,-.9-1.3,.6z"/><path fill="#c42000" d="M459.5,58.3l1.3,0-2,-.9-1.2,.1z"/><path fill="#d30000" d="M437.9,54.8l1.2,-.3-1.9,-.9-1.3,.3z"/><path fill="#cc0e00" d="M448.7,56.3l1.3,-.2-2,-.9-1.2,.2z"/><path fill="#ea0600" d="M399.6,55.7l1.3,-.9-1.8,-1-1.3,1z"/><path fill="#d80000" d="M430.2,54.3l1.3,-.4-1.9,-.9-1.3,.4z"/><path fill="#c22600" d="M462.8,59.2l1.2,0-2,-.9-1.2,0z"/><path fill="#e60000" d="M407.3,54.8l1.3,-.8-1.9,-.9-1.3,.8z"/><path fill="#d00" d="M422.6,54.2l1.3,-.6-1.9,-.9-1.3,.6z"/><path fill="#e20000" d="M414.9,54.3l1.3,-.7-1.9,-.9-1.3,.7z"/><path fill="#d10400" d="M441.1,55.4l1.2,-.4-1.9,-.8-1.3,.3z"/><path fill="#ca1300" d="M451.9,57l1.2,-.2-1.9,-.9-1.2,.2z"/><path fill="#c02c00" d="M466,60l1.2,.1-2,-.9-1.2,0z"/><path fill="#d70000" d="M433.4,54.8l1.3,-.5-1.9,-.9-1.3,.5z"/><path fill="#e90500" d="M402.8,55.7l1.3,-.9-1.9,-.9-1.3,.9z"/><path fill="#c81800" d="M455.1,57.7l1.2,-.1-1.9,-.9-1.3,.1z"/><path fill="#cf0800" d="M444.3,55.9l1.2,-.2-1.9,-.9-1.3,.2z"/><path fill="#dc0000" d="M425.8,54.5l1.2,-.6-1.9,-.8-1.2,.5z"/><path fill="#e50000" d="M410.4,54.9l1.3,-.7-1.8,-.9-1.3,.7z"/><path fill="#e00000" d="M418.1,54.6l1.3,-.7-1.9,-.9-1.3,.6z"/><path fill="#eb0e00" d="M398.3,56.7l1.3,-1-1.8,-.9-1.3,.9z"/><path fill="#d50000" d="M436.6,55.2l1.3,-.4-2,-.9-1.2,.4z"/><path fill="#c61d00" d="M458.3,58.4l1.2,-.1-1.9,-.8-1.3,.1z"/><path fill="#cd0d00" d="M447.5,56.5l1.2,-.2-1.9,-.9-1.3,.3z"/><path fill="#e70400" d="M406,55.7l1.3,-.9-1.9,-.9-1.3,.9z"/><path fill="#da0000" d="M428.9,54.8l1.3,-.5-1.9,-.9-1.3,.5z"/><path fill="#e30000" d="M413.6,55.1l1.3,-.8-1.9,-.9-1.3,.8z"/><path fill="#df0000" d="M421.3,54.8l1.3,-.6-1.9,-.9-1.3,.6z"/><path fill="#c42300" d="M461.5,59.2l1.3,0-2,-.9-1.3,0z"/><path fill="#d30400" d="M439.8,55.7l1.3,-.3-2,-.9-1.2,.3z"/><path fill="#cb1200" d="M450.7,57.2l1.2,-.2-1.9,-.9-1.3,.2z"/><path fill="#ea0c00" d="M401.5,56.6l1.3,-.9-1.9,-.9-1.3,.9z"/><path fill="#d80000" d="M432.1,55.2l1.3,-.4-1.9,-.9-1.3,.4z"/><path fill="#e60300" d="M409.1,55.8l1.3,-.9-1.8,-.9-1.3,.8z"/><path fill="#c22900" d="M464.7,60l1.3,0-2,-.8-1.2,0z"/><path fill="#d00" d="M424.5,55.1l1.3,-.6-1.9,-.9-1.3,.6z"/><path fill="#e20000" d="M416.8,55.2l1.3,-.6-1.9,-1-1.3,.7z"/><path fill="#d10700" d="M443,56.2l1.3,-.3-2,-.9-1.2,.4z"/><path fill="#ec1500" d="M397,57.7l1.3,-1-1.8,-1-1.4,1z"/><path fill="#c91600" d="M453.9,57.8l1.2,-.1-2,-.9-1.2,.2z"/><path fill="#c02f00" d="M468,60.9l1.2,0-2,-.8-1.2,-.1z"/><path fill="#d60100" d="M435.3,55.6l1.3,-.4-1.9,-.9-1.3,.5z"/><path fill="#e80a00" d="M404.6,56.6l1.4,-.9-1.9,-.9-1.3,.9z"/><path fill="#c71b00" d="M457.1,58.5l1.2,-.1-2,-.8-1.2,.1z"/><path fill="#db0000" d="M427.7,55.4l1.2,-.6-1.9,-.9-1.2,.6z"/><path fill="#cf0c00" d="M446.2,56.8l1.3,-.3-2,-.8-1.2,.2z"/><path fill="#e40200" d="M412.3,55.9l1.3,-.8-1.9,-.9-1.3,.7z"/><path fill="#e00000" d="M420,55.5l1.3,-.7-1.9,-.9-1.3,.7z"/><path fill="#eb1200" d="M400.1,57.6l1.4,-1-1.9,-.9-1.3,1z"/><path fill="#d50400" d="M438.5,56.1l1.3,-.4-1.9,-.9-1.3,.4z"/><path fill="#c52100" d="M460.3,59.3l1.2,-.1-2,-.9-1.2,.1z"/><path fill="#cd1000" d="M449.4,57.4l1.3,-.2-2,-.9-1.2,.2z"/><path fill="#e70800" d="M407.8,56.6l1.3,-.8-1.8,-1-1.3,.9z"/><path fill="#da0000" d="M430.9,55.7l1.2,-.5-1.9,-.9-1.3,.5z"/><path fill="#ed1e00" d="M395.7,58.7l1.3,-1-1.9,-1-1.3,1.1z"/><path fill="#e30200" d="M415.5,56l1.3,-.8-1.9,-.9-1.3,.8z"/><path fill="#df0000" d="M423.2,55.7l1.3,-.6-1.9,-.9-1.3,.6z"/><path fill="#c32600" d="M463.5,60.1l1.2,-.1-1.9,-.8-1.3,0z"/><path fill="#d30800" d="M441.8,56.6l1.2,-.4-1.9,-.8-1.3,.3z"/><path fill="#cb1500" d="M452.6,58l1.3,-.2-2,-.8-1.2,.2z"/><path fill="#e91000" d="M403.3,57.5l1.3,-.9-1.8,-.9-1.3,.9z"/><path fill="#d80300" d="M434.1,56.1l1.2,-.5-1.9,-.8-1.3,.4z"/><path fill="#e60700" d="M411,56.7l1.3,-.8-1.9,-1-1.3,.9z"/><path fill="#c12c00" d="M466.7,60.9l1.3,0-2,-.9-1.3,0z"/><path fill="#dd0100" d="M426.4,56l1.3,-.6-1.9,-.9-1.3,.6z"/><path fill="#e10200" d="M418.7,56.1l1.3,-.6-1.9,-.9-1.3,.6z"/><path fill="#ec1b00" d="M398.8,58.6l1.3,-1-1.8,-.9-1.3,1z"/><path fill="#d10b00" d="M445,57.1l1.2,-.3-1.9,-.9-1.3,.3z"/><path fill="#c91a00" d="M455.9,58.7l1.2,-.2-2,-.8-1.2,.1z"/><path fill="#bf3200" d="M470,61.7l1.2,.1-2,-.9-1.2,0z"/><path fill="#e80f00" d="M406.5,57.5l1.3,-.9-1.8,-.9-1.4,.9z"/><path fill="#d60500" d="M437.3,56.5l1.2,-.4-1.9,-.9-1.3,.4z"/><path fill="#ee2600" d="M394.3,59.8l1.4,-1.1-1.9,-.9-1.3,1.1z"/><path fill="#c71f00" d="M459.1,59.4l1.2,-.1-2,-.9-1.2,.1z"/><path fill="#e40600" d="M414.2,56.8l1.3,-.8-1.9,-.9-1.3,.8z"/><path fill="#db0300" d="M429.6,56.3l1.3,-.6-2,-.9-1.2,.6z"/><path fill="#cf0f00" d="M448.2,57.7l1.2,-.3-1.9,-.9-1.3,.3z"/><path fill="#e00300" d="M421.9,56.3l1.3,-.6-1.9,-.9-1.3,.7z"/><path fill="#ea1800" d="M402,58.5l1.3,-1-1.8,-.9-1.4,1z"/><path fill="#d40800" d="M440.5,57l1.3,-.4-2,-.9-1.3,.4z"/><path fill="#c52400" d="M462.3,60.1l1.2,0-2,-.9-1.2,.1z"/><path fill="#cd1400" d="M451.4,58.3l1.2,-.3-1.9,-.8-1.3,.2z"/><path fill="#e70d00" d="M409.7,57.5l1.3,-.8-1.9,-.9-1.3,.8z"/><path fill="#d90400" d="M432.8,56.6l1.3,-.5-2,-.9-1.2,.5z"/><path fill="#ed2200" d="M397.5,59.6l1.3,-1-1.8,-.9-1.3,1z"/><path fill="#e30600" d="M417.4,56.9l1.3,-.8-1.9,-.9-1.3,.8z"/><path fill="#de0300" d="M425.1,56.6l1.3,-.6-1.9,-.9-1.3,.6z"/><path fill="#c32a00" d="M465.5,60.9l1.2,0-2,-.9-1.2,.1z"/><path fill="#d20c00" d="M443.7,57.5l1.3,-.4-2,-.9-1.2,.4z"/><path fill="#ef3000" d="M393,60.9l1.3,-1.1-1.8,-.9-1.3,1.1z"/><path fill="#e91500" d="M405.2,58.4l1.3,-.9-1.9,-.9-1.3,.9z"/><path fill="#cb1900" d="M454.6,58.9l1.3,-.2-2,-.9-1.3,.2z"/><path fill="#d80700" d="M436,57l1.3,-.5-2,-.9-1.2,.5z"/><path fill="#e50c00" d="M412.9,57.6l1.3,-.8-1.9,-.9-1.3,.8z"/><path fill="#c13000" d="M468.8,61.7l1.2,0-2,-.8-1.3,0z"/><path fill="#dd0400" d="M428.3,56.8l1.3,-.5-1.9,-.9-1.3,.6z"/><path fill="#e10600" d="M420.6,57l1.3,-.7-1.9,-.8-1.3,.6z"/><path fill="#eb1f00" d="M400.7,59.5l1.3,-1-1.9,-.9-1.3,1z"/><path fill="#d01000" d="M446.9,58l1.3,-.3-2,-.9-1.2,.3z"/><path fill="#c91d00" d="M457.8,59.5l1.3,-.1-2,-.9-1.2,.2z"/><path fill="#bf3500" d="M472,62.6l1.2,0-2,-.8-1.2,-.1z"/><path fill="#e81300" d="M408.4,58.4l1.3,-.9-1.9,-.9-1.3,.9z"/><path fill="#d60900" d="M439.2,57.4l1.3,-.4-2,-.9-1.2,.4z"/><path fill="#ee2c00" d="M396.2,60.7l1.3,-1.1-1.8,-.9-1.4,1.1z"/><path fill="#e40b00" d="M416.1,57.7l1.3,-.8-1.9,-.9-1.3,.8z"/><path fill="#db0600" d="M431.5,57.1l1.3,-.5-1.9,-.9-1.3,.6z"/><path fill="#c72200" d="M461.1,60.2l1.2,-.1-2,-.8-1.2,.1z"/><path fill="#cf1300" d="M450.2,58.5l1.2,-.2-2,-.9-1.2,.3z"/><path fill="#e00700" d="M423.8,57.2l1.3,-.6-1.9,-.9-1.3,.6z"/><path fill="#ef3900" d="M391.7,62.1l1.3,-1.2-1.8,-.9-1.4,1.2z"/><path fill="#ea1c00" d="M403.9,59.4l1.3,-1-1.9,-.9-1.3,1z"/><path fill="#d40c00" d="M442.4,57.8l1.3,-.3-1.9,-.9-1.3,.4z"/><path fill="#c52700" d="M464.3,61l1.2,-.1-2,-.8-1.2,0z"/><path fill="#e71100" d="M411.6,58.4l1.3,-.8-1.9,-.9-1.3,.8z"/><path fill="#cd1700" d="M453.4,59.1l1.2,-.2-2,-.9-1.2,.3z"/><path fill="#d90900" d="M434.7,57.5l1.3,-.5-1.9,-.9-1.3,.5z"/><path fill="#ec2800" d="M399.4,60.6l1.3,-1.1-1.9,-.9-1.3,1z"/><path fill="#e20b00" d="M419.3,57.8l1.3,-.8-1.9,-.9-1.3,.8z"/><path fill="#de0800" d="M427,57.5l1.3,-.7-1.9,-.8-1.3,.6z"/><path fill="#c32d00" d="M467.5,61.8l1.3,-.1-2.1,-.8-1.2,0z"/><path fill="#d21000" d="M445.7,58.3l1.2,-.3-1.9,-.9-1.3,.4z"/><path fill="#ee3400" d="M394.8,61.9l1.4,-1.2-1.9,-.9-1.3,1.1z"/><path fill="#e91a00" d="M407.1,59.4l1.3,-1-1.9,-.9-1.3,.9z"/><path fill="#cb1c00" d="M456.6,59.7l1.2,-.2-1.9,-.8-1.3,.2z"/><path fill="#d70b00" d="M438,57.9l1.2,-.5-1.9,-.9-1.3,.5z"/><path fill="#e51000" d="M414.8,58.5l1.3,-.8-1.9,-.9-1.3,.8z"/><path fill="#f04400" d="M390.3,63.3l1.4,-1.2-1.9,-.9-1.3,1.2z"/><path fill="#c13300" d="M470.8,62.6l1.2,0-2,-.9-1.2,0z"/><path fill="#dc0900" d="M430.2,57.7l1.3,-.6-1.9,-.8-1.3,.5z"/><path fill="#e10b00" d="M422.5,57.9l1.3,-.7-1.9,-.9-1.3,.7z"/><path fill="#eb2400" d="M402.6,60.4l1.3,-1-1.9,-.9-1.3,1z"/><path fill="#d01300" d="M448.9,58.8l1.3,-.3-2,-.8-1.3,.3z"/><path fill="#c92100" d="M459.8,60.4l1.3,-.2-2,-.8-1.3,.1z"/><path fill="#bf3800" d="M474,63.4l1.2,0-2,-.8-1.2,0z"/><path fill="#e81800" d="M410.3,59.3l1.3,-.9-1.9,-.9-1.3,.9z"/><path fill="#d60d00" d="M441.2,58.3l1.2,-.5-1.9,-.8-1.3,.4z"/><path fill="#ed3000" d="M398,61.7l1.4,-1.1-1.9,-1-1.3,1.1z"/><path fill="#e40f00" d="M418,58.6l1.3,-.8-1.9,-.9-1.3,.8z"/><path fill="#db0a00" d="M433.5,58l1.2,-.5-1.9,-.9-1.3,.5z"/><path fill="#c72500" d="M463.1,61.1l1.2,-.1-2,-.9-1.2,.1z"/><path fill="#ce1700" d="M452.1,59.4l1.3,-.3-2,-.8-1.2,.2z"/><path fill="#df0b00" d="M425.7,58.1l1.3,-.6-1.9,-.9-1.3,.6z"/><path fill="#ef3e00" d="M393.5,63l1.3,-1.1-1.8,-1-1.3,1.2z"/><path fill="#ea2100" d="M405.8,60.3l1.3,-.9-1.9,-1-1.3,1z"/><path fill="#f14e00" d="M389,64.6l1.3,-1.3-1.8,-.9-1.3,1.2z"/><path fill="#d41000" d="M444.4,58.7l1.3,-.4-2,-.8-1.3,.3z"/><path fill="#c52a00" d="M466.3,61.8l1.2,0-2,-.9-1.2,.1z"/><path fill="#e61600" d="M413.5,59.3l1.3,-.8-1.9,-.9-1.3,.8z"/><path fill="#cc1b00" d="M455.4,60l1.2,-.3-2,-.8-1.2,.2z"/><path fill="#d90c00" d="M436.7,58.4l1.3,-.5-2,-.9-1.3,.5z"/><path fill="#ec2c00" d="M401.2,61.5l1.4,-1.1-1.9,-.9-1.3,1.1z"/><path fill="#e20f00" d="M421.2,58.7l1.3,-.8-1.9,-.9-1.3,.8z"/><path fill="#de0c00" d="M428.9,58.4l1.3,-.7-1.9,-.9-1.3,.7z"/><path fill="#c33000" d="M469.6,62.6l1.2,0-2,-.9-1.3,.1z"/><path fill="#d21300" d="M447.6,59.2l1.3,-.4-2,-.8-1.2,.3z"/><path fill="#ee3900" d="M396.7,62.8l1.3,-1.1-1.8,-1-1.4,1.2z"/><path fill="#e91e00" d="M409,60.3l1.3,-1-1.9,-.9-1.3,1z"/><path fill="#ca2000" d="M458.6,60.6l1.2,-.2-2,-.9-1.2,.2z"/><path fill="#d70e00" d="M439.9,58.7l1.3,-.4-2,-.9-1.2,.5z"/><path fill="#f04800" d="M392.2,64.3l1.3,-1.3-1.8,-.9-1.4,1.2z"/><path fill="#e51500" d="M416.7,59.4l1.3,-.8-1.9,-.9-1.3,.8z"/><path fill="#dc0d00" d="M432.2,58.6l1.3,-.6-2,-.9-1.3,.6z"/><path fill="#c13600" d="M472.8,63.4l1.2,0-2,-.8-1.2,0z"/><path fill="#e10f00" d="M424.4,58.8l1.3,-.7-1.9,-.9-1.3,.7z"/><path fill="#eb2900" d="M404.4,61.4l1.4,-1.1-1.9,-.9-1.3,1z"/><path fill="#f25900" d="M387.7,65.9l1.3,-1.3-1.8,-1-1.4,1.3z"/><path fill="#d01700" d="M450.9,59.7l1.2,-.3-1.9,-.9-1.3,.3z"/><path fill="#c82400" d="M461.9,61.3l1.2,-.2-2,-.9-1.3,.2z"/><path fill="#e71c00" d="M412.2,60.2l1.3,-.9-1.9,-.9-1.3,.9z"/><path fill="#be3b00" d="M476.1,64.2l1.2,.1-2.1,-.9-1.2,0z"/><path fill="#ed3500" d="M399.9,62.6l1.3,-1.1-1.8,-.9-1.4,1.1z"/><path fill="#d51100" d="M443.1,59.1l1.3,-.4-2,-.9-1.2,.5z"/><path fill="#e31400" d="M419.9,59.5l1.3,-.8-1.9,-.9-1.3,.8z"/><path fill="#da0f00" d="M435.4,58.9l1.3,-.5-2,-.9-1.2,.5z"/><path fill="#c62800" d="M465.1,61.9l1.2,-.1-2,-.8-1.2,.1z"/><path fill="#ce1b00" d="M454.1,60.2l1.3,-.2-2,-.9-1.3,.3z"/><path fill="#df0f00" d="M427.7,59l1.2,-.6-1.9,-.9-1.3,.6z"/><path fill="#ef4300" d="M395.4,64l1.3,-1.2-1.9,-.9-1.3,1.1z"/><path fill="#ea2600" d="M407.6,61.2l1.4,-.9-1.9,-.9-1.3,.9z"/><path fill="#f15300" d="M390.8,65.5l1.4,-1.2-1.9,-1-1.3,1.3z"/><path fill="#d31400" d="M446.4,59.6l1.2,-.4-1.9,-.9-1.3,.4z"/><path fill="#c42e00" d="M468.3,62.7l1.3,-.1-2.1,-.8-1.2,0z"/><path fill="#e61a00" d="M415.4,60.2l1.3,-.8-1.9,-.9-1.3,.8z"/><path fill="#f26500" d="M386.3,67.2l1.4,-1.3-1.9,-1-1.3,1.4z"/><path fill="#cc1e00" d="M457.4,60.8l1.2,-.2-2,-.9-1.2,.3z"/><path fill="#d91000" d="M438.6,59.2l1.3,-.5-1.9,-.8-1.3,.5z"/><path fill="#ec3100" d="M403.1,62.4l1.3,-1-1.8,-1-1.4,1.1z"/><path fill="#e21300" d="M423.1,59.6l1.3,-.8-1.9,-.9-1.3,.8z"/><path fill="#dd1000" d="M430.9,59.2l1.3,-.6-2,-.9-1.3,.7z"/><path fill="#c23300" d="M471.6,63.4l1.2,0-2,-.8-1.2,0z"/><path fill="#d21700" d="M449.6,60l1.3,-.3-2,-.9-1.3,.4z"/><path fill="#ee3e00" d="M398.6,63.7l1.3,-1.1-1.9,-.9-1.3,1.1z"/><path fill="#e92300" d="M410.9,61.2l1.3,-1-1.9,-.9-1.3,1z"/><path fill="#ca2300" d="M460.6,61.4l1.3,-.1-2.1,-.9-1.2,.2z"/><path fill="#d71300" d="M441.9,59.6l1.2,-.5-1.9,-.8-1.3,.4z"/><path fill="#f04d00" d="M394,65.2l1.4,-1.2-1.9,-1-1.3,1.3z"/><path fill="#e51900" d="M418.6,60.3l1.3,-.8-1.9,-.9-1.3,.8z"/><path fill="#dc1100" d="M434.1,59.5l1.3,-.6-1.9,-.9-1.3,.6z"/><path fill="#e01300" d="M426.4,59.7l1.3,-.7-2,-.9-1.3,.7z"/><path fill="#c03900" d="M474.8,64.2l1.3,0-2.1,-.8-1.2,0z"/><path fill="#eb2d00" d="M406.3,62.3l1.3,-1.1-1.8,-.9-1.4,1.1z"/><path fill="#f15e00" d="M389.5,66.8l1.3,-1.3-1.8,-.9-1.3,1.3z"/><path fill="#d01a00" d="M452.9,60.6l1.2,-.4-2,-.8-1.2,.3z"/><path fill="#c82700" d="M463.9,62.1l1.2,-.2-2,-.8-1.2,.2z"/><path fill="#f37000" d="M385,68.6l1.3,-1.4-1.8,-.9-1.4,1.3z"/><path fill="#e72100" d="M414.1,61.1l1.3,-.9-1.9,-.9-1.3,.9z"/><path fill="#ed3a00" d="M401.8,63.5l1.3,-1.1-1.9,-.9-1.3,1.1z"/><path fill="#d51500" d="M445.1,60l1.3,-.4-2,-.9-1.3,.4z"/><path fill="#be3e00" d="M478.1,65.1l1.2,0-2,-.8-1.2,-.1z"/><path fill="#e31800" d="M421.8,60.4l1.3,-.8-1.9,-.9-1.3,.8z"/><path fill="#da1200" d="M437.4,59.8l1.2,-.6-1.9,-.8-1.3,.5z"/><path fill="#ce1e00" d="M456.1,61.1l1.3,-.3-2,-.8-1.3,.2z"/><path fill="#c62c00" d="M467.1,62.8l1.2,-.1-2,-.9-1.2,.1z"/><path fill="#df1300" d="M429.6,59.9l1.3,-.7-2,-.8-1.2,.6z"/><path fill="#ef4700" d="M397.2,64.9l1.4,-1.2-1.9,-.9-1.3,1.2z"/><path fill="#ea2a00" d="M409.5,62.2l1.4,-1-1.9,-.9-1.4,.9z"/><path fill="#f15800" d="M392.7,66.4l1.3,-1.2-1.8,-.9-1.4,1.2z"/><path fill="#d31700" d="M448.4,60.4l1.2,-.4-2,-.8-1.2,.4z"/><path fill="#e61f00" d="M417.3,61.1l1.3,-.8-1.9,-.9-1.3,.8z"/><path fill="#c43100" d="M470.4,63.5l1.2,-.1-2,-.8-1.3,.1z"/><path fill="#f26900" d="M388.2,68.1l1.3,-1.3-1.8,-.9-1.4,1.3z"/><path fill="#c20" d="M459.4,61.7l1.2,-.3-2,-.8-1.2,.2z"/><path fill="#ec3600" d="M405,63.3l1.3,-1-1.9,-.9-1.3,1z"/><path fill="#d81400" d="M440.6,60.1l1.3,-.5-2,-.9-1.3,.5z"/><path fill="#f47d00" d="M383.6,70l1.4,-1.4-1.9,-1-1.3,1.5z"/><path fill="#e21800" d="M425.1,60.5l1.3,-.8-2,-.9-1.3,.8z"/><path fill="#dd1400" d="M432.8,60.1l1.3,-.6-1.9,-.9-1.3,.6z"/><path fill="#ee4200" d="M400.4,64.6l1.4,-1.1-1.9,-.9-1.3,1.1z"/><path fill="#d11a00" d="M451.6,60.9l1.3,-.3-2,-.9-1.3,.3z"/><path fill="#c23600" d="M473.6,64.3l1.2,-.1-2,-.8-1.2,0z"/><path fill="#e82700" d="M412.8,62.1l1.3,-1-1.9,-.9-1.3,1z"/><path fill="#ca2600" d="M462.6,62.3l1.3,-.2-2,-.8-1.3,.1z"/><path fill="#f05200" d="M395.9,66.1l1.3,-1.2-1.8,-.9-1.4,1.2z"/><path fill="#d71600" d="M443.8,60.5l1.3,-.5-2,-.9-1.2,.5z"/><path fill="#e41e00" d="M420.5,61.2l1.3,-.8-1.9,-.9-1.3,.8z"/><path fill="#dc1500" d="M436.1,60.4l1.3,-.6-2,-.9-1.3,.6z"/><path fill="#e01700" d="M428.3,60.6l1.3,-.7-1.9,-.9-1.3,.7z"/><path fill="#c03b00" d="M476.9,65.1l1.2,0-2,-.9-1.3,0z"/><path fill="#eb3200" d="M408.2,63.2l1.3,-1-1.9,-1-1.3,1.1z"/><path fill="#f16200" d="M391.4,67.7l1.3,-1.3-1.9,-.9-1.3,1.3z"/><path fill="#cf1d00" d="M454.9,61.4l1.2,-.3-2,-.9-1.2,.4z"/><path fill="#c82a00" d="M465.9,62.9l1.2,-.1-2,-.9-1.2,.2z"/><path fill="#f37600" d="M386.8,69.5l1.4,-1.4-1.9,-.9-1.3,1.4z"/><path fill="#f48b00" d="M382.3,71.5l1.3,-1.5-1.8,-.9-1.4,1.4z"/><path fill="#e72500" d="M416,62l1.3,-.9-1.9,-.9-1.3,.9z"/><path fill="#ed3e00" d="M403.7,64.4l1.3,-1.1-1.9,-.9-1.3,1.1z"/><path fill="#d51800" d="M447.1,60.9l1.3,-.5-2,-.8-1.3,.4z"/><path fill="#be4100" d="M480.2,65.9l1.2,0-2.1,-.8-1.2,0z"/><path fill="#e31c00" d="M423.8,61.2l1.3,-.7-2,-.9-1.3,.8z"/><path fill="#da1600" d="M439.3,60.7l1.3,-.6-2,-.9-1.2,.6z"/><path fill="#df1800" d="M431.5,60.8l1.3,-.7-1.9,-.9-1.3,.7z"/><path fill="#cd2100" d="M458.1,61.9l1.3,-.2-2,-.9-1.3,.3z"/><path fill="#c62f00" d="M469.2,63.6l1.2,-.1-2.1,-.8-1.2,.1z"/><path fill="#ef4c00" d="M399.1,65.8l1.3,-1.2-1.8,-.9-1.4,1.2z"/><path fill="#e92f00" d="M411.4,63.1l1.4,-1-1.9,-.9-1.4,1z"/><path fill="#f05c00" d="M394.6,67.4l1.3,-1.3-1.9,-.9-1.3,1.2z"/><path fill="#d31b00" d="M450.4,61.3l1.2,-.4-2,-.9-1.2,.4z"/><path fill="#e62300" d="M419.2,62l1.3,-.8-1.9,-.9-1.3,.8z"/><path fill="#f26e00" d="M390,69.1l1.4,-1.4-1.9,-.9-1.3,1.3z"/><path fill="#c43400" d="M472.4,64.3l1.2,0-2,-.9-1.2,.1z"/><path fill="#cb2500" d="M461.4,62.5l1.2,-.2-2,-.9-1.2,.3z"/><path fill="#ec3a00" d="M406.9,64.2l1.3,-1-1.9,-.9-1.3,1z"/><path fill="#d81800" d="M442.6,61l1.2,-.5-1.9,-.9-1.3,.5z"/><path fill="#f38200" d="M385.5,70.9l1.3,-1.4-1.8,-.9-1.4,1.4z"/><path fill="#e11b00" d="M427,61.3l1.3,-.7-1.9,-.9-1.3,.8z"/><path fill="#dd1800" d="M434.8,61l1.3,-.6-2,-.9-1.3,.6z"/><path fill="#f59800" d="M380.9,73l1.4,-1.5-1.9,-1-1.3,1.5z"/><path fill="#ee4700" d="M402.3,65.6l1.4,-1.2-1.9,-.9-1.4,1.1z"/><path fill="#d11d00" d="M453.6,61.8l1.3,-.4-2,-.8-1.3,.3z"/><path fill="#e82c00" d="M414.7,63l1.3,-1-1.9,-.9-1.3,1z"/><path fill="#c23900" d="M475.7,65.1l1.2,0-2.1,-.9-1.2,.1z"/><path fill="#c92900" d="M464.7,63.1l1.2,-.2-2,-.8-1.3,.2z"/><path fill="#ef5600" d="M397.8,67l1.3,-1.2-1.9,-.9-1.3,1.2z"/><path fill="#d61900" d="M445.8,61.3l1.3,-.4-2,-.9-1.3,.5z"/><path fill="#e42100" d="M422.5,62.1l1.3,-.9-2,-.8-1.3,.8z"/><path fill="#db1900" d="M438,61.2l1.3,-.5-1.9,-.9-1.3,.6z"/><path fill="#e01b00" d="M430.2,61.5l1.3,-.7-1.9,-.9-1.3,.7z"/><path fill="#ea3600" d="M410.1,64.1l1.3,-1-1.9,-.9-1.3,1z"/><path fill="#f16700" d="M393.2,68.7l1.4,-1.3-1.9,-1-1.3,1.3z"/><path fill="#c03e00" d="M479,65.9l1.2,0-2.1,-.8-1.2,0z"/><path fill="#cf2100" d="M456.9,62.3l1.2,-.4-2,-.8-1.2,.3z"/><path fill="#f37b00" d="M388.7,70.5l1.3,-1.4-1.8,-1-1.4,1.4z"/><path fill="#c72d00" d="M467.9,63.8l1.3,-.2-2.1,-.8-1.2,.1z"/><path fill="#f49000" d="M384.1,72.4l1.4,-1.5-1.9,-.9-1.3,1.5z"/><path fill="#f5a600" d="M379.6,74.5l1.3,-1.5-1.8,-1-1.4,1.5z"/><path fill="#e72a00" d="M417.9,62.9l1.3,-.9-1.9,-.9-1.3,.9z"/><path fill="#ec4300" d="M405.6,65.3l1.3,-1.1-1.9,-.9-1.3,1.1z"/><path fill="#d41b00" d="M449.1,61.7l1.3,-.4-2,-.9-1.3,.5z"/><path fill="#be4400" d="M482.2,66.7l1.2,.1-2,-.9-1.2,0z"/><path fill="#e32000" d="M425.7,62.1l1.3,-.8-1.9,-.8-1.3,.7z"/><path fill="#da1a00" d="M441.3,61.5l1.3,-.5-2,-.9-1.3,.6z"/><path fill="#de1b00" d="M433.5,61.7l1.3,-.7-2,-.9-1.3,.7z"/><path fill="#cd2400" d="M460.1,62.8l1.3,-.3-2,-.8-1.3,.2z"/><path fill="#ee5000" d="M401,66.7l1.3,-1.1-1.9,-1-1.3,1.2z"/><path fill="#c53200" d="M471.2,64.5l1.2,-.2-2,-.8-1.2,.1z"/><path fill="#e93300" d="M413.3,64l1.4,-1-1.9,-.9-1.4,1z"/><path fill="#f06100" d="M396.4,68.3l1.4,-1.3-1.9,-.9-1.3,1.3z"/><path fill="#d31f00" d="M452.4,62.1l1.2,-.3-2,-.9-1.2,.4z"/><path fill="#e52800" d="M421.1,62.9l1.4,-.8-2,-.9-1.3,.8z"/><path fill="#f27300" d="M391.9,70l1.3,-1.3-1.8,-1-1.4,1.4z"/><path fill="#c33600" d="M474.5,65.2l1.2,-.1-2.1,-.8-1.2,0z"/><path fill="#eb3f00" d="M408.8,65.1l1.3,-1-1.9,-.9-1.3,1z"/><path fill="#cb2800" d="M463.4,63.4l1.3,-.3-2.1,-.8-1.2,.2z"/><path fill="#d81b00" d="M444.6,61.8l1.2,-.5-2,-.8-1.2,.5z"/><path fill="#f38700" d="M387.3,71.9l1.4,-1.4-1.9,-1-1.3,1.4z"/><path fill="#e12000" d="M428.9,62.2l1.3,-.7-1.9,-.9-1.3,.7z"/><path fill="#f59d00" d="M382.8,73.9l1.3,-1.5-1.8,-.9-1.4,1.5z"/><path fill="#dd1c00" d="M436.8,61.9l1.2,-.7-1.9,-.8-1.3,.6z"/><path fill="#f6b400" d="M378.2,76.1l1.4,-1.6-1.9,-1-1.3,1.6z"/><path fill="#ed4b00" d="M404.2,66.5l1.4,-1.2-1.9,-.9-1.4,1.2z"/><path fill="#e83000" d="M416.6,63.9l1.3,-1-1.9,-.9-1.3,1z"/><path fill="#d12200" d="M455.6,62.6l1.3,-.3-2,-.9-1.3,.4z"/><path fill="#c13c00" d="M477.7,65.9l1.3,0-2.1,-.8-1.2,0z"/><path fill="#c92c00" d="M466.7,64l1.2,-.2-2,-.9-1.2,.2z"/><path fill="#ef5b00" d="M399.7,68l1.3,-1.3-1.9,-.9-1.3,1.2z"/><path fill="#e42600" d="M424.4,63l1.3,-.9-1.9,-.9-1.3,.9z"/><path fill="#d61d00" d="M447.8,62.2l1.3,-.5-2,-.8-1.3,.4z"/><path fill="#e02000" d="M432.2,62.4l1.3,-.7-2,-.9-1.3,.7z"/><path fill="#db1c00" d="M440,62.1l1.3,-.6-2,-.8-1.3,.5z"/><path fill="#ea3b00" d="M412,65l1.3,-1-1.9,-.9-1.3,1z"/><path fill="#f16c00" d="M395.1,69.6l1.3,-1.3-1.8,-.9-1.4,1.3z"/><path fill="#bf4100" d="M481,66.7l1.2,0-2,-.8-1.2,0z"/><path fill="#cf2400" d="M458.9,63.1l1.2,-.3-2,-.9-1.2,.4z"/><path fill="#f27f00" d="M390.5,71.4l1.4,-1.4-1.9,-.9-1.3,1.4z"/><path fill="#c73000" d="M470,64.6l1.2,-.1-2,-.9-1.3,.2z"/><path fill="#f49400" d="M386,73.3l1.3,-1.4-1.8,-1-1.4,1.5z"/><path fill="#f6c400" d="M376.8,77.7l1.4,-1.6-1.8,-1-1.4,1.6z"/><path fill="#f5ab00" d="M381.4,75.4l1.4,-1.5-1.9,-.9-1.3,1.5z"/><path fill="#e62d00" d="M419.8,63.8l1.3,-.9-1.9,-.9-1.3,.9z"/><path fill="#ec4700" d="M407.5,66.2l1.3,-1.1-1.9,-.9-1.3,1.1z"/><path fill="#d42000" d="M451.1,62.6l1.3,-.5-2,-.8-1.3,.4z"/><path fill="#bd4700" d="M484.3,67.5l1.2,.1-2.1,-.8-1.2,-.1z"/><path fill="#e22400" d="M427.6,63l1.3,-.8-1.9,-.9-1.3,.8z"/><path fill="#d91e00" d="M443.3,62.4l1.3,-.6-2,-.8-1.3,.5z"/><path fill="#de1f00" d="M435.5,62.5l1.3,-.6-2,-.9-1.3,.7z"/><path fill="#e50" d="M402.9,67.7l1.3,-1.2-1.9,-.9-1.3,1.1z"/><path fill="#cd2700" d="M462.2,63.6l1.2,-.2-2,-.9-1.3,.3z"/><path fill="#c53500" d="M473.2,65.3l1.3,-.1-2.1,-.9-1.2,.2z"/><path fill="#e93700" d="M415.3,64.9l1.3,-1-1.9,-.9-1.4,1z"/><path fill="#f06600" d="M398.3,69.2l1.4,-1.2-1.9,-1-1.4,1.3z"/><path fill="#d22200" d="M454.4,63l1.2,-.4-2,-.8-1.2,.3z"/><path fill="#f27700" d="M393.8,70.9l1.3,-1.3-1.9,-.9-1.3,1.3z"/><path fill="#e52b00" d="M423.1,63.8l1.3,-.8-1.9,-.9-1.4,.8z"/><path fill="#c33900" d="M476.5,66l1.2,-.1-2,-.8-1.2,.1z"/><path fill="#eb4200" d="M410.7,66.1l1.3,-1.1-1.9,-.9-1.3,1z"/><path fill="#cb2b00" d="M465.4,64.2l1.3,-.2-2,-.9-1.3,.3z"/><path fill="#f38b00" d="M389.2,72.8l1.3,-1.4-1.8,-.9-1.4,1.4z"/><path fill="#d71f00" d="M446.5,62.7l1.3,-.5-2,-.9-1.2,.5z"/><path fill="#f7d300" d="M375.5,79.3l1.3,-1.6-1.8,-1-1.3,1.7z"/><path fill="#e12300" d="M430.9,63.1l1.3,-.7-2,-.9-1.3,.7z"/><path fill="#f4a100" d="M384.6,74.8l1.4,-1.5-1.9,-.9-1.3,1.5z"/><path fill="#f6b900" d="M380,77l1.4,-1.6-1.8,-.9-1.4,1.6z"/><path fill="#dc1f00" d="M438.7,62.7l1.3,-.6-2,-.9-1.2,.7z"/><path fill="#ed5000" d="M406.1,67.4l1.4,-1.2-1.9,-.9-1.4,1.2z"/><path fill="#e83400" d="M418.5,64.8l1.3,-1-1.9,-.9-1.3,1z"/><path fill="#d02500" d="M457.6,63.5l1.3,-.4-2,-.8-1.3,.3z"/><path fill="#c13e00" d="M479.8,66.8l1.2,-.1-2,-.8-1.3,0z"/><path fill="#c92f00" d="M468.7,64.8l1.3,-.2-2.1,-.8-1.2,.2z"/><path fill="#ef6000" d="M401.6,68.9l1.3,-1.2-1.9,-1-1.3,1.3z"/><path fill="#e42a00" d="M426.3,63.8l1.3,-.8-1.9,-.9-1.3,.9z"/><path fill="#d62100" d="M449.8,63l1.3,-.4-2,-.9-1.3,.5z"/><path fill="#df2300" d="M434.2,63.2l1.3,-.7-2,-.8-1.3,.7z"/><path fill="#db2000" d="M442,63l1.3,-.6-2,-.9-1.3,.6z"/><path fill="#ea3e00" d="M413.9,65.9l1.4,-1-2,-.9-1.3,1z"/><path fill="#f17000" d="M397,70.5l1.3,-1.3-1.9,-.9-1.3,1.3z"/><path fill="#bf4300" d="M483.1,67.5l1.2,0-2.1,-.8-1.2,0z"/><path fill="#ce2800" d="M460.9,63.9l1.3,-.3-2.1,-.8-1.2,.3z"/><path fill="#f28300" d="M392.4,72.3l1.4,-1.4-1.9,-.9-1.4,1.4z"/><path fill="#f7e300" d="M374.1,81l1.4,-1.7-1.8,-.9-1.4,1.7z"/><path fill="#c73300" d="M472,65.4l1.2,-.1-2,-.8-1.2,.1z"/><path fill="#f49900" d="M387.8,74.3l1.4,-1.5-1.9,-.9-1.3,1.4z"/><path fill="#f6c900" d="M378.7,78.6l1.3,-1.6-1.8,-.9-1.4,1.6z"/><path fill="#f5b000" d="M383.3,76.4l1.3,-1.6-1.8,-.9-1.4,1.5z"/><path fill="#e63200" d="M421.8,64.7l1.3,-.9-2,-.9-1.3,.9z"/><path fill="#ec4b00" d="M409.4,67.2l1.3,-1.1-1.9,-1-1.3,1.1z"/><path fill="#d42300" d="M453.1,63.4l1.3,-.4-2,-.9-1.3,.5z"/><path fill="#bd4900" d="M486.4,68.4l1.2,0-2.1,-.8-1.2,-.1z"/><path fill="#e22800" d="M429.6,63.9l1.3,-.8-2,-.9-1.3,.8z"/><path fill="#d92100" d="M445.3,63.2l1.2,-.5-1.9,-.9-1.3,.6z"/><path fill="#ee5a00" d="M404.8,68.6l1.3,-1.2-1.9,-.9-1.3,1.2z"/><path fill="#de2300" d="M437.4,63.4l1.3,-.7-1.9,-.8-1.3,.6z"/><path fill="#cd2b00" d="M464.2,64.5l1.2,-.3-2,-.8-1.2,.2z"/><path fill="#c53800" d="M475.3,66.1l1.2,-.1-2,-.8-1.3,.1z"/><path fill="#e93b00" d="M417.2,65.8l1.3,-1-1.9,-.9-1.3,1z"/><path fill="#f06a00" d="M400.2,70.1l1.4,-1.2-1.9,-.9-1.4,1.2z"/><path fill="#d22500" d="M456.4,63.8l1.2,-.3-2,-.9-1.2,.4z"/><path fill="#f17c00" d="M395.6,71.9l1.4,-1.4-1.9,-.9-1.3,1.3z"/><path fill="#e53000" d="M425,64.7l1.3,-.9-1.9,-.8-1.3,.8z"/><path fill="#f8f400" d="M372.8,82.8l1.3,-1.8-1.8,-.9-1.4,1.7z"/><path fill="#eb4700" d="M412.6,67l1.3,-1.1-1.9,-.9-1.3,1.1z"/><path fill="#c33c00" d="M478.6,66.8l1.2,0-2.1,-.9-1.2,.1z"/><path fill="#f39000" d="M391.1,73.8l1.3,-1.5-1.9,-.9-1.3,1.4z"/><path fill="#cb2e00" d="M467.5,65l1.2,-.2-2,-.8-1.3,.2z"/><path fill="#f7d800" d="M377.3,80.3l1.4,-1.7-1.9,-.9-1.3,1.6z"/><path fill="#d72300" d="M448.5,63.5l1.3,-.5-2,-.8-1.3,.5z"/><path fill="#e12800" d="M432.9,64l1.3,-.8-2,-.8-1.3,.7z"/><path fill="#f4a600" d="M386.5,75.8l1.3,-1.5-1.8,-1-1.4,1.5z"/><path fill="#f5be00" d="M381.9,78l1.4,-1.6-1.9,-1-1.4,1.6z"/><path fill="#dc2300" d="M440.7,63.6l1.3,-.6-2,-.9-1.3,.6z"/><path fill="#ed5500" d="M408,68.3l1.4,-1.1-1.9,-1-1.4,1.2z"/><path fill="#e73800" d="M420.4,65.7l1.4,-1-2,-.9-1.3,1z"/><path fill="#d02800" d="M459.7,64.3l1.2,-.4-2,-.8-1.3,.4z"/><path fill="#c14100" d="M481.9,67.6l1.2,-.1-2.1,-.8-1.2,.1z"/><path fill="#c93200" d="M470.8,65.6l1.2,-.2-2,-.8-1.3,.2z"/><path fill="#ef6300" d="M403.4,69.8l1.4,-1.2-1.9,-.9-1.3,1.2z"/><path fill="#e32d00" d="M428.3,64.7l1.3,-.8-2,-.9-1.3,.8z"/><path fill="#d52400" d="M451.8,63.9l1.3,-.5-2,-.8-1.3,.4z"/><path fill="#df2700" d="M436.1,64.1l1.3,-.7-1.9,-.9-1.3,.7z"/><path fill="#da2400" d="M444,63.8l1.3,-.6-2,-.8-1.3,.6z"/><path fill="#ea4300" d="M415.9,66.8l1.3,-1-1.9,-.9-1.4,1z"/><path fill="#f07500" d="M398.9,71.5l1.3,-1.4-1.9,-.9-1.3,1.3z"/><path fill="#ebf800" d="M371.4,84.6l1.4,-1.8-1.9,-1-1.3,1.8z"/><path fill="#bf4600" d="M485.2,68.4l1.2,0-2.1,-.9-1.2,0z"/><path fill="#f28800" d="M394.3,73.3l1.3,-1.4-1.8,-1-1.4,1.4z"/><path fill="#ce2b00" d="M463,64.8l1.2,-.3-2,-.9-1.3,.3z"/><path fill="#f7e700" d="M376,82l1.3,-1.7-1.8,-1-1.4,1.7z"/><path fill="#f39d00" d="M389.7,75.2l1.4,-1.4-1.9,-1-1.4,1.5z"/><path fill="#c73700" d="M474.1,66.3l1.2,-.2-2.1,-.8-1.2,.1z"/><path fill="#f6cc00" d="M380.5,79.6l1.4,-1.6-1.9,-1-1.3,1.6z"/><path fill="#f5b400" d="M385.1,77.3l1.4,-1.5-1.9,-1-1.3,1.6z"/><path fill="#e63500" d="M423.7,65.6l1.3,-.9-1.9,-.9-1.3,.9z"/><path fill="#ec5000" d="M411.3,68.1l1.3,-1.1-1.9,-.9-1.3,1.1z"/><path fill="#d42600" d="M455.1,64.3l1.3,-.5-2,-.8-1.3,.4z"/><path fill="#bd4b00" d="M488.5,69.2l1.2,0-2.1,-.8-1.2,0z"/><path fill="#e22c00" d="M431.6,64.8l1.3,-.8-2,-.9-1.3,.8z"/><path fill="#d92500" d="M447.3,64.1l1.2,-.6-2,-.8-1.2,.5z"/><path fill="#ee5e00" d="M406.7,69.5l1.3,-1.2-1.9,-.9-1.3,1.2z"/><path fill="#de2600" d="M439.4,64.3l1.3,-.7-2,-.9-1.3,.7z"/><path fill="#cc2e00" d="M466.2,65.3l1.3,-.3-2.1,-.8-1.2,.3z"/><path fill="#c53b00" d="M477.4,66.9l1.2,-.1-2.1,-.8-1.2,.1z"/><path fill="#e83f00" d="M419.1,66.6l1.3,-.9-1.9,-.9-1.3,1z"/><path fill="#f06e00" d="M402.1,71.1l1.3,-1.3-1.8,-.9-1.4,1.2z"/><path fill="#dbf800" d="M370,86.4l1.4,-1.8-1.8,-1-1.4,1.8z"/><path fill="#d22800" d="M458.4,64.7l1.3,-.4-2.1,-.8-1.2,.3z"/><path fill="#f18100" d="M397.5,72.8l1.4,-1.3-1.9,-1-1.4,1.4z"/><path fill="#e53300" d="M427,65.6l1.3,-.9-2,-.9-1.3,.9z"/><path fill="#f6f700" d="M374.6,83.8l1.4,-1.8-1.9,-1-1.3,1.8z"/><path fill="#eb4b00" d="M414.5,67.8l1.4,-1-2,-.9-1.3,1.1z"/><path fill="#f39400" d="M392.9,74.7l1.4,-1.4-1.9,-1-1.3,1.5z"/><path fill="#c33f00" d="M480.7,67.7l1.2,-.1-2.1,-.8-1.2,0z"/><path fill="#f6dc00" d="M379.2,81.3l1.3,-1.7-1.8,-1-1.4,1.7z"/><path fill="#ca3100" d="M469.5,65.9l1.3,-.3-2.1,-.8-1.2,.2z"/><path fill="#d72600" d="M450.6,64.4l1.2,-.5-2,-.9-1.3,.5z"/><path fill="#f4aa00" d="M388.3,76.7l1.4,-1.5-1.9,-.9-1.3,1.5z"/><path fill="#f5c200" d="M383.8,78.9l1.3,-1.6-1.8,-.9-1.4,1.6z"/><path fill="#e02b00" d="M434.8,64.8l1.3,-.7-1.9,-.9-1.3,.8z"/><path fill="#dc2700" d="M442.7,64.5l1.3,-.7-2,-.8-1.3,.6z"/><path fill="#ed5800" d="M409.9,69.2l1.4,-1.1-1.9,-.9-1.4,1.1z"/><path fill="#e73c00" d="M422.4,66.6l1.3,-1-1.9,-.9-1.4,1z"/><path fill="#d02a00" d="M461.7,65.1l1.3,-.3-2.1,-.9-1.2,.4z"/><path fill="#c04400" d="M484,68.4l1.2,0-2.1,-.9-1.2,.1z"/><path fill="#ef6800" d="M405.4,70.7l1.3,-1.2-1.9,-.9-1.4,1.2z"/><path fill="#c83500" d="M472.8,66.5l1.3,-.2-2.1,-.9-1.2,.2z"/><path fill="#e33100" d="M430.3,65.6l1.3,-.8-2,-.9-1.3,.8z"/><path fill="#caf900" d="M368.7,88.3l1.3,-1.9-1.8,-1-1.4,1.9z"/><path fill="#d52700" d="M453.8,64.7l1.3,-.4-2,-.9-1.3,.5z"/><path fill="#df2a00" d="M438.1,65l1.3,-.7-2,-.9-1.3,.7z"/><path fill="#f07900" d="M400.8,72.4l1.3,-1.3-1.9,-1-1.3,1.4z"/><path fill="#e94600" d="M417.8,67.7l1.3,-1.1-1.9,-.8-1.3,1z"/><path fill="#da2700" d="M446,64.7l1.3,-.6-2,-.9-1.3,.6z"/><path fill="#e6f800" d="M373.2,85.5l1.4,-1.7-1.8,-1-1.4,1.8z"/><path fill="#f28c00" d="M396.2,74.2l1.3,-1.4-1.9,-.9-1.3,1.4z"/><path fill="#be4800" d="M487.3,69.2l1.2,0-2.1,-.8-1.2,0z"/><path fill="#f7ec00" d="M377.8,83l1.4,-1.7-1.9,-1-1.3,1.7z"/><path fill="#ce2d00" d="M465,65.6l1.2,-.3-2,-.8-1.2,.3z"/><path fill="#f3a100" d="M391.6,76.2l1.3,-1.5-1.8,-.9-1.4,1.4z"/><path fill="#f6d100" d="M382.4,80.5l1.4,-1.6-1.9,-.9-1.4,1.6z"/><path fill="#f5b800" d="M387,78.3l1.3,-1.6-1.8,-.9-1.4,1.5z"/><path fill="#c63900" d="M476.2,67.1l1.2,-.2-2.1,-.8-1.2,.2z"/><path fill="#e63a00" d="M425.7,66.5l1.3,-.9-2,-.9-1.3,.9z"/><path fill="#ec5300" d="M413.2,69l1.3,-1.2-1.9,-.8-1.3,1.1z"/><path fill="#d32900" d="M457.1,65.1l1.3,-.4-2,-.9-1.3,.5z"/><path fill="#e23000" d="M433.5,65.6l1.3,-.8-1.9,-.8-1.3,.8z"/><path fill="#bc4e00" d="M490.6,70l1.2,0-2.1,-.8-1.2,0z"/><path fill="#d82800" d="M449.3,64.9l1.3,-.5-2.1,-.9-1.2,.6z"/><path fill="#ee6200" d="M408.6,70.4l1.3,-1.2-1.9,-.9-1.3,1.2z"/><path fill="#dd2a00" d="M441.4,65.1l1.3,-.6-2,-.9-1.3,.7z"/><path fill="#b7f900" d="M367.3,90.2l1.4,-1.9-1.9,-1-1.3,1.9z"/><path fill="#cc3100" d="M468.3,66.1l1.2,-.2-2,-.9-1.3,.3z"/><path fill="#c43d00" d="M479.5,67.8l1.2,-.1-2.1,-.9-1.2,.1z"/><path fill="#e84300" d="M421.1,67.5l1.3,-.9-2,-.9-1.3,.9z"/><path fill="#ef7300" d="M404,72l1.4,-1.3-2,-.9-1.3,1.3z"/><path fill="#d6f800" d="M371.9,87.4l1.3,-1.9-1.8,-.9-1.4,1.8z"/><path fill="#f18400" d="M399.4,73.7l1.4,-1.3-1.9,-.9-1.4,1.3z"/><path fill="#d12c00" d="M460.4,65.5l1.3,-.4-2,-.8-1.3,.4z"/><path fill="#e43700" d="M428.9,66.5l1.4,-.9-2,-.9-1.3,.9z"/><path fill="#f1f700" d="M376.4,84.7l1.4,-1.7-1.8,-1-1.4,1.8z"/><path fill="#ea4f00" d="M416.5,68.7l1.3,-1-1.9,-.9-1.4,1z"/><path fill="#f29900" d="M394.8,75.6l1.4,-1.4-1.9,-.9-1.4,1.4z"/><path fill="#f6e100" d="M381,82.2l1.4,-1.7-1.9,-.9-1.3,1.7z"/><path fill="#c24200" d="M482.8,68.5l1.2,-.1-2.1,-.8-1.2,.1z"/><path fill="#f4af00" d="M390.2,77.7l1.4,-1.5-1.9,-1-1.4,1.5z"/><path fill="#f5c700" d="M385.6,79.9l1.4,-1.6-1.9,-1-1.3,1.6z"/><path fill="#d72900" d="M452.6,65.2l1.2,-.5-2,-.8-1.2,.5z"/><path fill="#ca3400" d="M471.6,66.7l1.2,-.2-2,-.9-1.3,.3z"/><path fill="#e02f00" d="M436.8,65.7l1.3,-.7-2,-.9-1.3,.7z"/><path fill="#dc2a00" d="M444.7,65.3l1.3,-.6-2,-.9-1.3,.7z"/><path fill="#ec5d00" d="M411.9,70.1l1.3,-1.1-1.9,-.9-1.4,1.1z"/><path fill="#e74000" d="M424.4,67.4l1.3,-.9-2,-.9-1.3,1z"/><path fill="#a6f900" d="M365.9,92.1l1.4,-1.9-1.8,-1-1.4,1.9z"/><path fill="#d02e00" d="M463.7,66l1.3,-.4-2,-.8-1.3,.3z"/><path fill="#c04600" d="M486.1,69.2l1.2,0-2.1,-.8-1.2,0z"/><path fill="#ee6b00" d="M407.3,71.6l1.3,-1.2-1.9,-.9-1.3,1.2z"/><path fill="#c83800" d="M474.9,67.3l1.3,-.2-2.1,-.8-1.3,.2z"/><path fill="#c5f800" d="M370.5,89.2l1.4,-1.8-1.9,-1-1.3,1.9z"/><path fill="#e33500" d="M432.2,66.5l1.3,-.9-1.9,-.8-1.3,.8z"/><path fill="#d52b00" d="M455.9,65.6l1.2,-.5-2,-.8-1.3,.4z"/><path fill="#f07d00" d="M402.7,73.3l1.3,-1.3-1.9,-.9-1.3,1.3z"/><path fill="#e94b00" d="M419.7,68.6l1.4,-1.1-2,-.9-1.3,1.1z"/><path fill="#df2e00" d="M440.1,65.8l1.3,-.7-2,-.8-1.3,.7z"/><path fill="#da2b00" d="M448,65.5l1.3,-.6-2,-.8-1.3,.6z"/><path fill="#e1f800" d="M375.1,86.5l1.3,-1.8-1.8,-.9-1.4,1.7z"/><path fill="#f29000" d="M398.1,75.1l1.3,-1.4-1.9,-.9-1.3,1.4z"/><path fill="#f7f100" d="M379.7,83.9l1.3,-1.7-1.8,-.9-1.4,1.7z"/><path fill="#be4b00" d="M489.4,70l1.2,0-2.1,-.8-1.2,0z"/><path fill="#ce3000" d="M467.1,66.5l1.2,-.4-2.1,-.8-1.2,.3z"/><path fill="#f3a600" d="M393.5,77.1l1.3,-1.5-1.9,-.9-1.3,1.5z"/><path fill="#f6d600" d="M384.3,81.5l1.3,-1.6-1.8,-1-1.4,1.6z"/><path fill="#f4bd00" d="M388.9,79.2l1.3,-1.5-1.9,-1-1.3,1.6z"/><path fill="#c63c00" d="M478.2,67.9l1.3,-.1-2.1,-.9-1.2,.2z"/><path fill="#eb5800" d="M415.1,69.9l1.4,-1.2-2,-.9-1.3,1.2z"/><path fill="#e63d00" d="M427.6,67.4l1.3,-.9-1.9,-.9-1.3,.9z"/><path fill="#93f900" d="M364.5,94.1l1.4,-2-1.8,-1-1.4,2z"/><path fill="#d32c00" d="M459.2,66l1.2,-.5-2,-.8-1.3,.4z"/><path fill="#e13300" d="M435.5,66.5l1.3,-.8-2,-.9-1.3,.8z"/><path fill="#bc5000" d="M492.7,70.8l1.2,0-2.1,-.8-1.2,0z"/><path fill="#ed6600" d="M410.5,71.3l1.4,-1.2-2,-.9-1.3,1.2z"/><path fill="#d82b00" d="M451.3,65.8l1.3,-.6-2,-.8-1.3,.5z"/><path fill="#dd2d00" d="M443.4,66l1.3,-.7-2,-.8-1.3,.6z"/><path fill="#b3f900" d="M369.1,91.1l1.4,-1.9-1.8,-.9-1.4,1.9z"/><path fill="#cc3400" d="M470.4,67l1.2,-.3-2.1,-.8-1.2,.2z"/><path fill="#e84700" d="M423,68.4l1.4,-1-2,-.8-1.3,.9z"/><path fill="#c44000" d="M481.5,68.6l1.3,-.1-2.1,-.8-1.2,.1z"/><path fill="#ef7600" d="M405.9,72.9l1.4,-1.3-1.9,-.9-1.4,1.3z"/><path fill="#d1f800" d="M373.7,88.3l1.4,-1.8-1.9,-1-1.3,1.9z"/><path fill="#f18900" d="M401.3,74.6l1.4,-1.3-1.9,-.9-1.4,1.3z"/><path fill="#d12f00" d="M462.5,66.4l1.2,-.4-2,-.9-1.3,.4z"/><path fill="#edf700" d="M378.3,85.7l1.4,-1.8-1.9,-.9-1.4,1.7z"/><path fill="#e43b00" d="M430.9,67.3l1.3,-.8-1.9,-.9-1.4,.9z"/><path fill="#ea5300" d="M418.4,69.6l1.3,-1-1.9,-.9-1.3,1z"/><path fill="#f29d00" d="M396.7,76.5l1.4,-1.4-1.9,-.9-1.4,1.4z"/><path fill="#f6e500" d="M382.9,83.2l1.4,-1.7-1.9,-1-1.4,1.7z"/><path fill="#f4b300" d="M392.1,78.6l1.4,-1.5-1.9,-.9-1.4,1.5z"/><path fill="#f5cc00" d="M387.5,80.8l1.4,-1.6-1.9,-.9-1.4,1.6z"/><path fill="#80fa00" d="M363.1,96.1l1.4,-2-1.8,-1-1.4,2z"/><path fill="#c24400" d="M484.9,69.3l1.2,-.1-2.1,-.8-1.2,.1z"/><path fill="#d62d00" d="M454.6,66.1l1.3,-.5-2.1,-.9-1.2,.5z"/><path fill="#e03200" d="M438.8,66.6l1.3,-.8-2,-.8-1.3,.7z"/><path fill="#ca3700" d="M473.7,67.5l1.2,-.2-2.1,-.8-1.2,.2z"/><path fill="#db2e00" d="M446.7,66.2l1.3,-.7-2,-.8-1.3,.6z"/><path fill="#ec6000" d="M413.8,71l1.3,-1.1-1.9,-.9-1.3,1.1z"/><path fill="#a1f900" d="M367.7,93.1l1.4,-2-1.8,-.9-1.4,1.9z"/><path fill="#e74400" d="M426.3,68.3l1.3,-.9-1.9,-.9-1.3,.9z"/><path fill="#cf3100" d="M465.8,66.8l1.3,-.3-2.1,-.9-1.3,.4z"/><path fill="#c04800" d="M488.2,70l1.2,0-2.1,-.8-1.2,0z"/><path fill="#ee7000" d="M409.2,72.5l1.3,-1.2-1.9,-.9-1.3,1.2z"/><path fill="#c0f800" d="M372.3,90.2l1.4,-1.9-1.8,-.9-1.4,1.8z"/><path fill="#c83b00" d="M477,68.1l1.2,-.2-2,-.8-1.3,.2z"/><path fill="#e33900" d="M434.2,67.3l1.3,-.8-2,-.9-1.3,.9z"/><path fill="#d52e00" d="M457.9,66.4l1.3,-.4-2.1,-.9-1.2,.5z"/><path fill="#f08200" d="M404.6,74.2l1.3,-1.3-1.9,-.9-1.3,1.3z"/><path fill="#e94f00" d="M421.7,69.5l1.3,-1.1-1.9,-.9-1.4,1.1z"/><path fill="#de3200" d="M442.1,66.7l1.3,-.7-2,-.9-1.3,.7z"/><path fill="#da2e00" d="M450,66.4l1.3,-.6-2,-.9-1.3,.6z"/><path fill="#ddf700" d="M376.9,87.5l1.4,-1.8-1.9,-1-1.3,1.8z"/><path fill="#6cfa00" d="M361.8,98.2l1.3,-2.1-1.8,-1-1.3,2.1z"/><path fill="#f19500" d="M400,76l1.3,-1.4-1.9,-.9-1.3,1.4z"/><path fill="#f6f400" d="M381.5,84.9l1.4,-1.7-1.9,-1-1.3,1.7z"/><path fill="#be4d00" d="M491.5,70.8l1.2,0-2.1,-.8-1.2,0z"/><path fill="#f3aa00" d="M395.4,78l1.3,-1.5-1.9,-.9-1.3,1.5z"/><path fill="#cd3400" d="M469.1,67.3l1.3,-.3-2.1,-.9-1.2,.4z"/><path fill="#f5da00" d="M386.1,82.4l1.4,-1.6-1.9,-.9-1.3,1.6z"/><path fill="#f4c100" d="M390.7,80.1l1.4,-1.5-1.9,-.9-1.3,1.5z"/><path fill="#c63e00" d="M480.3,68.7l1.2,-.1-2,-.8-1.3,.1z"/><path fill="#eb5b00" d="M417.1,70.7l1.3,-1.1-1.9,-.9-1.4,1.2z"/><path fill="#e54100" d="M429.6,68.2l1.3,-.9-2,-.8-1.3,.9z"/><path fill="#8ff900" d="M366.4,95.1l1.3,-2-1.8,-1-1.4,2z"/><path fill="#d32f00" d="M461.2,66.8l1.3,-.4-2.1,-.9-1.2,.5z"/><path fill="#e13700" d="M437.5,67.4l1.3,-.8-2,-.9-1.3,.8z"/><path fill="#ed6a00" d="M412.5,72.2l1.3,-1.2-1.9,-.9-1.4,1.2z"/><path fill="#bc5300" d="M494.8,71.6l1.2,0-2.1,-.8-1.2,0z"/><path fill="#d82f00" d="M453.3,66.6l1.3,-.5-2,-.9-1.3,.6z"/><path fill="#dd3000" d="M445.4,66.8l1.3,-.6-2,-.9-1.3,.7z"/><path fill="#aef900" d="M370.9,92.1l1.4,-1.9-1.8,-1-1.4,1.9z"/><path fill="#cb3600" d="M472.4,67.8l1.3,-.3-2.1,-.8-1.2,.3z"/><path fill="#e84b00" d="M425,69.3l1.3,-1-1.9,-.9-1.4,1z"/><path fill="#c44200" d="M483.6,69.4l1.3,-.1-2.1,-.8-1.3,.1z"/><path fill="#ef7b00" d="M407.9,73.8l1.3,-1.3-1.9,-.9-1.4,1.3z"/><path fill="#58fa00" d="M360.4,100.3l1.4,-2.1-1.8,-1-1.4,2.1z"/><path fill="#ccf800" d="M375.5,89.3l1.4,-1.8-1.8,-1-1.4,1.8z"/><path fill="#f18d00" d="M403.2,75.6l1.4,-1.4-1.9,-.9-1.4,1.3z"/><path fill="#e8f700" d="M380.2,86.6l1.3,-1.7-1.8,-1-1.4,1.8z"/><path fill="#d13100" d="M464.5,67.2l1.3,-.4-2.1,-.8-1.2,.4z"/><path fill="#e43f00" d="M432.9,68.2l1.3,-.9-2,-.8-1.3,.8z"/><path fill="#ea5600" d="M420.4,70.5l1.3,-1-2,-.9-1.3,1z"/><path fill="#f2a100" d="M398.6,77.5l1.4,-1.5-1.9,-.9-1.4,1.4z"/><path fill="#f6e900" d="M384.8,84.1l1.3,-1.7-1.8,-.9-1.4,1.7z"/><path fill="#f3b700" d="M394,79.5l1.4,-1.5-1.9,-.9-1.4,1.5z"/><path fill="#7bf900" d="M365,97.1l1.4,-2-1.9,-1-1.4,2z"/><path fill="#f5cf00" d="M389.4,81.7l1.3,-1.6-1.8,-.9-1.4,1.6z"/><path fill="#d62f00" d="M456.6,66.9l1.3,-.5-2,-.8-1.3,.5z"/><path fill="#e03600" d="M440.8,67.4l1.3,-.7-2,-.9-1.3,.8z"/><path fill="#c24700" d="M487,70.1l1.2,-.1-2.1,-.8-1.2,.1z"/><path fill="#c93a00" d="M475.8,68.3l1.2,-.2-2.1,-.8-1.2,.2z"/><path fill="#db3100" d="M448.7,67l1.3,-.6-2,-.9-1.3,.7z"/><path fill="#ec6400" d="M415.8,71.9l1.3,-1.2-2,-.8-1.3,1.1z"/><path fill="#9cf900" d="M369.6,94.1l1.3,-2-1.8,-1-1.4,2z"/><path fill="#e64700" d="M428.3,69.2l1.3,-1-2,-.8-1.3,.9z"/><path fill="#44fa00" d="M359,102.5l1.4,-2.2-1.8,-1-1.4,2.2z"/><path fill="#cf3400" d="M467.9,67.6l1.2,-.3-2,-.8-1.3,.3z"/><path fill="#ee7400" d="M411.1,73.4l1.4,-1.2-2,-.9-1.3,1.2z"/><path fill="#c04b00" d="M490.3,70.8l1.2,0-2.1,-.8-1.2,0z"/><path fill="#bcf800" d="M374.2,91.2l1.3,-1.9-1.8,-1-1.4,1.9z"/><path fill="#c73d00" d="M479.1,68.9l1.2,-.2-2.1,-.8-1.2,.2z"/><path fill="#e23c00" d="M436.2,68.2l1.3,-.8-2,-.9-1.3,.8z"/><path fill="#d43000" d="M460,67.3l1.2,-.5-2,-.8-1.3,.4z"/><path fill="#f08500" d="M406.5,75.1l1.4,-1.3-2,-.9-1.3,1.3z"/><path fill="#e95200" d="M423.7,70.3l1.3,-1-2,-.9-1.3,1.1z"/><path fill="#d8f700" d="M378.8,88.4l1.4,-1.8-1.9,-.9-1.4,1.8z"/><path fill="#de3400" d="M444.1,67.5l1.3,-.7-2,-.8-1.3,.7z"/><path fill="#d93100" d="M452,67.2l1.3,-.6-2,-.8-1.3,.6z"/><path fill="#68fa00" d="M363.6,99.2l1.4,-2.1-1.9,-1-1.3,2.1z"/><path fill="#f19800" d="M401.9,76.9l1.3,-1.3-1.9,-1-1.3,1.4z"/><path fill="#f3f600" d="M383.4,85.8l1.4,-1.7-1.9,-.9-1.4,1.7z"/><path fill="#f3ae00" d="M397.3,78.9l1.3,-1.4-1.9,-1-1.3,1.5z"/><path fill="#f5de00" d="M388,83.4l1.4,-1.7-1.9,-.9-1.4,1.6z"/><path fill="#be5000" d="M493.6,71.6l1.2,0-2.1,-.8-1.2,0z"/><path fill="#f4c500" d="M392.6,81.1l1.4,-1.6-1.9,-.9-1.4,1.5z"/><path fill="#cd3600" d="M471.2,68.1l1.2,-.3-2,-.8-1.3,.3z"/><path fill="#eb5f00" d="M419,71.6l1.4,-1.1-2,-.9-1.3,1.1z"/><path fill="#e54400" d="M431.6,69.1l1.3,-.9-2,-.9-1.3,.9z"/><path fill="#c54100" d="M482.4,69.5l1.2,-.1-2.1,-.8-1.2,.1z"/><path fill="#8af900" d="M368.2,96.1l1.4,-2-1.9,-1-1.3,2z"/><path fill="#2efa00" d="M357.6,104.7l1.4,-2.2-1.8,-1-1.4,2.2z"/><path fill="#d23200" d="M463.3,67.6l1.2,-.4-2,-.8-1.3,.4z"/><path fill="#e13a00" d="M439.5,68.2l1.3,-.8-2,-.8-1.3,.8z"/><path fill="#ed6e00" d="M414.4,73.1l1.4,-1.2-2,-.9-1.3,1.2z"/><path fill="#d83200" d="M455.4,67.5l1.2,-.6-2,-.8-1.3,.5z"/><path fill="#a9f800" d="M372.8,93.1l1.4,-1.9-1.9,-1-1.4,1.9z"/><path fill="#bc5500" d="M497,72.4l1.2,0-2.2,-.8-1.2,0z"/><path fill="#dc3400" d="M447.4,67.7l1.3,-.7-2,-.8-1.3,.6z"/><path fill="#e74e00" d="M427,70.2l1.3,-1-2,-.9-1.3,1z"/><path fill="#cb3900" d="M474.5,68.6l1.3,-.3-2.1,-.8-1.3,.3z"/><path fill="#c34500" d="M485.8,70.2l1.2,-.1-2.1,-.8-1.3,.1z"/><path fill="#53fa00" d="M362.2,101.3l1.4,-2.1-1.8,-1-1.4,2.1z"/><path fill="#ef7e00" d="M409.8,74.7l1.3,-1.3-1.9,-.9-1.3,1.3z"/><path fill="#c8f800" d="M377.4,90.3l1.4,-1.9-1.9,-.9-1.4,1.8z"/><path fill="#f09100" d="M405.2,76.5l1.3,-1.4-1.9,-.9-1.4,1.4z"/><path fill="#e4f700" d="M382,87.6l1.4,-1.8-1.9,-.9-1.3,1.7z"/><path fill="#e44200" d="M434.9,69.1l1.3,-.9-2,-.9-1.3,.9z"/><path fill="#d13400" d="M466.6,68l1.3,-.4-2.1,-.8-1.3,.4z"/><path fill="#f2a500" d="M400.5,78.4l1.4,-1.5-1.9,-.9-1.4,1.5z"/><path fill="#ea5b00" d="M422.3,71.4l1.4,-1.1-2,-.8-1.3,1z"/><path fill="#f6ee00" d="M386.6,85l1.4,-1.6-1.9,-1-1.3,1.7z"/><path fill="#19fb00" d="M356.2,106.9l1.4,-2.2-1.8,-1-1.4,2.2z"/><path fill="#76f900" d="M366.8,98.1l1.4,-2-1.8,-1-1.4,2z"/><path fill="#f3bb00" d="M395.9,80.5l1.4,-1.6-1.9,-.9-1.4,1.5z"/><path fill="#f5d400" d="M391.3,82.7l1.3,-1.6-1.9,-1-1.3,1.6z"/><path fill="#df3900" d="M442.8,68.3l1.3,-.8-2,-.8-1.3,.7z"/><path fill="#d63200" d="M458.7,67.8l1.3,-.5-2.1,-.9-1.3,.5z"/><path fill="#c14900" d="M489.1,70.9l1.2,-.1-2.1,-.8-1.2,.1z"/><path fill="#c93c00" d="M477.9,69.2l1.2,-.3-2.1,-.8-1.2,.2z"/><path fill="#db3300" d="M450.8,67.9l1.2,-.7-2,-.8-1.3,.6z"/><path fill="#ec6800" d="M417.7,72.8l1.3,-1.2-1.9,-.9-1.3,1.2z"/><path fill="#98f900" d="M371.4,95l1.4,-1.9-1.9,-1-1.3,2z"/><path fill="#e64b00" d="M430.3,70.1l1.3,-1-2,-.9-1.3,1z"/><path fill="#3ffa00" d="M360.8,103.5l1.4,-2.2-1.8,-1-1.4,2.2z"/><path fill="#cf3600" d="M469.9,68.5l1.3,-.4-2.1,-.8-1.2,.3z"/><path fill="#e70" d="M413.1,74.3l1.3,-1.2-1.9,-.9-1.4,1.2z"/><path fill="#b7f800" d="M376,92.1l1.4,-1.8-1.9,-1-1.3,1.9z"/><path fill="#bf4d00" d="M492.4,71.6l1.2,0-2.1,-.8-1.2,0z"/><path fill="#e24000" d="M438.2,69.1l1.3,-.9-2,-.8-1.3,.8z"/><path fill="#c73f00" d="M481.2,69.7l1.2,-.2-2.1,-.8-1.2,.2z"/><path fill="#03fb00" d="M354.8,109.2l1.4,-2.3-1.8,-1-1.4,2.3z"/><path fill="#d43400" d="M462,68.1l1.3,-.5-2.1,-.8-1.2,.5z"/><path fill="#ef8900" d="M408.4,76l1.4,-1.3-1.9,-.9-1.4,1.3z"/><path fill="#e85600" d="M425.6,71.2l1.4,-1-2,-.9-1.3,1z"/><path fill="#d4f700" d="M380.7,89.4l1.3,-1.8-1.8,-1-1.4,1.8z"/><path fill="#de3800" d="M446.1,68.4l1.3,-.7-2,-.9-1.3,.7z"/><path fill="#d93400" d="M454.1,68.1l1.3,-.6-2.1,-.9-1.3,.6z"/><path fill="#63fa00" d="M365.4,100.2l1.4,-2.1-1.8,-1-1.4,2.1z"/><path fill="#f19d00" d="M403.8,77.9l1.4,-1.4-2,-.9-1.3,1.3z"/><path fill="#eef600" d="M385.3,86.8l1.3,-1.8-1.8,-.9-1.4,1.7z"/><path fill="#f2b200" d="M399.2,79.9l1.3,-1.5-1.9,-.9-1.3,1.4z"/><path fill="#f5e300" d="M389.9,84.3l1.4,-1.6-1.9,-1-1.4,1.7z"/><path fill="#f4c900" d="M394.5,82l1.4,-1.5-1.9,-1-1.4,1.6z"/><path fill="#bd5200" d="M495.8,72.4l1.2,0-2.2,-.8-1.2,0z"/><path fill="#cd3900" d="M473.3,68.9l1.2,-.3-2.1,-.8-1.2,.3z"/><path fill="#eb6200" d="M421,72.5l1.3,-1.1-1.9,-.9-1.4,1.1z"/><path fill="#e54800" d="M433.6,70l1.3,-.9-2,-.9-1.3,.9z"/><path fill="#c54300" d="M484.5,70.4l1.3,-.2-2.2,-.8-1.2,.1z"/><path fill="#85f900" d="M370,97l1.4,-2-1.8,-.9-1.4,2z"/><path fill="#29fa00" d="M359.4,105.7l1.4,-2.2-1.8,-1-1.4,2.2z"/><path fill="#d23500" d="M465.4,68.5l1.2,-.5-2.1,-.8-1.2,.4z"/><path fill="#e13e00" d="M441.5,69.1l1.3,-.8-2,-.9-1.3,.8z"/><path fill="#ed7100" d="M416.4,74l1.3,-1.2-1.9,-.9-1.4,1.2z"/><path fill="#00fb14" d="M353.5,111.5l1.3,-2.3-1.8,-1-1.3,2.3z"/><path fill="#a5f800" d="M374.7,94.1l1.3,-2-1.8,-.9-1.4,1.9z"/><path fill="#d73400" d="M457.4,68.3l1.3,-.5-2.1,-.9-1.2,.6z"/><path fill="#dc3700" d="M449.5,68.5l1.3,-.6-2.1,-.9-1.3,.7z"/><path fill="#bb5700" d="M499.1,73.2l1.2,0-2.1,-.8-1.2,0z"/><path fill="#e75200" d="M428.9,71.1l1.4,-1-2,-.9-1.3,1z"/><path fill="#cb3c00" d="M476.6,69.4l1.3,-.2-2.1,-.9-1.3,.3z"/><path fill="#4efa00" d="M364,102.3l1.4,-2.1-1.8,-1-1.4,2.1z"/><path fill="#ee8200" d="M411.7,75.6l1.4,-1.3-2,-.9-1.3,1.3z"/><path fill="#c34700" d="M487.9,71l1.2,-.1-2.1,-.8-1.2,.1z"/><path fill="#c3f700" d="M379.3,91.2l1.4,-1.8-1.9,-1-1.4,1.9z"/><path fill="#f09500" d="M407.1,77.4l1.3,-1.4-1.9,-.9-1.3,1.4z"/><path fill="#dff600" d="M383.9,88.5l1.4,-1.7-1.9,-1-1.4,1.8z"/><path fill="#e34600" d="M436.9,69.9l1.3,-.8-2,-.9-1.3,.9z"/><path fill="#d03700" d="M468.7,68.8l1.2,-.3-2,-.9-1.3,.4z"/><path fill="#f2a900" d="M402.4,79.3l1.4,-1.4-1.9,-1-1.4,1.5z"/><path fill="#e95e00" d="M424.3,72.3l1.3,-1.1-1.9,-.9-1.4,1.1z"/><path fill="#f5f200" d="M388.5,86l1.4,-1.7-1.9,-.9-1.4,1.6z"/><path fill="#14fa00" d="M358.1,107.9l1.3,-2.2-1.8,-1-1.4,2.2z"/><path fill="#72f900" d="M368.7,99.1l1.3,-2.1-1.8,-.9-1.4,2z"/><path fill="#f3c000" d="M397.8,81.4l1.4,-1.5-1.9,-1-1.4,1.6z"/><path fill="#f4d800" d="M393.2,83.6l1.3,-1.6-1.9,-.9-1.3,1.6z"/><path fill="#df3c00" d="M444.8,69.1l1.3,-.7-2,-.9-1.3,.8z"/><path fill="#d63600" d="M460.7,68.6l1.3,-.5-2,-.8-1.3,.5z"/><path fill="#c93f00" d="M480,70l1.2,-.3-2.1,-.8-1.2,.3z"/><path fill="#c14b00" d="M491.2,71.7l1.2,-.1-2.1,-.8-1.2,.1z"/><path fill="#00fb2b" d="M352.1,113.8l1.4,-2.3-1.8,-1-1.4,2.3z"/><path fill="#db3700" d="M452.8,68.7l1.3,-.6-2.1,-.9-1.2,.7z"/><path fill="#ec6c00" d="M419.7,73.7l1.3,-1.2-2,-.9-1.3,1.2z"/><path fill="#93f800" d="M373.3,96l1.4,-1.9-1.9,-1-1.4,1.9z"/><path fill="#e64e00" d="M432.3,70.9l1.3,-.9-2,-.9-1.3,1z"/><path fill="#3afa00" d="M362.7,104.5l1.3,-2.2-1.8,-1-1.4,2.2z"/><path fill="#ce3900" d="M472,69.3l1.3,-.4-2.1,-.8-1.3,.4z"/><path fill="#ed7c00" d="M415,75.2l1.4,-1.2-2,-.9-1.3,1.2z"/><path fill="#b3f800" d="M377.9,93.1l1.4,-1.9-1.9,-.9-1.4,1.8z"/><path fill="#bf4f00" d="M494.6,72.4l1.2,0-2.2,-.8-1.2,0z"/><path fill="#e24300" d="M440.2,69.9l1.3,-.8-2,-.9-1.3,.9z"/><path fill="#c74200" d="M483.3,70.5l1.2,-.1-2.1,-.9-1.2,.2z"/><path fill="#00fb02" d="M356.7,110.2l1.4,-2.3-1.9,-1-1.4,2.3z"/><path fill="#d43700" d="M464.1,68.9l1.3,-.4-2.1,-.9-1.3,.5z"/><path fill="#ef8d00" d="M410.4,76.9l1.3,-1.3-1.9,-.9-1.4,1.3z"/><path fill="#cff700" d="M382.5,90.3l1.4,-1.8-1.9,-.9-1.3,1.8z"/><path fill="#e85900" d="M427.6,72.1l1.3,-1-1.9,-.9-1.4,1z"/><path fill="#de3b00" d="M448.2,69.2l1.3,-.7-2.1,-.8-1.3,.7z"/><path fill="#5ff900" d="M367.3,101.2l1.4,-2.1-1.9,-1-1.4,2.1z"/><path fill="#d93700" d="M456.1,68.9l1.3,-.6-2,-.8-1.3,.6z"/><path fill="#00fb43" d="M350.7,116.2l1.4,-2.4-1.8,-1-1.4,2.4z"/><path fill="#f1a100" d="M405.7,78.8l1.4,-1.4-1.9,-.9-1.4,1.4z"/><path fill="#eaf600" d="M387.2,87.7l1.3,-1.7-1.9,-1-1.3,1.8z"/><path fill="#f2b500" d="M401.1,80.8l1.3,-1.5-1.9,-.9-1.3,1.5z"/><path fill="#f5e600" d="M391.8,85.2l1.4,-1.6-1.9,-.9-1.4,1.6z"/><path fill="#f4cd00" d="M396.4,82.9l1.4,-1.5-1.9,-.9-1.4,1.5z"/><path fill="#cc3b00" d="M475.4,69.7l1.2,-.3-2.1,-.8-1.2,.3z"/><path fill="#bd5400" d="M497.9,73.2l1.2,0-2.1,-.8-1.2,0z"/><path fill="#ea6600" d="M423,73.4l1.3,-1.1-2,-.9-1.3,1.1z"/><path fill="#e54b00" d="M435.6,70.8l1.3,-.9-2,-.8-1.3,.9z"/><path fill="#81f900" d="M371.9,98l1.4,-2-1.9,-1-1.4,2z"/><path fill="#25fa00" d="M361.3,106.7l1.4,-2.2-1.9,-1-1.4,2.2z"/><path fill="#c54500" d="M486.7,71.2l1.2,-.2-2.1,-.8-1.3,.2z"/><path fill="#d23800" d="M467.4,69.3l1.3,-.5-2.1,-.8-1.2,.5z"/><path fill="#e04100" d="M443.5,69.9l1.3,-.8-2,-.8-1.3,.8z"/><path fill="#ec7500" d="M418.3,74.9l1.4,-1.2-2,-.9-1.3,1.2z"/><path fill="#00fb19" d="M355.3,112.5l1.4,-2.3-1.9,-1-1.3,2.3z"/><path fill="#a0f800" d="M376.5,95l1.4,-1.9-1.9,-1-1.3,2z"/><path fill="#d73800" d="M459.5,69.2l1.2,-.6-2,-.8-1.3,.5z"/><path fill="#dc3b00" d="M451.5,69.4l1.3,-.7-2,-.8-1.3,.6z"/><path fill="#bb5900" d="M501.3,74l1.2,0-2.2,-.8-1.2,0z"/><path fill="#00fb5b" d="M349.3,118.7l1.4,-2.5-1.8,-1-1.4,2.4z"/><path fill="#e75500" d="M430.9,71.9l1.4,-1-2,-.8-1.4,1z"/><path fill="#4afa00" d="M365.9,103.3l1.4,-2.1-1.9,-1-1.4,2.1z"/><path fill="#ca3e00" d="M478.7,70.2l1.3,-.2-2.1,-.8-1.3,.2z"/><path fill="#ee8600" d="M413.7,76.5l1.3,-1.3-1.9,-.9-1.4,1.3z"/><path fill="#bff700" d="M381.2,92.2l1.3,-1.9-1.8,-.9-1.4,1.8z"/><path fill="#c34900" d="M490,71.8l1.2,-.1-2.1,-.8-1.2,.1z"/><path fill="#f09800" d="M409,78.3l1.4,-1.4-2,-.9-1.3,1.4z"/><path fill="#dbf600" d="M385.8,89.5l1.4,-1.8-1.9,-.9-1.4,1.7z"/><path fill="#e34800" d="M438.9,70.8l1.3,-.9-2,-.8-1.3,.8z"/><path fill="#f1ad00" d="M404.4,80.2l1.3,-1.4-1.9,-.9-1.4,1.4z"/><path fill="#10fa00" d="M359.9,108.9l1.4,-2.2-1.9,-1-1.3,2.2z"/><path fill="#d03a00" d="M470.8,69.7l1.2,-.4-2.1,-.8-1.2,.3z"/><path fill="#f5f500" d="M390.4,86.9l1.4,-1.7-1.9,-.9-1.4,1.7z"/><path fill="#e96200" d="M426.3,73.2l1.3,-1.1-2,-.9-1.3,1.1z"/><path fill="#6df900" d="M370.5,100.1l1.4,-2.1-1.9,-1-1.3,2.1z"/><path fill="#f3c300" d="M399.7,82.3l1.4,-1.5-1.9,-.9-1.4,1.5z"/><path fill="#f4db00" d="M395.1,84.5l1.3,-1.6-1.9,-.9-1.3,1.6z"/><path fill="#df4000" d="M446.9,70l1.3,-.8-2.1,-.8-1.3,.7z"/><path fill="#d53800" d="M462.8,69.4l1.3,-.5-2.1,-.8-1.3,.5z"/><path fill="#00fb2f" d="M353.9,114.9l1.4,-2.4-1.8,-1-1.4,2.3z"/><path fill="#c94100" d="M482.1,70.8l1.2,-.3-2.1,-.8-1.2,.3z"/><path fill="#da3a00" d="M454.8,69.5l1.3,-.6-2,-.8-1.3,.6z"/><path fill="#c14d00" d="M493.4,72.5l1.2,-.1-2.2,-.8-1.2,.1z"/><path fill="#00fb73" d="M347.9,121.2l1.4,-2.5-1.8,-1.1-1.4,2.5z"/><path fill="#eb7000" d="M421.6,74.6l1.4,-1.2-2,-.9-1.3,1.2z"/><path fill="#8ff800" d="M375.1,97l1.4,-2-1.8,-.9-1.4,1.9z"/><path fill="#e65200" d="M434.3,71.8l1.3,-1-2,-.8-1.3,.9z"/><path fill="#36fa00" d="M364.5,105.4l1.4,-2.1-1.9,-1-1.3,2.2z"/><path fill="#ce3c00" d="M474.1,70.1l1.3,-.4-2.1,-.8-1.3,.4z"/><path fill="#ed7f00" d="M417,76.1l1.3,-1.2-1.9,-.9-1.4,1.2z"/><path fill="#aef800" d="M379.8,94.1l1.4,-1.9-1.9,-1-1.4,1.9z"/><path fill="#e24600" d="M442.2,70.8l1.3,-.9-2,-.8-1.3,.8z"/><path fill="#bf5200" d="M496.7,73.2l1.2,0-2.1,-.8-1.2,0z"/><path fill="#00fb06" d="M358.5,111.2l1.4,-2.3-1.8,-1-1.4,2.3z"/><path fill="#c74500" d="M485.4,71.4l1.3,-.2-2.2,-.8-1.2,.1z"/><path fill="#ef9000" d="M412.3,77.8l1.4,-1.3-2,-.9-1.3,1.3z"/><path fill="#cbf700" d="M384.4,91.3l1.4,-1.8-1.9,-1-1.4,1.8z"/><path fill="#d33900" d="M466.2,69.7l1.2,-.4-2,-.8-1.3,.4z"/><path fill="#e85d00" d="M429.6,73l1.3,-1.1-2,-.8-1.3,1z"/><path fill="#5af900" d="M369.1,102.1l1.4,-2-1.8,-1-1.4,2.1z"/><path fill="#dd3e00" d="M450.2,70.1l1.3,-.7-2,-.9-1.3,.7z"/><path fill="#00fb47" d="M352.5,117.3l1.4,-2.4-1.8,-1.1-1.4,2.4z"/><path fill="#d93a00" d="M458.2,69.7l1.3,-.5-2.1,-.9-1.3,.6z"/><path fill="#00fb8c" d="M346.5,123.7l1.4,-2.5-1.8,-1.1-1.4,2.5z"/><path fill="#f1a400" d="M407.7,79.7l1.3,-1.4-1.9,-.9-1.4,1.4z"/><path fill="#e6f600" d="M389.1,88.6l1.3,-1.7-1.9,-.9-1.3,1.7z"/><path fill="#f2ba00" d="M403,81.7l1.4,-1.5-2,-.9-1.3,1.5z"/><path fill="#f5ea00" d="M393.7,86.2l1.4,-1.7-1.9,-.9-1.4,1.6z"/><path fill="#f3d100" d="M398.4,83.9l1.3,-1.6-1.9,-.9-1.4,1.5z"/><path fill="#cc3e00" d="M477.5,70.6l1.2,-.4-2.1,-.8-1.2,.3z"/><path fill="#bd5600" d="M500.1,74l1.2,0-2.2,-.8-1.2,0z"/><path fill="#ea6a00" d="M425,74.3l1.3,-1.1-2,-.9-1.3,1.1z"/><path fill="#7cf900" d="M373.8,99l1.3,-2-1.8,-1-1.4,2z"/><path fill="#e44f00" d="M437.6,71.7l1.3,-.9-2,-.9-1.3,.9z"/><path fill="#20fa00" d="M363.1,107.6l1.4,-2.2-1.8,-.9-1.4,2.2z"/><path fill="#c54800" d="M488.8,72l1.2,-.2-2.1,-.8-1.2,.2z"/><path fill="#d23a00" d="M469.5,70.1l1.3,-.4-2.1,-.9-1.3,.5z"/><path fill="#e04500" d="M445.6,70.8l1.3,-.8-2.1,-.9-1.3,.8z"/><path fill="#ec7800" d="M420.3,75.8l1.3,-1.2-1.9,-.9-1.4,1.2z"/><path fill="#00fb1d" d="M357.1,113.5l1.4,-2.3-1.8,-1-1.4,2.3z"/><path fill="#9df800" d="M378.4,96l1.4,-1.9-1.9,-1-1.4,1.9z"/><path fill="#d73a00" d="M461.5,70l1.3,-.6-2.1,-.8-1.2,.6z"/><path fill="#dc3d00" d="M453.6,70.2l1.2,-.7-2,-.8-1.3,.7z"/><path fill="#00fca5" d="M345.1,126.2l1.4,-2.5-1.8,-1.1-1.4,2.6z"/><path fill="#00fb5f" d="M351.1,119.7l1.4,-2.4-1.8,-1.1-1.4,2.5z"/><path fill="#bb5a00" d="M503.4,74.8l1.2,0-2.1,-.8-1.2,0z"/><path fill="#e75900" d="M432.9,72.8l1.4,-1-2,-.9-1.4,1z"/><path fill="#46f900" d="M367.7,104.3l1.4,-2.2-1.8,-.9-1.4,2.1z"/><path fill="#ee8900" d="M415.6,77.4l1.4,-1.3-2,-.9-1.3,1.3z"/><path fill="#bbf700" d="M383,93.1l1.4,-1.8-1.9,-1-1.3,1.9z"/><path fill="#ca4000" d="M480.8,71.1l1.3,-.3-2.1,-.8-1.3,.2z"/><path fill="#c24c00" d="M492.1,72.6l1.3,-.1-2.2,-.8-1.2,.1z"/><path fill="#f09c00" d="M411,79.2l1.3,-1.4-1.9,-.9-1.4,1.4z"/><path fill="#d6f600" d="M387.7,90.4l1.4,-1.8-1.9,-.9-1.4,1.8z"/><path fill="#e34c00" d="M440.9,71.6l1.3,-.8-2,-.9-1.3,.9z"/><path fill="#0cfa00" d="M361.7,109.9l1.4,-2.3-1.8,-.9-1.4,2.2z"/><path fill="#f1b100" d="M406.3,81.1l1.4,-1.4-2,-.9-1.3,1.4z"/><path fill="#f0f500" d="M392.3,87.9l1.4,-1.7-1.9,-1-1.4,1.7z"/><path fill="#e96500" d="M428.3,74l1.3,-1-2,-.9-1.3,1.1z"/><path fill="#d03c00" d="M472.9,70.5l1.2,-.4-2.1,-.8-1.2,.4z"/><path fill="#69f900" d="M372.4,101l1.4,-2-1.9,-1-1.4,2.1z"/><path fill="#f3c700" d="M401.7,83.2l1.3,-1.5-1.9,-.9-1.4,1.5z"/><path fill="#f4df00" d="M397,85.5l1.4,-1.6-2,-1-1.3,1.6z"/><path fill="#df4200" d="M448.9,70.8l1.3,-.7-2,-.9-1.3,.8z"/><path fill="#00fb34" d="M355.7,115.9l1.4,-2.4-1.8,-1-1.4,2.4z"/><path fill="#d53b00" d="M464.9,70.3l1.3,-.6-2.1,-.8-1.3,.5z"/><path fill="#00fcbe" d="M343.7,128.8l1.4,-2.6-1.8,-1-1.4,2.6z"/><path fill="#da3d00" d="M456.9,70.4l1.3,-.7-2.1,-.8-1.3,.6z"/><path fill="#c84400" d="M484.2,71.6l1.2,-.2-2.1,-.9-1.2,.3z"/><path fill="#00fb77" d="M349.7,122.2l1.4,-2.5-1.8,-1-1.4,2.5z"/><path fill="#c04f00" d="M495.5,73.3l1.2,-.1-2.1,-.8-1.2,.1z"/><path fill="#eb7300" d="M423.6,75.4l1.4,-1.1-2,-.9-1.4,1.2z"/><path fill="#8af800" d="M377,97.9l1.4,-1.9-1.9,-1-1.4,2z"/><path fill="#e55500" d="M436.3,72.7l1.3,-1-2,-.9-1.3,1z"/><path fill="#32fa00" d="M366.3,106.4l1.4,-2.1-1.8,-1-1.4,2.1z"/><path fill="#ed8300" d="M419,77l1.3,-1.2-2,-.9-1.3,1.2z"/><path fill="#aaf700" d="M381.7,95l1.3,-1.9-1.8,-.9-1.4,1.9z"/><path fill="#ce3e00" d="M476.2,70.9l1.3,-.3-2.1,-.9-1.3,.4z"/><path fill="#e14900" d="M444.3,71.6l1.3,-.8-2.1,-.9-1.3,.9z"/><path fill="#00fa0b" d="M360.3,112.2l1.4,-2.3-1.8,-1-1.4,2.3z"/><path fill="#be5400" d="M498.9,74l1.2,0-2.2,-.8-1.2,0z"/><path fill="#c64700" d="M487.6,72.2l1.2,-.2-2.1,-.8-1.3,.2z"/><path fill="#ef9400" d="M414.3,78.7l1.3,-1.3-1.9,-.9-1.4,1.3z"/><path fill="#c7f700" d="M386.3,92.2l1.4,-1.8-1.9,-.9-1.4,1.8z"/><path fill="#00fcd9" d="M342.3,131.5l1.4,-2.7-1.8,-1-1.4,2.6z"/><path fill="#d33c00" d="M468.2,70.6l1.3,-.5-2.1,-.8-1.2,.4z"/><path fill="#e86000" d="M431.6,73.8l1.3,-1-2,-.9-1.3,1.1z"/><path fill="#56f900" d="M371,103.1l1.4,-2.1-1.9,-.9-1.4,2z"/><path fill="#dd4100" d="M452.3,70.9l1.3,-.7-2.1,-.8-1.3,.7z"/><path fill="#00fb4b" d="M354.3,118.3l1.4,-2.4-1.8,-1-1.4,2.4z"/><path fill="#00fb90" d="M348.3,124.7l1.4,-2.5-1.8,-1-1.4,2.5z"/><path fill="#d83d00" d="M460.3,70.6l1.2,-.6-2,-.8-1.3,.5z"/><path fill="#f0a800" d="M409.6,80.6l1.4,-1.4-2,-.9-1.3,1.4z"/><path fill="#e2f600" d="M391,89.6l1.3,-1.7-1.9,-1-1.3,1.7z"/><path fill="#f2be00" d="M405,82.6l1.3,-1.5-1.9,-.9-1.4,1.5z"/><path fill="#f4ee00" d="M395.6,87.1l1.4,-1.6-1.9,-1-1.4,1.7z"/><path fill="#f3d500" d="M400.3,84.8l1.4,-1.6-2,-.9-1.3,1.6z"/><path fill="#cc4100" d="M479.6,71.4l1.2,-.3-2.1,-.9-1.2,.4z"/><path fill="#ea6d00" d="M426.9,75.2l1.4,-1.2-2,-.8-1.3,1.1z"/><path fill="#78f800" d="M375.6,100l1.4,-2.1-1.9,-.9-1.3,2z"/><path fill="#e45200" d="M439.6,72.6l1.3,-1-2,-.8-1.3,.9z"/><path fill="#bc5800" d="M502.3,74.8l1.1,0-2.1,-.8-1.2,0z"/><path fill="#1cfa00" d="M365,108.6l1.3,-2.2-1.8,-1-1.4,2.2z"/><path fill="#c44a00" d="M490.9,72.8l1.2,-.2-2.1,-.8-1.2,.2z"/><path fill="#00fcf4" d="M340.9,134.2l1.4,-2.7-1.8,-1.1-1.4,2.7z"/><path fill="#d13e00" d="M471.6,70.9l1.3,-.4-2.1,-.8-1.3,.4z"/><path fill="#00fb21" d="M358.9,114.5l1.4,-2.3-1.8,-1-1.4,2.3z"/><path fill="#e04700" d="M447.6,71.6l1.3,-.8-2,-.8-1.3,.8z"/><path fill="#ec7c00" d="M422.3,76.6l1.3,-1.2-2,-.8-1.3,1.2z"/><path fill="#99f800" d="M380.3,96.9l1.4,-1.9-1.9,-.9-1.4,1.9z"/><path fill="#00fbaa" d="M346.9,127.3l1.4,-2.6-1.8,-1-1.4,2.5z"/><path fill="#00fb63" d="M352.9,120.7l1.4,-2.4-1.8,-1-1.4,2.4z"/><path fill="#d73d00" d="M463.6,70.8l1.3,-.5-2.1,-.9-1.3,.6z"/><path fill="#db4100" d="M455.6,71.1l1.3,-.7-2.1,-.9-1.2,.7z"/><path fill="#e65c00" d="M434.9,73.7l1.4,-1-2,-.9-1.4,1z"/><path fill="#42f900" d="M369.6,105.2l1.4,-2.1-1.9,-1-1.4,2.2z"/><path fill="#ba5c00" d="M505.6,75.6l1.2,0-2.2,-.8-1.2,0z"/><path fill="#ee8d00" d="M417.6,78.3l1.4,-1.3-2,-.9-1.4,1.3z"/><path fill="#b6f700" d="M384.9,94.1l1.4,-1.9-1.9,-.9-1.4,1.8z"/><path fill="#ca4300" d="M483,71.9l1.2,-.3-2.1,-.8-1.3,.3z"/><path fill="#c24e00" d="M494.3,73.4l1.2,-.1-2.1,-.8-1.3,.1z"/><path fill="#f0a000" d="M412.9,80.1l1.4,-1.4-2,-.9-1.3,1.4z"/><path fill="#d2f600" d="M389.6,91.4l1.4,-1.8-1.9,-1-1.4,1.8z"/><path fill="#07fa00" d="M363.6,110.9l1.4,-2.3-1.9,-1-1.4,2.3z"/><path fill="#e34f00" d="M443,72.5l1.3,-.9-2.1,-.8-1.3,.8z"/><path fill="#f1b500" d="M408.3,82l1.3,-1.4-1.9,-.9-1.4,1.4z"/><path fill="#ecf500" d="M394.3,88.8l1.3,-1.7-1.9,-.9-1.4,1.7z"/><path fill="#00e9fc" d="M339.5,136.9l1.4,-2.7-1.8,-1.1-1.4,2.7z"/><path fill="#e96800" d="M430.3,74.9l1.3,-1.1-2,-.8-1.3,1z"/><path fill="#65f900" d="M374.2,102l1.4,-2-1.8,-1-1.4,2z"/><path fill="#cf3f00" d="M475,71.3l1.2,-.4-2.1,-.8-1.2,.4z"/><path fill="#f2cb00" d="M403.6,84.1l1.4,-1.5-2,-.9-1.3,1.5z"/><path fill="#f4e400" d="M398.9,86.4l1.4,-1.6-1.9,-.9-1.4,1.6z"/><path fill="#00fb38" d="M357.5,116.9l1.4,-2.4-1.8,-1-1.4,2.4z"/><path fill="#de4600" d="M451,71.7l1.3,-.8-2.1,-.8-1.3,.7z"/><path fill="#00fcc3" d="M345.5,129.9l1.4,-2.6-1.8,-1.1-1.4,2.6z"/><path fill="#d53e00" d="M467,71.1l1.2,-.5-2,-.9-1.3,.6z"/><path fill="#00fb7b" d="M351.5,123.2l1.4,-2.5-1.8,-1-1.4,2.5z"/><path fill="#da4000" d="M459,71.2l1.3,-.6-2.1,-.9-1.3,.7z"/><path fill="#c84600" d="M486.3,72.4l1.3,-.2-2.2,-.8-1.2,.2z"/><path fill="#c05100" d="M497.7,74.1l1.2,-.1-2.2,-.8-1.2,.1z"/><path fill="#eb7600" d="M425.6,76.3l1.3,-1.1-1.9,-.9-1.4,1.1z"/><path fill="#86f800" d="M378.9,98.9l1.4,-2-1.9,-.9-1.4,1.9z"/><path fill="#2dfa00" d="M368.2,107.4l1.4,-2.2-1.9,-.9-1.4,2.1z"/><path fill="#e55800" d="M438.3,73.5l1.3,-.9-2,-.9-1.3,1z"/><path fill="#00cdfc" d="M338.1,139.6l1.4,-2.7-1.8,-1.1-1.3,2.8z"/><path fill="#a6f700" d="M383.5,96l1.4,-1.9-1.9,-1-1.3,1.9z"/><path fill="#ed8700" d="M420.9,77.9l1.4,-1.3-2,-.8-1.3,1.2z"/><path fill="#ce4000" d="M478.3,71.7l1.3,-.3-2.1,-.8-1.3,.3z"/><path fill="#00fa0f" d="M362.2,113.2l1.4,-2.3-1.9,-1-1.4,2.3z"/><path fill="#e14d00" d="M446.3,72.5l1.3,-.9-2,-.8-1.3,.8z"/><path fill="#be5500" d="M501.1,74.8l1.2,0-2.2,-.8-1.2,0z"/><path fill="#c3f600" d="M388.2,93.2l1.4,-1.8-1.9,-1-1.4,1.8z"/><path fill="#ef9800" d="M416.3,79.6l1.3,-1.3-2,-.9-1.3,1.3z"/><path fill="#00fcdd" d="M344.1,132.5l1.4,-2.6-1.8,-1.1-1.4,2.7z"/><path fill="#c64900" d="M489.7,73l1.2,-.2-2.1,-.8-1.2,.2z"/><path fill="#52f900" d="M372.8,104.1l1.4,-2.1-1.8,-1-1.4,2.1z"/><path fill="#e86400" d="M433.6,74.7l1.3,-1-2,-.9-1.3,1z"/><path fill="#d33f00" d="M470.3,71.4l1.3,-.5-2.1,-.8-1.3,.5z"/><path fill="#00fb50" d="M356.1,119.3l1.4,-2.4-1.8,-1-1.4,2.4z"/><path fill="#d40" d="M454.3,71.8l1.3,-.7-2,-.9-1.3,.7z"/><path fill="#00fb94" d="M350.1,125.7l1.4,-2.5-1.8,-1-1.4,2.5z"/><path fill="#ddf500" d="M392.9,90.5l1.4,-1.7-2,-.9-1.3,1.7z"/><path fill="#f0ab00" d="M411.6,81.5l1.3,-1.4-1.9,-.9-1.4,1.4z"/><path fill="#d84000" d="M462.3,71.4l1.3,-.6-2.1,-.8-1.2,.6z"/><path fill="#f4f100" d="M397.6,88l1.3,-1.6-1.9,-.9-1.4,1.6z"/><path fill="#f2c100" d="M406.9,83.5l1.4,-1.5-2,-.9-1.3,1.5z"/><path fill="#f3d800" d="M402.2,85.7l1.4,-1.6-1.9,-.9-1.4,1.6z"/><path fill="#00b1fc" d="M336.7,142.4l1.4,-2.8-1.7,-1-1.4,2.8z"/><path fill="#74f800" d="M377.5,100.9l1.4,-2-1.9,-1-1.4,2.1z"/><path fill="#ea7100" d="M428.9,76l1.4,-1.1-2,-.9-1.4,1.2z"/><path fill="#cc4300" d="M481.7,72.2l1.3,-.3-2.2,-.8-1.2,.3z"/><path fill="#18fa00" d="M366.8,109.6l1.4,-2.2-1.9,-1-1.3,2.2z"/><path fill="#e45500" d="M441.6,73.4l1.4,-.9-2.1,-.9-1.3,1z"/><path fill="#bc5900" d="M504.4,75.5l1.2,.1-2.2,-.8-1.1,0z"/><path fill="#c44c00" d="M493.1,73.6l1.2,-.2-2.2,-.8-1.2,.2z"/><path fill="#00fcf8" d="M342.7,135.2l1.4,-2.7-1.8,-1-1.4,2.7z"/><path fill="#00fa25" d="M360.8,115.5l1.4,-2.3-1.9,-1-1.4,2.3z"/><path fill="#d14000" d="M473.7,71.7l1.3,-.4-2.1,-.8-1.3,.4z"/><path fill="#95f800" d="M382.2,97.9l1.3,-1.9-1.8,-1-1.4,1.9z"/><path fill="#ec8000" d="M424.3,77.5l1.3,-1.2-2,-.9-1.3,1.2z"/><path fill="#e04b00" d="M449.7,72.5l1.3,-.8-2.1,-.9-1.3,.8z"/><path fill="#00fbad" d="M348.7,128.3l1.4,-2.6-1.8,-1-1.4,2.6z"/><path fill="#00fb67" d="M354.7,121.7l1.4,-2.4-1.8,-1-1.4,2.4z"/><path fill="#d64000" d="M465.7,71.6l1.3,-.5-2.1,-.8-1.3,.5z"/><path fill="#db4300" d="M457.7,71.9l1.3,-.7-2.1,-.8-1.3,.7z"/><path fill="#3ef900" d="M371.5,106.2l1.3,-2.1-1.8,-1-1.4,2.1z"/><path fill="#e66000" d="M437,74.5l1.3,-1-2,-.8-1.4,1z"/><path fill="#0093f8" d="M335.3,145.3l1.4,-2.9-1.7,-1-1.4,2.8z"/><path fill="#b2f700" d="M386.8,95l1.4,-1.8-1.9,-1-1.4,1.9z"/><path fill="#ee9000" d="M419.6,79.2l1.3,-1.3-1.9,-.9-1.4,1.3z"/><path fill="#ba5e00" d="M507.8,76.3l1.2,.1-2.2,-.8-1.2,0z"/><path fill="#ca4600" d="M485.1,72.7l1.2,-.3-2.1,-.8-1.2,.3z"/><path fill="#c25000" d="M496.5,74.2l1.2,-.1-2.2,-.8-1.2,.1z"/><path fill="#cef600" d="M391.5,92.3l1.4,-1.8-1.9,-.9-1.4,1.8z"/><path fill="#efa300" d="M414.9,81l1.4,-1.4-2,-.9-1.4,1.4z"/><path fill="#03fa00" d="M365.4,111.9l1.4,-2.3-1.8,-1-1.4,2.3z"/><path fill="#e8f500" d="M396.2,89.7l1.4,-1.7-2,-.9-1.3,1.7z"/><path fill="#f1b800" d="M410.2,82.9l1.4,-1.4-2,-.9-1.3,1.4z"/><path fill="#e25200" d="M445,73.3l1.3,-.8-2,-.9-1.3,.9z"/><path fill="#00e4fc" d="M341.3,137.9l1.4,-2.7-1.8,-1-1.4,2.7z"/><path fill="#60f900" d="M376.1,103l1.4,-2.1-1.9,-.9-1.4,2z"/><path fill="#e96c00" d="M432.3,75.8l1.3,-1.1-2,-.9-1.3,1.1z"/><path fill="#f4e700" d="M400.9,87.3l1.3,-1.6-1.9,-.9-1.4,1.6z"/><path fill="#f2ce00" d="M405.5,85l1.4,-1.5-1.9,-.9-1.4,1.5z"/><path fill="#cf4100" d="M477.1,72.1l1.2,-.4-2.1,-.8-1.2,.4z"/><path fill="#00fb3c" d="M359.4,117.9l1.4,-2.4-1.9,-1-1.4,2.4z"/><path fill="#00fbc7" d="M347.3,130.9l1.4,-2.6-1.8,-1-1.4,2.6z"/><path fill="#de4800" d="M453,72.5l1.3,-.7-2,-.9-1.3,.8z"/><path fill="#0073f3" d="M333.9,148.2l1.4,-2.9-1.7,-1.1-1.4,2.9z"/><path fill="#00fb80" d="M353.3,124.2l1.4,-2.5-1.8,-1-1.4,2.5z"/><path fill="#d44000" d="M469.1,71.9l1.2,-.5-2.1,-.8-1.2,.5z"/><path fill="#d94300" d="M461,72l1.3,-.6-2,-.8-1.3,.6z"/><path fill="#c84800" d="M488.5,73.2l1.2,-.2-2.1,-.8-1.3,.2z"/><path fill="#82f800" d="M380.8,99.9l1.4,-2-1.9,-1-1.4,2z"/><path fill="#eb7900" d="M427.6,77.2l1.3,-1.2-2,-.8-1.3,1.1z"/><path fill="#c05400" d="M499.8,74.9l1.3,-.1-2.2,-.8-1.2,.1z"/><path fill="#29f900" d="M370.1,108.4l1.4,-2.2-1.9,-1-1.4,2.2z"/><path fill="#e55c00" d="M440.3,74.4l1.3,-1-2,-.8-1.3,.9z"/><path fill="#00c9fc" d="M339.9,140.7l1.4,-2.8-1.8,-1-1.4,2.7z"/><path fill="#a2f700" d="M385.4,96.9l1.4,-1.9-1.9,-.9-1.4,1.9z"/><path fill="#ed8900" d="M422.9,78.8l1.4,-1.3-2,-.9-1.4,1.3z"/><path fill="#cd4300" d="M480.5,72.5l1.2,-.3-2.1,-.8-1.3,.3z"/><path fill="#00fa13" d="M364,114.2l1.4,-2.3-1.8,-1-1.4,2.3z"/><path fill="#0056ed" d="M332.5,151.1l1.4,-2.9-1.7,-1.1-1.4,2.9z"/><path fill="#e14f00" d="M448.4,73.3l1.3,-.8-2.1,-.9-1.3,.9z"/><path fill="#bef600" d="M390.1,94.1l1.4,-1.8-1.9,-.9-1.4,1.8z"/><path fill="#00fbe1" d="M345.9,133.6l1.4,-2.7-1.8,-1-1.4,2.6z"/><path fill="#ee9b00" d="M418.2,80.5l1.4,-1.3-2,-.9-1.3,1.3z"/><path fill="#be5700" d="M503.2,75.6l1.2,-.1-2.1,-.7-1.2,0z"/><path fill="#4df900" d="M374.7,105.1l1.4,-2.1-1.9,-1-1.4,2.1z"/><path fill="#e76600" d="M435.6,75.6l1.4,-1.1-2.1,-.8-1.3,1z"/><path fill="#c64b00" d="M491.9,73.7l1.2,-.1-2.2,-.8-1.2,.2z"/><path fill="#00fb54" d="M358,120.3l1.4,-2.4-1.9,-1-1.4,2.4z"/><path fill="#d34100" d="M472.4,72.2l1.3,-.5-2.1,-.8-1.3,.5z"/><path fill="#00fb99" d="M352,126.8l1.3,-2.6-1.8,-1-1.4,2.5z"/><path fill="#dc4700" d="M456.4,72.6l1.3,-.7-2.1,-.8-1.3,.7z"/><path fill="#d9f500" d="M394.8,91.5l1.4,-1.8-1.9,-.9-1.4,1.7z"/><path fill="#f0af00" d="M413.5,82.4l1.4,-1.4-2,-.9-1.3,1.4z"/><path fill="#d84200" d="M464.4,72.2l1.3,-.6-2.1,-.8-1.3,.6z"/><path fill="#f3f400" d="M399.5,89l1.4,-1.7-2,-.9-1.3,1.6z"/><path fill="#f2c500" d="M408.9,84.4l1.3,-1.5-1.9,-.9-1.4,1.5z"/><path fill="#f3dc00" d="M404.2,86.6l1.3,-1.6-1.9,-.9-1.4,1.6z"/><path fill="#00adfc" d="M338.5,143.5l1.4,-2.8-1.8,-1.1-1.4,2.8z"/><path fill="#70f800" d="M379.4,101.9l1.4,-2-1.9,-1-1.4,2z"/><path fill="#ea7400" d="M431,76.9l1.3,-1.1-2,-.9-1.4,1.1z"/><path fill="#15fa00" d="M368.7,110.6l1.4,-2.2-1.9,-1-1.4,2.2z"/><path fill="#e45800" d="M443.7,74.3l1.3,-1-2,-.8-1.4,.9z"/><path fill="#cb4500" d="M483.9,73l1.2,-.3-2.1,-.8-1.3,.3z"/><path fill="#bc5b00" d="M506.6,76.3l1.2,0-2.2,-.7-1.2,-.1z"/><path fill="#c44e00" d="M495.2,74.3l1.3,-.1-2.2,-.8-1.2,.2z"/><path fill="#00fcfc" d="M344.5,136.3l1.4,-2.7-1.8,-1.1-1.4,2.7z"/><path fill="#00fa29" d="M362.6,116.5l1.4,-2.3-1.8,-1-1.4,2.3z"/><path fill="#91f700" d="M384.1,98.8l1.3,-1.9-1.9,-.9-1.3,1.9z"/><path fill="#ec8300" d="M426.3,78.4l1.3,-1.2-2,-.9-1.3,1.2z"/><path fill="#df4d00" d="M451.7,73.3l1.3,-.8-2,-.8-1.3,.8z"/><path fill="#d14200" d="M475.8,72.5l1.3,-.4-2.1,-.8-1.3,.4z"/><path fill="#00fbb1" d="M350.6,129.3l1.4,-2.5-1.9,-1.1-1.4,2.6z"/><path fill="#00fb6b" d="M356.6,122.8l1.4,-2.5-1.9,-1-1.4,2.4z"/><path fill="#db4600" d="M459.8,72.7l1.2,-.7-2,-.8-1.3,.7z"/><path fill="#d64200" d="M467.8,72.5l1.3,-.6-2.1,-.8-1.3,.5z"/><path fill="#3af900" d="M373.3,107.2l1.4,-2.1-1.9,-1-1.3,2.1z"/><path fill="#e66200" d="M439,75.4l1.3,-1-2,-.9-1.3,1z"/><path fill="#008ef7" d="M337.1,146.4l1.4,-2.9-1.8,-1.1-1.4,2.9z"/><path fill="#aef700" d="M388.7,96l1.4,-1.9-1.9,-.9-1.4,1.8z"/><path fill="#ed9400" d="M421.6,80l1.3,-1.2-2,-.9-1.3,1.3z"/><path fill="#ba5f00" d="M510,77.1l1.2,.1-2.2,-.8-1.2,-.1z"/><path fill="#c94700" d="M487.2,73.5l1.3,-.3-2.2,-.8-1.2,.3z"/><path fill="#caf600" d="M393.4,93.2l1.4,-1.7-1.9,-1-1.4,1.8z"/><path fill="#efa700" d="M416.9,81.9l1.3,-1.4-1.9,-.9-1.4,1.4z"/><path fill="#c25100" d="M498.6,75l1.2,-.1-2.1,-.8-1.2,.1z"/><path fill="#00fa01" d="M367.3,112.9l1.4,-2.3-1.9,-1-1.4,2.3z"/><path fill="#e4f500" d="M398.1,90.6l1.4,-1.6-1.9,-1-1.4,1.7z"/><path fill="#00e0fc" d="M343.1,139l1.4,-2.7-1.8,-1.1-1.4,2.7z"/><path fill="#f1bb00" d="M412.2,83.8l1.3,-1.4-1.9,-.9-1.4,1.4z"/><path fill="#e25500" d="M447,74.2l1.4,-.9-2.1,-.8-1.3,.8z"/><path fill="#5df800" d="M378,103.9l1.4,-2-1.9,-1-1.4,2.1z"/><path fill="#e86f00" d="M434.3,76.6l1.3,-1-2,-.9-1.3,1.1z"/><path fill="#f3ea00" d="M402.8,88.2l1.4,-1.6-2,-.9-1.3,1.6z"/><path fill="#f2d200" d="M407.5,85.9l1.4,-1.5-2,-.9-1.4,1.5z"/><path fill="#cf4300" d="M479.2,72.9l1.3,-.4-2.2,-.8-1.2,.4z"/><path fill="#00fa40" d="M361.2,118.9l1.4,-2.4-1.8,-1-1.4,2.4z"/><path fill="#00fbcb" d="M349.2,131.9l1.4,-2.6-1.9,-1-1.4,2.6z"/><path fill="#006ff2" d="M335.7,149.2l1.4,-2.8-1.8,-1.1-1.4,2.9z"/><path fill="#de4c00" d="M455.1,73.4l1.3,-.8-2.1,-.8-1.3,.7z"/><path fill="#00fb84" d="M355.2,125.2l1.4,-2.4-1.9,-1.1-1.4,2.5z"/><path fill="#d44300" d="M471.2,72.7l1.2,-.5-2.1,-.8-1.2,.5z"/><path fill="#d94500" d="M463.1,72.9l1.3,-.7-2.1,-.8-1.3,.6z"/><path fill="#7ef800" d="M382.7,100.8l1.4,-2-1.9,-.9-1.4,2z"/><path fill="#ea7d00" d="M429.6,78.1l1.4,-1.2-2.1,-.9-1.3,1.2z"/><path fill="#c74a00" d="M490.6,74l1.3,-.3-2.2,-.7-1.2,.2z"/><path fill="#c05500" d="M502,75.6l1.2,0-2.1,-.8-1.3,.1z"/><path fill="#25f900" d="M371.9,109.4l1.4,-2.2-1.8,-1-1.4,2.2z"/><path fill="#e55f00" d="M442.4,75.2l1.3,-.9-2.1,-.9-1.3,1z"/><path fill="#00c4fc" d="M341.7,141.8l1.4,-2.8-1.8,-1.1-1.4,2.8z"/><path fill="#9ef700" d="M387.4,97.9l1.3,-1.9-1.9,-1-1.4,1.9z"/><path fill="#ec8d00" d="M424.9,79.6l1.4,-1.2-2,-.9-1.4,1.3z"/><path fill="#cd4500" d="M482.6,73.3l1.3,-.3-2.2,-.8-1.2,.3z"/><path fill="#00fa17" d="M365.9,115.2l1.4,-2.3-1.9,-1-1.4,2.3z"/><path fill="#0052ec" d="M334.3,152.2l1.4,-3-1.8,-1-1.4,2.9z"/><path fill="#e15200" d="M450.4,74.2l1.3,-.9-2,-.8-1.3,.8z"/><path fill="#bbf600" d="M392,95l1.4,-1.8-1.9,-.9-1.4,1.8z"/><path fill="#00fbe6" d="M347.8,134.6l1.4,-2.7-1.9,-1-1.4,2.7z"/><path fill="#ee9f00" d="M420.2,81.4l1.4,-1.4-2,-.8-1.4,1.3z"/><path fill="#49f900" d="M376.6,106l1.4,-2.1-1.9,-.9-1.4,2.1z"/><path fill="#e76a00" d="M437.7,76.4l1.3,-1-2,-.9-1.4,1.1z"/><path fill="#00fb57" d="M359.8,121.3l1.4,-2.4-1.8,-1-1.4,2.4z"/><path fill="#be5900" d="M505.4,76.4l1.2,-.1-2.2,-.8-1.2,.1z"/><path fill="#c54d00" d="M494,74.5l1.2,-.2-2.1,-.7-1.2,.1z"/><path fill="#00fb9c" d="M353.8,127.8l1.4,-2.6-1.9,-1-1.3,2.6z"/><path fill="#d24400" d="M474.6,73l1.2,-.5-2.1,-.8-1.3,.5z"/><path fill="#d6f500" d="M396.7,92.4l1.4,-1.8-1.9,-.9-1.4,1.8z"/><path fill="#dc4900" d="M458.5,73.4l1.3,-.7-2.1,-.8-1.3,.7z"/><path fill="#f0b300" d="M415.5,83.3l1.4,-1.4-2,-.9-1.4,1.4z"/><path fill="#d74500" d="M466.5,73l1.3,-.5-2.1,-.9-1.3,.6z"/><path fill="#eff400" d="M401.4,89.9l1.4,-1.7-1.9,-.9-1.4,1.7z"/><path fill="#f1c800" d="M410.8,85.3l1.4,-1.5-2,-.9-1.3,1.5z"/><path fill="#f3e000" d="M406.1,87.5l1.4,-1.6-2,-.9-1.3,1.6z"/><path fill="#00a9fc" d="M340.3,144.6l1.4,-2.8-1.8,-1.1-1.4,2.8z"/><path fill="#6cf800" d="M381.3,102.8l1.4,-2-1.9,-.9-1.4,2z"/><path fill="#11f900" d="M370.5,111.6l1.4,-2.2-1.8,-1-1.4,2.2z"/><path fill="#e97700" d="M433,77.8l1.3,-1.2-2,-.8-1.3,1.1z"/><path fill="#e35b00" d="M445.7,75.1l1.3,-.9-2,-.9-1.3,1z"/><path fill="#cb4800" d="M486,73.8l1.2,-.3-2.1,-.8-1.2,.3z"/><path fill="#bc5d00" d="M508.8,77.1l1.2,0-2.2,-.8-1.2,0z"/><path fill="#00f6fb" d="M346.3,137.3l1.5,-2.7-1.9,-1-1.4,2.7z"/><path fill="#c35000" d="M497.4,75.1l1.2,-.1-2.1,-.8-1.3,.1z"/><path fill="#00fa2d" d="M364.5,117.5l1.4,-2.3-1.9,-1-1.4,2.3z"/><path fill="#8df700" d="M386,99.8l1.4,-1.9-2,-1-1.3,1.9z"/><path fill="#eb8700" d="M428.3,79.3l1.3,-1.2-2,-.9-1.3,1.2z"/><path fill="#df5000" d="M453.8,74.2l1.3,-.8-2.1,-.9-1.3,.8z"/><path fill="#d04500" d="M478,73.3l1.2,-.4-2.1,-.8-1.3,.4z"/><path fill="#00fbb5" d="M352.4,130.4l1.4,-2.6-1.8,-1-1.4,2.5z"/><path fill="#00fb6f" d="M358.4,123.8l1.4,-2.5-1.8,-1-1.4,2.5z"/><path fill="#36f900" d="M375.2,108.2l1.4,-2.2-1.9,-.9-1.4,2.1z"/><path fill="#db4900" d="M461.8,73.5l1.3,-.6-2.1,-.9-1.2,.7z"/><path fill="#d64500" d="M469.9,73.3l1.3,-.6-2.1,-.8-1.3,.6z"/><path fill="#0089f6" d="M338.9,147.4l1.4,-2.8-1.8,-1.1-1.4,2.9z"/><path fill="#e66600" d="M441,76.2l1.4,-1-2.1,-.8-1.3,1z"/><path fill="#aaf600" d="M390.7,96.9l1.3,-1.9-1.9,-.9-1.4,1.9z"/><path fill="#ed9800" d="M423.6,80.9l1.3,-1.3-2,-.8-1.3,1.2z"/><path fill="#ba6100" d="M512.2,77.9l1.2,0-2.2,-.7-1.2,-.1z"/><path fill="#c94900" d="M489.4,74.2l1.2,-.2-2.1,-.8-1.3,.3z"/><path fill="#c6f500" d="M395.4,94.2l1.3,-1.8-1.9,-.9-1.4,1.7z"/><path fill="#efaa00" d="M418.9,82.7l1.3,-1.3-2,-.9-1.3,1.4z"/><path fill="#c15300" d="M500.8,75.8l1.2,-.2-2.2,-.7-1.2,.1z"/><path fill="#00fa05" d="M369.1,113.9l1.4,-2.3-1.8,-1-1.4,2.3z"/><path fill="#00dcfb" d="M344.9,140l1.4,-2.7-1.8,-1-1.4,2.7z"/><path fill="#e0f400" d="M400.1,91.6l1.3,-1.7-1.9,-.9-1.4,1.6z"/><path fill="#f0bf00" d="M414.2,84.7l1.3,-1.4-2,-.9-1.3,1.4z"/><path fill="#59f800" d="M379.9,104.9l1.4,-2.1-1.9,-.9-1.4,2z"/><path fill="#e25800" d="M449.1,75l1.3,-.8-2,-.9-1.4,.9z"/><path fill="#e87200" d="M436.3,77.5l1.4,-1.1-2.1,-.8-1.3,1z"/><path fill="#f3ed00" d="M404.8,89.1l1.3,-1.6-1.9,-.9-1.4,1.6z"/><path fill="#f2d500" d="M409.5,86.8l1.3,-1.5-1.9,-.9-1.4,1.5z"/><path fill="#cf4600" d="M481.4,73.7l1.2,-.4-2.1,-.8-1.3,.4z"/><path fill="#00fa44" d="M363.1,119.9l1.4,-2.4-1.9,-1-1.4,2.4z"/><path fill="#00fbcf" d="M351,133l1.4,-2.6-1.8,-1.1-1.4,2.6z"/><path fill="#006bf1" d="M337.5,150.3l1.4,-2.9-1.8,-1-1.4,2.8z"/><path fill="#00fb88" d="M357,126.3l1.4,-2.5-1.8,-1-1.4,2.4z"/><path fill="#de4e00" d="M457.2,74.2l1.3,-.8-2.1,-.8-1.3,.8z"/><path fill="#d44500" d="M473.3,73.5l1.3,-.5-2.2,-.8-1.2,.5z"/><path fill="#7af800" d="M384.6,101.8l1.4,-2-1.9,-1-1.4,2z"/><path fill="#d94800" d="M465.2,73.7l1.3,-.7-2.1,-.8-1.3,.7z"/><path fill="#ea8000" d="M431.6,78.9l1.4,-1.1-2,-.9-1.4,1.2z"/><path fill="#c74c00" d="M492.8,74.8l1.2,-.3-2.1,-.8-1.3,.3z"/><path fill="#21f900" d="M373.8,110.4l1.4,-2.2-1.9,-1-1.4,2.2z"/><path fill="#bf5700" d="M504.2,76.4l1.2,0-2.2,-.8-1.2,0z"/><path fill="#e46200" d="M444.4,76.1l1.3,-1-2,-.8-1.3,.9z"/><path fill="#00c0fc" d="M343.5,142.8l1.4,-2.8-1.8,-1-1.4,2.8z"/><path fill="#9af700" d="M389.3,98.8l1.4,-1.9-2,-.9-1.3,1.9z"/><path fill="#ec9000" d="M426.9,80.5l1.4,-1.2-2,-.9-1.4,1.2z"/><path fill="#00fa1a" d="M367.7,116.2l1.4,-2.3-1.8,-1-1.4,2.3z"/><path fill="#004eeb" d="M336.1,153.2l1.4,-2.9-1.8,-1.1-1.4,3z"/><path fill="#cd4700" d="M484.7,74.1l1.3,-.3-2.1,-.8-1.3,.3z"/><path fill="#e05500" d="M452.5,75l1.3,-.8-2.1,-.9-1.3,.9z"/><path fill="#00fbe9" d="M349.6,135.6l1.4,-2.6-1.8,-1.1-1.4,2.7z"/><path fill="#b7f600" d="M394,96l1.4,-1.8-2,-1-1.4,1.8z"/><path fill="#eea200" d="M422.2,82.3l1.4,-1.4-2,-.9-1.4,1.4z"/><path fill="#45f800" d="M378.5,107l1.4,-2.1-1.9,-1-1.4,2.1z"/><path fill="#00fa5b" d="M361.7,122.3l1.4,-2.4-1.9,-1-1.4,2.4z"/><path fill="#e76d00" d="M439.7,77.3l1.3,-1.1-2,-.8-1.3,1z"/><path fill="#00fba0" d="M355.6,128.8l1.4,-2.5-1.8,-1.1-1.4,2.6z"/><path fill="#bd5b00" d="M507.6,77.1l1.2,0-2.2,-.8-1.2,.1z"/><path fill="#c54f00" d="M496.2,75.3l1.2,-.2-2.2,-.8-1.2,.2z"/><path fill="#d24600" d="M476.7,73.8l1.3,-.5-2.2,-.8-1.2,.5z"/><path fill="#d2f500" d="M398.7,93.3l1.4,-1.7-2,-1-1.4,1.8z"/><path fill="#f0b500" d="M417.5,84.2l1.4,-1.5-2,-.8-1.4,1.4z"/><path fill="#dc4d00" d="M460.6,74.3l1.2,-.8-2,-.8-1.3,.7z"/><path fill="#d74800" d="M468.6,73.9l1.3,-.6-2.1,-.8-1.3,.5z"/><path fill="#ebf400" d="M403.4,90.8l1.4,-1.7-2,-.9-1.4,1.7z"/><path fill="#f1cb00" d="M412.8,86.2l1.4,-1.5-2,-.9-1.4,1.5z"/><path fill="#f2e300" d="M408.1,88.4l1.4,-1.6-2,-.9-1.4,1.6z"/><path fill="#00a4fb" d="M342.1,145.6l1.4,-2.8-1.8,-1-1.4,2.8z"/><path fill="#68f800" d="M383.2,103.8l1.4,-2-1.9,-1-1.4,2z"/><path fill="#0df900" d="M372.4,112.6l1.4,-2.2-1.9,-1-1.4,2.2z"/><path fill="#e97a00" d="M435,78.6l1.3,-1.1-2,-.9-1.3,1.2z"/><path fill="#e35e00" d="M447.8,76l1.3,-1-2.1,-.8-1.3,.9z"/><path fill="#cb4900" d="M488.2,74.6l1.2,-.4-2.2,-.7-1.2,.3z"/><path fill="#bb5f00" d="M511,77.9l1.2,0-2.2,-.8-1.2,0z"/><path fill="#00f2fb" d="M348.2,138.3l1.4,-2.7-1.8,-1-1.5,2.7z"/><path fill="#00fa31" d="M366.3,118.5l1.4,-2.3-1.8,-1-1.4,2.3z"/><path fill="#c35200" d="M499.6,75.9l1.2,-.1-2.2,-.8-1.2,.1z"/><path fill="#89f700" d="M387.9,100.7l1.4,-1.9-1.9,-.9-1.4,1.9z"/><path fill="#eb8900" d="M430.3,80.1l1.3,-1.2-2,-.8-1.3,1.2z"/><path fill="#df5300" d="M455.9,75l1.3,-.8-2.1,-.8-1.3,.8z"/><path fill="#00fbb9" d="M354.2,131.4l1.4,-2.6-1.8,-1-1.4,2.6z"/><path fill="#00fa73" d="M360.3,124.8l1.4,-2.5-1.9,-1-1.4,2.5z"/><path fill="#d04700" d="M480.1,74.1l1.3,-.4-2.2,-.8-1.2,.4z"/><path fill="#32f900" d="M377.1,109.1l1.4,-2.1-1.9,-1-1.4,2.2z"/><path fill="#da4b00" d="M463.9,74.4l1.3,-.7-2.1,-.8-1.3,.6z"/><path fill="#0085f6" d="M340.7,148.5l1.4,-2.9-1.8,-1-1.4,2.8z"/><path fill="#d54700" d="M472,74.1l1.3,-.6-2.1,-.8-1.3,.6z"/><path fill="#e66800" d="M443.1,77.1l1.3,-1-2,-.9-1.4,1z"/><path fill="#a6f600" d="M392.6,97.8l1.4,-1.8-2,-1-1.3,1.9z"/><path fill="#ed9a00" d="M425.6,81.8l1.3,-1.3-2,-.9-1.3,1.3z"/><path fill="#b96300" d="M514.4,78.6l1.2,.1-2.2,-.8-1.2,0z"/><path fill="#c94c00" d="M491.6,75l1.2,-.2-2.2,-.8-1.2,.2z"/><path fill="#c2f500" d="M397.3,95.1l1.4,-1.8-2,-.9-1.3,1.8z"/><path fill="#efad00" d="M420.9,83.6l1.3,-1.3-2,-.9-1.3,1.3z"/><path fill="#00f909" d="M371,114.8l1.4,-2.2-1.9,-1-1.4,2.3z"/><path fill="#c15600" d="M503,76.5l1.2,-.1-2.2,-.8-1.2,.2z"/><path fill="#00d8fb" d="M346.8,141.1l1.4,-2.8-1.9,-1-1.4,2.7z"/><path fill="#ddf400" d="M402,92.5l1.4,-1.7-2,-.9-1.3,1.7z"/><path fill="#f0c200" d="M416.1,85.6l1.4,-1.4-2,-.9-1.3,1.4z"/><path fill="#55f800" d="M381.8,105.9l1.4,-2.1-1.9,-1-1.4,2.1z"/><path fill="#e25b00" d="M451.2,75.9l1.3,-.9-2.1,-.8-1.3,.8z"/><path fill="#f3f100" d="M406.7,90l1.4,-1.6-2,-.9-1.3,1.6z"/><path fill="#f2d900" d="M411.4,87.7l1.4,-1.5-2,-.9-1.3,1.5z"/><path fill="#e87500" d="M438.4,78.4l1.3,-1.1-2,-.9-1.4,1.1z"/><path fill="#00fa48" d="M364.9,120.9l1.4,-2.4-1.8,-1-1.4,2.4z"/><path fill="#ce4800" d="M483.5,74.5l1.2,-.4-2.1,-.8-1.2,.4z"/><path fill="#00fbd3" d="M352.8,134l1.4,-2.6-1.8,-1-1.4,2.6z"/><path fill="#0067f0" d="M339.3,151.4l1.4,-2.9-1.8,-1.1-1.4,2.9z"/><path fill="#00fb8c" d="M358.9,127.3l1.4,-2.5-1.9,-1-1.4,2.5z"/><path fill="#dd5100" d="M459.3,75l1.3,-.7-2.1,-.9-1.3,.8z"/><path fill="#d44700" d="M475.4,74.3l1.3,-.5-2.1,-.8-1.3,.5z"/><path fill="#76f700" d="M386.5,102.7l1.4,-2-1.9,-.9-1.4,2z"/><path fill="#d94b00" d="M467.3,74.5l1.3,-.6-2.1,-.9-1.3,.7z"/><path fill="#ea8300" d="M433.7,79.8l1.3,-1.2-2,-.8-1.4,1.1z"/><path fill="#1df900" d="M375.7,111.3l1.4,-2.2-1.9,-.9-1.4,2.2z"/><path fill="#c74e00" d="M495,75.6l1.2,-.3-2.2,-.8-1.2,.3z"/><path fill="#bf5800" d="M506.4,77.2l1.2,-.1-2.2,-.7-1.2,0z"/><path fill="#e46400" d="M446.5,76.9l1.3,-.9-2.1,-.9-1.3,1z"/><path fill="#00bcfb" d="M345.4,143.9l1.4,-2.8-1.9,-1.1-1.4,2.8z"/><path fill="#96f700" d="M391.2,99.7l1.4,-1.9-1.9,-.9-1.4,1.9z"/><path fill="#ec9300" d="M428.9,81.4l1.4,-1.3-2,-.8-1.4,1.2z"/><path fill="#00fa1e" d="M369.6,117.1l1.4,-2.3-1.9,-.9-1.4,2.3z"/><path fill="#004aea" d="M337.9,154.3l1.4,-2.9-1.8,-1.1-1.4,2.9z"/><path fill="#cc4a00" d="M486.9,74.9l1.3,-.3-2.2,-.8-1.3,.3z"/><path fill="#00fbed" d="M351.4,136.7l1.4,-2.7-1.8,-1-1.4,2.6z"/><path fill="#b3f600" d="M395.9,96.9l1.4,-1.8-1.9,-.9-1.4,1.8z"/><path fill="#e05800" d="M454.6,75.8l1.3,-.8-2.1,-.8-1.3,.8z"/><path fill="#eea500" d="M424.2,83.1l1.4,-1.3-2,-.9-1.4,1.4z"/><path fill="#42f800" d="M380.4,108l1.4,-2.1-1.9,-1-1.4,2.1z"/><path fill="#00fa5f" d="M363.5,123.3l1.4,-2.4-1.8,-1-1.4,2.4z"/><path fill="#00fba4" d="M357.5,129.8l1.4,-2.5-1.9,-1-1.4,2.5z"/><path fill="#e77000" d="M441.8,78.1l1.3,-1-2.1,-.9-1.3,1.1z"/><path fill="#cef500" d="M400.6,94.2l1.4,-1.7-1.9,-.9-1.4,1.7z"/><path fill="#bd5d00" d="M509.8,77.9l1.2,0-2.2,-.8-1.2,0z"/><path fill="#d24800" d="M478.8,74.6l1.3,-.5-2.1,-.8-1.3,.5z"/><path fill="#efb900" d="M419.5,85l1.4,-1.4-2,-.9-1.4,1.5z"/><path fill="#c55100" d="M498.4,76.1l1.2,-.2-2.2,-.8-1.2,.2z"/><path fill="#dc4f00" d="M462.7,75.1l1.2,-.7-2.1,-.9-1.2,.8z"/><path fill="#e7f400" d="M405.3,91.7l1.4,-1.7-1.9,-.9-1.4,1.7z"/><path fill="#d74a00" d="M470.7,74.7l1.3,-.6-2.1,-.8-1.3,.6z"/><path fill="#f1cf00" d="M414.8,87.1l1.3,-1.5-1.9,-.9-1.4,1.5z"/><path fill="#f2e600" d="M410.1,89.3l1.3,-1.6-1.9,-.9-1.4,1.6z"/><path fill="#00a0fa" d="M344,146.7l1.4,-2.8-1.9,-1.1-1.4,2.8z"/><path fill="#64f800" d="M385.1,104.7l1.4,-2-1.9,-.9-1.4,2z"/><path fill="#09f900" d="M374.3,113.6l1.4,-2.3-1.9,-.9-1.4,2.2z"/><path fill="#e97d00" d="M437,79.5l1.4,-1.1-2.1,-.9-1.3,1.1z"/><path fill="#e36100" d="M449.9,76.8l1.3,-.9-2.1,-.9-1.3,1z"/><path fill="#ca4b00" d="M490.3,75.3l1.3,-.3-2.2,-.8-1.2,.4z"/><path fill="#00effb" d="M350,139.4l1.4,-2.7-1.8,-1.1-1.4,2.7z"/><path fill="#bb6000" d="M513.3,78.6l1.1,0-2.2,-.7-1.2,0z"/><path fill="#00fa35" d="M368.2,119.5l1.4,-2.4-1.9,-.9-1.4,2.3z"/><path fill="#85f700" d="M389.8,101.7l1.4,-2-1.9,-.9-1.4,1.9z"/><path fill="#c35400" d="M501.8,76.7l1.2,-.2-2.2,-.7-1.2,.1z"/><path fill="#eb8d00" d="M432.3,81l1.4,-1.2-2.1,-.9-1.3,1.2z"/><path fill="#00fbbd" d="M356.1,132.4l1.4,-2.6-1.9,-1-1.4,2.6z"/><path fill="#00fa77" d="M362.1,125.8l1.4,-2.5-1.8,-1-1.4,2.5z"/><path fill="#df5600" d="M458,75.8l1.3,-.8-2.1,-.8-1.3,.8z"/><path fill="#d04900" d="M482.2,74.9l1.3,-.4-2.1,-.8-1.3,.4z"/><path fill="#2ef900" d="M379,110.1l1.4,-2.1-1.9,-1-1.4,2.1z"/><path fill="#0081f5" d="M342.5,149.6l1.5,-2.9-1.9,-1.1-1.4,2.9z"/><path fill="#da4e00" d="M466.1,75.2l1.2,-.7-2.1,-.8-1.3,.7z"/><path fill="#a3f600" d="M394.5,98.8l1.4,-1.9-1.9,-.9-1.4,1.8z"/><path fill="#d54a00" d="M474.2,74.9l1.2,-.6-2.1,-.8-1.3,.6z"/><path fill="#e56b00" d="M445.1,77.9l1.4,-1-2.1,-.8-1.3,1z"/><path fill="#ed9e00" d="M427.6,82.7l1.3,-1.3-2,-.9-1.3,1.3z"/><path fill="#bff500" d="M399.2,96l1.4,-1.8-1.9,-.9-1.4,1.8z"/><path fill="#b96500" d="M516.7,79.4l1.2,.1-2.3,-.8-1.2,-.1z"/><path fill="#eeb100" d="M422.9,84.5l1.3,-1.4-2,-.8-1.3,1.3z"/><path fill="#c84e00" d="M493.7,75.8l1.3,-.2-2.2,-.8-1.2,.2z"/><path fill="#00f90d" d="M372.9,115.8l1.4,-2.2-1.9,-1-1.4,2.2z"/><path fill="#00d4fb" d="M348.6,142.1l1.4,-2.7-1.8,-1.1-1.4,2.8z"/><path fill="#d9f400" d="M404,93.4l1.3,-1.7-1.9,-.9-1.4,1.7z"/><path fill="#52f800" d="M383.7,106.8l1.4,-2.1-1.9,-.9-1.4,2.1z"/><path fill="#c15700" d="M505.2,77.3l1.2,-.1-2.2,-.8-1.2,.1z"/><path fill="#f0c500" d="M418.1,86.5l1.4,-1.5-2,-.8-1.4,1.4z"/><path fill="#f1f300" d="M408.7,90.9l1.4,-1.6-2,-.9-1.4,1.6z"/><path fill="#e15e00" d="M453.2,76.7l1.4,-.9-2.1,-.8-1.3,.9z"/><path fill="#f2dc00" d="M413.4,88.6l1.4,-1.5-2,-.9-1.4,1.5z"/><path fill="#e87800" d="M440.4,79.2l1.4,-1.1-2.1,-.8-1.3,1.1z"/><path fill="#00fa4b" d="M366.8,121.9l1.4,-2.4-1.9,-1-1.4,2.4z"/><path fill="#00fbd6" d="M354.7,135l1.4,-2.6-1.9,-1-1.4,2.6z"/><path fill="#ce4a00" d="M485.7,75.3l1.2,-.4-2.2,-.8-1.2,.4z"/><path fill="#0063ef" d="M341.1,152.5l1.4,-2.9-1.8,-1.1-1.4,2.9z"/><path fill="#00fa8f" d="M360.7,128.3l1.4,-2.5-1.8,-1-1.4,2.5z"/><path fill="#dd5300" d="M461.4,75.8l1.3,-.7-2.1,-.8-1.3,.7z"/><path fill="#72f700" d="M388.4,103.7l1.4,-2-1.9,-1-1.4,2z"/><path fill="#d34a00" d="M477.6,75.1l1.2,-.5-2.1,-.8-1.3,.5z"/><path fill="#d84d00" d="M469.5,75.3l1.2,-.6-2.1,-.8-1.3,.6z"/><path fill="#ea8600" d="M435.7,80.7l1.3,-1.2-2,-.9-1.3,1.2z"/><path fill="#19f900" d="M377.6,112.3l1.4,-2.2-1.9,-1-1.4,2.2z"/><path fill="#c65000" d="M497.2,76.3l1.2,-.2-2.2,-.8-1.2,.3z"/><path fill="#bf5a00" d="M508.6,78l1.2,-.1-2.2,-.8-1.2,.1z"/><path fill="#e46800" d="M448.5,77.8l1.4,-1-2.1,-.8-1.3,.9z"/><path fill="#00b9fb" d="M347.2,144.9l1.4,-2.8-1.8,-1-1.4,2.8z"/><path fill="#92f600" d="M393.1,100.7l1.4,-1.9-1.9,-1-1.4,1.9z"/><path fill="#ec9700" d="M431,82.3l1.3,-1.3-2,-.9-1.4,1.3z"/><path fill="#00fa22" d="M371.5,118.1l1.4,-2.3-1.9,-1-1.4,2.3z"/><path fill="#0046ea" d="M339.7,155.4l1.4,-2.9-1.8,-1.1-1.4,2.9z"/><path fill="#00fbf0" d="M353.3,137.7l1.4,-2.7-1.9,-1-1.4,2.7z"/><path fill="#cc4c00" d="M489.1,75.7l1.2,-.4-2.1,-.7-1.3,.3z"/><path fill="#aff500" d="M397.9,97.8l1.3,-1.8-1.9,-.9-1.4,1.8z"/><path fill="#e05a00" d="M456.6,76.7l1.4,-.9-2.1,-.8-1.3,.8z"/><path fill="#3ef800" d="M382.3,108.9l1.4,-2.1-1.9,-.9-1.4,2.1z"/><path fill="#eea900" d="M426.2,84l1.4,-1.3-2,-.9-1.4,1.3z"/><path fill="#00fa63" d="M365.4,124.3l1.4,-2.4-1.9,-1-1.4,2.4z"/><path fill="#00fba8" d="M359.3,130.8l1.4,-2.5-1.8,-1-1.4,2.5z"/><path fill="#e67300" d="M443.8,79l1.3,-1.1-2,-.8-1.3,1z"/><path fill="#caf400" d="M402.6,95.1l1.4,-1.7-2,-.9-1.4,1.7z"/><path fill="#efbd00" d="M421.5,85.9l1.4,-1.4-2,-.9-1.4,1.4z"/><path fill="#d14b00" d="M481,75.4l1.2,-.5-2.1,-.8-1.3,.5z"/><path fill="#bd5e00" d="M512.1,78.7l1.2,-.1-2.3,-.7-1.2,0z"/><path fill="#db5200" d="M464.8,75.9l1.3,-.7-2.2,-.8-1.2,.7z"/><path fill="#c45200" d="M500.6,76.9l1.2,-.2-2.2,-.8-1.2,.2z"/><path fill="#e4f300" d="M407.3,92.6l1.4,-1.7-2,-.9-1.4,1.7z"/><path fill="#f1d200" d="M416.8,88l1.3,-1.5-2,-.9-1.3,1.5z"/><path fill="#d74d00" d="M472.9,75.5l1.3,-.6-2.2,-.8-1.3,.6z"/><path fill="#f2ea00" d="M412,90.2l1.4,-1.6-2,-.9-1.3,1.6z"/><path fill="#009bf9" d="M345.8,147.7l1.4,-2.8-1.8,-1-1.4,2.8z"/><path fill="#60f700" d="M387,105.7l1.4,-2-1.9,-1-1.4,2z"/><path fill="#05f900" d="M376.2,114.5l1.4,-2.2-1.9,-1-1.4,2.3z"/><path fill="#e98100" d="M439.1,80.3l1.3,-1.1-2,-.8-1.4,1.1z"/><path fill="#e36300" d="M451.9,77.6l1.3,-.9-2,-.8-1.3,.9z"/><path fill="#ca4e00" d="M492.5,76.1l1.2,-.3-2.1,-.8-1.3,.3z"/><path fill="#00ebfb" d="M351.8,140.4l1.5,-2.7-1.9,-1-1.4,2.7z"/><path fill="#00fa39" d="M370.1,120.5l1.4,-2.4-1.9,-1-1.4,2.4z"/><path fill="#81f700" d="M391.7,102.6l1.4,-1.9-1.9,-1-1.4,2z"/><path fill="#bb6200" d="M515.5,79.4l1.2,0-2.3,-.8-1.1,0z"/><path fill="#eb9000" d="M434.4,81.9l1.3,-1.2-2,-.9-1.4,1.2z"/><path fill="#00fbc1" d="M357.9,133.4l1.4,-2.6-1.8,-1-1.4,2.6z"/><path fill="#c25500" d="M504,77.5l1.2,-.2-2.2,-.8-1.2,.2z"/><path fill="#00fa7b" d="M364,126.8l1.4,-2.5-1.9,-1-1.4,2.5z"/><path fill="#de5800" d="M460.1,76.6l1.3,-.8-2.1,-.8-1.3,.8z"/><path fill="#d04b00" d="M484.4,75.7l1.3,-.4-2.2,-.8-1.3,.4z"/><path fill="#2af800" d="M380.9,111.1l1.4,-2.2-1.9,-.9-1.4,2.1z"/><path fill="#007df4" d="M344.4,150.6l1.4,-2.9-1.8,-1-1.5,2.9z"/><path fill="#9ff600" d="M396.5,99.7l1.4,-1.9-2,-.9-1.4,1.9z"/><path fill="#da5000" d="M468.2,76l1.3,-.7-2.2,-.8-1.2,.7z"/><path fill="#e56e00" d="M447.2,78.8l1.3,-1-2,-.9-1.4,1z"/><path fill="#d54c00" d="M476.3,75.7l1.3,-.6-2.2,-.8-1.2,.6z"/><path fill="#eda000" d="M429.6,83.5l1.4,-1.2-2.1,-.9-1.3,1.3z"/><path fill="#bbf500" d="M401.2,96.9l1.4,-1.8-2,-.9-1.4,1.8z"/><path fill="#eeb300" d="M424.9,85.4l1.3,-1.4-2,-.9-1.3,1.4z"/><path fill="#b96600" d="M518.9,80.2l1.2,0-2.2,-.7-1.2,-.1z"/><path fill="#c84f00" d="M495.9,76.6l1.3,-.3-2.2,-.7-1.3,.2z"/><path fill="#00f911" d="M374.8,116.8l1.4,-2.3-1.9,-.9-1.4,2.2z"/><path fill="#00d0fb" d="M350.4,143.2l1.4,-2.8-1.8,-1-1.4,2.7z"/><path fill="#d5f400" d="M405.9,94.3l1.4,-1.7-2,-.9-1.3,1.7z"/><path fill="#4ef800" d="M385.6,107.8l1.4,-2.1-1.9,-1-1.4,2.1z"/><path fill="#f0c800" d="M420.1,87.4l1.4,-1.5-2,-.9-1.4,1.5z"/><path fill="#c05800" d="M507.4,78.1l1.2,-.1-2.2,-.8-1.2,.1z"/><path fill="#eef300" d="M410.7,91.8l1.3,-1.6-1.9,-.9-1.4,1.6z"/><path fill="#f1df00" d="M415.4,89.5l1.4,-1.5-2,-.9-1.4,1.5z"/><path fill="#e16000" d="M455.3,77.5l1.3,-.8-2,-.9-1.4,.9z"/><path fill="#e77a00" d="M442.5,80.1l1.3,-1.1-2,-.9-1.4,1.1z"/><path fill="#00fa4f" d="M368.7,122.9l1.4,-2.4-1.9,-1-1.4,2.4z"/><path fill="#00fbda" d="M356.5,136.1l1.4,-2.7-1.8,-1-1.4,2.6z"/><path fill="#005fee" d="M343,153.5l1.4,-2.9-1.9,-1-1.4,2.9z"/><path fill="#00fa92" d="M362.6,129.3l1.4,-2.5-1.9,-1-1.4,2.5z"/><path fill="#ce4d00" d="M487.8,76.1l1.3,-.4-2.2,-.8-1.2,.4z"/><path fill="#dd5600" d="M463.5,76.7l1.3,-.8-2.1,-.8-1.3,.7z"/><path fill="#6ff700" d="M390.4,104.6l1.3,-2-1.9,-.9-1.4,2z"/><path fill="#d34c00" d="M479.7,75.9l1.3,-.5-2.2,-.8-1.2,.5z"/><path fill="#ea8900" d="M437.7,81.5l1.4,-1.2-2.1,-.8-1.3,1.2z"/><path fill="#d85000" d="M471.6,76.1l1.3,-.6-2.2,-.8-1.2,.6z"/><path fill="#16f900" d="M379.5,113.3l1.4,-2.2-1.9,-1-1.4,2.2z"/><path fill="#c65200" d="M499.4,77.1l1.2,-.2-2.2,-.8-1.2,.2z"/><path fill="#e46a00" d="M450.6,78.6l1.3,-1-2,-.8-1.4,1z"/><path fill="#00b5fb" d="M349,146l1.4,-2.8-1.8,-1.1-1.4,2.8z"/><path fill="#be5c00" d="M510.9,78.7l1.2,0-2.3,-.8-1.2,.1z"/><path fill="#8ef600" d="M395.1,101.6l1.4,-1.9-2,-.9-1.4,1.9z"/><path fill="#eb9900" d="M433,83.1l1.4,-1.2-2.1,-.9-1.3,1.3z"/><path fill="#00f926" d="M373.4,119.1l1.4,-2.3-1.9,-1-1.4,2.3z"/><path fill="#0042e9" d="M341.6,156.5l1.4,-3-1.9,-1-1.4,2.9z"/><path fill="#00fbf4" d="M355.1,138.7l1.4,-2.6-1.8,-1.1-1.4,2.7z"/><path fill="#acf500" d="M399.8,98.8l1.4,-1.9-2,-.9-1.3,1.8z"/><path fill="#cc4e00" d="M491.3,76.5l1.2,-.4-2.2,-.8-1.2,.4z"/><path fill="#3af800" d="M384.2,109.9l1.4,-2.1-1.9,-1-1.4,2.1z"/><path fill="#edab00" d="M428.3,84.9l1.3,-1.4-2,-.8-1.4,1.3z"/><path fill="#e05d00" d="M458.7,77.5l1.4,-.9-2.1,-.8-1.4,.9z"/><path fill="#00fa67" d="M367.3,125.3l1.4,-2.4-1.9,-1-1.4,2.4z"/><path fill="#00faab" d="M361.2,131.9l1.4,-2.6-1.9,-1-1.4,2.5z"/><path fill="#e67500" d="M445.9,79.8l1.3,-1-2.1,-.9-1.3,1.1z"/><path fill="#c7f400" d="M404.6,96.1l1.3,-1.8-1.9,-.9-1.4,1.7z"/><path fill="#efbf00" d="M423.5,86.8l1.4,-1.4-2,-.9-1.4,1.4z"/><path fill="#d14c00" d="M483.1,76.2l1.3,-.5-2.2,-.8-1.2,.5z"/><path fill="#db5400" d="M466.9,76.7l1.3,-.7-2.1,-.8-1.3,.7z"/><path fill="#e0f300" d="M409.3,93.5l1.4,-1.7-2,-.9-1.4,1.7z"/><path fill="#bc5f00" d="M514.3,79.4l1.2,0-2.2,-.8-1.2,.1z"/><path fill="#c45500" d="M502.8,77.7l1.2,-.2-2.2,-.8-1.2,.2z"/><path fill="#f1d500" d="M418.8,88.9l1.3,-1.5-2,-.9-1.3,1.5z"/><path fill="#f2ec00" d="M414,91.1l1.4,-1.6-2,-.9-1.4,1.6z"/><path fill="#d64e00" d="M475,76.3l1.3,-.6-2.1,-.8-1.3,.6z"/><path fill="#0098f8" d="M347.6,148.8l1.4,-2.8-1.8,-1.1-1.4,2.8z"/><path fill="#5df700" d="M389,106.6l1.4,-2-2,-.9-1.4,2z"/><path fill="#01f900" d="M378.1,115.5l1.4,-2.2-1.9,-1-1.4,2.2z"/><path fill="#e88300" d="M441.1,81.2l1.4,-1.1-2.1,-.9-1.3,1.1z"/><path fill="#e26600" d="M454,78.5l1.3,-1-2.1,-.8-1.3,.9z"/><path fill="#00e7fb" d="M353.7,141.5l1.4,-2.8-1.8,-1-1.5,2.7z"/><path fill="#ca4f00" d="M494.7,76.9l1.2,-.3-2.2,-.8-1.2,.3z"/><path fill="#00fa3d" d="M372,121.5l1.4,-2.4-1.9,-1-1.4,2.4z"/><path fill="#7df700" d="M393.7,103.6l1.4,-2-2,-.9-1.4,1.9z"/><path fill="#ba6300" d="M517.7,80.2l1.2,0-2.2,-.8-1.2,0z"/><path fill="#00fbc5" d="M359.8,134.5l1.4,-2.6-1.9,-1.1-1.4,2.6z"/><path fill="#ea9200" d="M436.4,82.7l1.3,-1.2-2,-.8-1.3,1.2z"/><path fill="#00fa7f" d="M365.9,127.8l1.4,-2.5-1.9,-1-1.4,2.5z"/><path fill="#c25700" d="M506.2,78.2l1.2,-.1-2.2,-.8-1.2,.2z"/><path fill="#de5b00" d="M462.2,77.5l1.3,-.8-2.1,-.9-1.3,.8z"/><path fill="#27f800" d="M382.8,112l1.4,-2.1-1.9,-1-1.4,2.2z"/><path fill="#cf4d00" d="M486.6,76.5l1.2,-.4-2.1,-.8-1.3,.4z"/><path fill="#0079f3" d="M346.2,151.7l1.4,-2.9-1.8,-1.1-1.4,2.9z"/><path fill="#9bf600" d="M398.4,100.6l1.4,-1.8-1.9,-1-1.4,1.9z"/><path fill="#d95300" d="M470.3,76.8l1.3,-.7-2.1,-.8-1.3,.7z"/><path fill="#e57100" d="M449.3,79.6l1.3,-1-2.1,-.8-1.3,1z"/><path fill="#d54e00" d="M478.4,76.5l1.3,-.6-2.1,-.8-1.3,.6z"/><path fill="#eca300" d="M431.7,84.4l1.3,-1.3-2,-.8-1.4,1.2z"/><path fill="#b8f500" d="M403.2,97.8l1.4,-1.7-2,-1-1.4,1.8z"/><path fill="#eeb600" d="M426.9,86.3l1.4,-1.4-2.1,-.9-1.3,1.4z"/><path fill="#00f914" d="M376.7,117.8l1.4,-2.3-1.9,-1-1.4,2.3z"/><path fill="#00cdfb" d="M352.3,144.2l1.4,-2.7-1.9,-1.1-1.4,2.8z"/><path fill="#c85200" d="M498.1,77.4l1.3,-.3-2.2,-.8-1.3,.3z"/><path fill="#b86700" d="M521.2,80.9l1.2,.1-2.3,-.8-1.2,0z"/><path fill="#d2f400" d="M407.9,95.2l1.4,-1.7-2,-.9-1.4,1.7z"/><path fill="#4af800" d="M387.6,108.7l1.4,-2.1-2,-.9-1.4,2.1z"/><path fill="#f0cb00" d="M422.2,88.3l1.3,-1.5-2,-.9-1.4,1.5z"/><path fill="#eaf200" d="M412.7,92.7l1.3,-1.6-2,-.9-1.3,1.6z"/><path fill="#f1e200" d="M417.4,90.4l1.4,-1.5-2,-.9-1.4,1.5z"/><path fill="#c05a00" d="M509.7,78.8l1.2,-.1-2.3,-.7-1.2,.1z"/><path fill="#e16300" d="M457.4,78.4l1.3,-.9-2.1,-.8-1.3,.8z"/><path fill="#e77d00" d="M444.5,80.9l1.4,-1.1-2.1,-.8-1.3,1.1z"/><path fill="#00fa53" d="M370.6,123.9l1.4,-2.4-1.9,-1-1.4,2.4z"/><path fill="#00fbde" d="M358.4,137.1l1.4,-2.6-1.9,-1.1-1.4,2.7z"/><path fill="#005bee" d="M344.8,154.6l1.4,-2.9-1.8,-1.1-1.4,2.9z"/><path fill="#00fa96" d="M364.5,130.3l1.4,-2.5-1.9,-1-1.4,2.5z"/><path fill="#cd4e00" d="M490,76.9l1.3,-.4-2.2,-.8-1.3,.4z"/><path fill="#6bf700" d="M392.3,105.6l1.4,-2-2,-1-1.3,2z"/><path fill="#dc5800" d="M465.6,77.5l1.3,-.8-2.1,-.8-1.3,.8z"/><path fill="#d34f00" d="M481.9,76.7l1.2,-.5-2.1,-.8-1.3,.5z"/><path fill="#e98c00" d="M439.8,82.4l1.3,-1.2-2,-.9-1.4,1.2z"/><path fill="#13f800" d="M381.4,114.2l1.4,-2.2-1.9,-.9-1.4,2.2z"/><path fill="#d85100" d="M473.7,76.9l1.3,-.6-2.1,-.8-1.3,.6z"/><path fill="#c65400" d="M501.6,77.9l1.2,-.2-2.2,-.8-1.2,.2z"/><path fill="#e36d00" d="M452.7,79.4l1.3,-.9-2.1,-.9-1.3,1z"/><path fill="#00b1fb" d="M350.9,147l1.4,-2.8-1.9,-1-1.4,2.8z"/><path fill="#8bf600" d="M397,102.5l1.4,-1.9-1.9,-.9-1.4,1.9z"/><path fill="#be5d00" d="M513.1,79.5l1.2,-.1-2.2,-.7-1.2,0z"/><path fill="#eb9c00" d="M435.1,84l1.3,-1.3-2,-.8-1.4,1.2z"/><path fill="#00f92a" d="M375.3,120.1l1.4,-2.3-1.9,-1-1.4,2.3z"/><path fill="#003ee8" d="M343.4,157.5l1.4,-2.9-1.8,-1.1-1.4,3z"/><path fill="#00fbf8" d="M357,139.8l1.4,-2.7-1.9,-1-1.4,2.6z"/><path fill="#a8f500" d="M401.8,99.7l1.4,-1.9-2,-.9-1.4,1.9z"/><path fill="#36f800" d="M386.2,110.8l1.4,-2.1-2,-.9-1.4,2.1z"/><path fill="#edae00" d="M430.3,85.8l1.4,-1.4-2.1,-.9-1.3,1.4z"/><path fill="#00fa6a" d="M369.2,126.3l1.4,-2.4-1.9,-1-1.4,2.4z"/><path fill="#cb5000" d="M493.4,77.3l1.3,-.4-2.2,-.8-1.2,.4z"/><path fill="#df5f00" d="M460.9,78.3l1.3,-.8-2.1,-.9-1.4,.9z"/><path fill="#00faaf" d="M363.1,132.9l1.4,-2.6-1.9,-1-1.4,2.6z"/><path fill="#e67800" d="M448,80.7l1.3,-1.1-2.1,-.8-1.3,1z"/><path fill="#c3f400" d="M406.5,97l1.4,-1.8-2,-.9-1.3,1.8z"/><path fill="#efc200" d="M425.5,87.7l1.4,-1.4-2,-.9-1.4,1.4z"/><path fill="#ddf300" d="M411.3,94.4l1.4,-1.7-2,-.9-1.4,1.7z"/><path fill="#d14f00" d="M485.3,77l1.3,-.5-2.2,-.8-1.3,.5z"/><path fill="#db5700" d="M469,77.5l1.3,-.7-2.1,-.8-1.3,.7z"/><path fill="#f0d800" d="M420.8,89.8l1.4,-1.5-2.1,-.9-1.3,1.5z"/><path fill="#f2f000" d="M416,92l1.4,-1.6-2,-.9-1.4,1.6z"/><path fill="#c45600" d="M505,78.4l1.2,-.2-2.2,-.7-1.2,.2z"/><path fill="#bc6100" d="M516.5,80.2l1.2,0-2.2,-.8-1.2,0z"/><path fill="#0094f8" d="M349.5,149.9l1.4,-2.9-1.9,-1-1.4,2.8z"/><path fill="#d65100" d="M477.2,77.1l1.2,-.6-2.1,-.8-1.3,.6z"/><path fill="#59f700" d="M390.9,107.6l1.4,-2-1.9,-1-1.4,2z"/><path fill="#00f902" d="M380,116.5l1.4,-2.3-1.9,-.9-1.4,2.2z"/><path fill="#e88600" d="M443.2,82l1.3,-1.1-2,-.8-1.4,1.1z"/><path fill="#e26900" d="M456.1,79.3l1.3,-.9-2.1,-.9-1.3,1z"/><path fill="#00e3fb" d="M355.5,142.5l1.5,-2.7-1.9,-1.1-1.4,2.8z"/><path fill="#00f940" d="M373.9,122.5l1.4,-2.4-1.9,-1-1.4,2.4z"/><path fill="#ca5100" d="M496.9,77.7l1.2,-.3-2.2,-.8-1.2,.3z"/><path fill="#7af600" d="M395.6,104.5l1.4,-2-1.9,-.9-1.4,2z"/><path fill="#00fac7" d="M361.7,135.5l1.4,-2.6-1.9,-1-1.4,2.6z"/><path fill="#00fa81" d="M367.8,128.8l1.4,-2.5-1.9,-1-1.4,2.5z"/><path fill="#ea9500" d="M438.5,83.6l1.3,-1.2-2.1,-.9-1.3,1.2z"/><path fill="#ba6500" d="M520,80.9l1.2,0-2.3,-.7-1.2,0z"/><path fill="#de5d00" d="M464.3,78.3l1.3,-.8-2.1,-.8-1.3,.8z"/><path fill="#c25900" d="M508.4,79l1.3,-.2-2.3,-.7-1.2,.1z"/><path fill="#23f800" d="M384.8,113l1.4,-2.2-2,-.9-1.4,2.1z"/><path fill="#0075f2" d="M348,152.7l1.5,-2.8-1.9,-1.1-1.4,2.9z"/><path fill="#cf5000" d="M488.7,77.3l1.3,-.4-2.2,-.8-1.2,.4z"/><path fill="#98f600" d="M400.4,101.5l1.4,-1.8-2,-.9-1.4,1.8z"/><path fill="#e57400" d="M451.4,80.4l1.3,-1-2.1,-.8-1.3,1z"/><path fill="#d95500" d="M472.4,77.6l1.3,-.7-2.1,-.8-1.3,.7z"/><path fill="#eca700" d="M433.7,85.3l1.4,-1.3-2.1,-.9-1.3,1.3z"/><path fill="#d45100" d="M480.6,77.3l1.3,-.6-2.2,-.8-1.3,.6z"/><path fill="#b4f500" d="M405.1,98.8l1.4,-1.8-1.9,-.9-1.4,1.7z"/><path fill="#eeba00" d="M428.9,87.1l1.4,-1.3-2,-.9-1.4,1.4z"/><path fill="#00f917" d="M378.6,118.8l1.4,-2.3-1.9,-1-1.4,2.3z"/><path fill="#00c9fb" d="M354.1,145.3l1.4,-2.8-1.8,-1-1.4,2.7z"/><path fill="#47f700" d="M389.5,109.7l1.4,-2.1-1.9,-1-1.4,2.1z"/><path fill="#cef300" d="M409.9,96.1l1.4,-1.7-2,-.9-1.4,1.7z"/><path fill="#c85300" d="M500.3,78.2l1.3,-.3-2.2,-.8-1.3,.3z"/><path fill="#b86900" d="M523.4,81.7l1.2,0-2.2,-.7-1.2,-.1z"/><path fill="#efcf00" d="M424.2,89.1l1.3,-1.4-2,-.9-1.3,1.5z"/><path fill="#e7f200" d="M414.7,93.6l1.3,-1.6-2,-.9-1.3,1.6z"/><path fill="#f1e500" d="M419.4,91.3l1.4,-1.5-2,-.9-1.4,1.5z"/><path fill="#e16500" d="M459.5,79.2l1.4,-.9-2.2,-.8-1.3,.9z"/><path fill="#e78000" d="M446.6,81.7l1.4,-1-2.1,-.9-1.4,1.1z"/><path fill="#c05c00" d="M511.9,79.6l1.2,-.1-2.2,-.8-1.2,.1z"/><path fill="#00fa56" d="M372.5,124.9l1.4,-2.4-1.9,-1-1.4,2.4z"/><path fill="#00fae1" d="M360.2,138.1l1.5,-2.6-1.9,-1-1.4,2.6z"/><path fill="#0057ed" d="M346.6,155.6l1.4,-2.9-1.8,-1-1.4,2.9z"/><path fill="#00fa9a" d="M366.4,131.3l1.4,-2.5-1.9,-1-1.4,2.5z"/><path fill="#cd5000" d="M492.2,77.7l1.2,-.4-2.1,-.8-1.3,.4z"/><path fill="#68f700" d="M394.2,106.5l1.4,-2-1.9,-.9-1.4,2z"/><path fill="#dc5b00" d="M467.7,78.3l1.3,-.8-2.1,-.8-1.3,.8z"/><path fill="#0ff800" d="M383.4,115.2l1.4,-2.2-2,-1-1.4,2.2z"/><path fill="#e98f00" d="M441.9,83.2l1.3,-1.2-2.1,-.8-1.3,1.2z"/><path fill="#d25000" d="M484,77.5l1.3,-.5-2.2,-.8-1.2,.5z"/><path fill="#d85400" d="M475.9,77.7l1.3,-.6-2.2,-.8-1.3,.6z"/><path fill="#00adfb" d="M352.7,148.1l1.4,-2.8-1.8,-1.1-1.4,2.8z"/><path fill="#e36f00" d="M454.8,80.3l1.3,-1-2.1,-.8-1.3,.9z"/><path fill="#c65500" d="M503.8,78.7l1.2,-.3-2.2,-.7-1.2,.2z"/><path fill="#87f600" d="M399,103.5l1.4,-2-2,-.9-1.4,1.9z"/><path fill="#be5f00" d="M515.3,80.3l1.2,-.1-2.2,-.8-1.2,.1z"/><path fill="#eb9f00" d="M437.1,84.8l1.4,-1.2-2.1,-.9-1.3,1.3z"/><path fill="#00f92d" d="M377.2,121.1l1.4,-2.3-1.9,-1-1.4,2.3z"/><path fill="#003be7" d="M345.2,158.6l1.4,-3-1.8,-1-1.4,2.9z"/><path fill="#00fbfb" d="M358.8,140.8l1.4,-2.7-1.8,-1-1.4,2.7z"/><path fill="#a5f500" d="M403.8,100.6l1.3,-1.8-1.9,-1-1.4,1.9z"/><path fill="#33f800" d="M388.1,111.8l1.4,-2.1-1.9,-1-1.4,2.1z"/><path fill="#00fa6e" d="M371.1,127.3l1.4,-2.4-1.9,-1-1.4,2.4z"/><path fill="#edb100" d="M432.3,86.6l1.4,-1.3-2,-.9-1.4,1.4z"/><path fill="#00fab3" d="M364.9,133.9l1.5,-2.6-1.9,-1-1.4,2.6z"/><path fill="#df6200" d="M463,79.1l1.3,-.8-2.1,-.8-1.3,.8z"/><path fill="#cb5100" d="M495.6,78l1.3,-.3-2.2,-.8-1.3,.4z"/><path fill="#e67a00" d="M450,81.5l1.4,-1.1-2.1,-.8-1.3,1.1z"/><path fill="#c0f400" d="M408.5,97.9l1.4,-1.8-2,-.9-1.4,1.8z"/><path fill="#efc500" d="M427.6,88.6l1.3,-1.5-2,-.8-1.4,1.4z"/><path fill="#d9f300" d="M413.3,95.3l1.4,-1.7-2,-.9-1.4,1.7z"/><path fill="#f0da00" d="M422.8,90.7l1.4,-1.6-2,-.8-1.4,1.5z"/><path fill="#db5800" d="M471.1,78.3l1.3,-.7-2.1,-.8-1.3,.7z"/><path fill="#d15000" d="M487.5,77.8l1.2,-.5-2.1,-.8-1.3,.5z"/><path fill="#f1f200" d="M418,92.9l1.4,-1.6-2,-.9-1.4,1.6z"/><path fill="#008ff7" d="M351.3,150.9l1.4,-2.8-1.8,-1.1-1.4,2.9z"/><path fill="#c45700" d="M507.2,79.2l1.2,-.2-2.2,-.8-1.2,.2z"/><path fill="#bc6200" d="M518.8,80.9l1.2,0-2.3,-.7-1.2,0z"/><path fill="#d65300" d="M479.3,77.9l1.3,-.6-2.2,-.8-1.2,.6z"/><path fill="#56f700" d="M392.8,108.5l1.4,-2-1.9,-.9-1.4,2z"/><path fill="#00f906" d="M382,117.4l1.4,-2.2-2,-1-1.4,2.3z"/><path fill="#e88800" d="M445.3,82.9l1.3,-1.2-2.1,-.8-1.3,1.1z"/><path fill="#e26b00" d="M458.2,80.1l1.3,-.9-2.1,-.8-1.3,.9z"/><path fill="#00e0fb" d="M357.4,143.5l1.4,-2.7-1.8,-1-1.5,2.7z"/><path fill="#00f943" d="M375.8,123.4l1.4,-2.3-1.9,-1-1.4,2.4z"/><path fill="#77f600" d="M397.6,105.4l1.4,-1.9-2,-1-1.4,2z"/><path fill="#c95300" d="M499.1,78.5l1.2,-.3-2.2,-.8-1.2,.3z"/><path fill="#00facb" d="M363.5,136.5l1.4,-2.6-1.8,-1-1.4,2.6z"/><path fill="#00fa85" d="M369.7,129.8l1.4,-2.5-1.9,-1-1.4,2.5z"/><path fill="#ea9700" d="M440.5,84.4l1.4,-1.2-2.1,-.8-1.3,1.2z"/><path fill="#ba6600" d="M522.3,81.7l1.1,0-2.2,-.8-1.2,0z"/><path fill="#20f800" d="M386.7,114l1.4,-2.2-1.9,-1-1.4,2.2z"/><path fill="#de6000" d="M466.4,79.1l1.3,-.8-2.1,-.8-1.3,.8z"/><path fill="#c25a00" d="M510.7,79.8l1.2,-.2-2.2,-.8-1.3,.2z"/><path fill="#0072f1" d="M349.9,153.8l1.4,-2.9-1.8,-1-1.5,2.8z"/><path fill="#95f500" d="M402.4,102.5l1.4,-1.9-2,-.9-1.4,1.8z"/><path fill="#cf5100" d="M490.9,78.1l1.3,-.4-2.2,-.8-1.3,.4z"/><path fill="#e47600" d="M453.5,81.3l1.3,-1-2.1,-.9-1.3,1z"/><path fill="#eca900" d="M435.8,86.1l1.3,-1.3-2,-.8-1.4,1.3z"/><path fill="#d95700" d="M474.6,78.4l1.3,-.7-2.2,-.8-1.3,.7z"/><path fill="#d45200" d="M482.8,78.1l1.2,-.6-2.1,-.8-1.3,.6z"/><path fill="#b1f400" d="M407.1,99.7l1.4,-1.8-2,-.9-1.4,1.8z"/><path fill="#eebc00" d="M431,88l1.3,-1.4-2,-.8-1.4,1.3z"/><path fill="#00f91a" d="M380.5,119.7l1.5,-2.3-2,-.9-1.4,2.3z"/><path fill="#00c6fb" d="M356,146.3l1.4,-2.8-1.9,-1-1.4,2.8z"/><path fill="#43f700" d="M391.4,110.6l1.4,-2.1-1.9,-.9-1.4,2.1z"/><path fill="#cbf300" d="M411.9,97l1.4,-1.7-2,-.9-1.4,1.7z"/><path fill="#efd100" d="M426.2,90l1.4,-1.4-2.1,-.9-1.3,1.4z"/><path fill="#c75400" d="M502.5,78.9l1.3,-.2-2.2,-.8-1.3,.3z"/><path fill="#b86a00" d="M525.7,82.4l1.2,.1-2.3,-.8-1.2,0z"/><path fill="#e4f200" d="M416.7,94.5l1.3,-1.6-2,-.9-1.3,1.6z"/><path fill="#f1e800" d="M421.4,92.2l1.4,-1.5-2,-.9-1.4,1.5z"/><path fill="#e78200" d="M448.7,82.6l1.3,-1.1-2,-.8-1.4,1z"/><path fill="#e06800" d="M461.7,80l1.3,-.9-2.1,-.8-1.4,.9z"/><path fill="#00f95a" d="M374.4,125.8l1.4,-2.4-1.9,-.9-1.4,2.4z"/><path fill="#00fae5" d="M362.1,139.1l1.4,-2.6-1.8,-1-1.5,2.6z"/><path fill="#c05d00" d="M514.1,80.4l1.2,-.1-2.2,-.8-1.2,.1z"/><path fill="#0054ec" d="M348.5,156.7l1.4,-2.9-1.9,-1.1-1.4,2.9z"/><path fill="#00fa9d" d="M368.3,132.3l1.4,-2.5-1.9,-1-1.4,2.5z"/><path fill="#cd5200" d="M494.4,78.4l1.2,-.4-2.2,-.7-1.2,.4z"/><path fill="#65f700" d="M396.2,107.4l1.4,-2-2,-.9-1.4,2z"/><path fill="#dc5d00" d="M469.8,79.1l1.3,-.8-2.1,-.8-1.3,.8z"/><path fill="#0cf800" d="M385.3,116.2l1.4,-2.2-1.9,-1-1.4,2.2z"/><path fill="#e99100" d="M443.9,84.1l1.4,-1.2-2.1,-.9-1.3,1.2z"/><path fill="#d25200" d="M486.2,78.3l1.3,-.5-2.2,-.8-1.3,.5z"/><path fill="#d75600" d="M478,78.5l1.3,-.6-2.1,-.8-1.3,.6z"/><path fill="#00aafb" d="M354.6,149.1l1.4,-2.8-1.9,-1-1.4,2.8z"/><path fill="#e37200" d="M456.9,81.1l1.3,-1-2.1,-.8-1.3,1z"/><path fill="#84f600" d="M401,104.4l1.4,-1.9-2,-1-1.4,2z"/><path fill="#c55700" d="M506,79.4l1.2,-.2-2.2,-.8-1.2,.3z"/><path fill="#eba100" d="M439.2,85.7l1.3,-1.3-2,-.8-1.4,1.2z"/><path fill="#be6000" d="M517.6,81l1.2,-.1-2.3,-.7-1.2,.1z"/><path fill="#00f931" d="M379.1,122.1l1.4,-2.4-1.9,-.9-1.4,2.3z"/><path fill="#0037e6" d="M347.1,159.7l1.4,-3-1.9,-1.1-1.4,3z"/><path fill="#00f7fa" d="M360.7,141.8l1.4,-2.7-1.9,-1-1.4,2.7z"/><path fill="#a1f500" d="M405.7,101.5l1.4,-1.8-2,-.9-1.3,1.8z"/><path fill="#31f800" d="M390,112.7l1.4,-2.1-1.9,-.9-1.4,2.1z"/><path fill="#00fa71" d="M373,128.3l1.4,-2.5-1.9,-.9-1.4,2.4z"/><path fill="#edb400" d="M434.4,87.5l1.4,-1.4-2.1,-.8-1.4,1.3z"/><path fill="#00fab5" d="M366.8,134.9l1.5,-2.6-1.9,-1-1.5,2.6z"/><path fill="#df6400" d="M465.1,79.9l1.3,-.8-2.1,-.8-1.3,.8z"/><path fill="#cb5300" d="M497.8,78.8l1.3,-.3-2.2,-.8-1.3,.3z"/><path fill="#bdf400" d="M410.5,98.8l1.4,-1.8-2,-.9-1.4,1.8z"/><path fill="#e57d00" d="M452.1,82.3l1.4,-1-2.1,-.9-1.4,1.1z"/><path fill="#eec800" d="M429.6,89.4l1.4,-1.4-2.1,-.9-1.3,1.5z"/><path fill="#d6f300" d="M415.3,96.2l1.4,-1.7-2,-.9-1.4,1.7z"/><path fill="#f0de00" d="M424.8,91.5l1.4,-1.5-2,-.9-1.4,1.6z"/><path fill="#eef100" d="M420.1,93.8l1.3,-1.6-2,-.9-1.4,1.6z"/><path fill="#da5b00" d="M473.3,79.1l1.3,-.7-2.2,-.8-1.3,.7z"/><path fill="#008cf6" d="M353.2,151.9l1.4,-2.8-1.9,-1-1.4,2.8z"/><path fill="#d05300" d="M489.7,78.6l1.2,-.5-2.2,-.8-1.2,.5z"/><path fill="#c35900" d="M509.5,79.9l1.2,-.1-2.3,-.8-1.2,.2z"/><path fill="#d55500" d="M481.5,78.7l1.3,-.6-2.2,-.8-1.3,.6z"/><path fill="#52f700" d="M394.8,109.5l1.4,-2.1-2,-.9-1.4,2z"/><path fill="#bc6300" d="M521.1,81.7l1.2,0-2.3,-.8-1.2,0z"/><path fill="#00f809" d="M383.9,118.4l1.4,-2.2-1.9,-1-1.4,2.2z"/><path fill="#e88b00" d="M447.4,83.7l1.3,-1.1-2.1,-.9-1.3,1.2z"/><path fill="#e26e00" d="M460.3,80.9l1.4,-.9-2.2,-.8-1.3,.9z"/><path fill="#00dcfb" d="M359.3,144.6l1.4,-2.8-1.9,-1-1.4,2.7z"/><path fill="#00f946" d="M377.7,124.4l1.4,-2.3-1.9,-1-1.4,2.3z"/><path fill="#73f600" d="M399.6,106.4l1.4,-2-2,-.9-1.4,1.9z"/><path fill="#c95400" d="M501.3,79.2l1.2,-.3-2.2,-.7-1.2,.3z"/><path fill="#00face" d="M365.4,137.5l1.4,-2.6-1.9,-1-1.4,2.6z"/><path fill="#00fa88" d="M371.6,130.8l1.4,-2.5-1.9,-1-1.4,2.5z"/><path fill="#ea9a00" d="M442.6,85.3l1.3,-1.2-2,-.9-1.4,1.2z"/><path fill="#1cf800" d="M388.6,114.9l1.4,-2.2-1.9,-.9-1.4,2.2z"/><path fill="#006df1" d="M351.7,154.8l1.5,-2.9-1.9,-1-1.4,2.9z"/><path fill="#dd6100" d="M468.5,79.9l1.3,-.8-2.1,-.8-1.3,.8z"/><path fill="#b96700" d="M524.5,82.4l1.2,0-2.3,-.7-1.1,0z"/><path fill="#c15c00" d="M512.9,80.5l1.2,-.1-2.2,-.8-1.2,.2z"/><path fill="#91f500" d="M404.3,103.4l1.4,-1.9-1.9,-.9-1.4,1.9z"/><path fill="#ce5300" d="M493.1,78.9l1.3,-.5-2.2,-.7-1.3,.4z"/><path fill="#ecac00" d="M437.8,87l1.4,-1.3-2.1,-.9-1.3,1.3z"/><path fill="#e47900" d="M455.6,82.1l1.3,-1-2.1,-.8-1.3,1z"/><path fill="#d95900" d="M476.8,79.2l1.2,-.7-2.1,-.8-1.3,.7z"/><path fill="#d45500" d="M484.9,78.9l1.3,-.6-2.2,-.8-1.2,.6z"/><path fill="#adf400" d="M409.1,100.6l1.4,-1.8-2,-.9-1.4,1.8z"/><path fill="#edbf00" d="M433,88.9l1.4,-1.4-2.1,-.9-1.3,1.4z"/><path fill="#00f91e" d="M382.5,120.7l1.4,-2.3-1.9,-1-1.5,2.3z"/><path fill="#00c2fb" d="M357.9,147.3l1.4,-2.7-1.9,-1.1-1.4,2.8z"/><path fill="#40f700" d="M393.4,111.6l1.4,-2.1-2,-1-1.4,2.1z"/><path fill="#c8f300" d="M413.9,97.9l1.4,-1.7-2,-.9-1.4,1.7z"/><path fill="#efd400" d="M428.3,90.9l1.3,-1.5-2,-.8-1.4,1.4z"/><path fill="#e0f200" d="M418.7,95.4l1.4,-1.6-2.1,-.9-1.3,1.6z"/><path fill="#c75700" d="M504.8,79.7l1.2,-.3-2.2,-.7-1.3,.2z"/><path fill="#f1eb00" d="M423.5,93.1l1.3,-1.6-2,-.8-1.4,1.5z"/><path fill="#b76b00" d="M528,83.2l1.2,0-2.3,-.7-1.2,-.1z"/><path fill="#00f95d" d="M376.3,126.8l1.4,-2.4-1.9,-1-1.4,2.4z"/><path fill="#e68500" d="M450.8,83.4l1.3,-1.1-2.1,-.8-1.3,1.1z"/><path fill="#00fae8" d="M364,140.2l1.4,-2.7-1.9,-1-1.4,2.6z"/><path fill="#e06900" d="M463.8,80.8l1.3,-.9-2.1,-.8-1.3,.9z"/><path fill="#0050eb" d="M350.3,157.8l1.4,-3-1.8,-1-1.4,2.9z"/><path fill="#00faa1" d="M370.2,133.3l1.4,-2.5-1.9,-1-1.4,2.5z"/><path fill="#bf5e00" d="M516.4,81.1l1.2,-.1-2.3,-.7-1.2,.1z"/><path fill="#62f600" d="M398.2,108.4l1.4,-2-2,-1-1.4,2z"/><path fill="#cd5300" d="M496.6,79.2l1.2,-.4-2.2,-.8-1.2,.4z"/><path fill="#dc5f00" d="M472,79.9l1.3,-.8-2.2,-.8-1.3,.8z"/><path fill="#09f800" d="M387.2,117.1l1.4,-2.2-1.9,-.9-1.4,2.2z"/><path fill="#e99400" d="M446,84.9l1.4,-1.2-2.1,-.8-1.4,1.2z"/><path fill="#d25400" d="M488.4,79.1l1.3,-.5-2.2,-.8-1.3,.5z"/><path fill="#d75800" d="M480.2,79.3l1.3,-.6-2.2,-.8-1.3,.6z"/><path fill="#00a7fb" d="M356.5,150.1l1.4,-2.8-1.9,-1-1.4,2.8z"/><path fill="#81f600" d="M403,105.3l1.3,-1.9-1.9,-.9-1.4,1.9z"/><path fill="#e37400" d="M459,81.9l1.3,-1-2.1,-.8-1.3,1z"/><path fill="#c55800" d="M508.2,80.2l1.3,-.3-2.3,-.7-1.2,.2z"/><path fill="#eba400" d="M441.2,86.5l1.4,-1.2-2.1,-.9-1.3,1.3z"/><path fill="#00f934" d="M381.1,123l1.4,-2.3-2,-1-1.4,2.4z"/><path fill="#0034e6" d="M348.9,160.7l1.4,-2.9-1.8,-1.1-1.4,3z"/><path fill="#bd6100" d="M519.9,81.8l1.2,-.1-2.3,-.8-1.2,.1z"/><path fill="#00f3fa" d="M362.6,142.8l1.4,-2.6-1.9,-1.1-1.4,2.7z"/><path fill="#9ef500" d="M407.7,102.4l1.4,-1.8-2,-.9-1.4,1.8z"/><path fill="#2df700" d="M392,113.7l1.4,-2.1-2,-1-1.4,2.1z"/><path fill="#00f974" d="M374.9,129.3l1.4,-2.5-1.9,-1-1.4,2.5z"/><path fill="#00fab8" d="M368.7,135.9l1.5,-2.6-1.9,-1-1.5,2.6z"/><path fill="#ecb700" d="M436.5,88.3l1.3,-1.3-2,-.9-1.4,1.4z"/><path fill="#df6600" d="M467.2,80.7l1.3,-.8-2.1,-.8-1.3,.8z"/><path fill="#cb5500" d="M500.1,79.6l1.2,-.4-2.2,-.7-1.3,.3z"/><path fill="#b9f400" d="M412.5,99.7l1.4,-1.8-2,-.9-1.4,1.8z"/><path fill="#e58000" d="M454.2,83.2l1.4,-1.1-2.1,-.8-1.4,1z"/><path fill="#eecb00" d="M431.7,90.3l1.3,-1.4-2,-.9-1.4,1.4z"/><path fill="#d3f200" d="M417.3,97.1l1.4,-1.7-2,-.9-1.4,1.7z"/><path fill="#f0e100" d="M426.9,92.4l1.4,-1.5-2.1,-.9-1.4,1.5z"/><path fill="#eaf100" d="M422.1,94.7l1.4,-1.6-2.1,-.9-1.3,1.6z"/><path fill="#0089f5" d="M355,153l1.5,-2.9-1.9,-1-1.4,2.8z"/><path fill="#da5d00" d="M475.5,79.9l1.3,-.7-2.2,-.8-1.3,.7z"/><path fill="#d05400" d="M491.9,79.4l1.2,-.5-2.2,-.8-1.2,.5z"/><path fill="#4ff700" d="M396.8,110.4l1.4,-2-2,-1-1.4,2.1z"/><path fill="#00f80d" d="M385.8,119.4l1.4,-2.3-1.9,-.9-1.4,2.2z"/><path fill="#d55700" d="M483.7,79.5l1.2,-.6-2.1,-.8-1.3,.6z"/><path fill="#c35a00" d="M511.7,80.7l1.2,-.2-2.2,-.7-1.2,.1z"/><path fill="#bb6500" d="M523.4,82.4l1.1,0-2.2,-.7-1.2,0z"/><path fill="#e78e00" d="M449.5,84.6l1.3,-1.2-2.1,-.8-1.3,1.1z"/><path fill="#00d9fa" d="M361.2,145.6l1.4,-2.8-1.9,-1-1.4,2.8z"/><path fill="#e16f00" d="M462.5,81.8l1.3,-1-2.1,-.8-1.4,.9z"/><path fill="#00f94a" d="M379.7,125.4l1.4,-2.4-2,-.9-1.4,2.3z"/><path fill="#70f600" d="M401.6,107.3l1.4,-2-2,-.9-1.4,2z"/><path fill="#00fad2" d="M367.3,138.5l1.4,-2.6-1.9,-1-1.4,2.6z"/><path fill="#00fa8c" d="M373.5,131.8l1.4,-2.5-1.9,-1-1.4,2.5z"/><path fill="#c95600" d="M503.5,80l1.3,-.3-2.3,-.8-1.2,.3z"/><path fill="#e99d00" d="M444.7,86.1l1.3,-1.2-2.1,-.8-1.3,1.2z"/><path fill="#19f800" d="M390.6,115.9l1.4,-2.2-2,-1-1.4,2.2z"/><path fill="#006af0" d="M353.6,155.9l1.4,-2.9-1.8,-1.1-1.5,2.9z"/><path fill="#dd6400" d="M470.7,80.7l1.3,-.8-2.2,-.8-1.3,.8z"/><path fill="#b96900" d="M526.8,83.2l1.2,0-2.3,-.8-1.2,0z"/><path fill="#8ef500" d="M406.3,104.3l1.4,-1.9-2,-.9-1.4,1.9z"/><path fill="#c15d00" d="M515.2,81.3l1.2,-.2-2.3,-.7-1.2,.1z"/><path fill="#ce5500" d="M495.3,79.7l1.3,-.5-2.2,-.8-1.3,.5z"/><path fill="#ebae00" d="M439.9,87.8l1.3,-1.3-2,-.8-1.4,1.3z"/><path fill="#e47a00" d="M457.7,82.9l1.3,-1-2.1,-.8-1.3,1z"/><path fill="#d85b00" d="M478.9,80l1.3,-.7-2.2,-.8-1.2,.7z"/><path fill="#d35600" d="M487.1,79.6l1.3,-.5-2.2,-.8-1.3,.6z"/><path fill="#aaf400" d="M411.1,101.5l1.4,-1.8-2,-.9-1.4,1.8z"/><path fill="#00f821" d="M384.4,121.7l1.4,-2.3-1.9,-1-1.4,2.3z"/><path fill="#edc100" d="M435.1,89.7l1.4,-1.4-2.1,-.8-1.4,1.4z"/><path fill="#00bffa" d="M359.8,148.4l1.4,-2.8-1.9,-1-1.4,2.7z"/><path fill="#3df700" d="M395.4,112.5l1.4,-2.1-2,-.9-1.4,2.1z"/><path fill="#c5f300" d="M415.9,98.8l1.4,-1.7-2,-.9-1.4,1.7z"/><path fill="#efd600" d="M430.3,91.8l1.4,-1.5-2.1,-.9-1.3,1.5z"/><path fill="#ddf200" d="M420.7,96.3l1.4,-1.6-2,-.9-1.4,1.6z"/><path fill="#f0ed00" d="M425.5,94l1.4,-1.6-2.1,-.9-1.3,1.6z"/><path fill="#c75800" d="M507,80.5l1.2,-.3-2.2,-.8-1.2,.3z"/><path fill="#00f960" d="M378.2,127.8l1.5,-2.4-2,-1-1.4,2.4z"/><path fill="#00faeb" d="M365.9,141.2l1.4,-2.7-1.9,-1-1.4,2.7z"/><path fill="#e68700" d="M452.9,84.2l1.3,-1-2.1,-.9-1.3,1.1z"/><path fill="#b76c00" d="M530.3,83.9l1.2,.1-2.3,-.8-1.2,0z"/><path fill="#e06c00" d="M465.9,81.6l1.3,-.9-2.1,-.8-1.3,.9z"/><path fill="#004deb" d="M352.2,158.8l1.4,-2.9-1.9,-1.1-1.4,3z"/><path fill="#00faa4" d="M372.1,134.3l1.4,-2.5-1.9,-1-1.4,2.5z"/><path fill="#bf6000" d="M518.7,81.9l1.2,-.1-2.3,-.8-1.2,.1z"/><path fill="#5ff600" d="M400.2,109.3l1.4,-2-2,-.9-1.4,2z"/><path fill="#cc5600" d="M498.8,80l1.3,-.4-2.3,-.8-1.2,.4z"/><path fill="#05f800" d="M389.2,118.1l1.4,-2.2-2,-1-1.4,2.2z"/><path fill="#db6100" d="M474.2,80.7l1.3,-.8-2.2,-.8-1.3,.8z"/><path fill="#e89600" d="M448.1,85.7l1.4,-1.1-2.1,-.9-1.4,1.2z"/><path fill="#d25600" d="M490.6,79.9l1.3,-.5-2.2,-.8-1.3,.5z"/><path fill="#d75a00" d="M482.4,80.1l1.3,-.6-2.2,-.8-1.3,.6z"/><path fill="#00a3fa" d="M358.3,151.2l1.5,-2.8-1.9,-1.1-1.4,2.8z"/><path fill="#7ef500" d="M404.9,106.2l1.4,-1.9-2,-.9-1.3,1.9z"/><path fill="#e27600" d="M461.2,82.7l1.3,-.9-2.2,-.9-1.3,1z"/><path fill="#c55900" d="M510.5,80.9l1.2,-.2-2.2,-.8-1.3,.3z"/><path fill="#00f937" d="M383,124l1.4,-2.3-1.9,-1-1.4,2.3z"/><path fill="#eaa600" d="M443.3,87.4l1.4,-1.3-2.1,-.8-1.4,1.2z"/><path fill="#0031e5" d="M350.8,161.8l1.4,-3-1.9,-1-1.4,2.9z"/><path fill="#bd6300" d="M522.2,82.5l1.2,-.1-2.3,-.7-1.2,.1z"/><path fill="#00effa" d="M364.5,143.9l1.4,-2.7-1.9,-1-1.4,2.6z"/><path fill="#9bf400" d="M409.7,103.3l1.4,-1.8-2,-.9-1.4,1.8z"/><path fill="#2af700" d="M394,114.6l1.4,-2.1-2,-.9-1.4,2.1z"/><path fill="#00f977" d="M376.8,130.3l1.4,-2.5-1.9,-1-1.4,2.5z"/><path fill="#00fabc" d="M370.6,136.9l1.5,-2.6-1.9,-1-1.5,2.6z"/><path fill="#ecb900" d="M438.5,89.2l1.4,-1.4-2.1,-.8-1.3,1.3z"/><path fill="#de6900" d="M469.4,81.6l1.3,-.9-2.2,-.8-1.3,.8z"/><path fill="#b6f300" d="M414.5,100.6l1.4,-1.8-2,-.9-1.4,1.8z"/><path fill="#ca5600" d="M502.3,80.4l1.2,-.4-2.2,-.8-1.2,.4z"/><path fill="#e58200" d="M456.4,84l1.3,-1.1-2.1,-.8-1.4,1.1z"/><path fill="#eecd00" d="M433.7,91.2l1.4,-1.5-2.1,-.8-1.3,1.4z"/><path fill="#d0f200" d="M419.3,98l1.4,-1.7-2,-.9-1.4,1.7z"/><path fill="#efe300" d="M428.9,93.3l1.4,-1.5-2,-.9-1.4,1.5z"/><path fill="#0084f5" d="M356.9,154l1.4,-2.8-1.8,-1.1-1.5,2.9z"/><path fill="#e7f100" d="M424.1,95.6l1.4,-1.6-2,-.9-1.4,1.6z"/><path fill="#da5f00" d="M477.6,80.7l1.3,-.7-2.1,-.8-1.3,.7z"/><path fill="#d05600" d="M494.1,80.1l1.2,-.4-2.2,-.8-1.2,.5z"/><path fill="#4cf700" d="M398.8,111.3l1.4,-2-2,-.9-1.4,2z"/><path fill="#00f810" d="M387.8,120.3l1.4,-2.2-2,-1-1.4,2.3z"/><path fill="#d55900" d="M485.9,80.3l1.2,-.7-2.2,-.7-1.2,.6z"/><path fill="#c35c00" d="M514,81.5l1.2,-.2-2.3,-.8-1.2,.2z"/><path fill="#b60" d="M525.6,83.2l1.2,0-2.3,-.8-1.1,0z"/><path fill="#e79000" d="M451.6,85.4l1.3,-1.2-2.1,-.8-1.3,1.2z"/><path fill="#00d6fa" d="M363.1,146.6l1.4,-2.7-1.9,-1.1-1.4,2.8z"/><path fill="#e17200" d="M464.6,82.6l1.3,-1-2.1,-.8-1.3,1z"/><path fill="#00f94d" d="M381.6,126.4l1.4,-2.4-1.9,-1-1.4,2.4z"/><path fill="#6df600" d="M403.5,108.2l1.4,-2-1.9,-.9-1.4,2z"/><path fill="#00fad5" d="M369.2,139.5l1.4,-2.6-1.9,-1-1.4,2.6z"/><path fill="#00f98f" d="M375.4,132.8l1.4,-2.5-1.9,-1-1.4,2.5z"/><path fill="#c85800" d="M505.8,80.8l1.2,-.3-2.2,-.8-1.3,.3z"/><path fill="#e99f00" d="M446.8,87l1.3,-1.3-2.1,-.8-1.3,1.2z"/><path fill="#16f700" d="M392.6,116.8l1.4,-2.2-2,-.9-1.4,2.2z"/><path fill="#0067ef" d="M355.5,156.9l1.4,-2.9-1.9,-1-1.4,2.9z"/><path fill="#dd6500" d="M472.9,81.5l1.3,-.8-2.2,-.8-1.3,.8z"/><path fill="#8bf500" d="M408.3,105.2l1.4,-1.9-2,-.9-1.4,1.9z"/><path fill="#b96900" d="M529.1,83.9l1.2,0-2.3,-.7-1.2,0z"/><path fill="#c15e00" d="M517.5,82l1.2,-.1-2.3,-.8-1.2,.2z"/><path fill="#ce5600" d="M497.6,80.4l1.2,-.4-2.2,-.8-1.3,.5z"/><path fill="#ebb100" d="M442,88.7l1.3,-1.3-2.1,-.9-1.3,1.3z"/><path fill="#e47d00" d="M459.8,83.7l1.4,-1-2.2,-.8-1.3,1z"/><path fill="#d85d00" d="M481.1,80.8l1.3,-.7-2.2,-.8-1.3,.7z"/><path fill="#d35800" d="M489.3,80.4l1.3,-.5-2.2,-.8-1.3,.5z"/><path fill="#a7f400" d="M413.1,102.4l1.4,-1.8-2,-.9-1.4,1.8z"/><path fill="#00f824" d="M386.4,122.6l1.4,-2.3-2,-.9-1.4,2.3z"/><path fill="#00bcfa" d="M361.6,149.4l1.5,-2.8-1.9,-1-1.4,2.8z"/><path fill="#edc400" d="M437.2,90.6l1.3,-1.4-2,-.9-1.4,1.4z"/><path fill="#39f700" d="M397.4,113.4l1.4,-2.1-2,-.9-1.4,2.1z"/><path fill="#c2f300" d="M418,99.7l1.3,-1.7-2,-.9-1.4,1.7z"/><path fill="#efd900" d="M432.4,92.6l1.3,-1.4-2,-.9-1.4,1.5z"/><path fill="#daf100" d="M422.8,97.2l1.3,-1.6-2,-.9-1.4,1.6z"/><path fill="#f0f000" d="M427.6,94.8l1.3,-1.5-2,-.9-1.4,1.6z"/><path fill="#00f964" d="M380.2,128.8l1.4,-2.4-1.9,-1-1.5,2.4z"/><path fill="#00faee" d="M367.8,142.2l1.4,-2.7-1.9,-1-1.4,2.7z"/><path fill="#c65900" d="M509.3,81.2l1.2,-.3-2.3,-.7-1.2,.3z"/><path fill="#e68a00" d="M455,85.1l1.4,-1.1-2.2,-.8-1.3,1z"/><path fill="#004aea" d="M354.1,159.9l1.4,-3-1.9,-1-1.4,2.9z"/><path fill="#e06e00" d="M468.1,82.4l1.3,-.8-2.2,-.9-1.3,.9z"/><path fill="#00faa6" d="M374,135.3l1.4,-2.5-1.9,-1-1.4,2.5z"/><path fill="#b76d00" d="M532.6,84.6l1.2,.1-2.3,-.7-1.2,-.1z"/><path fill="#bf6100" d="M521,82.6l1.2,-.1-2.3,-.7-1.2,.1z"/><path fill="#5bf600" d="M402.1,110.2l1.4,-2-1.9,-.9-1.4,2z"/><path fill="#02f800" d="M391.2,119l1.4,-2.2-2,-.9-1.4,2.2z"/><path fill="#cc5700" d="M501.1,80.8l1.2,-.4-2.2,-.8-1.3,.4z"/><path fill="#db6300" d="M476.3,81.5l1.3,-.8-2.1,-.8-1.3,.8z"/><path fill="#e89900" d="M450.2,86.6l1.4,-1.2-2.1,-.8-1.4,1.1z"/><path fill="#009ff9" d="M360.2,152.2l1.4,-2.8-1.8,-1-1.5,2.8z"/><path fill="#d15800" d="M492.8,80.6l1.3,-.5-2.2,-.7-1.3,.5z"/><path fill="#d65c00" d="M484.6,80.9l1.3,-.6-2.2,-.8-1.3,.6z"/><path fill="#7af500" d="M406.9,107.1l1.4,-1.9-2,-.9-1.4,1.9z"/><path fill="#e27900" d="M463.3,83.5l1.3,-.9-2.1,-.8-1.3,.9z"/><path fill="#00f839" d="M385,125l1.4,-2.4-2,-.9-1.4,2.3z"/><path fill="#002ee4" d="M352.6,162.9l1.5,-3-1.9,-1.1-1.4,3z"/><path fill="#eaa900" d="M445.4,88.2l1.4,-1.2-2.1,-.9-1.4,1.3z"/><path fill="#c45b00" d="M512.8,81.7l1.2,-.2-2.3,-.8-1.2,.2z"/><path fill="#00ecfa" d="M366.4,144.9l1.4,-2.7-1.9,-1-1.4,2.7z"/><path fill="#98f400" d="M411.8,104.2l1.3,-1.8-2,-.9-1.4,1.8z"/><path fill="#bd6400" d="M524.5,83.2l1.1,0-2.2,-.8-1.2,.1z"/><path fill="#27f700" d="M395.9,115.6l1.5,-2.2-2,-.9-1.4,2.1z"/><path fill="#00f97a" d="M378.8,131.3l1.4,-2.5-2,-1-1.4,2.5z"/><path fill="#00fabf" d="M372.6,137.9l1.4,-2.6-1.9,-1-1.5,2.6z"/><path fill="#ecbb00" d="M440.6,90l1.4,-1.3-2.1,-.9-1.4,1.4z"/><path fill="#de6b00" d="M471.6,82.4l1.3,-.9-2.2,-.8-1.3,.9z"/><path fill="#b3f300" d="M416.6,101.5l1.4,-1.8-2.1,-.9-1.4,1.8z"/><path fill="#e58500" d="M458.5,84.8l1.3,-1.1-2.1,-.8-1.3,1.1z"/><path fill="#eed000" d="M435.8,92l1.4,-1.4-2.1,-.9-1.4,1.5z"/><path fill="#ca5800" d="M504.5,81.1l1.3,-.3-2.3,-.8-1.2,.4z"/><path fill="#cdf200" d="M421.4,98.9l1.4,-1.7-2.1,-.9-1.4,1.7z"/><path fill="#efe600" d="M431,94.1l1.4,-1.5-2.1,-.8-1.4,1.5z"/><path fill="#0081f4" d="M358.8,155.1l1.4,-2.9-1.9,-1-1.4,2.8z"/><path fill="#e3f100" d="M426.2,96.4l1.4,-1.6-2.1,-.8-1.4,1.6z"/><path fill="#da6000" d="M479.8,81.5l1.3,-.7-2.2,-.8-1.3,.7z"/><path fill="#49f600" d="M400.7,112.3l1.4,-2.1-1.9,-.9-1.4,2z"/><path fill="#00f812" d="M389.7,121.3l1.5,-2.3-2,-.9-1.4,2.2z"/><path fill="#cf5800" d="M496.3,80.9l1.3,-.5-2.3,-.7-1.2,.4z"/><path fill="#d55b00" d="M488.1,81l1.2,-.6-2.2,-.8-1.2,.7z"/><path fill="#c25d00" d="M516.3,82.2l1.2,-.2-2.3,-.7-1.2,.2z"/><path fill="#bb6700" d="M528,83.9l1.1,0-2.3,-.7-1.2,0z"/><path fill="#e79200" d="M453.7,86.2l1.3,-1.1-2.1,-.9-1.3,1.2z"/><path fill="#00d2fa" d="M365,147.6l1.4,-2.7-1.9,-1-1.4,2.7z"/><path fill="#00f950" d="M383.5,127.3l1.5,-2.3-2,-1-1.4,2.4z"/><path fill="#e17400" d="M466.8,83.4l1.3,-1-2.2,-.8-1.3,1z"/><path fill="#6af600" d="M405.5,109.1l1.4,-2-2,-.9-1.4,2z"/><path fill="#00fad7" d="M371.1,140.5l1.5,-2.6-2,-1-1.4,2.6z"/><path fill="#00f992" d="M377.3,133.8l1.5,-2.5-2,-1-1.4,2.5z"/><path fill="#e9a200" d="M448.9,87.8l1.3,-1.2-2.1,-.9-1.3,1.3z"/><path fill="#c85900" d="M508,81.5l1.3,-.3-2.3,-.7-1.2,.3z"/><path fill="#13f700" d="M394.5,117.7l1.4,-2.1-1.9,-1-1.4,2.2z"/><path fill="#0064ee" d="M357.4,158l1.4,-2.9-1.9,-1.1-1.4,2.9z"/><path fill="#88f500" d="M410.4,106.1l1.4,-1.9-2.1,-.9-1.4,1.9z"/><path fill="#dc6800" d="M475,82.3l1.3,-.8-2.1,-.8-1.3,.8z"/><path fill="#b96a00" d="M531.5,84.6l1.1,0-2.3,-.7-1.2,0z"/><path fill="#c06000" d="M519.8,82.8l1.2,-.2-2.3,-.7-1.2,.1z"/><path fill="#ebb300" d="M444.1,89.5l1.3,-1.3-2.1,-.8-1.3,1.3z"/><path fill="#ce5800" d="M499.8,81.2l1.3,-.4-2.3,-.8-1.2,.4z"/><path fill="#e37f00" d="M462,84.6l1.3,-1.1-2.1,-.8-1.4,1z"/><path fill="#d85f00" d="M483.3,81.6l1.3,-.7-2.2,-.8-1.3,.7z"/><path fill="#a4f400" d="M415.2,103.3l1.4,-1.8-2.1,-.9-1.4,1.8z"/><path fill="#d35900" d="M491.6,81.2l1.2,-.6-2.2,-.7-1.3,.5z"/><path fill="#00f828" d="M388.3,123.6l1.4,-2.3-1.9,-1-1.4,2.3z"/><path fill="#00b7fa" d="M363.5,150.4l1.5,-2.8-1.9,-1-1.5,2.8z"/><path fill="#edc700" d="M439.3,91.4l1.3,-1.4-2.1,-.8-1.3,1.4z"/><path fill="#36f700" d="M399.3,114.4l1.4,-2.1-1.9,-1-1.4,2.1z"/><path fill="#bff300" d="M420,100.6l1.4,-1.7-2.1,-.9-1.3,1.7z"/><path fill="#eedc00" d="M434.4,93.5l1.4,-1.5-2.1,-.8-1.3,1.4z"/><path fill="#d7f100" d="M424.8,98.1l1.4,-1.7-2.1,-.8-1.3,1.6z"/><path fill="#edf000" d="M429.6,95.7l1.4,-1.6-2.1,-.8-1.3,1.5z"/><path fill="#00f966" d="M382.1,129.8l1.4,-2.5-1.9,-.9-1.4,2.4z"/><path fill="#00faf1" d="M369.7,143.2l1.4,-2.7-1.9,-1-1.4,2.7z"/><path fill="#0047e9" d="M355.9,160.9l1.5,-2.9-1.9,-1.1-1.4,3z"/><path fill="#e68d00" d="M457.2,85.9l1.3,-1.1-2.1,-.8-1.4,1.1z"/><path fill="#c65b00" d="M511.5,82l1.3,-.3-2.3,-.8-1.2,.3z"/><path fill="#00f9a9" d="M375.9,136.3l1.4,-2.5-1.9,-1-1.4,2.5z"/><path fill="#df7000" d="M470.2,83.2l1.4,-.8-2.2,-.8-1.3,.8z"/><path fill="#58f600" d="M404.1,111.1l1.4,-2-2,-.9-1.4,2z"/><path fill="#be6200" d="M523.3,83.4l1.2,-.2-2.3,-.7-1.2,.1z"/><path fill="#00f801" d="M393.1,120l1.4,-2.3-1.9,-.9-1.4,2.2z"/><path fill="#cc5900" d="M503.3,81.5l1.2,-.4-2.2,-.7-1.2,.4z"/><path fill="#db6500" d="M478.5,82.3l1.3,-.8-2.2,-.8-1.3,.8z"/><path fill="#e89b00" d="M452.4,87.4l1.3,-1.2-2.1,-.8-1.4,1.2z"/><path fill="#009cf8" d="M362.1,153.2l1.4,-2.8-1.9,-1-1.4,2.8z"/><path fill="#d15900" d="M495.1,81.4l1.2,-.5-2.2,-.8-1.3,.5z"/><path fill="#d65d00" d="M486.8,81.7l1.3,-.7-2.2,-.7-1.3,.6z"/><path fill="#77f500" d="M409,108.1l1.4,-2-2.1,-.9-1.4,1.9z"/><path fill="#e27a00" d="M465.4,84.4l1.4,-1-2.2,-.8-1.3,.9z"/><path fill="#00f83d" d="M386.9,125.9l1.4,-2.3-1.9,-1-1.4,2.4z"/><path fill="#002be4" d="M354.5,163.9l1.4,-3-1.8,-1-1.5,3z"/><path fill="#eaac00" d="M447.5,89.1l1.4,-1.3-2.1,-.8-1.4,1.2z"/><path fill="#c45c00" d="M515,82.4l1.3,-.2-2.3,-.7-1.2,.2z"/><path fill="#00e9fa" d="M368.3,145.9l1.4,-2.7-1.9,-1-1.4,2.7z"/><path fill="#95f400" d="M413.8,105.1l1.4,-1.8-2.1,-.9-1.3,1.8z"/><path fill="#24f700" d="M397.9,116.5l1.4,-2.1-1.9,-1-1.5,2.2z"/><path fill="#00f97d" d="M380.7,132.2l1.4,-2.4-1.9,-1-1.4,2.5z"/><path fill="#bc6500" d="M526.8,84l1.2,-.1-2.4,-.7-1.1,0z"/><path fill="#00f9c2" d="M374.5,138.9l1.4,-2.6-1.9,-1-1.4,2.6z"/><path fill="#ecbe00" d="M442.7,90.9l1.4,-1.4-2.1,-.8-1.4,1.3z"/><path fill="#b0f300" d="M418.6,102.4l1.4,-1.8-2,-.9-1.4,1.8z"/><path fill="#de6d00" d="M473.7,83.2l1.3,-.9-2.1,-.8-1.3,.9z"/><path fill="#e48600" d="M460.6,85.6l1.4,-1-2.2,-.9-1.3,1.1z"/><path fill="#eed200" d="M437.9,92.9l1.4,-1.5-2.1,-.8-1.4,1.4z"/><path fill="#ca5900" d="M506.8,81.9l1.2,-.4-2.2,-.7-1.3,.3z"/><path fill="#caf200" d="M423.4,99.8l1.4,-1.7-2,-.9-1.4,1.7z"/><path fill="#007ef3" d="M360.7,156.1l1.4,-2.9-1.9,-1-1.4,2.9z"/><path fill="#efe800" d="M433.1,95l1.3,-1.5-2,-.9-1.4,1.5z"/><path fill="#e1f100" d="M428.2,97.3l1.4,-1.6-2,-.9-1.4,1.6z"/><path fill="#46f600" d="M402.7,113.2l1.4,-2.1-2,-.9-1.4,2.1z"/><path fill="#00f815" d="M391.7,122.2l1.4,-2.2-1.9,-1-1.5,2.3z"/><path fill="#d96300" d="M482,82.3l1.3,-.7-2.2,-.8-1.3,.7z"/><path fill="#cf5900" d="M498.5,81.7l1.3,-.5-2.2,-.8-1.3,.5z"/><path fill="#d45c00" d="M490.3,81.8l1.3,-.6-2.3,-.8-1.2,.6z"/><path fill="#c25e00" d="M518.5,83l1.3,-.2-2.3,-.8-1.2,.2z"/><path fill="#e79400" d="M455.8,87l1.4,-1.1-2.2,-.8-1.3,1.1z"/><path fill="#ba6800" d="M530.3,84.7l1.2,-.1-2.4,-.7-1.1,0z"/><path fill="#00cffa" d="M366.9,148.6l1.4,-2.7-1.9,-1-1.4,2.7z"/><path fill="#00f953" d="M385.5,128.3l1.4,-2.4-1.9,-.9-1.5,2.3z"/><path fill="#e07600" d="M468.9,84.2l1.3,-1-2.1,-.8-1.3,1z"/><path fill="#67f500" d="M407.6,110l1.4,-1.9-2.1,-1-1.4,2z"/><path fill="#00fada" d="M373.1,141.5l1.4,-2.6-1.9,-1-1.5,2.6z"/><path fill="#00f994" d="M379.3,134.7l1.4,-2.5-1.9,-.9-1.5,2.5z"/><path fill="#e9a400" d="M451,88.6l1.4,-1.2-2.2,-.8-1.3,1.2z"/><path fill="#10f700" d="M396.5,118.7l1.4,-2.2-2,-.9-1.4,2.1z"/><path fill="#0060ee" d="M359.3,159l1.4,-2.9-1.9,-1-1.4,2.9z"/><path fill="#c85a00" d="M510.3,82.3l1.2,-.3-2.2,-.8-1.3,.3z"/><path fill="#85f400" d="M412.4,107l1.4,-1.9-2,-.9-1.4,1.9z"/><path fill="#dc6900" d="M477.2,83.1l1.3,-.8-2.2,-.8-1.3,.8z"/><path fill="#ebb500" d="M446.2,90.4l1.3,-1.3-2.1,-.9-1.3,1.3z"/><path fill="#e38100" d="M464.1,85.4l1.3,-1-2.1,-.9-1.3,1.1z"/><path fill="#c06000" d="M522.1,83.5l1.2,-.1-2.3,-.8-1.2,.2z"/><path fill="#cd5900" d="M502.1,82l1.2,-.5-2.2,-.7-1.3,.4z"/><path fill="#a1f300" d="M417.2,104.2l1.4,-1.8-2,-.9-1.4,1.8z"/><path fill="#d86000" d="M485.5,82.4l1.3,-.7-2.2,-.8-1.3,.7z"/><path fill="#00f82b" d="M390.3,124.5l1.4,-2.3-2,-.9-1.4,2.3z"/><path fill="#d35c00" d="M493.8,82l1.3,-.6-2.3,-.8-1.2,.6z"/><path fill="#00b4fa" d="M365.4,151.4l1.5,-2.8-1.9,-1-1.5,2.8z"/><path fill="#edc800" d="M441.4,92.3l1.3,-1.4-2.1,-.9-1.3,1.4z"/><path fill="#33f600" d="M401.3,115.3l1.4,-2.1-2,-.9-1.4,2.1z"/><path fill="#bcf200" d="M422,101.5l1.4,-1.7-2,-.9-1.4,1.7z"/><path fill="#eede00" d="M436.5,94.3l1.4,-1.4-2.1,-.9-1.4,1.5z"/><path fill="#d5f100" d="M426.9,98.9l1.3,-1.6-2,-.9-1.4,1.7z"/><path fill="#eaf000" d="M431.7,96.6l1.4,-1.6-2.1,-.9-1.4,1.6z"/><path fill="#00f969" d="M384.1,130.7l1.4,-2.4-2,-1-1.4,2.5z"/><path fill="#00faf4" d="M371.6,144.2l1.5,-2.7-2,-1-1.4,2.7z"/><path fill="#0044e8" d="M357.8,162l1.5,-3-1.9,-1-1.5,2.9z"/><path fill="#00f9ac" d="M377.9,137.3l1.4,-2.6-2,-.9-1.4,2.5z"/><path fill="#e58e00" d="M459.3,86.7l1.3,-1.1-2.1,-.8-1.3,1.1z"/><path fill="#df7200" d="M472.4,84l1.3,-.8-2.1,-.8-1.4,.8z"/><path fill="#c65c00" d="M513.8,82.7l1.2,-.3-2.2,-.7-1.3,.3z"/><path fill="#55f600" d="M406.2,112.1l1.4,-2.1-2.1,-.9-1.4,2z"/><path fill="#be6300" d="M525.6,84.1l1.2,-.1-2.3,-.8-1.2,.2z"/><path fill="#00f704" d="M395.1,120.9l1.4,-2.2-2,-1-1.4,2.3z"/><path fill="#db6700" d="M480.7,83.1l1.3,-.8-2.2,-.8-1.3,.8z"/><path fill="#cb5a00" d="M505.6,82.3l1.2,-.4-2.3,-.8-1.2,.4z"/><path fill="#e89d00" d="M454.5,88.2l1.3,-1.2-2.1,-.8-1.3,1.2z"/><path fill="#0098f8" d="M364,154.3l1.4,-2.9-1.9,-1-1.4,2.8z"/><path fill="#75f500" d="M411,109l1.4,-2-2,-.9-1.4,2z"/><path fill="#d65f00" d="M489,82.5l1.3,-.7-2.2,-.8-1.3,.7z"/><path fill="#d15b00" d="M497.3,82.2l1.2,-.5-2.2,-.8-1.2,.5z"/><path fill="#e27d00" d="M467.6,85.2l1.3,-1-2.1,-.8-1.4,1z"/><path fill="#00f840" d="M388.9,126.9l1.4,-2.4-2,-.9-1.4,2.3z"/><path fill="#0028e3" d="M356.4,165l1.4,-3-1.9,-1.1-1.4,3z"/><path fill="#eaad00" d="M449.7,89.9l1.3,-1.3-2.1,-.8-1.4,1.3z"/><path fill="#00e6fa" d="M370.2,146.9l1.4,-2.7-1.9,-1-1.4,2.7z"/><path fill="#c45e00" d="M517.3,83.2l1.2,-.2-2.2,-.8-1.3,.2z"/><path fill="#92f400" d="M415.8,106l1.4,-1.8-2,-.9-1.4,1.8z"/><path fill="#21f700" d="M399.9,117.4l1.4,-2.1-2,-.9-1.4,2.1z"/><path fill="#00f980" d="M382.7,133.2l1.4,-2.5-2,-.9-1.4,2.4z"/><path fill="#00f9c5" d="M376.4,139.9l1.5,-2.6-2,-1-1.4,2.6z"/><path fill="#bc6600" d="M529.1,84.7l1.2,0-2.3,-.8-1.2,.1z"/><path fill="#ecc000" d="M444.8,91.7l1.4,-1.3-2.1,-.9-1.4,1.4z"/><path fill="#adf300" d="M420.6,103.3l1.4,-1.8-2,-.9-1.4,1.8z"/><path fill="#dd6e00" d="M475.9,83.9l1.3,-.8-2.2,-.8-1.3,.9z"/><path fill="#edd400" d="M440,93.7l1.4,-1.4-2.1,-.9-1.4,1.5z"/><path fill="#e48900" d="M462.8,86.4l1.3,-1-2.1,-.8-1.4,1z"/><path fill="#c7f200" d="M425.5,100.6l1.4,-1.7-2.1,-.8-1.4,1.7z"/><path fill="#c95b00" d="M509.1,82.6l1.2,-.3-2.3,-.8-1.2,.4z"/><path fill="#007bf2" d="M362.6,157.2l1.4,-2.9-1.9,-1.1-1.4,2.9z"/><path fill="#efea00" d="M435.2,95.9l1.3,-1.6-2.1,-.8-1.3,1.5z"/><path fill="#def000" d="M430.3,98.2l1.4,-1.6-2.1,-.9-1.4,1.6z"/><path fill="#44f600" d="M404.7,114.1l1.5,-2-2.1,-1-1.4,2.1z"/><path fill="#00f818" d="M393.7,123.2l1.4,-2.3-2,-.9-1.4,2.2z"/><path fill="#d96400" d="M484.2,83.1l1.3,-.7-2.2,-.8-1.3,.7z"/><path fill="#cf5b00" d="M500.8,82.4l1.3,-.4-2.3,-.8-1.3,.5z"/><path fill="#d45e00" d="M492.5,82.6l1.3,-.6-2.2,-.8-1.3,.6z"/><path fill="#c26000" d="M520.8,83.7l1.3,-.2-2.3,-.7-1.3,.2z"/><path fill="#e69600" d="M458,87.9l1.3,-1.2-2.1,-.8-1.4,1.1z"/><path fill="#00ccfa" d="M368.8,149.7l1.4,-2.8-1.9,-1-1.4,2.7z"/><path fill="#00f856" d="M387.5,129.3l1.4,-2.4-2,-1-1.4,2.4z"/><path fill="#e07800" d="M471.1,85l1.3,-1-2.2,-.8-1.3,1z"/><path fill="#64f500" d="M409.6,110.9l1.4,-1.9-2,-.9-1.4,1.9z"/><path fill="#00f9dd" d="M375,142.5l1.4,-2.6-1.9,-1-1.4,2.6z"/><path fill="#00f997" d="M381.2,135.7l1.5,-2.5-2,-1-1.4,2.5z"/><path fill="#0ef700" d="M398.5,119.6l1.4,-2.2-2,-.9-1.4,2.2z"/><path fill="#e9a600" d="M453.1,89.5l1.4,-1.3-2.1,-.8-1.4,1.2z"/><path fill="#005ded" d="M361.2,160.1l1.4,-2.9-1.9,-1.1-1.4,2.9z"/><path fill="#c75c00" d="M512.6,83l1.2,-.3-2.3,-.7-1.2,.3z"/><path fill="#82f400" d="M414.4,107.9l1.4,-1.9-2,-.9-1.4,1.9z"/><path fill="#dc6b00" d="M479.4,83.9l1.3,-.8-2.2,-.8-1.3,.8z"/><path fill="#ebb800" d="M448.3,91.2l1.4,-1.3-2.2,-.8-1.3,1.3z"/><path fill="#e38400" d="M466.3,86.2l1.3,-1-2.2,-.8-1.3,1z"/><path fill="#cd5b00" d="M504.3,82.7l1.3,-.4-2.3,-.8-1.2,.5z"/><path fill="#c06200" d="M524.4,84.2l1.2,-.1-2.3,-.7-1.2,.1z"/><path fill="#9ef300" d="M419.3,105.1l1.3,-1.8-2,-.9-1.4,1.8z"/><path fill="#d76200" d="M487.7,83.1l1.3,-.6-2.2,-.8-1.3,.7z"/><path fill="#00f82e" d="M392.3,125.5l1.4,-2.3-2,-1-1.4,2.3z"/><path fill="#00b1fa" d="M367.4,152.5l1.4,-2.8-1.9,-1.1-1.5,2.8z"/><path fill="#d25d00" d="M496,82.7l1.3,-.5-2.2,-.8-1.3,.6z"/><path fill="#eccb00" d="M443.5,93.1l1.3,-1.4-2.1,-.8-1.3,1.4z"/><path fill="#30f600" d="M403.3,116.2l1.4,-2.1-2,-.9-1.4,2.1z"/><path fill="#b9f200" d="M424.1,102.4l1.4,-1.8-2.1,-.8-1.4,1.7z"/><path fill="#eee000" d="M438.6,95.2l1.4,-1.5-2.1,-.8-1.4,1.4z"/><path fill="#d2f100" d="M428.9,99.8l1.4,-1.6-2.1,-.9-1.3,1.6z"/><path fill="#e8f000" d="M433.8,97.4l1.4,-1.5-2.1,-.9-1.4,1.6z"/><path fill="#00f96c" d="M386,131.7l1.5,-2.4-2,-1-1.4,2.4z"/><path fill="#00faf7" d="M373.6,145.2l1.4,-2.7-1.9,-1-1.5,2.7z"/><path fill="#0041e8" d="M359.7,163l1.5,-2.9-1.9,-1.1-1.5,3z"/><path fill="#00f9af" d="M379.8,138.3l1.4,-2.6-1.9,-1-1.4,2.6z"/><path fill="#e59000" d="M461.5,87.5l1.3,-1.1-2.2,-.8-1.3,1.1z"/><path fill="#df7400" d="M474.6,84.8l1.3,-.9-2.2,-.7-1.3,.8z"/><path fill="#c55d00" d="M516.1,83.5l1.2,-.3-2.3,-.8-1.2,.3z"/><path fill="#52f600" d="M408.2,113l1.4,-2.1-2,-.9-1.4,2.1z"/><path fill="#00f707" d="M397.1,121.9l1.4,-2.3-2,-.9-1.4,2.2z"/><path fill="#be6400" d="M527.9,84.8l1.2,-.1-2.3,-.7-1.2,.1z"/><path fill="#da6800" d="M482.9,83.9l1.3,-.8-2.2,-.8-1.3,.8z"/><path fill="#e79f00" d="M456.6,89.1l1.4,-1.2-2.2,-.9-1.3,1.2z"/><path fill="#cb5b00" d="M507.8,83l1.3,-.4-2.3,-.7-1.2,.4z"/><path fill="#0095f7" d="M365.9,155.3l1.5,-2.8-2,-1.1-1.4,2.9z"/><path fill="#72f500" d="M413,109.9l1.4,-2-2,-.9-1.4,2z"/><path fill="#d66000" d="M491.2,83.2l1.3,-.6-2.2,-.8-1.3,.7z"/><path fill="#d05c00" d="M499.5,82.9l1.3,-.5-2.3,-.7-1.2,.5z"/><path fill="#e17e00" d="M469.8,86l1.3,-1-2.2,-.8-1.3,1z"/><path fill="#00f843" d="M390.9,127.8l1.4,-2.3-2,-1-1.4,2.4z"/><path fill="#0025e2" d="M358.3,166l1.4,-3-1.9,-1-1.4,3z"/><path fill="#e9b000" d="M451.8,90.7l1.3,-1.2-2.1,-.9-1.3,1.3z"/><path fill="#00e3fa" d="M372.2,147.9l1.4,-2.7-2,-1-1.4,2.7z"/><path fill="#8ff400" d="M417.9,106.9l1.4,-1.8-2.1,-.9-1.4,1.8z"/><path fill="#1ef700" d="M401.9,118.4l1.4,-2.2-2,-.9-1.4,2.1z"/><path fill="#00f983" d="M384.6,134.2l1.4,-2.5-1.9,-1-1.4,2.5z"/><path fill="#c45f00" d="M519.6,83.9l1.2,-.2-2.3,-.7-1.2,.2z"/><path fill="#00f9c7" d="M378.4,140.9l1.4,-2.6-1.9,-1-1.5,2.6z"/><path fill="#ebc200" d="M446.9,92.6l1.4,-1.4-2.1,-.8-1.4,1.3z"/><path fill="#abf300" d="M422.7,104.1l1.4,-1.7-2.1,-.9-1.4,1.8z"/><path fill="#dd7000" d="M478.1,84.7l1.3,-.8-2.2,-.8-1.3,.8z"/><path fill="#edd700" d="M442.1,94.6l1.4,-1.5-2.1,-.8-1.4,1.4z"/><path fill="#e48b00" d="M464.9,87.2l1.4,-1-2.2,-.8-1.3,1z"/><path fill="#c4f100" d="M427.5,101.5l1.4,-1.7-2,-.9-1.4,1.7z"/><path fill="#0077f2" d="M364.5,158.2l1.4,-2.9-1.9,-1-1.4,2.9z"/><path fill="#efed00" d="M437.2,96.7l1.4,-1.5-2.1,-.9-1.3,1.6z"/><path fill="#c95c00" d="M511.3,83.4l1.3,-.4-2.3,-.7-1.2,.3z"/><path fill="#dbf000" d="M432.4,99l1.4,-1.6-2.1,-.8-1.4,1.6z"/><path fill="#41f600" d="M406.8,115l1.4,-2-2,-.9-1.5,2z"/><path fill="#00f71b" d="M395.7,124.1l1.4,-2.2-2,-1-1.4,2.3z"/><path fill="#d96600" d="M486.4,83.9l1.3,-.8-2.2,-.7-1.3,.7z"/><path fill="#cf5c00" d="M503.1,83.2l1.2,-.5-2.2,-.7-1.3,.4z"/><path fill="#d46000" d="M494.7,83.4l1.3,-.7-2.2,-.7-1.3,.6z"/><path fill="#00c9fa" d="M370.7,150.7l1.5,-2.8-2,-1-1.4,2.8z"/><path fill="#e69900" d="M460.1,88.7l1.4,-1.2-2.2,-.8-1.3,1.2z"/><path fill="#c26000" d="M523.2,84.4l1.2,-.2-2.3,-.7-1.3,.2z"/><path fill="#00f859" d="M389.4,130.2l1.5,-2.4-2,-.9-1.4,2.4z"/><path fill="#61f500" d="M411.6,111.9l1.4,-2-2,-.9-1.4,1.9z"/><path fill="#e07a00" d="M473.3,85.8l1.3,-1-2.2,-.8-1.3,1z"/><path fill="#00f9e0" d="M377,143.5l1.4,-2.6-2,-1-1.4,2.6z"/><path fill="#00f99a" d="M383.2,136.7l1.4,-2.5-1.9,-1-1.5,2.5z"/><path fill="#0bf700" d="M400.5,120.6l1.4,-2.2-2,-1-1.4,2.2z"/><path fill="#005bec" d="M363.1,161.1l1.4,-2.9-1.9,-1-1.4,2.9z"/><path fill="#e8a900" d="M455.3,90.3l1.3,-1.2-2.1,-.9-1.4,1.3z"/><path fill="#7ff400" d="M416.5,108.8l1.4,-1.9-2.1,-.9-1.4,1.9z"/><path fill="#c75d00" d="M514.9,83.8l1.2,-.3-2.3,-.8-1.2,.3z"/><path fill="#dc6d00" d="M481.6,84.7l1.3,-.8-2.2,-.8-1.3,.8z"/><path fill="#eaba00" d="M450.4,92l1.4,-1.3-2.1,-.8-1.4,1.3z"/><path fill="#e38500" d="M468.4,87l1.4,-1-2.2,-.8-1.3,1z"/><path fill="#9cf300" d="M421.3,106l1.4,-1.9-2.1,-.8-1.3,1.8z"/><path fill="#cd5c00" d="M506.6,83.5l1.2,-.5-2.2,-.7-1.3,.4z"/><path fill="#bf6200" d="M526.7,85l1.2,-.2-2.3,-.7-1.2,.1z"/><path fill="#00f830" d="M394.3,126.4l1.4,-2.3-2,-.9-1.4,2.3z"/><path fill="#00aefa" d="M369.3,153.5l1.4,-2.8-1.9,-1-1.4,2.8z"/><path fill="#d76400" d="M489.9,83.9l1.3,-.7-2.2,-.7-1.3,.6z"/><path fill="#ecce00" d="M445.6,94l1.3,-1.4-2.1,-.9-1.3,1.4z"/><path fill="#d25f00" d="M498.3,83.5l1.2,-.6-2.2,-.7-1.3,.5z"/><path fill="#2ef600" d="M405.4,117.1l1.4,-2.1-2.1,-.9-1.4,2.1z"/><path fill="#b6f200" d="M426.2,103.2l1.3,-1.7-2,-.9-1.4,1.8z"/><path fill="#eee300" d="M440.7,96.1l1.4,-1.5-2.1,-.9-1.4,1.5z"/><path fill="#cff100" d="M431,100.7l1.4,-1.7-2.1,-.8-1.4,1.6z"/><path fill="#e5ef00" d="M435.9,98.3l1.3,-1.6-2,-.8-1.4,1.5z"/><path fill="#00f86f" d="M388,132.7l1.4,-2.5-1.9,-.9-1.5,2.4z"/><path fill="#00f9f9" d="M375.5,146.2l1.5,-2.7-2,-1-1.4,2.7z"/><path fill="#003fe7" d="M361.6,164.1l1.5,-3-1.9,-1-1.5,2.9z"/><path fill="#00f9b2" d="M381.8,139.3l1.4,-2.6-2,-1-1.4,2.6z"/><path fill="#e59200" d="M463.6,88.3l1.3,-1.1-2.1,-.8-1.3,1.1z"/><path fill="#de7600" d="M476.8,85.6l1.3,-.9-2.2,-.8-1.3,.9z"/><path fill="#c55e00" d="M518.4,84.2l1.2,-.3-2.3,-.7-1.2,.3z"/><path fill="#50f500" d="M410.2,113.9l1.4,-2-2,-1-1.4,2.1z"/><path fill="#00f70a" d="M399.1,122.8l1.4,-2.2-2,-1-1.4,2.3z"/><path fill="#e7a100" d="M458.8,89.9l1.3,-1.2-2.1,-.8-1.4,1.2z"/><path fill="#da6a00" d="M485.1,84.6l1.3,-.7-2.2,-.8-1.3,.8z"/><path fill="#0092f6" d="M367.9,156.3l1.4,-2.8-1.9,-1-1.5,2.8z"/><path fill="#cb5c00" d="M510.1,83.8l1.2,-.4-2.2,-.8-1.3,.4z"/><path fill="#6ff400" d="M415.1,110.8l1.4,-2-2.1,-.9-1.4,2z"/><path fill="#d56200" d="M493.5,84l1.2,-.6-2.2,-.8-1.3,.6z"/><path fill="#d05e00" d="M501.8,83.7l1.3,-.5-2.3,-.8-1.3,.5z"/><path fill="#00f845" d="M392.8,128.8l1.5,-2.4-2,-.9-1.4,2.3z"/><path fill="#0022e2" d="M360.2,167.1l1.4,-3-1.9,-1.1-1.4,3z"/><path fill="#e18000" d="M472,86.8l1.3,-1-2.2,-.8-1.3,1z"/><path fill="#00e0fa" d="M374.1,148.9l1.4,-2.7-1.9,-1-1.4,2.7z"/><path fill="#e9b100" d="M453.9,91.6l1.4,-1.3-2.2,-.8-1.3,1.2z"/><path fill="#8cf400" d="M419.9,107.8l1.4,-1.8-2,-.9-1.4,1.8z"/><path fill="#1bf600" d="M403.9,119.3l1.5,-2.2-2.1,-.9-1.4,2.2z"/><path fill="#00f986" d="M386.6,135.2l1.4,-2.5-2,-1-1.4,2.5z"/><path fill="#00f9ca" d="M380.3,141.9l1.5,-2.6-2,-1-1.4,2.6z"/><path fill="#c36000" d="M521.9,84.7l1.3,-.3-2.4,-.7-1.2,.2z"/><path fill="#ebc400" d="M449.1,93.4l1.3,-1.4-2.1,-.8-1.4,1.4z"/><path fill="#a8f200" d="M424.8,105l1.4,-1.8-2.1,-.8-1.4,1.7z"/><path fill="#dd7200" d="M480.3,85.5l1.3,-.8-2.2,-.8-1.3,.8z"/><path fill="#edd800" d="M444.2,95.4l1.4,-1.4-2.1,-.9-1.4,1.5z"/><path fill="#e48c00" d="M467.1,88l1.3,-1-2.1,-.8-1.4,1z"/><path fill="#c2f100" d="M429.6,102.4l1.4,-1.7-2.1,-.9-1.4,1.7z"/><path fill="#0074f1" d="M366.4,159.2l1.5,-2.9-2,-1-1.4,2.9z"/><path fill="#ee0" d="M439.3,97.6l1.4,-1.5-2.1,-.9-1.4,1.5z"/><path fill="#d9f000" d="M434.5,99.9l1.4,-1.6-2.1,-.9-1.4,1.6z"/><path fill="#c95d00" d="M513.6,84.1l1.3,-.3-2.3,-.8-1.3,.4z"/><path fill="#3ef600" d="M408.8,116l1.4,-2.1-2,-.9-1.4,2z"/><path fill="#00f71e" d="M397.7,125.1l1.4,-2.3-2,-.9-1.4,2.2z"/><path fill="#d86800" d="M488.7,84.6l1.2,-.7-2.2,-.8-1.3,.8z"/><path fill="#ce5d00" d="M505.3,83.9l1.3,-.4-2.3,-.8-1.2,.5z"/><path fill="#d46100" d="M497,84.1l1.3,-.6-2.3,-.8-1.3,.7z"/><path fill="#00c7fa" d="M372.7,151.7l1.4,-2.8-1.9,-1-1.5,2.8z"/><path fill="#e69a00" d="M462.3,89.5l1.3,-1.2-2.1,-.8-1.4,1.2z"/><path fill="#00f85b" d="M391.4,131.2l1.4,-2.4-1.9,-1-1.5,2.4z"/><path fill="#c16200" d="M525.5,85.2l1.2,-.2-2.3,-.8-1.2,.2z"/><path fill="#5ef500" d="M413.6,112.8l1.5,-2-2.1,-.9-1.4,2z"/><path fill="#e07c00" d="M475.5,86.6l1.3,-1-2.2,-.8-1.3,1z"/><path fill="#00f9e3" d="M378.9,144.5l1.4,-2.6-1.9,-1-1.4,2.6z"/><path fill="#00f99d" d="M385.2,137.7l1.4,-2.5-2,-1-1.4,2.5z"/><path fill="#08f700" d="M402.5,121.5l1.4,-2.2-2,-.9-1.4,2.2z"/><path fill="#0058ec" d="M365,162.1l1.4,-2.9-1.9,-1-1.4,2.9z"/><path fill="#e8aa00" d="M457.4,91.1l1.4,-1.2-2.2,-.8-1.3,1.2z"/><path fill="#7df400" d="M418.5,109.7l1.4,-1.9-2,-.9-1.4,1.9z"/><path fill="#c75e00" d="M517.2,84.5l1.2,-.3-2.3,-.7-1.2,.3z"/><path fill="#db6f00" d="M483.8,85.5l1.3,-.9-2.2,-.7-1.3,.8z"/><path fill="#eabc00" d="M452.6,92.9l1.3,-1.3-2.1,-.9-1.4,1.3z"/><path fill="#e28700" d="M470.6,87.8l1.4,-1-2.2,-.8-1.4,1z"/><path fill="#99f300" d="M423.4,106.8l1.4,-1.8-2.1,-.9-1.4,1.9z"/><path fill="#00f832" d="M396.3,127.4l1.4,-2.3-2,-1-1.4,2.3z"/><path fill="#00acfa" d="M371.2,154.5l1.5,-2.8-2,-1-1.4,2.8z"/><path fill="#cc5d00" d="M508.9,84.2l1.2,-.4-2.3,-.8-1.2,.5z"/><path fill="#d76500" d="M492.2,84.7l1.3,-.7-2.3,-.8-1.3,.7z"/><path fill="#2bf600" d="M407.4,118.1l1.4,-2.1-2,-1-1.4,2.1z"/><path fill="#eccf00" d="M447.7,94.8l1.4,-1.4-2.2,-.8-1.3,1.4z"/><path fill="#d25f00" d="M500.5,84.3l1.3,-.6-2.3,-.8-1.2,.6z"/><path fill="#b4f200" d="M428.2,104.1l1.4,-1.7-2.1,-.9-1.3,1.7z"/><path fill="#eee400" d="M442.8,96.9l1.4,-1.5-2.1,-.8-1.4,1.5z"/><path fill="#cdf000" d="M433.1,101.6l1.4,-1.7-2.1,-.9-1.4,1.7z"/><path fill="#00f872" d="M390,133.6l1.4,-2.4-2,-1-1.4,2.5z"/><path fill="#00f6f9" d="M377.5,147.2l1.4,-2.7-1.9,-1-1.5,2.7z"/><path fill="#e3ef00" d="M438,99.1l1.3,-1.5-2.1,-.9-1.3,1.6z"/><path fill="#003ce6" d="M363.6,165.1l1.4,-3-1.9,-1-1.5,3z"/><path fill="#00f9b5" d="M383.7,140.2l1.5,-2.5-2,-1-1.4,2.6z"/><path fill="#e59400" d="M465.8,89.2l1.3,-1.2-2.2,-.8-1.3,1.1z"/><path fill="#de7700" d="M479,86.4l1.3,-.9-2.2,-.8-1.3,.9z"/><path fill="#4df500" d="M412.2,114.8l1.4,-2-2,-.9-1.4,2z"/><path fill="#c55f00" d="M520.7,84.9l1.2,-.2-2.3,-.8-1.2,.3z"/><path fill="#00f70d" d="M401.1,123.7l1.4,-2.2-2,-.9-1.4,2.2z"/><path fill="#008ff6" d="M369.8,157.4l1.4,-2.9-1.9,-1-1.4,2.8z"/><path fill="#e7a300" d="M460.9,90.7l1.4,-1.2-2.2,-.8-1.3,1.2z"/><path fill="#da6c00" d="M487.4,85.4l1.3,-.8-2.3,-.7-1.3,.7z"/><path fill="#ca5e00" d="M512.4,84.5l1.2,-.4-2.3,-.7-1.2,.4z"/><path fill="#6cf400" d="M417.1,111.7l1.4,-2-2,-.9-1.4,2z"/><path fill="#d56300" d="M495.7,84.8l1.3,-.7-2.3,-.7-1.2,.6z"/><path fill="#00f848" d="M394.8,129.8l1.5,-2.4-2,-1-1.5,2.4z"/><path fill="#0021e1" d="M362.1,168.1l1.5,-3-2,-1-1.4,3z"/><path fill="#d05f00" d="M504.1,84.5l1.2,-.6-2.2,-.7-1.3,.5z"/><path fill="#e18200" d="M474.2,87.6l1.3,-1-2.2,-.8-1.3,1z"/><path fill="#00ddf9" d="M376,149.9l1.5,-2.7-2,-1-1.4,2.7z"/><path fill="#e9b400" d="M456.1,92.4l1.3,-1.3-2.1,-.8-1.4,1.3z"/><path fill="#18f600" d="M406,120.2l1.4,-2.1-2,-1-1.5,2.2z"/><path fill="#8af300" d="M422,108.7l1.4,-1.9-2.1,-.8-1.4,1.8z"/><path fill="#00f888" d="M388.6,136.1l1.4,-2.5-2,-.9-1.4,2.5z"/><path fill="#00f9cd" d="M382.3,142.9l1.4,-2.7-1.9,-.9-1.5,2.6z"/><path fill="#c36100" d="M524.3,85.4l1.2,-.2-2.3,-.8-1.3,.3z"/><path fill="#ebc600" d="M451.2,94.2l1.4,-1.3-2.2,-.9-1.3,1.4z"/><path fill="#a5f200" d="M426.8,105.9l1.4,-1.8-2,-.9-1.4,1.8z"/><path fill="#dd7400" d="M482.5,86.3l1.3,-.8-2.2,-.8-1.3,.8z"/><path fill="#eddb00" d="M446.3,96.3l1.4,-1.5-2.1,-.8-1.4,1.4z"/><path fill="#0071f0" d="M368.4,160.2l1.4,-2.8-1.9,-1.1-1.5,2.9z"/><path fill="#bff100" d="M431.7,103.3l1.4,-1.7-2.1,-.9-1.4,1.7z"/><path fill="#e38e00" d="M469.3,88.9l1.3,-1.1-2.2,-.8-1.3,1z"/><path fill="#ebee00" d="M441.5,98.4l1.3,-1.5-2.1,-.8-1.4,1.5z"/><path fill="#d6f000" d="M436.6,100.8l1.4,-1.7-2.1,-.8-1.4,1.6z"/><path fill="#3bf600" d="M410.8,116.9l1.4,-2.1-2,-.9-1.4,2.1z"/><path fill="#00f721" d="M399.7,126l1.4,-2.3-2,-.9-1.4,2.3z"/><path fill="#c95e00" d="M515.9,84.9l1.3,-.4-2.3,-.7-1.3,.3z"/><path fill="#d86900" d="M490.9,85.4l1.3,-.7-2.3,-.8-1.2,.7z"/><path fill="#ce5f00" d="M507.6,84.7l1.3,-.5-2.3,-.7-1.3,.4z"/><path fill="#00c4f9" d="M374.6,152.7l1.4,-2.8-1.9,-1-1.4,2.8z"/><path fill="#d36300" d="M499.3,84.9l1.2,-.6-2.2,-.8-1.3,.6z"/><path fill="#e69c00" d="M464.4,90.3l1.4,-1.1-2.2,-.9-1.3,1.2z"/><path fill="#00f85e" d="M393.4,132.2l1.4,-2.4-2,-1-1.4,2.4z"/><path fill="#5cf500" d="M415.7,113.7l1.4,-2-2,-.9-1.5,2z"/><path fill="#00f9e6" d="M380.9,145.5l1.4,-2.6-2,-1-1.4,2.6z"/><path fill="#df7d00" d="M477.7,87.4l1.3,-1-2.2,-.8-1.3,1z"/><path fill="#00f9a0" d="M387.1,138.7l1.5,-2.6-2,-.9-1.4,2.5z"/><path fill="#05f700" d="M404.5,122.4l1.5,-2.2-2.1,-.9-1.4,2.2z"/><path fill="#0055eb" d="M366.9,163.2l1.5,-3-2,-1-1.4,2.9z"/><path fill="#e8ac00" d="M459.6,91.9l1.3,-1.2-2.1,-.8-1.4,1.2z"/><path fill="#7af400" d="M420.6,110.6l1.4,-1.9-2.1,-.9-1.4,1.9z"/><path fill="#c75f00" d="M519.5,85.2l1.2,-.3-2.3,-.7-1.2,.3z"/><path fill="#db7100" d="M486.1,86.2l1.3,-.8-2.3,-.8-1.3,.9z"/><path fill="#eabe00" d="M454.7,93.7l1.4,-1.3-2.2,-.8-1.3,1.3z"/><path fill="#96f300" d="M425.4,107.7l1.4,-1.8-2,-.9-1.4,1.8z"/><path fill="#e28900" d="M472.8,88.6l1.4,-1-2.2,-.8-1.4,1z"/><path fill="#00f735" d="M398.3,128.3l1.4,-2.3-2,-.9-1.4,2.3z"/><path fill="#00a9fa" d="M373.2,155.5l1.4,-2.8-1.9,-1-1.5,2.8z"/><path fill="#cc5e00" d="M511.2,85l1.2,-.5-2.3,-.7-1.2,.4z"/><path fill="#d66700" d="M494.4,85.5l1.3,-.7-2.2,-.8-1.3,.7z"/><path fill="#28f600" d="M409.4,119l1.4,-2.1-2,-.9-1.4,2.1z"/><path fill="#ecd100" d="M449.8,95.6l1.4,-1.4-2.1,-.8-1.4,1.4z"/><path fill="#b1f200" d="M430.3,105l1.4,-1.7-2.1,-.9-1.4,1.7z"/><path fill="#d16100" d="M502.8,85l1.3,-.5-2.3,-.8-1.3,.6z"/><path fill="#ede700" d="M445,97.7l1.3,-1.4-2.1,-.9-1.4,1.5z"/><path fill="#caf000" d="M435.2,102.4l1.4,-1.6-2.1,-.9-1.4,1.7z"/><path fill="#00f874" d="M392,134.6l1.4,-2.4-2,-1-1.4,2.4z"/><path fill="#00f4f9" d="M379.4,148.2l1.5,-2.7-2,-1-1.4,2.7z"/><path fill="#e0ef00" d="M440.1,100l1.4,-1.6-2.2,-.8-1.3,1.5z"/><path fill="#0039e6" d="M365.5,166.2l1.4,-3-1.9,-1.1-1.4,3z"/><path fill="#00f9b7" d="M385.7,141.2l1.4,-2.5-1.9,-1-1.5,2.5z"/><path fill="#e49600" d="M468,90l1.3,-1.1-2.2,-.9-1.3,1.2z"/><path fill="#de7900" d="M481.2,87.2l1.3,-.9-2.2,-.8-1.3,.9z"/><path fill="#4af500" d="M414.3,115.7l1.4,-2-2.1,-.9-1.4,2z"/><path fill="#c56000" d="M523,85.7l1.3,-.3-2.4,-.7-1.2,.2z"/><path fill="#00f70f" d="M403.1,124.7l1.4,-2.3-2,-.9-1.4,2.2z"/><path fill="#008bf5" d="M371.7,158.4l1.5,-2.9-2,-1-1.4,2.9z"/><path fill="#e7a500" d="M463.1,91.5l1.3,-1.2-2.1,-.8-1.4,1.2z"/><path fill="#da6d00" d="M489.6,86.2l1.3,-.8-2.2,-.8-1.3,.8z"/><path fill="#6af400" d="M419.2,112.6l1.4,-2-2.1,-.9-1.4,2z"/><path fill="#ca5e00" d="M514.7,85.3l1.2,-.4-2.3,-.8-1.2,.4z"/><path fill="#00f84b" d="M396.8,130.7l1.5,-2.4-2,-.9-1.5,2.4z"/><path fill="#001ee0" d="M364,169.2l1.5,-3-1.9,-1.1-1.5,3z"/><path fill="#d56500" d="M498,85.5l1.3,-.6-2.3,-.8-1.3,.7z"/><path fill="#d06000" d="M506.3,85.2l1.3,-.5-2.3,-.8-1.2,.6z"/><path fill="#e18300" d="M476.4,88.3l1.3,-.9-2.2,-.8-1.3,1z"/><path fill="#00dbf9" d="M378,150.9l1.4,-2.7-1.9,-1-1.5,2.7z"/><path fill="#e9b600" d="M458.2,93.2l1.4,-1.3-2.2,-.8-1.3,1.3z"/><path fill="#16f600" d="M408,121.1l1.4,-2.1-2,-.9-1.4,2.1z"/><path fill="#87f300" d="M424,109.6l1.4,-1.9-2,-.9-1.4,1.9z"/><path fill="#00f88b" d="M390.6,137.1l1.4,-2.5-2,-1-1.4,2.5z"/><path fill="#00f9cf" d="M384.3,143.8l1.4,-2.6-2,-1-1.4,2.7z"/><path fill="#ebc900" d="M453.3,95.1l1.4,-1.4-2.1,-.8-1.4,1.3z"/><path fill="#a3f200" d="M428.9,106.8l1.4,-1.8-2.1,-.9-1.4,1.8z"/><path fill="#ecdd00" d="M448.5,97.1l1.3,-1.5-2.1,-.8-1.4,1.5z"/><path fill="#dc7600" d="M484.8,87.1l1.3,-.9-2.3,-.7-1.3,.8z"/><path fill="#006ff0" d="M370.3,161.3l1.4,-2.9-1.9,-1-1.4,2.8z"/><path fill="#bdf100" d="M433.8,104.1l1.4,-1.7-2.1,-.8-1.4,1.7z"/><path fill="#e39000" d="M471.5,89.7l1.3,-1.1-2.2,-.8-1.3,1.1z"/><path fill="#e9ee00" d="M443.6,99.3l1.4,-1.6-2.2,-.8-1.3,1.5z"/><path fill="#d4f000" d="M438.7,101.6l1.4,-1.6-2.1,-.9-1.4,1.7z"/><path fill="#39f500" d="M412.9,117.8l1.4,-2.1-2.1,-.9-1.4,2.1z"/><path fill="#00f723" d="M401.7,126.9l1.4,-2.2-2,-1-1.4,2.3z"/><path fill="#c85f00" d="M518.3,85.6l1.2,-.4-2.3,-.7-1.3,.4z"/><path fill="#d86b00" d="M493.1,86.2l1.3,-.7-2.2,-.8-1.3,.7z"/><path fill="#00c1f9" d="M376.6,153.7l1.4,-2.8-2,-1-1.4,2.8z"/><path fill="#ce6000" d="M509.9,85.4l1.3,-.4-2.3,-.8-1.3,.5z"/><path fill="#d36300" d="M501.5,85.6l1.3,-.6-2.3,-.7-1.2,.6z"/><path fill="#00f860" d="M395.4,133.1l1.4,-2.4-2,-.9-1.4,2.4z"/><path fill="#e59e00" d="M466.6,91.1l1.4,-1.1-2.2,-.8-1.4,1.1z"/><path fill="#59f400" d="M417.8,114.6l1.4,-2-2.1,-.9-1.4,2z"/><path fill="#00f9e8" d="M382.8,146.5l1.5,-2.7-2,-.9-1.4,2.6z"/><path fill="#00f8a2" d="M389.1,139.6l1.5,-2.5-2,-1-1.5,2.6z"/><path fill="#df7f00" d="M479.9,88.2l1.3,-1-2.2,-.8-1.3,1z"/><path fill="#03f600" d="M406.6,123.3l1.4,-2.2-2,-.9-1.5,2.2z"/><path fill="#0052eb" d="M368.9,164.2l1.4,-2.9-1.9,-1.1-1.5,3z"/><path fill="#e8ad00" d="M461.8,92.7l1.3,-1.2-2.2,-.8-1.3,1.2z"/><path fill="#77f400" d="M422.6,111.5l1.4,-1.9-2,-.9-1.4,1.9z"/><path fill="#c66000" d="M521.8,86l1.2,-.3-2.3,-.8-1.2,.3z"/><path fill="#db7200" d="M488.3,87l1.3,-.8-2.2,-.8-1.3,.8z"/><path fill="#eabf00" d="M456.9,94.5l1.3,-1.3-2.1,-.8-1.4,1.3z"/><path fill="#94f300" d="M427.5,108.6l1.4,-1.8-2.1,-.9-1.4,1.8z"/><path fill="#e28a00" d="M475,89.4l1.4,-1.1-2.2,-.7-1.4,1z"/><path fill="#00f738" d="M400.3,129.3l1.4,-2.4-2,-.9-1.4,2.3z"/><path fill="#00a6f9" d="M375.1,156.5l1.5,-2.8-2,-1-1.4,2.8z"/><path fill="#27f600" d="M411.5,119.9l1.4,-2.1-2.1,-.9-1.4,2.1z"/><path fill="#cc6000" d="M513.5,85.7l1.2,-.4-2.3,-.8-1.2,.5z"/><path fill="#d66800" d="M496.7,86.2l1.3,-.7-2.3,-.7-1.3,.7z"/><path fill="#ebd300" d="M452,96.5l1.3,-1.4-2.1,-.9-1.4,1.4z"/><path fill="#aff100" d="M432.4,105.9l1.4,-1.8-2.1,-.8-1.4,1.7z"/><path fill="#d16200" d="M505.1,85.8l1.2,-.6-2.2,-.7-1.3,.5z"/><path fill="#ede800" d="M447.1,98.6l1.4,-1.5-2.2,-.8-1.3,1.4z"/><path fill="#c8f000" d="M437.3,103.3l1.4,-1.7-2.1,-.8-1.4,1.6z"/><path fill="#00f877" d="M394,135.6l1.4,-2.5-2,-.9-1.4,2.4z"/><path fill="#00f1f9" d="M381.4,149.2l1.4,-2.7-1.9,-1-1.5,2.7z"/><path fill="#deef00" d="M442.2,100.9l1.4,-1.6-2.1,-.9-1.4,1.6z"/><path fill="#0037e5" d="M367.4,167.2l1.5,-3-2,-1-1.4,3z"/><path fill="#00f9b9" d="M387.7,142.2l1.4,-2.6-2,-.9-1.4,2.5z"/><path fill="#e49700" d="M470.2,90.8l1.3,-1.1-2.2,-.8-1.3,1.1z"/><path fill="#de7b00" d="M483.4,88l1.4,-.9-2.3,-.8-1.3,.9z"/><path fill="#48f500" d="M416.3,116.6l1.5,-2-2.1,-.9-1.4,2z"/><path fill="#00f711" d="M405.2,125.6l1.4,-2.3-2.1,-.9-1.4,2.3z"/><path fill="#0089f4" d="M373.7,159.4l1.4,-2.9-1.9,-1-1.5,2.9z"/><path fill="#e6a600" d="M465.3,92.3l1.3,-1.2-2.2,-.8-1.3,1.2z"/><path fill="#d96f00" d="M491.8,87l1.3,-.8-2.2,-.8-1.3,.8z"/><path fill="#67f400" d="M421.2,113.5l1.4,-2-2,-.9-1.4,2z"/><path fill="#ca6000" d="M517,86l1.3,-.4-2.4,-.7-1.2,.4z"/><path fill="#00f74d" d="M398.9,131.6l1.4,-2.3-2,-1-1.5,2.4z"/><path fill="#001be0" d="M366,170.2l1.4,-3-1.9,-1-1.5,3z"/><path fill="#d46600" d="M500.2,86.3l1.3,-.7-2.2,-.7-1.3,.6z"/><path fill="#00d8f9" d="M380,151.9l1.4,-2.7-2,-1-1.4,2.7z"/><path fill="#e08500" d="M478.6,89.1l1.3,-.9-2.2,-.8-1.3,.9z"/><path fill="#cf6200" d="M508.6,86l1.3,-.6-2.3,-.7-1.3,.5z"/><path fill="#e9b700" d="M460.4,94l1.4,-1.3-2.2,-.8-1.4,1.3z"/><path fill="#13f600" d="M410,122.1l1.5,-2.2-2.1,-.9-1.4,2.1z"/><path fill="#85f300" d="M426.1,110.5l1.4,-1.9-2.1,-.9-1.4,1.9z"/><path fill="#00f88d" d="M392.6,138.1l1.4,-2.5-2,-1-1.4,2.5z"/><path fill="#00f9d2" d="M386.3,144.8l1.4,-2.6-2,-1-1.4,2.6z"/><path fill="#eaca00" d="M455.5,95.9l1.4,-1.4-2.2,-.8-1.4,1.4z"/><path fill="#a0f200" d="M431,107.7l1.4,-1.8-2.1,-.9-1.4,1.8z"/><path fill="#ecde00" d="M450.6,97.9l1.4,-1.4-2.2,-.9-1.3,1.5z"/><path fill="#006cef" d="M372.2,162.3l1.5,-2.9-2,-1-1.4,2.9z"/><path fill="#baf100" d="M435.9,105l1.4,-1.7-2.1,-.9-1.4,1.7z"/><path fill="#dc7600" d="M487,87.9l1.3,-.9-2.2,-.8-1.3,.9z"/><path fill="#e39200" d="M473.7,90.4l1.3,-1-2.2,-.8-1.3,1.1z"/><path fill="#e6ee00" d="M445.7,100.1l1.4,-1.5-2.1,-.9-1.4,1.6z"/><path fill="#d1ef00" d="M440.8,102.5l1.4,-1.6-2.1,-.9-1.4,1.6z"/><path fill="#36f500" d="M414.9,118.7l1.4,-2.1-2,-.9-1.4,2.1z"/><path fill="#00f726" d="M403.7,127.9l1.5,-2.3-2.1,-.9-1.4,2.2z"/><path fill="#c86000" d="M520.6,86.3l1.2,-.3-2.3,-.8-1.2,.4z"/><path fill="#d86c00" d="M495.4,86.9l1.3,-.7-2.3,-.7-1.3,.7z"/><path fill="#00bef9" d="M378.5,154.7l1.5,-2.8-2,-1-1.4,2.8z"/><path fill="#cd6100" d="M512.2,86.2l1.3,-.5-2.3,-.7-1.3,.4z"/><path fill="#00f863" d="M397.4,134.1l1.5,-2.5-2.1,-.9-1.4,2.4z"/><path fill="#d36500" d="M503.8,86.4l1.3,-.6-2.3,-.8-1.3,.6z"/><path fill="#e5a000" d="M468.8,91.9l1.4,-1.1-2.2,-.8-1.4,1.1z"/><path fill="#57f400" d="M419.8,115.5l1.4,-2-2,-.9-1.4,2z"/><path fill="#00f9ea" d="M384.8,147.5l1.5,-2.7-2,-1-1.5,2.7z"/><path fill="#00f8a5" d="M391.1,140.6l1.5,-2.5-2,-1-1.5,2.5z"/><path fill="#df8100" d="M482.1,88.9l1.3,-.9-2.2,-.8-1.3,1z"/><path fill="#00f600" d="M408.6,124.3l1.4,-2.2-2,-1-1.4,2.2z"/><path fill="#0050ea" d="M370.8,165.2l1.4,-2.9-1.9,-1-1.4,2.9z"/><path fill="#e7b000" d="M463.9,93.6l1.4,-1.3-2.2,-.8-1.3,1.2z"/><path fill="#75f300" d="M424.7,112.4l1.4,-1.9-2.1,-.9-1.4,1.9z"/><path fill="#db7300" d="M490.5,87.8l1.3,-.8-2.2,-.8-1.3,.8z"/><path fill="#e9c100" d="M459,95.3l1.4,-1.3-2.2,-.8-1.3,1.3z"/><path fill="#92f200" d="M429.6,109.5l1.4,-1.8-2.1,-.9-1.4,1.8z"/><path fill="#00f73a" d="M402.3,130.2l1.4,-2.3-2,-1-1.4,2.4z"/><path fill="#00a4f9" d="M377.1,157.5l1.4,-2.8-1.9,-1-1.5,2.8z"/><path fill="#e28c00" d="M477.2,90.2l1.4,-1.1-2.2,-.8-1.4,1.1z"/><path fill="#24f500" d="M413.5,120.8l1.4,-2.1-2,-.9-1.4,2.1z"/><path fill="#ebd500" d="M454.1,97.3l1.4,-1.4-2.2,-.8-1.3,1.4z"/><path fill="#cc6100" d="M515.8,86.4l1.2,-.4-2.3,-.7-1.2,.4z"/><path fill="#d66a00" d="M499,87l1.2,-.7-2.2,-.8-1.3,.7z"/><path fill="#acf100" d="M434.5,106.7l1.4,-1.7-2.1,-.9-1.4,1.8z"/><path fill="#d16300" d="M507.4,86.5l1.2,-.5-2.3,-.8-1.2,.6z"/><path fill="#edea00" d="M449.2,99.4l1.4,-1.5-2.1,-.8-1.4,1.5z"/><path fill="#00f878" d="M396,136.5l1.4,-2.4-2,-1-1.4,2.5z"/><path fill="#00eef9" d="M383.4,150.2l1.4,-2.7-2,-1-1.4,2.7z"/><path fill="#c5f000" d="M439.4,104.1l1.4,-1.6-2.1,-.9-1.4,1.7z"/><path fill="#dbee00" d="M444.3,101.7l1.4,-1.6-2.1,-.8-1.4,1.6z"/><path fill="#0034e5" d="M369.4,168.2l1.4,-3-1.9,-1-1.5,3z"/><path fill="#00f8bc" d="M389.7,143.2l1.4,-2.6-2,-1-1.4,2.6z"/><path fill="#e49900" d="M472.4,91.6l1.3,-1.2-2.2,-.7-1.3,1.1z"/><path fill="#45f500" d="M418.4,117.5l1.4,-2-2,-.9-1.5,2z"/><path fill="#dd7c00" d="M485.7,88.8l1.3,-.9-2.2,-.8-1.4,.9z"/><path fill="#00f613" d="M407.2,126.5l1.4,-2.2-2,-1-1.4,2.3z"/><path fill="#0086f4" d="M375.7,160.4l1.4,-2.9-2,-1-1.4,2.9z"/><path fill="#e6a800" d="M467.5,93.1l1.3,-1.2-2.2,-.8-1.3,1.2z"/><path fill="#65f400" d="M423.3,114.4l1.4,-2-2.1,-.9-1.4,2z"/><path fill="#d97000" d="M494.1,87.7l1.3,-.8-2.3,-.7-1.3,.8z"/><path fill="#ca6000" d="M519.3,86.7l1.3,-.4-2.3,-.7-1.3,.4z"/><path fill="#00f750" d="M400.9,132.6l1.4,-2.4-2,-.9-1.4,2.3z"/><path fill="#0019df" d="M367.9,171.3l1.5,-3.1-2,-1-1.4,3z"/><path fill="#00d5f9" d="M381.9,152.9l1.5,-2.7-2,-1-1.4,2.7z"/><path fill="#d46700" d="M502.5,87l1.3,-.6-2.3,-.8-1.3,.7z"/><path fill="#e08600" d="M480.8,89.9l1.3,-1-2.2,-.7-1.3,.9z"/><path fill="#cf6200" d="M510.9,86.7l1.3,-.5-2.3,-.8-1.3,.6z"/><path fill="#e8b900" d="M462.6,94.8l1.3,-1.2-2.1,-.9-1.4,1.3z"/><path fill="#11f600" d="M412.1,123l1.4,-2.2-2,-.9-1.5,2.2z"/><path fill="#00f890" d="M394.6,139l1.4,-2.5-2,-.9-1.4,2.5z"/><path fill="#82f300" d="M428.2,111.4l1.4,-1.9-2.1,-.9-1.4,1.9z"/><path fill="#00f9d4" d="M388.3,145.8l1.4,-2.6-2,-1-1.4,2.6z"/><path fill="#eacc00" d="M457.7,96.7l1.3,-1.4-2.1,-.8-1.4,1.4z"/><path fill="#9ef200" d="M433.1,108.5l1.4,-1.8-2.1,-.8-1.4,1.8z"/><path fill="#0069ef" d="M374.2,163.3l1.5,-2.9-2,-1-1.5,2.9z"/><path fill="#ece000" d="M452.8,98.8l1.3,-1.5-2.1,-.8-1.4,1.4z"/><path fill="#b8f000" d="M438,105.8l1.4,-1.7-2.1,-.8-1.4,1.7z"/><path fill="#dc7800" d="M489.2,88.6l1.3,-.8-2.2,-.8-1.3,.9z"/><path fill="#e39300" d="M475.9,91.2l1.3,-1-2.2,-.8-1.3,1z"/><path fill="#e4ee00" d="M447.9,101l1.3,-1.6-2.1,-.8-1.4,1.5z"/><path fill="#cfef00" d="M443,103.3l1.3,-1.6-2.1,-.8-1.4,1.6z"/><path fill="#00f728" d="M405.8,128.8l1.4,-2.3-2,-.9-1.5,2.3z"/><path fill="#34f500" d="M417,119.6l1.4,-2.1-2.1,-.9-1.4,2.1z"/><path fill="#d76d00" d="M497.7,87.7l1.3,-.7-2.3,-.8-1.3,.7z"/><path fill="#00bcf9" d="M380.5,155.7l1.4,-2.8-1.9,-1-1.5,2.8z"/><path fill="#00f765" d="M399.5,135l1.4,-2.4-2,-1-1.5,2.5z"/><path fill="#cd6200" d="M514.5,86.9l1.3,-.5-2.3,-.7-1.3,.5z"/><path fill="#e5a200" d="M471,92.7l1.4,-1.1-2.2,-.8-1.4,1.1z"/><path fill="#d26500" d="M506.1,87.1l1.3,-.6-2.3,-.7-1.3,.6z"/><path fill="#54f400" d="M421.9,116.4l1.4,-2-2.1,-.9-1.4,2z"/><path fill="#00f9ed" d="M386.8,148.5l1.5,-2.7-2,-1-1.5,2.7z"/><path fill="#00f8a6" d="M393.1,141.6l1.5,-2.6-2,-.9-1.5,2.5z"/><path fill="#df8200" d="M484.4,89.7l1.3,-.9-2.3,-.8-1.3,.9z"/><path fill="#00f602" d="M410.7,125.2l1.4,-2.2-2.1,-.9-1.4,2.2z"/><path fill="#004de9" d="M372.8,166.3l1.4,-3-2,-1-1.4,2.9z"/><path fill="#e7b200" d="M466.1,94.4l1.4,-1.3-2.2,-.8-1.4,1.3z"/><path fill="#73f300" d="M426.8,113.3l1.4,-1.9-2.1,-.9-1.4,1.9z"/><path fill="#da7400" d="M492.8,88.5l1.3,-.8-2.3,-.7-1.3,.8z"/><path fill="#e9c300" d="M461.2,96.2l1.4,-1.4-2.2,-.8-1.4,1.3z"/><path fill="#8ff200" d="M431.7,110.4l1.4,-1.9-2.1,-.8-1.4,1.8z"/><path fill="#00f73d" d="M404.4,131.2l1.4,-2.4-2.1,-.9-1.4,2.3z"/><path fill="#00a1f8" d="M379.1,158.6l1.4,-2.9-2,-1-1.4,2.8z"/><path fill="#e18d00" d="M479.5,91l1.3,-1.1-2.2,-.8-1.4,1.1z"/><path fill="#22f500" d="M415.6,121.7l1.4,-2.1-2.1,-.9-1.4,2.1z"/><path fill="#ebd700" d="M456.3,98.1l1.4,-1.4-2.2,-.8-1.4,1.4z"/><path fill="#aaf100" d="M436.7,107.6l1.3,-1.8-2.1,-.8-1.4,1.7z"/><path fill="#d66a00" d="M501.3,87.7l1.2,-.7-2.3,-.7-1.2,.7z"/><path fill="#cb6100" d="M518.1,87.2l1.2,-.5-2.3,-.7-1.2,.4z"/><path fill="#00f87b" d="M398,137.5l1.5,-2.5-2.1,-.9-1.4,2.4z"/><path fill="#00ecf9" d="M385.4,151.2l1.4,-2.7-2,-1-1.4,2.7z"/><path fill="#edec00" d="M451.4,100.3l1.4,-1.5-2.2,-.9-1.4,1.5z"/><path fill="#c3f000" d="M441.6,105l1.4,-1.7-2.2,-.8-1.4,1.6z"/><path fill="#d16500" d="M509.7,87.3l1.2,-.6-2.3,-.7-1.2,.5z"/><path fill="#d9ee00" d="M446.5,102.5l1.4,-1.5-2.2,-.9-1.4,1.6z"/><path fill="#0032e4" d="M371.3,169.3l1.5,-3-2,-1.1-1.4,3z"/><path fill="#00f8be" d="M391.7,144.1l1.4,-2.5-2,-1-1.4,2.6z"/><path fill="#e49a00" d="M474.6,92.4l1.3,-1.2-2.2,-.8-1.3,1.2z"/><path fill="#43f400" d="M420.5,118.4l1.4,-2-2.1,-.9-1.4,2z"/><path fill="#dd7e00" d="M487.9,89.5l1.3,-.9-2.2,-.7-1.3,.9z"/><path fill="#00f616" d="M409.3,127.4l1.4,-2.2-2.1,-.9-1.4,2.2z"/><path fill="#0084f3" d="M377.6,161.4l1.5,-2.8-2,-1.1-1.4,2.9z"/><path fill="#e6aa00" d="M469.7,93.9l1.3,-1.2-2.2,-.8-1.3,1.2z"/><path fill="#63f400" d="M425.4,115.2l1.4,-1.9-2.1,-.9-1.4,2z"/><path fill="#d97100" d="M496.4,88.5l1.3,-.8-2.3,-.8-1.3,.8z"/><path fill="#00f751" d="M402.9,133.5l1.5,-2.3-2.1,-1-1.4,2.4z"/><path fill="#0017df" d="M369.9,172.3l1.4,-3-1.9,-1.1-1.5,3.1z"/><path fill="#00d3f9" d="M383.9,153.9l1.5,-2.7-2,-1-1.5,2.7z"/><path fill="#d46900" d="M504.8,87.8l1.3,-.7-2.3,-.7-1.3,.6z"/><path fill="#e08800" d="M483,90.7l1.4,-1-2.3,-.8-1.3,1z"/><path fill="#cf6400" d="M513.3,87.4l1.2,-.5-2.3,-.7-1.3,.5z"/><path fill="#e8bb00" d="M464.8,95.6l1.3,-1.2-2.2,-.8-1.3,1.2z"/><path fill="#0ef600" d="M414.2,123.9l1.4,-2.2-2.1,-.9-1.4,2.2z"/><path fill="#00f892" d="M396.6,140l1.4,-2.5-2,-1-1.4,2.5z"/><path fill="#80f300" d="M430.3,112.2l1.4,-1.8-2.1,-.9-1.4,1.9z"/><path fill="#00f8d6" d="M390.3,146.8l1.4,-2.7-2,-.9-1.4,2.6z"/><path fill="#eace00" d="M459.9,97.5l1.3,-1.3-2.2,-.9-1.3,1.4z"/><path fill="#9cf100" d="M435.3,109.4l1.4,-1.8-2.2,-.9-1.4,1.8z"/><path fill="#0067ee" d="M376.2,164.3l1.4,-2.9-1.9,-1-1.5,2.9z"/><path fill="#ece200" d="M454.9,99.6l1.4,-1.5-2.2,-.8-1.3,1.5z"/><path fill="#b6f000" d="M440.2,106.7l1.4,-1.7-2.2,-.9-1.4,1.7z"/><path fill="#dc7900" d="M491.5,89.4l1.3,-.9-2.3,-.7-1.3,.8z"/><path fill="#e29400" d="M478.1,92l1.4,-1-2.3,-.8-1.3,1z"/><path fill="#e2ed00" d="M450,101.8l1.4,-1.5-2.2,-.9-1.3,1.6z"/><path fill="#cdef00" d="M445.1,104.2l1.4,-1.7-2.2,-.8-1.3,1.6z"/><path fill="#00f72b" d="M407.8,129.7l1.5,-2.3-2.1,-.9-1.4,2.3z"/><path fill="#32f500" d="M419.1,120.5l1.4,-2.1-2.1,-.9-1.4,2.1z"/><path fill="#00b9f9" d="M382.5,156.7l1.4,-2.8-2,-1-1.4,2.8z"/><path fill="#d76e00" d="M500,88.5l1.3,-.8-2.3,-.7-1.3,.7z"/><path fill="#00f768" d="M401.5,136l1.4,-2.5-2,-.9-1.4,2.4z"/><path fill="#e5a200" d="M473.2,93.5l1.4,-1.1-2.2,-.8-1.4,1.1z"/><path fill="#cd6300" d="M516.9,87.7l1.2,-.5-2.3,-.8-1.3,.5z"/><path fill="#d26700" d="M508.4,87.9l1.3,-.6-2.3,-.8-1.3,.6z"/><path fill="#52f400" d="M424,117.2l1.4,-2-2.1,-.8-1.4,2z"/><path fill="#00f9ef" d="M388.8,149.4l1.5,-2.6-2,-1-1.5,2.7z"/><path fill="#00f8a9" d="M395.2,142.5l1.4,-2.5-2,-1-1.5,2.6z"/><path fill="#de8300" d="M486.6,90.5l1.3,-1-2.2,-.7-1.3,.9z"/><path fill="#00f605" d="M412.7,126.1l1.5,-2.2-2.1,-.9-1.4,2.2z"/><path fill="#004be9" d="M374.7,167.3l1.5,-3-2,-1-1.4,3z"/><path fill="#e7b200" d="M468.3,95.2l1.4,-1.3-2.2,-.8-1.4,1.3z"/><path fill="#70f300" d="M428.9,114.2l1.4,-2-2.1,-.8-1.4,1.9z"/><path fill="#da7600" d="M495.1,89.3l1.3,-.8-2.3,-.8-1.3,.8z"/><path fill="#e9c400" d="M463.4,97l1.4,-1.4-2.2,-.8-1.4,1.4z"/><path fill="#8df200" d="M433.9,111.2l1.4,-1.8-2.2,-.9-1.4,1.9z"/><path fill="#00f73f" d="M406.4,132.1l1.4,-2.4-2,-.9-1.4,2.4z"/><path fill="#009ef8" d="M381,159.6l1.5,-2.9-2,-1-1.4,2.9z"/><path fill="#e18f00" d="M481.7,91.7l1.3,-1-2.2,-.8-1.3,1.1z"/><path fill="#20f500" d="M417.7,122.6l1.4,-2.1-2.1,-.9-1.4,2.1z"/><path fill="#ebd800" d="M458.5,98.9l1.4,-1.4-2.2,-.8-1.4,1.4z"/><path fill="#a8f100" d="M438.8,108.5l1.4,-1.8-2.2,-.9-1.3,1.8z"/><path fill="#d56c00" d="M503.5,88.5l1.3,-.7-2.3,-.8-1.2,.7z"/><path fill="#00f77d" d="M400.1,138.4l1.4,-2.4-2,-1-1.5,2.5z"/><path fill="#00eaf9" d="M387.4,152.2l1.4,-2.8-2,-.9-1.4,2.7z"/><path fill="#ecec00" d="M453.6,101.1l1.3,-1.5-2.1,-.8-1.4,1.5z"/><path fill="#c1ef00" d="M443.7,105.8l1.4,-1.6-2.1,-.9-1.4,1.7z"/><path fill="#002fe3" d="M373.3,170.3l1.4,-3-1.9,-1-1.5,3z"/><path fill="#d06500" d="M512,88l1.3,-.6-2.4,-.7-1.2,.6z"/><path fill="#d7ee00" d="M448.6,103.4l1.4,-1.6-2.1,-.8-1.4,1.5z"/><path fill="#00f8c1" d="M393.7,145.1l1.5,-2.6-2.1,-.9-1.4,2.5z"/><path fill="#e39c00" d="M476.8,93.1l1.3,-1.1-2.2,-.8-1.3,1.2z"/><path fill="#41f400" d="M422.6,119.3l1.4,-2.1-2.1,-.8-1.4,2z"/><path fill="#dd7e00" d="M490.2,90.3l1.3,-.9-2.3,-.8-1.3,.9z"/><path fill="#00f618" d="M411.3,128.4l1.4,-2.3-2,-.9-1.4,2.2z"/><path fill="#0080f3" d="M379.6,162.4l1.4,-2.8-1.9,-1-1.5,2.8z"/><path fill="#e6ab00" d="M471.9,94.7l1.3,-1.2-2.2,-.8-1.3,1.2z"/><path fill="#60f300" d="M427.5,116.1l1.4,-1.9-2.1,-.9-1.4,1.9z"/><path fill="#d87300" d="M498.7,89.2l1.3,-.7-2.3,-.8-1.3,.8z"/><path fill="#00f754" d="M405,134.5l1.4,-2.4-2,-.9-1.5,2.3z"/><path fill="#0015de" d="M371.8,173.3l1.5,-3-2,-1-1.4,3z"/><path fill="#00d1f9" d="M385.9,154.9l1.5,-2.7-2,-1-1.5,2.7z"/><path fill="#e08a00" d="M485.3,91.5l1.3,-1-2.2,-.8-1.4,1z"/><path fill="#d46900" d="M507.1,88.5l1.3,-.6-2.3,-.8-1.3,.7z"/><path fill="#0df500" d="M416.2,124.8l1.5,-2.2-2.1,-.9-1.4,2.2z"/><path fill="#00f894" d="M398.6,140.9l1.5,-2.5-2.1,-.9-1.4,2.5z"/><path fill="#e8bc00" d="M467,96.5l1.3,-1.3-2.2,-.8-1.3,1.2z"/><path fill="#7ef200" d="M432.4,113.1l1.5,-1.9-2.2,-.8-1.4,1.8z"/><path fill="#ce6400" d="M515.6,88.2l1.3,-.5-2.4,-.8-1.2,.5z"/><path fill="#00f8d8" d="M392.3,147.8l1.4,-2.7-2,-1-1.4,2.7z"/><path fill="#eacf00" d="M462.1,98.3l1.3,-1.3-2.2,-.8-1.3,1.3z"/><path fill="#9af100" d="M437.4,110.2l1.4,-1.7-2.1,-.9-1.4,1.8z"/><path fill="#0065ed" d="M378.2,165.4l1.4,-3-2,-1-1.4,2.9z"/><path fill="#ece300" d="M457.1,100.4l1.4,-1.5-2.2,-.8-1.4,1.5z"/><path fill="#b4f000" d="M442.3,107.5l1.4,-1.7-2.1,-.8-1.4,1.7z"/><path fill="#db7b00" d="M493.8,90.2l1.3,-.9-2.3,-.8-1.3,.9z"/><path fill="#e0ed00" d="M452.2,102.6l1.4,-1.5-2.2,-.8-1.4,1.5z"/><path fill="#cbef00" d="M447.3,105l1.3,-1.6-2.1,-.9-1.4,1.7z"/><path fill="#e29600" d="M480.4,92.8l1.3,-1.1-2.2,-.7-1.4,1z"/><path fill="#00f62c" d="M409.9,130.7l1.4,-2.3-2,-1-1.5,2.3z"/><path fill="#2ff500" d="M421.2,121.4l1.4,-2.1-2.1,-.9-1.4,2.1z"/><path fill="#00b6f9" d="M384.5,157.7l1.4,-2.8-2,-1-1.4,2.8z"/><path fill="#d76f00" d="M502.3,89.2l1.2,-.7-2.2,-.8-1.3,.8z"/><path fill="#00f76a" d="M403.5,136.9l1.5,-2.4-2.1,-1-1.4,2.5z"/><path fill="#e4a400" d="M475.5,94.3l1.3,-1.2-2.2,-.7-1.4,1.1z"/><path fill="#50f400" d="M426.1,118.1l1.4,-2-2.1,-.9-1.4,2z"/><path fill="#00f8f1" d="M390.8,150.4l1.5,-2.6-2,-1-1.5,2.6z"/><path fill="#d26800" d="M510.7,88.6l1.3,-.6-2.3,-.7-1.3,.6z"/><path fill="#00f8ab" d="M397.2,143.5l1.4,-2.6-2,-.9-1.4,2.5z"/><path fill="#de8400" d="M488.9,91.3l1.3,-1-2.3,-.8-1.3,1z"/><path fill="#00f607" d="M414.8,127l1.4,-2.2-2,-.9-1.5,2.2z"/><path fill="#0049e8" d="M376.7,168.3l1.5,-2.9-2,-1.1-1.5,3z"/><path fill="#e7b400" d="M470.5,96l1.4,-1.3-2.2,-.8-1.4,1.3z"/><path fill="#6ef300" d="M431,115l1.4,-1.9-2.1,-.9-1.4,2z"/><path fill="#e9c600" d="M465.6,97.8l1.4,-1.3-2.2,-.9-1.4,1.4z"/><path fill="#da7700" d="M497.4,90.1l1.3,-.9-2.3,-.7-1.3,.8z"/><path fill="#8bf200" d="M436,112.1l1.4,-1.9-2.1,-.8-1.4,1.8z"/><path fill="#00f741" d="M408.5,133l1.4,-2.3-2.1,-1-1.4,2.4z"/><path fill="#009bf7" d="M383,160.6l1.5,-2.9-2,-1-1.5,2.9z"/><path fill="#e19000" d="M484,92.5l1.3,-1-2.3,-.8-1.3,1z"/><path fill="#1df500" d="M419.7,123.5l1.5,-2.1-2.1,-.9-1.4,2.1z"/><path fill="#ebda00" d="M460.7,99.8l1.4,-1.5-2.2,-.8-1.4,1.4z"/><path fill="#a6f100" d="M440.9,109.3l1.4,-1.8-2.1,-.8-1.4,1.8z"/><path fill="#00f780" d="M402.1,139.4l1.4,-2.5-2,-.9-1.4,2.4z"/><path fill="#d56d00" d="M505.9,89.2l1.2,-.7-2.3,-.7-1.3,.7z"/><path fill="#00e7f8" d="M389.4,153.1l1.4,-2.7-2,-1-1.4,2.8z"/><path fill="#e9ec00" d="M455.7,101.9l1.4,-1.5-2.2,-.8-1.3,1.5z"/><path fill="#beef00" d="M445.9,106.7l1.4,-1.7-2.2,-.8-1.4,1.6z"/><path fill="#002de3" d="M375.3,171.3l1.4,-3-2,-1-1.4,3z"/><path fill="#d5ee00" d="M450.8,104.2l1.4,-1.6-2.2,-.8-1.4,1.6z"/><path fill="#00f8c2" d="M395.7,146.1l1.5,-2.6-2,-1-1.5,2.6z"/><path fill="#d06700" d="M514.3,88.7l1.3,-.5-2.3,-.8-1.3,.6z"/><path fill="#e39e00" d="M479.1,93.9l1.3,-1.1-2.3,-.8-1.3,1.1z"/><path fill="#3ff400" d="M424.7,120.2l1.4,-2.1-2.1,-.9-1.4,2.1z"/><path fill="#dd8000" d="M492.5,91.1l1.3,-.9-2.3,-.8-1.3,.9z"/><path fill="#00f61a" d="M413.4,129.3l1.4,-2.3-2.1,-.9-1.4,2.3z"/><path fill="#007ef2" d="M381.6,163.4l1.4,-2.8-2,-1-1.4,2.8z"/><path fill="#e5ad00" d="M474.1,95.5l1.4,-1.2-2.3,-.8-1.3,1.2z"/><path fill="#5ef300" d="M429.6,117l1.4,-2-2.1,-.8-1.4,1.9z"/><path fill="#00f756" d="M407,135.4l1.5,-2.4-2.1,-.9-1.4,2.4z"/><path fill="#d87300" d="M501,90l1.3,-.8-2.3,-.7-1.3,.7z"/><path fill="#0013dd" d="M373.8,174.4l1.5,-3.1-2,-1-1.5,3z"/><path fill="#00cef9" d="M387.9,155.9l1.5,-2.8-2,-.9-1.5,2.7z"/><path fill="#df8a00" d="M487.6,92.2l1.3,-.9-2.3,-.8-1.3,1z"/><path fill="#0bf500" d="M418.3,125.7l1.4,-2.2-2,-.9-1.5,2.2z"/><path fill="#00f896" d="M400.7,141.9l1.4,-2.5-2,-1-1.5,2.5z"/><path fill="#d36b00" d="M509.5,89.3l1.2,-.7-2.3,-.7-1.3,.6z"/><path fill="#e8be00" d="M469.2,97.3l1.3,-1.3-2.2,-.8-1.3,1.3z"/><path fill="#7cf200" d="M434.6,114l1.4,-1.9-2.1,-.9-1.5,1.9z"/><path fill="#00f8db" d="M394.3,148.7l1.4,-2.6-2,-1-1.4,2.7z"/><path fill="#ead100" d="M464.3,99.2l1.3,-1.4-2.2,-.8-1.3,1.3z"/><path fill="#98f100" d="M439.5,111.1l1.4,-1.8-2.1,-.8-1.4,1.7z"/><path fill="#0062ed" d="M380.1,166.4l1.5,-3-2,-1-1.4,3z"/><path fill="#ebe500" d="M459.3,101.2l1.4,-1.4-2.2,-.9-1.4,1.5z"/><path fill="#b2f000" d="M444.5,108.4l1.4,-1.7-2.2,-.9-1.4,1.7z"/><path fill="#deed00" d="M454.4,103.5l1.3,-1.6-2.1,-.8-1.4,1.5z"/><path fill="#c9ee00" d="M449.4,105.8l1.4,-1.6-2.2,-.8-1.3,1.6z"/><path fill="#00f62e" d="M412,131.6l1.4,-2.3-2.1,-.9-1.4,2.3z"/><path fill="#db7c00" d="M496.1,90.9l1.3,-.8-2.3,-.8-1.3,.9z"/><path fill="#2df400" d="M423.3,122.3l1.4,-2.1-2.1,-.9-1.4,2.1z"/><path fill="#e29700" d="M482.6,93.6l1.4,-1.1-2.3,-.8-1.3,1.1z"/><path fill="#00b4f9" d="M386.5,158.7l1.4,-2.8-2,-1-1.4,2.8z"/><path fill="#00f76c" d="M405.6,137.8l1.4,-2.4-2,-.9-1.5,2.4z"/><path fill="#d67100" d="M504.6,90l1.3,-.8-2.4,-.7-1.2,.7z"/><path fill="#4ef400" d="M428.2,119l1.4,-2-2.1,-.9-1.4,2z"/><path fill="#e4a600" d="M477.7,95.1l1.4,-1.2-2.3,-.8-1.3,1.2z"/><path fill="#00f8f3" d="M392.9,151.4l1.4,-2.7-2,-.9-1.5,2.6z"/><path fill="#00f8ad" d="M399.2,144.4l1.5,-2.5-2.1,-1-1.4,2.6z"/><path fill="#d26900" d="M513.1,89.4l1.2,-.7-2.3,-.7-1.3,.6z"/><path fill="#00f609" d="M416.9,127.9l1.4,-2.2-2.1,-.9-1.4,2.2z"/><path fill="#0046e8" d="M378.7,169.3l1.4,-2.9-1.9,-1-1.5,2.9z"/><path fill="#de8600" d="M491.2,92l1.3,-.9-2.3,-.8-1.3,1z"/><path fill="#6cf300" d="M433.2,115.9l1.4,-1.9-2.2,-.9-1.4,1.9z"/><path fill="#e6b600" d="M472.8,96.8l1.3,-1.3-2.2,-.8-1.4,1.3z"/><path fill="#89f200" d="M438.1,113l1.4,-1.9-2.1,-.9-1.4,1.9z"/><path fill="#00f643" d="M410.5,133.9l1.5,-2.3-2.1,-.9-1.4,2.3z"/><path fill="#e8c800" d="M467.8,98.6l1.4,-1.3-2.2,-.8-1.4,1.3z"/><path fill="#0099f7" d="M385,161.6l1.5,-2.9-2,-1-1.5,2.9z"/><path fill="#d97800" d="M499.7,90.8l1.3,-.8-2.3,-.8-1.3,.9z"/><path fill="#1bf500" d="M421.8,124.4l1.5,-2.1-2.1,-.9-1.5,2.1z"/><path fill="#e09100" d="M486.2,93.3l1.4,-1.1-2.3,-.7-1.3,1z"/><path fill="#a4f000" d="M443.1,110.2l1.4,-1.8-2.2,-.9-1.4,1.8z"/><path fill="#eadc00" d="M462.9,100.6l1.4,-1.4-2.2,-.9-1.4,1.5z"/><path fill="#00f782" d="M404.2,140.3l1.4,-2.5-2.1,-.9-1.4,2.5z"/><path fill="#00e5f8" d="M391.4,154.1l1.5,-2.7-2.1,-1-1.4,2.7z"/><path fill="#d56e00" d="M508.2,90l1.3,-.7-2.4,-.8-1.2,.7z"/><path fill="#bcef00" d="M448,107.5l1.4,-1.7-2.1,-.8-1.4,1.7z"/><path fill="#e7ec00" d="M457.9,102.7l1.4,-1.5-2.2,-.8-1.4,1.5z"/><path fill="#002be2" d="M377.2,172.3l1.5,-3-2,-1-1.4,3z"/><path fill="#d3ee00" d="M453,105l1.4,-1.5-2.2,-.9-1.4,1.6z"/><path fill="#00f8c4" d="M397.8,147l1.4,-2.6-2,-.9-1.5,2.6z"/><path fill="#3df400" d="M426.8,121.1l1.4,-2.1-2.1,-.9-1.4,2.1z"/><path fill="#e39e00" d="M481.3,94.7l1.3,-1.1-2.2,-.8-1.3,1.1z"/><path fill="#00f61c" d="M415.5,130.2l1.4,-2.3-2.1,-.9-1.4,2.3z"/><path fill="#dc8100" d="M494.8,91.8l1.3,-.9-2.3,-.7-1.3,.9z"/><path fill="#007cf2" d="M383.6,164.5l1.4,-2.9-2,-1-1.4,2.8z"/><path fill="#5cf300" d="M431.8,117.9l1.4,-2-2.2,-.9-1.4,2z"/><path fill="#e5ae00" d="M476.4,96.3l1.3,-1.2-2.2,-.8-1.4,1.2z"/><path fill="#00f758" d="M409.1,136.3l1.4,-2.4-2,-.9-1.5,2.4z"/><path fill="#01d" d="M375.8,175.4l1.4,-3.1-1.9,-1-1.5,3.1z"/><path fill="#d87500" d="M503.3,90.7l1.3,-.7-2.3,-.8-1.3,.8z"/><path fill="#00ccf8" d="M390,156.9l1.4,-2.8-2,-1-1.5,2.8z"/><path fill="#00f798" d="M402.7,142.8l1.5,-2.5-2.1,-.9-1.4,2.5z"/><path fill="#09f500" d="M420.4,126.6l1.4,-2.2-2.1,-.9-1.4,2.2z"/><path fill="#df8c00" d="M489.8,93l1.4,-1-2.3,-.7-1.3,.9z"/><path fill="#00f8dd" d="M396.3,149.7l1.5,-2.7-2.1,-.9-1.4,2.6z"/><path fill="#7af200" d="M436.7,114.8l1.4,-1.8-2.1,-.9-1.4,1.9z"/><path fill="#e7bf00" d="M471.4,98.1l1.4,-1.3-2.3,-.8-1.3,1.3z"/><path fill="#d36c00" d="M511.8,90l1.3,-.6-2.4,-.8-1.2,.7z"/><path fill="#96f100" d="M441.7,112l1.4,-1.8-2.2,-.9-1.4,1.8z"/><path fill="#e9d200" d="M466.5,100l1.3,-1.4-2.2,-.8-1.3,1.4z"/><path fill="#005fec" d="M382.1,167.4l1.5,-2.9-2,-1.1-1.5,3z"/><path fill="#b0f000" d="M446.6,109.2l1.4,-1.7-2.1,-.8-1.4,1.7z"/><path fill="#ebe600" d="M461.5,102l1.4,-1.4-2.2,-.8-1.4,1.4z"/><path fill="#00f630" d="M414,132.5l1.5,-2.3-2.1,-.9-1.4,2.3z"/><path fill="#c7ee00" d="M451.6,106.7l1.4,-1.7-2.2,-.8-1.4,1.6z"/><path fill="#dced00" d="M456.6,104.3l1.3,-1.6-2.2,-.8-1.3,1.6z"/><path fill="#2bf400" d="M425.4,123.2l1.4,-2.1-2.1,-.9-1.4,2.1z"/><path fill="#e29800" d="M484.9,94.4l1.3,-1.1-2.2,-.8-1.4,1.1z"/><path fill="#db7c00" d="M498.4,91.7l1.3,-.9-2.3,-.7-1.3,.8z"/><path fill="#00b2f9" d="M388.5,159.7l1.5,-2.8-2.1,-1-1.4,2.8z"/><path fill="#00f76d" d="M407.7,138.8l1.4,-2.5-2.1,-.9-1.4,2.4z"/><path fill="#d67100" d="M506.9,90.7l1.3,-.7-2.3,-.8-1.3,.8z"/><path fill="#00f8f5" d="M394.9,152.4l1.4,-2.7-2,-1-1.4,2.7z"/><path fill="#4cf300" d="M430.3,119.9l1.5,-2-2.2,-.9-1.4,2z"/><path fill="#e4a700" d="M480,95.9l1.3,-1.2-2.2,-.8-1.4,1.2z"/><path fill="#00f8af" d="M401.3,145.4l1.4,-2.6-2,-.9-1.5,2.5z"/><path fill="#00f50b" d="M419,128.8l1.4,-2.2-2.1,-.9-1.4,2.2z"/><path fill="#0044e7" d="M380.7,170.4l1.4,-3-2,-1-1.4,2.9z"/><path fill="#de8700" d="M493.4,92.8l1.4,-1-2.3,-.7-1.3,.9z"/><path fill="#6af200" d="M435.3,116.8l1.4,-2-2.1,-.8-1.4,1.9z"/><path fill="#e6b700" d="M475,97.5l1.4,-1.2-2.3,-.8-1.3,1.3z"/><path fill="#00f645" d="M412.6,134.9l1.4,-2.4-2,-.9-1.5,2.3z"/><path fill="#0097f6" d="M387.1,162.6l1.4,-2.9-2,-1-1.5,2.9z"/><path fill="#87f100" d="M440.3,113.8l1.4,-1.8-2.2,-.9-1.4,1.9z"/><path fill="#e8c900" d="M470.1,99.4l1.3,-1.3-2.2,-.8-1.4,1.3z"/><path fill="#d97900" d="M502,91.6l1.3,-.9-2.3,-.7-1.3,.8z"/><path fill="#19f500" d="M424,125.3l1.4,-2.1-2.1,-.9-1.5,2.1z"/><path fill="#e09300" d="M488.5,94.1l1.3,-1.1-2.2,-.8-1.4,1.1z"/><path fill="#a2f000" d="M445.2,111l1.4,-1.8-2.1,-.8-1.4,1.8z"/><path fill="#eadc00" d="M465.1,101.4l1.4,-1.4-2.2,-.8-1.4,1.4z"/><path fill="#00f784" d="M406.2,141.3l1.5,-2.5-2.1,-1-1.4,2.5z"/><path fill="#00e3f8" d="M393.4,155.1l1.5,-2.7-2,-1-1.5,2.7z"/><path fill="#002ae2" d="M379.2,173.4l1.5,-3-2,-1.1-1.5,3z"/><path fill="#baef00" d="M450.2,108.4l1.4,-1.7-2.2,-.9-1.4,1.7z"/><path fill="#e5ec00" d="M460.1,103.5l1.4,-1.5-2.2,-.8-1.4,1.5z"/><path fill="#d46f00" d="M510.5,90.7l1.3,-.7-2.3,-.7-1.3,.7z"/><path fill="#00f8c6" d="M399.8,148l1.5,-2.6-2.1,-1-1.4,2.6z"/><path fill="#d1ed00" d="M455.2,105.9l1.4,-1.6-2.2,-.8-1.4,1.5z"/><path fill="#3bf400" d="M428.9,122l1.4,-2.1-2.1,-.9-1.4,2.1z"/><path fill="#e3a000" d="M483.6,95.5l1.3,-1.1-2.3,-.8-1.3,1.1z"/><path fill="#00f61e" d="M417.6,131.1l1.4,-2.3-2.1,-.9-1.4,2.3z"/><path fill="#dc8200" d="M497.1,92.6l1.3,-.9-2.3,-.8-1.3,.9z"/><path fill="#007af1" d="M385.6,165.5l1.5,-2.9-2.1,-1-1.4,2.9z"/><path fill="#5af300" d="M433.9,118.8l1.4,-2-2.1,-.9-1.4,2z"/><path fill="#e5af00" d="M478.6,97.1l1.4,-1.2-2.3,-.8-1.3,1.2z"/><path fill="#00f75a" d="M411.2,137.3l1.4,-2.4-2.1,-1-1.4,2.4z"/><path fill="#0010dc" d="M377.8,176.4l1.4,-3-2,-1.1-1.4,3.1z"/><path fill="#d87600" d="M505.6,91.5l1.3,-.8-2.3,-.7-1.3,.7z"/><path fill="#00caf8" d="M392,157.9l1.4,-2.8-2,-1-1.4,2.8z"/><path fill="#00f79a" d="M404.8,143.8l1.4,-2.5-2,-1-1.5,2.5z"/><path fill="#07f500" d="M422.5,127.5l1.5,-2.2-2.2,-.9-1.4,2.2z"/><path fill="#00f8df" d="M398.4,150.7l1.4,-2.7-2,-1-1.5,2.7z"/><path fill="#78f200" d="M438.9,115.7l1.4,-1.9-2.2,-.8-1.4,1.8z"/><path fill="#df8d00" d="M492.1,93.8l1.3,-1-2.2,-.8-1.4,1z"/><path fill="#e7c000" d="M473.7,98.8l1.3,-1.3-2.2,-.7-1.4,1.3z"/><path fill="#94f100" d="M443.8,112.8l1.4,-1.8-2.1,-.8-1.4,1.8z"/><path fill="#e9d300" d="M468.7,100.8l1.4,-1.4-2.3,-.8-1.3,1.4z"/><path fill="#005dec" d="M384.2,168.4l1.4,-2.9-2,-1-1.5,2.9z"/><path fill="#aeef00" d="M448.8,110.1l1.4,-1.7-2.2,-.9-1.4,1.7z"/><path fill="#ebe800" d="M463.7,102.9l1.4,-1.5-2.2,-.8-1.4,1.4z"/><path fill="#00f632" d="M416.1,133.4l1.5,-2.3-2.1,-.9-1.5,2.3z"/><path fill="#29f400" d="M427.5,124.1l1.4,-2.1-2.1,-.9-1.4,2.1z"/><path fill="#c5ee00" d="M453.8,107.5l1.4,-1.6-2.2,-.9-1.4,1.7z"/><path fill="#dbed00" d="M458.8,105.1l1.3,-1.6-2.2,-.8-1.3,1.6z"/><path fill="#e19a00" d="M487.2,95.1l1.3,-1-2.3,-.8-1.3,1.1z"/><path fill="#db7e00" d="M500.7,92.4l1.3,-.8-2.3,-.8-1.3,.9z"/><path fill="#00b0f8" d="M390.5,160.7l1.5,-2.8-2,-1-1.5,2.8z"/><path fill="#00f76f" d="M409.7,139.7l1.5,-2.4-2.1,-1-1.4,2.5z"/><path fill="#d67200" d="M509.2,91.4l1.3,-.7-2.3,-.7-1.3,.7z"/><path fill="#00f8f7" d="M396.9,153.3l1.5,-2.6-2.1,-1-1.4,2.7z"/><path fill="#4af300" d="M432.5,120.8l1.4,-2-2.1,-.9-1.5,2z"/><path fill="#00f7b1" d="M403.3,146.4l1.5,-2.6-2.1,-1-1.4,2.6z"/><path fill="#e4a800" d="M482.2,96.7l1.4,-1.2-2.3,-.8-1.3,1.2z"/><path fill="#00f50d" d="M421.1,129.7l1.4,-2.2-2.1,-.9-1.4,2.2z"/><path fill="#0042e7" d="M382.7,171.4l1.5,-3-2.1,-1-1.4,3z"/><path fill="#dd8700" d="M495.7,93.5l1.4,-.9-2.3,-.8-1.4,1z"/><path fill="#69f200" d="M437.5,117.6l1.4,-1.9-2.2,-.9-1.4,2z"/><path fill="#e6b800" d="M477.3,98.3l1.3,-1.2-2.2,-.8-1.4,1.2z"/><path fill="#0094f6" d="M389.1,163.6l1.4,-2.9-2,-1-1.4,2.9z"/><path fill="#00f646" d="M414.7,135.8l1.4,-2.4-2.1,-.9-1.4,2.4z"/><path fill="#85f100" d="M442.4,114.7l1.4,-1.9-2.1,-.8-1.4,1.8z"/><path fill="#e8ca00" d="M472.3,100.2l1.4,-1.4-2.3,-.7-1.3,1.3z"/><path fill="#d97a00" d="M504.3,92.3l1.3,-.8-2.3,-.8-1.3,.9z"/><path fill="#17f400" d="M426.1,126.2l1.4,-2.1-2.1,-.9-1.4,2.1z"/><path fill="#e09400" d="M490.8,94.8l1.3,-1-2.3,-.8-1.3,1.1z"/><path fill="#a0f000" d="M447.4,111.8l1.4,-1.7-2.2,-.9-1.4,1.8z"/><path fill="#eade00" d="M467.3,102.2l1.4,-1.4-2.2,-.8-1.4,1.4z"/><path fill="#00e1f8" d="M395.5,156.1l1.4,-2.8-2,-.9-1.5,2.7z"/><path fill="#00f786" d="M408.3,142.2l1.4,-2.5-2,-.9-1.5,2.5z"/><path fill="#0028e1" d="M381.2,174.4l1.5,-3-2,-1-1.5,3z"/><path fill="#b8ef00" d="M452.4,109.2l1.4,-1.7-2.2,-.8-1.4,1.7z"/><path fill="#e3ec00" d="M462.4,104.4l1.3,-1.5-2.2,-.9-1.4,1.5z"/><path fill="#00f8c8" d="M401.9,149l1.4,-2.6-2,-1-1.5,2.6z"/><path fill="#cfed00" d="M457.4,106.7l1.4,-1.6-2.2,-.8-1.4,1.6z"/><path fill="#39f400" d="M431.1,122.8l1.4,-2-2.2,-.9-1.4,2.1z"/><path fill="#e2a100" d="M485.8,96.3l1.4,-1.2-2.3,-.7-1.3,1.1z"/><path fill="#00f520" d="M419.7,132l1.4,-2.3-2.1,-.9-1.4,2.3z"/><path fill="#dc8300" d="M499.4,93.3l1.3,-.9-2.3,-.7-1.3,.9z"/><path fill="#0078f1" d="M387.6,166.5l1.5,-2.9-2,-1-1.5,2.9z"/><path fill="#59f300" d="M436,119.6l1.5,-2-2.2,-.8-1.4,2z"/><path fill="#e5b100" d="M480.9,97.9l1.3,-1.2-2.2,-.8-1.4,1.2z"/><path fill="#00f65c" d="M413.3,138.2l1.4,-2.4-2.1,-.9-1.4,2.4z"/><path fill="#000edc" d="M379.8,177.5l1.4,-3.1-2,-1-1.4,3z"/><path fill="#00c8f8" d="M394,158.9l1.5,-2.8-2.1,-1-1.4,2.8z"/><path fill="#d77600" d="M507.9,92.2l1.3,-.8-2.3,-.7-1.3,.8z"/><path fill="#00f79c" d="M406.8,144.7l1.5,-2.5-2.1,-.9-1.4,2.5z"/><path fill="#05f500" d="M424.6,128.4l1.5,-2.2-2.1,-.9-1.5,2.2z"/><path fill="#00f8e0" d="M400.4,151.6l1.5,-2.6-2.1,-1-1.4,2.7z"/><path fill="#76f200" d="M441,116.6l1.4,-1.9-2.1,-.9-1.4,1.9z"/><path fill="#e7c200" d="M475.9,99.6l1.4,-1.3-2.3,-.8-1.3,1.3z"/><path fill="#df8e00" d="M494.4,94.5l1.3,-1-2.3,-.7-1.3,1z"/><path fill="#92f100" d="M446,113.7l1.4,-1.9-2.2,-.8-1.4,1.8z"/><path fill="#e9d500" d="M470.9,101.6l1.4,-1.4-2.2,-.8-1.4,1.4z"/><path fill="#005beb" d="M386.2,169.4l1.4,-2.9-2,-1-1.4,2.9z"/><path fill="#acef00" d="M451,110.9l1.4,-1.7-2.2,-.8-1.4,1.7z"/><path fill="#ebe900" d="M466,103.7l1.3,-1.5-2.2,-.8-1.4,1.5z"/><path fill="#00f634" d="M418.2,134.3l1.5,-2.3-2.1,-.9-1.5,2.3z"/><path fill="#27f400" d="M429.6,124.9l1.5,-2.1-2.2,-.8-1.4,2.1z"/><path fill="#c3ee00" d="M456,108.3l1.4,-1.6-2.2,-.8-1.4,1.6z"/><path fill="#d9ec00" d="M461,105.9l1.4,-1.5-2.3,-.9-1.3,1.6z"/><path fill="#e19a00" d="M489.5,95.9l1.3,-1.1-2.3,-.7-1.3,1z"/><path fill="#da7f00" d="M503,93.2l1.3,-.9-2.3,-.7-1.3,.8z"/><path fill="#00aef8" d="M392.6,161.7l1.4,-2.8-2,-1-1.5,2.8z"/><path fill="#00f771" d="M411.8,140.6l1.5,-2.4-2.1,-.9-1.5,2.4z"/><path fill="#00f7f8" d="M399,154.3l1.4,-2.7-2,-.9-1.5,2.6z"/><path fill="#48f300" d="M434.6,121.6l1.4,-2-2.1,-.8-1.4,2z"/><path fill="#00f7b2" d="M405.4,147.3l1.4,-2.6-2,-.9-1.5,2.6z"/><path fill="#e3a900" d="M484.5,97.4l1.3,-1.1-2.2,-.8-1.4,1.2z"/><path fill="#0040e6" d="M384.7,172.4l1.5,-3-2,-1-1.5,3z"/><path fill="#00f50e" d="M423.2,130.6l1.4,-2.2-2.1,-.9-1.4,2.2z"/><path fill="#dd8900" d="M498.1,94.3l1.3,-1-2.3,-.7-1.4,.9z"/><path fill="#67f200" d="M439.6,118.5l1.4,-1.9-2.1,-.9-1.4,1.9z"/><path fill="#e6ba00" d="M479.5,99.1l1.4,-1.2-2.3,-.8-1.3,1.2z"/><path fill="#0092f5" d="M391.1,164.5l1.5,-2.8-2.1,-1-1.4,2.9z"/><path fill="#00f648" d="M416.8,136.7l1.4,-2.4-2.1,-.9-1.4,2.4z"/><path fill="#83f100" d="M444.6,115.5l1.4,-1.8-2.2,-.9-1.4,1.9z"/><path fill="#e8cc00" d="M474.6,101l1.3,-1.4-2.2,-.8-1.4,1.4z"/><path fill="#15f400" d="M428.2,127.1l1.4,-2.2-2.1,-.8-1.4,2.1z"/><path fill="#d97a00" d="M506.6,93.1l1.3,-.9-2.3,-.7-1.3,.8z"/><path fill="#e09400" d="M493.1,95.6l1.3,-1.1-2.3,-.7-1.3,1z"/><path fill="#9ff000" d="M449.6,112.7l1.4,-1.8-2.2,-.8-1.4,1.7z"/><path fill="#eae000" d="M469.6,103l1.3,-1.4-2.2,-.8-1.4,1.4z"/><path fill="#00dff8" d="M397.5,157.1l1.5,-2.8-2.1,-1-1.4,2.8z"/><path fill="#00f787" d="M410.4,143.1l1.4,-2.5-2.1,-.9-1.4,2.5z"/><path fill="#0026e1" d="M383.3,175.4l1.4,-3-2,-1-1.5,3z"/><path fill="#b7ee00" d="M454.6,110l1.4,-1.7-2.2,-.8-1.4,1.7z"/><path fill="#00f7ca" d="M404,149.9l1.4,-2.6-2.1,-.9-1.4,2.6z"/><path fill="#e2eb00" d="M464.6,105.2l1.4,-1.5-2.3,-.8-1.3,1.5z"/><path fill="#cded00" d="M459.6,107.5l1.4,-1.6-2.2,-.8-1.4,1.6z"/><path fill="#37f300" d="M433.2,123.7l1.4,-2.1-2.1,-.8-1.4,2z"/><path fill="#e2a200" d="M488.1,97l1.4,-1.1-2.3,-.8-1.4,1.2z"/><path fill="#00f522" d="M421.8,132.9l1.4,-2.3-2.1,-.9-1.4,2.3z"/><path fill="#dc8400" d="M501.7,94.1l1.3,-.9-2.3,-.8-1.3,.9z"/><path fill="#0076f0" d="M389.7,167.5l1.4,-3-2,-.9-1.5,2.9z"/><path fill="#57f200" d="M438.2,120.5l1.4,-2-2.1,-.9-1.5,2z"/><path fill="#e4b100" d="M483.2,98.6l1.3,-1.2-2.3,-.7-1.3,1.2z"/><path fill="#00f65e" d="M415.4,139.1l1.4,-2.4-2.1,-.9-1.4,2.4z"/><path fill="#000cdc" d="M381.8,178.5l1.5,-3.1-2.1,-1-1.4,3.1z"/><path fill="#00c5f8" d="M396.1,159.8l1.4,-2.7-2,-1-1.5,2.8z"/><path fill="#00f79e" d="M408.9,145.7l1.5,-2.6-2.1,-.9-1.5,2.5z"/><path fill="#03f500" d="M426.8,129.3l1.4,-2.2-2.1,-.9-1.5,2.2z"/><path fill="#00f8e2" d="M402.5,152.6l1.5,-2.7-2.1,-.9-1.5,2.6z"/><path fill="#74f100" d="M443.2,117.4l1.4,-1.9-2.2,-.8-1.4,1.9z"/><path fill="#e7c200" d="M478.2,100.4l1.3,-1.3-2.2,-.8-1.4,1.3z"/><path fill="#de8f00" d="M496.7,95.3l1.4,-1-2.4,-.8-1.3,1z"/><path fill="#90f000" d="M448.2,114.5l1.4,-1.8-2.2,-.9-1.4,1.9z"/><path fill="#e9d500" d="M473.2,102.4l1.4,-1.4-2.3,-.8-1.4,1.4z"/><path fill="#0059eb" d="M388.2,170.4l1.5,-2.9-2.1,-1-1.4,2.9z"/><path fill="#abef00" d="M453.2,111.8l1.4,-1.8-2.2,-.8-1.4,1.7z"/><path fill="#eaea00" d="M468.2,104.5l1.4,-1.5-2.3,-.8-1.3,1.5z"/><path fill="#00f636" d="M420.3,135.3l1.5,-2.4-2.1,-.9-1.5,2.3z"/><path fill="#26f400" d="M431.8,125.8l1.4,-2.1-2.1,-.9-1.5,2.1z"/><path fill="#c2ee00" d="M458.2,109.2l1.4,-1.7-2.2,-.8-1.4,1.6z"/><path fill="#d7ec00" d="M463.2,106.7l1.4,-1.5-2.2,-.8-1.4,1.5z"/><path fill="#e19b00" d="M491.8,96.7l1.3,-1.1-2.3,-.8-1.3,1.1z"/><path fill="#da7f00" d="M505.3,93.9l1.3,-.8-2.3,-.8-1.3,.9z"/><path fill="#00acf8" d="M394.6,162.7l1.5,-2.9-2.1,-.9-1.4,2.8z"/><path fill="#00f673" d="M413.9,141.6l1.5,-2.5-2.1,-.9-1.5,2.4z"/><path fill="#00f5f8" d="M401,155.3l1.5,-2.7-2.1,-1-1.4,2.7z"/><path fill="#46f300" d="M436.8,122.5l1.4,-2-2.2,-.9-1.4,2z"/><path fill="#00f7b4" d="M407.5,148.2l1.4,-2.5-2.1,-1-1.4,2.6z"/><path fill="#e3aa00" d="M486.8,98.2l1.3,-1.2-2.3,-.7-1.3,1.1z"/><path fill="#003ee6" d="M386.7,173.4l1.5,-3-2,-1-1.5,3z"/><path fill="#00f510" d="M425.3,131.5l1.5,-2.2-2.2,-.9-1.4,2.2z"/><path fill="#dd8a00" d="M500.4,95l1.3,-.9-2.3,-.8-1.3,1z"/><path fill="#66f200" d="M441.8,119.4l1.4,-2-2.2,-.8-1.4,1.9z"/><path fill="#e5ba00" d="M481.8,99.9l1.4,-1.3-2.3,-.7-1.4,1.2z"/><path fill="#0090f5" d="M393.2,165.5l1.4,-2.8-2,-1-1.5,2.8z"/><path fill="#00f64a" d="M418.9,137.6l1.4,-2.3-2.1,-1-1.4,2.4z"/><path fill="#82f100" d="M446.8,116.4l1.4,-1.9-2.2,-.8-1.4,1.8z"/><path fill="#e8cc00" d="M476.8,101.8l1.4,-1.4-2.3,-.8-1.3,1.4z"/><path fill="#14f400" d="M430.3,128l1.5,-2.2-2.2,-.9-1.4,2.2z"/><path fill="#df9600" d="M495.4,96.3l1.3,-1-2.3,-.8-1.3,1.1z"/><path fill="#9df000" d="M451.8,113.5l1.4,-1.7-2.2,-.9-1.4,1.8z"/><path fill="#e9e000" d="M471.8,103.8l1.4,-1.4-2.3,-.8-1.3,1.4z"/><path fill="#00ddf8" d="M399.6,158l1.4,-2.7-2,-1-1.5,2.8z"/><path fill="#00f789" d="M412.5,144.1l1.4,-2.5-2.1,-1-1.4,2.5z"/><path fill="#0024e0" d="M385.3,176.4l1.4,-3-2,-1-1.4,3z"/><path fill="#00f7cc" d="M406,150.9l1.5,-2.7-2.1,-.9-1.4,2.6z"/><path fill="#b5ee00" d="M456.8,110.9l1.4,-1.7-2.2,-.9-1.4,1.7z"/><path fill="#e0eb00" d="M466.8,106l1.4,-1.5-2.2,-.8-1.4,1.5z"/><path fill="#cced00" d="M461.8,108.3l1.4,-1.6-2.2,-.8-1.4,1.6z"/><path fill="#35f300" d="M435.4,124.6l1.4,-2.1-2.2,-.9-1.4,2.1z"/><path fill="#00f524" d="M423.9,133.8l1.4,-2.3-2.1,-.9-1.4,2.3z"/><path fill="#e2a300" d="M490.4,97.8l1.4,-1.1-2.3,-.8-1.4,1.1z"/><path fill="#db8400" d="M504,94.8l1.3,-.9-2.3,-.7-1.3,.9z"/><path fill="#0074f0" d="M391.7,168.5l1.5,-3-2.1,-1-1.4,3z"/><path fill="#56f200" d="M440.4,121.4l1.4,-2-2.2,-.9-1.4,2z"/><path fill="#00f660" d="M417.5,140l1.4,-2.4-2.1,-.9-1.4,2.4z"/><path fill="#000adb" d="M383.8,179.5l1.5,-3.1-2,-1-1.5,3.1z"/><path fill="#e4b200" d="M485.4,99.4l1.4,-1.2-2.3,-.8-1.3,1.2z"/><path fill="#00c3f8" d="M398.1,160.8l1.5,-2.8-2.1,-.9-1.4,2.7z"/><path fill="#00f7a0" d="M411,146.6l1.5,-2.5-2.1,-1-1.5,2.6z"/><path fill="#01f400" d="M428.9,130.2l1.4,-2.2-2.1,-.9-1.4,2.2z"/><path fill="#00f7e3" d="M404.6,153.5l1.4,-2.6-2,-1-1.5,2.7z"/><path fill="#73f100" d="M445.4,118.3l1.4,-1.9-2.2,-.9-1.4,1.9z"/><path fill="#e6c400" d="M480.4,101.2l1.4,-1.3-2.3,-.8-1.3,1.3z"/><path fill="#de9000" d="M499.1,96l1.3,-1-2.3,-.7-1.4,1z"/><path fill="#8ff000" d="M450.4,115.3l1.4,-1.8-2.2,-.8-1.4,1.8z"/><path fill="#e8d700" d="M475.4,103.2l1.4,-1.4-2.2,-.8-1.4,1.4z"/><path fill="#0058ea" d="M390.2,171.4l1.5,-2.9-2,-1-1.5,2.9z"/><path fill="#a9ef00" d="M455.4,112.6l1.4,-1.7-2.2,-.9-1.4,1.8z"/><path fill="#e9ea00" d="M470.4,105.3l1.4,-1.5-2.2,-.8-1.4,1.5z"/><path fill="#00f538" d="M422.5,136.2l1.4,-2.4-2.1,-.9-1.5,2.4z"/><path fill="#24f400" d="M433.9,126.7l1.5,-2.1-2.2,-.9-1.4,2.1z"/><path fill="#c0ed00" d="M460.4,110l1.4,-1.7-2.2,-.8-1.4,1.7z"/><path fill="#d6ec00" d="M465.4,107.5l1.4,-1.5-2.2,-.8-1.4,1.5z"/><path fill="#e19d00" d="M494.1,97.4l1.3,-1.1-2.3,-.7-1.3,1.1z"/><path fill="#00aaf8" d="M396.7,163.7l1.4,-2.9-2,-1-1.5,2.9z"/><path fill="#00f675" d="M416,142.5l1.5,-2.5-2.1,-.9-1.5,2.5z"/><path fill="#00f4f8" d="M403.1,156.2l1.5,-2.7-2.1,-.9-1.5,2.7z"/><path fill="#45f300" d="M438.9,123.4l1.5,-2-2.2,-.9-1.4,2z"/><path fill="#00f7b6" d="M409.6,149.2l1.4,-2.6-2.1,-.9-1.4,2.5z"/><path fill="#e3ab00" d="M489.1,99l1.3,-1.2-2.3,-.8-1.3,1.2z"/><path fill="#003de5" d="M388.8,174.4l1.4,-3-2,-1-1.5,3z"/><path fill="#00f511" d="M427.5,132.4l1.4,-2.2-2.1,-.9-1.5,2.2z"/><path fill="#dd8a00" d="M502.7,95.8l1.3,-1-2.3,-.7-1.3,.9z"/><path fill="#64f200" d="M444,120.2l1.4,-1.9-2.2,-.9-1.4,2z"/><path fill="#e5bb00" d="M484.1,100.7l1.3,-1.3-2.2,-.8-1.4,1.3z"/><path fill="#008ff4" d="M395.2,166.5l1.5,-2.8-2.1,-1-1.4,2.8z"/><path fill="#00f64c" d="M421,138.5l1.5,-2.3-2.2,-.9-1.4,2.3z"/><path fill="#80f100" d="M449,117.2l1.4,-1.9-2.2,-.8-1.4,1.9z"/><path fill="#e7cd00" d="M479.1,102.5l1.3,-1.3-2.2,-.8-1.4,1.4z"/><path fill="#12f400" d="M432.5,128.9l1.4,-2.2-2.1,-.9-1.5,2.2z"/><path fill="#9bef00" d="M454,114.4l1.4,-1.8-2.2,-.8-1.4,1.7z"/><path fill="#df9700" d="M497.7,97.1l1.4,-1.1-2.4,-.7-1.3,1z"/><path fill="#00dbf8" d="M401.7,159l1.4,-2.8-2.1,-.9-1.4,2.7z"/><path fill="#00f68a" d="M414.6,145l1.4,-2.5-2.1,-.9-1.4,2.5z"/><path fill="#e9e100" d="M474.1,104.6l1.3,-1.4-2.2,-.8-1.4,1.4z"/><path fill="#0022e0" d="M387.3,177.5l1.5,-3.1-2.1,-1-1.4,3z"/><path fill="#00f7cd" d="M408.1,151.8l1.5,-2.6-2.1,-1-1.5,2.7z"/><path fill="#b4ee00" d="M459,111.7l1.4,-1.7-2.2,-.8-1.4,1.7z"/><path fill="#dfeb00" d="M469.1,106.8l1.3,-1.5-2.2,-.8-1.4,1.5z"/><path fill="#caed00" d="M464,109.1l1.4,-1.6-2.2,-.8-1.4,1.6z"/><path fill="#34f300" d="M437.5,125.5l1.4,-2.1-2.1,-.9-1.4,2.1z"/><path fill="#00f525" d="M426,134.7l1.5,-2.3-2.2,-.9-1.4,2.3z"/><path fill="#e2a400" d="M492.7,98.6l1.4,-1.2-2.3,-.7-1.4,1.1z"/><path fill="#0071ef" d="M393.8,169.4l1.4,-2.9-2,-1-1.5,3z"/><path fill="#54f200" d="M442.5,122.2l1.5,-2-2.2,-.8-1.4,2z"/><path fill="#00f660" d="M419.6,141l1.4,-2.5-2.1,-.9-1.4,2.4z"/><path fill="#0009db" d="M385.9,180.5l1.4,-3-2,-1.1-1.5,3.1z"/><path fill="#e4b400" d="M487.7,100.2l1.4,-1.2-2.3,-.8-1.4,1.2z"/><path fill="#00c2f8" d="M400.2,161.8l1.5,-2.8-2.1,-1-1.5,2.8z"/><path fill="#00f7a1" d="M413.1,147.5l1.5,-2.5-2.1,-.9-1.5,2.5z"/><path fill="#00f400" d="M431.1,131.1l1.4,-2.2-2.2,-.9-1.4,2.2z"/><path fill="#00f7e5" d="M406.7,154.5l1.4,-2.7-2.1,-.9-1.4,2.6z"/><path fill="#71f100" d="M447.6,119.1l1.4,-1.9-2.2,-.8-1.4,1.9z"/><path fill="#e6c500" d="M482.7,102l1.4,-1.3-2.3,-.8-1.4,1.3z"/><path fill="#de9000" d="M501.4,96.8l1.3,-1-2.3,-.8-1.3,1z"/><path fill="#8df000" d="M452.6,116.2l1.4,-1.8-2.2,-.9-1.4,1.8z"/><path fill="#0056ea" d="M392.3,172.4l1.5,-3-2.1,-.9-1.5,2.9z"/><path fill="#e8d800" d="M477.7,103.9l1.4,-1.4-2.3,-.7-1.4,1.4z"/><path fill="#a8ef00" d="M457.6,113.4l1.4,-1.7-2.2,-.8-1.4,1.7z"/><path fill="#e7ea00" d="M472.7,106.1l1.4,-1.5-2.3,-.8-1.4,1.5z"/><path fill="#00f539" d="M424.6,137.1l1.4,-2.4-2.1,-.9-1.4,2.4z"/><path fill="#22f300" d="M436.1,127.6l1.4,-2.1-2.1,-.9-1.5,2.1z"/><path fill="#bfed00" d="M462.7,110.8l1.3,-1.7-2.2,-.8-1.4,1.7z"/><path fill="#d5ec00" d="M467.7,108.4l1.4,-1.6-2.3,-.8-1.4,1.5z"/><path fill="#e09d00" d="M496.4,98.2l1.3,-1.1-2.3,-.8-1.3,1.1z"/><path fill="#00a9f8" d="M398.7,164.6l1.5,-2.8-2.1,-1-1.4,2.9z"/><path fill="#00f676" d="M418.1,143.4l1.5,-2.4-2.1,-1-1.5,2.5z"/><path fill="#00f2f7" d="M405.2,157.2l1.5,-2.7-2.1,-1-1.5,2.7z"/><path fill="#44f300" d="M441.1,124.2l1.4,-2-2.1,-.8-1.5,2z"/><path fill="#00f7b8" d="M411.7,150.1l1.4,-2.6-2.1,-.9-1.4,2.6z"/><path fill="#e3ac00" d="M491.4,99.7l1.3,-1.1-2.3,-.8-1.3,1.2z"/><path fill="#003be5" d="M390.8,175.4l1.5,-3-2.1,-1-1.4,3z"/><path fill="#00f513" d="M429.6,133.3l1.5,-2.2-2.2,-.9-1.4,2.2z"/><path fill="#63f200" d="M446.2,121.1l1.4,-2-2.2,-.8-1.4,1.9z"/><path fill="#e5bd00" d="M486.4,101.4l1.3,-1.2-2.3,-.8-1.3,1.3z"/><path fill="#008cf4" d="M397.3,167.5l1.4,-2.9-2,-.9-1.5,2.8z"/><path fill="#00f54d" d="M423.2,139.4l1.4,-2.3-2.1,-.9-1.5,2.3z"/><path fill="#7ff000" d="M451.2,118.1l1.4,-1.9-2.2,-.9-1.4,1.9z"/><path fill="#e7cf00" d="M481.4,103.3l1.3,-1.3-2.3,-.8-1.3,1.3z"/><path fill="#10f400" d="M434.7,129.8l1.4,-2.2-2.2,-.9-1.4,2.2z"/><path fill="#9aef00" d="M456.2,115.2l1.4,-1.8-2.2,-.8-1.4,1.8z"/><path fill="#00d9f8" d="M403.7,160l1.5,-2.8-2.1,-1-1.4,2.8z"/><path fill="#00f68c" d="M416.7,145.9l1.4,-2.5-2.1,-.9-1.4,2.5z"/><path fill="#df9700" d="M500.1,97.8l1.3,-1-2.3,-.8-1.4,1.1z"/><path fill="#e9e300" d="M476.4,105.4l1.3,-1.5-2.3,-.7-1.3,1.4z"/><path fill="#0020e0" d="M389.4,178.5l1.4,-3.1-2,-1-1.5,3.1z"/><path fill="#00f7cf" d="M410.2,152.8l1.5,-2.7-2.1,-.9-1.5,2.6z"/><path fill="#b2ee00" d="M461.3,112.5l1.4,-1.7-2.3,-.8-1.4,1.7z"/><path fill="#ddeb00" d="M471.3,107.6l1.4,-1.5-2.3,-.8-1.3,1.5z"/><path fill="#c9ec00" d="M466.3,110l1.4,-1.6-2.3,-.9-1.4,1.6z"/><path fill="#32f300" d="M439.7,126.3l1.4,-2.1-2.2,-.8-1.4,2.1z"/><path fill="#00f526" d="M428.2,135.6l1.4,-2.3-2.1,-.9-1.5,2.3z"/><path fill="#e1a400" d="M495.1,99.3l1.3,-1.1-2.3,-.8-1.4,1.2z"/><path fill="#0070ef" d="M395.8,170.4l1.5,-2.9-2.1,-1-1.4,2.9z"/><path fill="#53f200" d="M444.7,123.1l1.5,-2-2.2,-.9-1.5,2z"/><path fill="#00f662" d="M421.7,141.9l1.5,-2.5-2.2,-.9-1.4,2.5z"/><path fill="#0008da" d="M387.9,181.6l1.5,-3.1-2.1,-1-1.4,3z"/><path fill="#e4b400" d="M490.1,101l1.3,-1.3-2.3,-.7-1.4,1.2z"/><path fill="#00c0f8" d="M402.3,162.8l1.4,-2.8-2,-1-1.5,2.8z"/><path fill="#00f6a2" d="M415.2,148.5l1.5,-2.6-2.1,-.9-1.5,2.5z"/><path fill="#00f402" d="M433.2,132l1.5,-2.2-2.2,-.9-1.4,2.2z"/><path fill="#00f7e7" d="M408.8,155.4l1.4,-2.6-2.1,-1-1.4,2.7z"/><path fill="#70f100" d="M449.8,120l1.4,-1.9-2.2,-.9-1.4,1.9z"/><path fill="#e6c500" d="M485,102.8l1.4,-1.4-2.3,-.7-1.4,1.3z"/><path fill="#8cf000" d="M454.8,117l1.4,-1.8-2.2,-.8-1.4,1.8z"/><path fill="#0054ea" d="M394.4,173.4l1.4,-3-2,-1-1.5,3z"/><path fill="#e8d800" d="M480,104.7l1.4,-1.4-2.3,-.8-1.4,1.4z"/><path fill="#a5ee00" d="M459.9,114.2l1.4,-1.7-2.3,-.8-1.4,1.7z"/><path fill="#00f53b" d="M426.8,138l1.4,-2.4-2.2,-.9-1.4,2.4z"/><path fill="#e6ea00" d="M475,106.9l1.4,-1.5-2.3,-.8-1.4,1.5z"/><path fill="#21f300" d="M438.3,128.5l1.4,-2.2-2.2,-.8-1.4,2.1z"/><path fill="#beed00" d="M464.9,111.6l1.4,-1.6-2.3,-.9-1.3,1.7z"/><path fill="#d3eb00" d="M469.9,109.2l1.4,-1.6-2.2,-.8-1.4,1.6z"/><path fill="#e09e00" d="M498.7,98.9l1.4,-1.1-2.4,-.7-1.3,1.1z"/><path fill="#00a7f8" d="M400.8,165.6l1.5,-2.8-2.1,-1-1.5,2.8z"/><path fill="#00f678" d="M420.3,144.3l1.4,-2.4-2.1,-.9-1.5,2.4z"/><path fill="#00eff7" d="M407.3,158.2l1.5,-2.8-2.1,-.9-1.5,2.7z"/><path fill="#00f7b9" d="M413.8,151.1l1.4,-2.6-2.1,-1-1.4,2.6z"/><path fill="#42f200" d="M443.3,125.1l1.4,-2-2.2,-.9-1.4,2z"/><path fill="#e2ac00" d="M493.7,100.5l1.4,-1.2-2.4,-.7-1.3,1.1z"/><path fill="#0039e4" d="M392.9,176.4l1.5,-3-2.1,-1-1.5,3z"/><path fill="#00f415" d="M431.8,134.2l1.4,-2.2-2.1,-.9-1.5,2.2z"/><path fill="#61f100" d="M448.4,121.9l1.4,-1.9-2.2,-.9-1.4,2z"/><path fill="#e5bd00" d="M488.7,102.2l1.4,-1.2-2.4,-.8-1.3,1.2z"/><path fill="#008af3" d="M399.4,168.5l1.4,-2.9-2.1,-1-1.4,2.9z"/><path fill="#00f54f" d="M425.3,140.4l1.5,-2.4-2.2,-.9-1.4,2.3z"/><path fill="#7df000" d="M453.4,118.9l1.4,-1.9-2.2,-.8-1.4,1.9z"/><path fill="#e7cf00" d="M483.7,104.1l1.3,-1.3-2.3,-.8-1.3,1.3z"/><path fill="#0ff400" d="M436.8,130.6l1.5,-2.1-2.2,-.9-1.4,2.2z"/><path fill="#99ef00" d="M458.5,116l1.4,-1.8-2.3,-.8-1.4,1.8z"/><path fill="#00d7f7" d="M405.8,160.9l1.5,-2.7-2.1,-1-1.5,2.8z"/><path fill="#00f68d" d="M418.8,146.8l1.5,-2.5-2.2,-.9-1.4,2.5z"/><path fill="#e9e300" d="M478.6,106.2l1.4,-1.5-2.3,-.8-1.3,1.5z"/><path fill="#0020df" d="M391.4,179.5l1.5,-3.1-2.1,-1-1.4,3.1z"/><path fill="#00f7d0" d="M412.3,153.7l1.5,-2.6-2.1,-1-1.5,2.7z"/><path fill="#b1ee00" d="M463.5,113.3l1.4,-1.7-2.2,-.8-1.4,1.7z"/><path fill="#dceb00" d="M473.6,108.4l1.4,-1.5-2.3,-.8-1.4,1.5z"/><path fill="#c8ec00" d="M468.6,110.8l1.3,-1.6-2.2,-.8-1.4,1.6z"/><path fill="#31f300" d="M441.9,127.2l1.4,-2.1-2.2,-.9-1.4,2.1z"/><path fill="#00f528" d="M430.4,136.5l1.4,-2.3-2.2,-.9-1.4,2.3z"/><path fill="#e1a500" d="M497.4,100.1l1.3,-1.2-2.3,-.7-1.3,1.1z"/><path fill="#006eee" d="M397.9,171.4l1.5,-2.9-2.1,-1-1.5,2.9z"/><path fill="#51f200" d="M446.9,123.9l1.5,-2-2.2,-.8-1.5,2z"/><path fill="#00f663" d="M423.9,142.8l1.4,-2.4-2.1,-1-1.5,2.5z"/><path fill="#0006da" d="M390,182.6l1.4,-3.1-2,-1-1.5,3.1z"/><path fill="#e4b500" d="M492.4,101.7l1.3,-1.2-2.3,-.8-1.3,1.3z"/><path fill="#00bff7" d="M404.4,163.7l1.4,-2.8-2.1,-.9-1.4,2.8z"/><path fill="#00f6a3" d="M417.4,149.4l1.4,-2.6-2.1,-.9-1.5,2.6z"/><path fill="#00f403" d="M435.4,132.8l1.4,-2.2-2.1,-.8-1.5,2.2z"/><path fill="#00f7e7" d="M410.9,156.4l1.4,-2.7-2.1,-.9-1.4,2.6z"/><path fill="#6ef100" d="M452,120.8l1.4,-1.9-2.2,-.8-1.4,1.9z"/><path fill="#e6c600" d="M487.3,103.5l1.4,-1.3-2.3,-.8-1.4,1.4z"/><path fill="#8bf000" d="M457.1,117.8l1.4,-1.8-2.3,-.8-1.4,1.8z"/><path fill="#0053e9" d="M396.4,174.4l1.5,-3-2.1,-1-1.4,3z"/><path fill="#e8d900" d="M482.3,105.5l1.4,-1.4-2.3,-.8-1.4,1.4z"/><path fill="#a4ee00" d="M462.1,115.1l1.4,-1.8-2.2,-.8-1.4,1.7z"/><path fill="#00f53c" d="M428.9,138.9l1.5,-2.4-2.2,-.9-1.4,2.4z"/><path fill="#e5ea00" d="M477.3,107.6l1.3,-1.4-2.2,-.8-1.4,1.5z"/><path fill="#1ff300" d="M440.5,129.3l1.4,-2.1-2.2,-.9-1.4,2.2z"/><path fill="#bced00" d="M467.2,112.4l1.4,-1.6-2.3,-.8-1.4,1.6z"/><path fill="#d1eb00" d="M472.2,110l1.4,-1.6-2.3,-.8-1.4,1.6z"/><path fill="#00a5f8" d="M402.9,166.6l1.5,-2.9-2.1,-.9-1.5,2.8z"/><path fill="#00f678" d="M422.4,145.3l1.5,-2.5-2.2,-.9-1.4,2.4z"/><path fill="#00eef7" d="M409.4,159.1l1.5,-2.7-2.1,-1-1.5,2.8z"/><path fill="#00f6bb" d="M415.9,152l1.5,-2.6-2.2,-.9-1.4,2.6z"/><path fill="#41f200" d="M445.5,126l1.4,-2.1-2.2,-.8-1.4,2z"/><path fill="#e2ad00" d="M496.1,101.2l1.3,-1.1-2.3,-.8-1.4,1.2z"/><path fill="#0038e4" d="M395,177.4l1.4,-3-2,-1-1.5,3z"/><path fill="#00f416" d="M434,135.1l1.4,-2.3-2.2,-.8-1.4,2.2z"/><path fill="#60f100" d="M450.6,122.8l1.4,-2-2.2,-.8-1.4,1.9z"/><path fill="#e4be00" d="M491,103l1.4,-1.3-2.3,-.7-1.4,1.2z"/><path fill="#0089f3" d="M401.5,169.5l1.4,-2.9-2.1,-1-1.4,2.9z"/><path fill="#00f550" d="M427.5,141.3l1.4,-2.4-2.1,-.9-1.5,2.4z"/><path fill="#7cf000" d="M455.6,119.7l1.5,-1.9-2.3,-.8-1.4,1.9z"/><path fill="#0ef300" d="M439,131.5l1.5,-2.2-2.2,-.8-1.5,2.1z"/><path fill="#e7d000" d="M486,104.9l1.3,-1.4-2.3,-.7-1.3,1.3z"/><path fill="#00d6f7" d="M407.9,161.9l1.5,-2.8-2.1,-.9-1.5,2.7z"/><path fill="#97ef00" d="M460.7,116.8l1.4,-1.7-2.2,-.9-1.4,1.8z"/><path fill="#00f68f" d="M421,147.8l1.4,-2.5-2.1,-1-1.5,2.5z"/><path fill="#001edf" d="M393.5,180.5l1.5,-3.1-2.1,-1-1.5,3.1z"/><path fill="#e9e400" d="M480.9,106.9l1.4,-1.4-2.3,-.8-1.4,1.5z"/><path fill="#00f7d2" d="M414.5,154.6l1.4,-2.6-2.1,-.9-1.5,2.6z"/><path fill="#b0ed00" d="M465.8,114.1l1.4,-1.7-2.3,-.8-1.4,1.7z"/><path fill="#dbea00" d="M475.9,109.2l1.4,-1.6-2.3,-.7-1.4,1.5z"/><path fill="#c6ec00" d="M470.8,111.6l1.4,-1.6-2.3,-.8-1.3,1.6z"/><path fill="#30f300" d="M444.1,128.1l1.4,-2.1-2.2,-.9-1.4,2.1z"/><path fill="#00f429" d="M432.5,137.4l1.5,-2.3-2.2,-.9-1.4,2.3z"/><path fill="#006dee" d="M400,172.4l1.5,-2.9-2.1,-1-1.5,2.9z"/><path fill="#50f200" d="M449.2,124.8l1.4,-2-2.2,-.9-1.5,2z"/><path fill="#0005d9" d="M392,183.6l1.5,-3.1-2.1,-1-1.4,3.1z"/><path fill="#00f565" d="M426,143.7l1.5,-2.4-2.2,-.9-1.4,2.4z"/><path fill="#00bdf7" d="M406.5,164.7l1.4,-2.8-2.1,-1-1.4,2.8z"/><path fill="#e3b600" d="M494.7,102.5l1.4,-1.3-2.4,-.7-1.3,1.2z"/><path fill="#00f6a5" d="M419.5,150.3l1.5,-2.5-2.2,-1-1.4,2.6z"/><path fill="#00f405" d="M437.6,133.7l1.4,-2.2-2.2,-.9-1.4,2.2z"/><path fill="#00f7e9" d="M413,157.3l1.5,-2.7-2.2,-.9-1.4,2.7z"/><path fill="#6df000" d="M454.2,121.6l1.4,-1.9-2.2,-.8-1.4,1.9z"/><path fill="#e5c700" d="M489.7,104.3l1.3,-1.3-2.3,-.8-1.4,1.3z"/><path fill="#89ef00" d="M459.3,118.7l1.4,-1.9-2.2,-.8-1.4,1.8z"/><path fill="#0051e9" d="M398.5,175.4l1.5,-3-2.1,-1-1.5,3z"/><path fill="#e7da00" d="M484.6,106.3l1.4,-1.4-2.3,-.8-1.4,1.4z"/><path fill="#a3ee00" d="M464.4,115.9l1.4,-1.8-2.3,-.8-1.4,1.8z"/><path fill="#00f53d" d="M431.1,139.8l1.4,-2.4-2.1,-.9-1.5,2.4z"/><path fill="#1ef300" d="M442.7,130.2l1.4,-2.1-2.2,-.9-1.4,2.1z"/><path fill="#e4e900" d="M479.6,108.4l1.3,-1.5-2.3,-.7-1.3,1.4z"/><path fill="#baed00" d="M469.4,113.2l1.4,-1.6-2.2,-.8-1.4,1.6z"/><path fill="#d0eb00" d="M474.5,110.7l1.4,-1.5-2.3,-.8-1.4,1.6z"/><path fill="#00a4f7" d="M405,167.6l1.5,-2.9-2.1,-1-1.5,2.9z"/><path fill="#00f67a" d="M424.6,146.2l1.4,-2.5-2.1,-.9-1.5,2.5z"/><path fill="#00ecf7" d="M411.5,160.1l1.5,-2.8-2.1,-.9-1.5,2.7z"/><path fill="#00f6bb" d="M418,152.9l1.5,-2.6-2.1,-.9-1.5,2.6z"/><path fill="#40f200" d="M447.7,126.8l1.5,-2-2.3,-.9-1.4,2.1z"/><path fill="#0036e4" d="M397,178.4l1.5,-3-2.1,-1-1.4,3z"/><path fill="#00f417" d="M436.1,136l1.5,-2.3-2.2,-.9-1.4,2.3z"/><path fill="#5ef100" d="M452.8,123.6l1.4,-2-2.2,-.8-1.4,2z"/><path fill="#e4bf00" d="M493.4,103.7l1.3,-1.2-2.3,-.8-1.4,1.3z"/><path fill="#0087f2" d="M403.5,170.5l1.5,-2.9-2.1,-1-1.4,2.9z"/><path fill="#00f552" d="M429.6,142.2l1.5,-2.4-2.2,-.9-1.4,2.4z"/><path fill="#7bf000" d="M457.9,120.6l1.4,-1.9-2.2,-.9-1.5,1.9z"/><path fill="#0cf300" d="M441.2,132.4l1.5,-2.2-2.2,-.9-1.5,2.2z"/><path fill="#e6d100" d="M488.3,105.6l1.4,-1.3-2.4,-.8-1.3,1.4z"/><path fill="#00d4f7" d="M410.1,162.8l1.4,-2.7-2.1,-1-1.5,2.8z"/><path fill="#00f690" d="M423.1,148.7l1.5,-2.5-2.2,-.9-1.4,2.5z"/><path fill="#96ef00" d="M463,117.7l1.4,-1.8-2.3,-.8-1.4,1.7z"/><path fill="#001dde" d="M395.6,181.5l1.4,-3.1-2,-1-1.5,3.1z"/><path fill="#e8e500" d="M483.2,107.7l1.4,-1.4-2.3,-.8-1.4,1.4z"/><path fill="#00f7d3" d="M416.6,155.6l1.4,-2.7-2.1,-.9-1.4,2.6z"/><path fill="#afed00" d="M468,114.9l1.4,-1.7-2.2,-.8-1.4,1.7z"/><path fill="#daea00" d="M478.2,110l1.4,-1.6-2.3,-.8-1.4,1.6z"/><path fill="#c5ec00" d="M473.1,112.4l1.4,-1.7-2.3,-.7-1.4,1.6z"/><path fill="#2ff200" d="M446.3,128.9l1.4,-2.1-2.2,-.8-1.4,2.1z"/><path fill="#00f42a" d="M434.7,138.3l1.4,-2.3-2.1,-.9-1.5,2.3z"/><path fill="#006bed" d="M402.1,173.4l1.4,-2.9-2,-1-1.5,2.9z"/><path fill="#4ff100" d="M451.4,125.6l1.4,-2-2.2,-.8-1.4,2z"/><path fill="#0003d9" d="M394.1,184.6l1.5,-3.1-2.1,-1-1.5,3.1z"/><path fill="#00f566" d="M428.2,144.6l1.4,-2.4-2.1,-.9-1.5,2.4z"/><path fill="#00bcf7" d="M408.6,165.7l1.5,-2.9-2.2,-.9-1.4,2.8z"/><path fill="#00f6a6" d="M421.7,151.3l1.4,-2.6-2.1,-.9-1.5,2.5z"/><path fill="#00f406" d="M439.8,134.6l1.4,-2.2-2.2,-.9-1.4,2.2z"/><path fill="#00f7ea" d="M415.1,158.3l1.5,-2.7-2.1,-1-1.5,2.7z"/><path fill="#6cf000" d="M456.5,122.5l1.4,-1.9-2.3,-.9-1.4,1.9z"/><path fill="#e5c800" d="M492,105.1l1.4,-1.4-2.4,-.7-1.3,1.3z"/><path fill="#88ef00" d="M461.5,119.5l1.5,-1.8-2.3,-.9-1.4,1.9z"/><path fill="#0050e8" d="M400.6,176.4l1.5,-3-2.1,-1-1.5,3z"/><path fill="#e7db00" d="M486.9,107.1l1.4,-1.5-2.3,-.7-1.4,1.4z"/><path fill="#a2ee00" d="M466.6,116.7l1.4,-1.8-2.2,-.8-1.4,1.8z"/><path fill="#00f53e" d="M433.3,140.7l1.4,-2.4-2.2,-.9-1.4,2.4z"/><path fill="#1ef300" d="M444.9,131.1l1.4,-2.2-2.2,-.8-1.4,2.1z"/><path fill="#e3e900" d="M481.9,109.2l1.3,-1.5-2.3,-.8-1.3,1.5z"/><path fill="#b9ec00" d="M471.7,114l1.4,-1.6-2.3,-.8-1.4,1.6z"/><path fill="#cfeb00" d="M476.8,111.5l1.4,-1.5-2.3,-.8-1.4,1.5z"/><path fill="#00a3f7" d="M407.1,168.5l1.5,-2.8-2.1,-1-1.5,2.9z"/><path fill="#00f57b" d="M426.7,147.1l1.5,-2.5-2.2,-.9-1.4,2.5z"/><path fill="#00ebf7" d="M413.7,161l1.4,-2.7-2.1,-1-1.5,2.8z"/><path fill="#00f6bc" d="M420.2,153.9l1.5,-2.6-2.2,-1-1.5,2.6z"/><path fill="#3ff200" d="M450,127.7l1.4,-2.1-2.2,-.8-1.5,2z"/><path fill="#0035e3" d="M399.1,179.4l1.5,-3-2.1,-1-1.5,3z"/><path fill="#00f419" d="M438.3,136.9l1.5,-2.3-2.2,-.9-1.5,2.3z"/><path fill="#5df100" d="M455,124.4l1.5,-1.9-2.3,-.9-1.4,2z"/><path fill="#0086f2" d="M405.7,171.4l1.4,-2.9-2.1,-.9-1.5,2.9z"/><path fill="#00f553" d="M431.8,143.1l1.5,-2.4-2.2,-.9-1.5,2.4z"/><path fill="#7af000" d="M460.1,121.4l1.4,-1.9-2.2,-.8-1.4,1.9z"/><path fill="#0bf300" d="M443.4,133.2l1.5,-2.1-2.2,-.9-1.5,2.2z"/><path fill="#e6d100" d="M490.6,106.4l1.4,-1.3-2.3,-.8-1.4,1.3z"/><path fill="#00d3f7" d="M412.2,163.8l1.5,-2.8-2.2,-.9-1.4,2.7z"/><path fill="#00f691" d="M425.3,149.6l1.4,-2.5-2.1,-.9-1.5,2.5z"/><path fill="#95ee00" d="M465.2,118.5l1.4,-1.8-2.2,-.8-1.4,1.8z"/><path fill="#001cde" d="M397.7,182.5l1.4,-3.1-2.1,-1-1.4,3.1z"/><path fill="#00f6d4" d="M418.7,156.5l1.5,-2.6-2.2,-1-1.4,2.7z"/><path fill="#e8e500" d="M485.6,108.5l1.3,-1.4-2.3,-.8-1.4,1.4z"/><path fill="#aeed00" d="M470.3,115.7l1.4,-1.7-2.3,-.8-1.4,1.7z"/><path fill="#d8ea00" d="M480.5,110.7l1.4,-1.5-2.3,-.8-1.4,1.6z"/><path fill="#c4eb00" d="M475.4,113.2l1.4,-1.7-2.3,-.8-1.4,1.7z"/><path fill="#2ef200" d="M448.5,129.8l1.5,-2.1-2.3,-.9-1.4,2.1z"/><path fill="#00f42c" d="M436.9,139.2l1.4,-2.3-2.2,-.9-1.4,2.3z"/><path fill="#006aed" d="M404.2,174.4l1.5,-3-2.2,-.9-1.4,2.9z"/><path fill="#4ef100" d="M453.6,126.5l1.4,-2.1-2.2,-.8-1.4,2z"/><path fill="#0003d9" d="M396.2,185.6l1.5,-3.1-2.1,-1-1.5,3.1z"/><path fill="#00f567" d="M430.4,145.5l1.4,-2.4-2.2,-.9-1.4,2.4z"/><path fill="#00baf7" d="M410.7,166.6l1.5,-2.8-2.1,-1-1.5,2.9z"/><path fill="#00f6a7" d="M423.8,152.2l1.5,-2.6-2.2,-.9-1.4,2.6z"/><path fill="#00f7eb" d="M417.3,159.2l1.4,-2.7-2.1,-.9-1.5,2.7z"/><path fill="#00f307" d="M442,135.5l1.4,-2.3-2.2,-.8-1.4,2.2z"/><path fill="#6bf000" d="M458.7,123.3l1.4,-1.9-2.2,-.8-1.4,1.9z"/><path fill="#87ef00" d="M463.8,120.3l1.4,-1.8-2.2,-.8-1.5,1.8z"/><path fill="#004fe8" d="M402.7,177.4l1.5,-3-2.1,-1-1.5,3z"/><path fill="#e7db00" d="M489.3,107.8l1.3,-1.4-2.3,-.8-1.4,1.5z"/><path fill="#00f43f" d="M435.5,141.5l1.4,-2.3-2.2,-.9-1.4,2.4z"/><path fill="#a1ee00" d="M468.9,117.5l1.4,-1.8-2.3,-.8-1.4,1.8z"/><path fill="#1df300" d="M447.1,131.9l1.4,-2.1-2.2,-.9-1.4,2.2z"/><path fill="#e2e900" d="M484.2,110l1.4,-1.5-2.4,-.8-1.3,1.5z"/><path fill="#b8ec00" d="M474,114.8l1.4,-1.6-2.3,-.8-1.4,1.6z"/><path fill="#ceeb00" d="M479.1,112.3l1.4,-1.6-2.3,-.7-1.4,1.5z"/><path fill="#00a0f7" d="M409.3,169.5l1.4,-2.9-2.1,-.9-1.5,2.8z"/><path fill="#00f57c" d="M428.9,148l1.5,-2.5-2.2,-.9-1.5,2.5z"/><path fill="#00eaf7" d="M415.8,162l1.5,-2.8-2.2,-.9-1.4,2.7z"/><path fill="#00f6be" d="M422.4,154.8l1.4,-2.6-2.1,-.9-1.5,2.6z"/><path fill="#3df200" d="M452.2,128.5l1.4,-2-2.2,-.9-1.4,2.1z"/><path fill="#0035e3" d="M401.2,180.4l1.5,-3-2.1,-1-1.5,3z"/><path fill="#00f41a" d="M440.6,137.7l1.4,-2.2-2.2,-.9-1.5,2.3z"/><path fill="#5cf100" d="M457.3,125.3l1.4,-2-2.2,-.8-1.5,1.9z"/><path fill="#0085f2" d="M407.8,172.4l1.5,-2.9-2.2,-1-1.4,2.9z"/><path fill="#00f553" d="M434,143.9l1.5,-2.4-2.2,-.8-1.5,2.4z"/><path fill="#79ef00" d="M462.4,122.2l1.4,-1.9-2.3,-.8-1.4,1.9z"/><path fill="#0af300" d="M445.7,134.1l1.4,-2.2-2.2,-.8-1.5,2.1z"/><path fill="#00d2f7" d="M414.3,164.8l1.5,-2.8-2.1,-1-1.5,2.8z"/><path fill="#00f692" d="M427.4,150.5l1.5,-2.5-2.2,-.9-1.4,2.5z"/><path fill="#94ee00" d="M467.5,119.3l1.4,-1.8-2.3,-.8-1.4,1.8z"/><path fill="#001bde" d="M399.8,183.5l1.4,-3.1-2.1,-1-1.4,3.1z"/><path fill="#00f6d4" d="M420.9,157.5l1.5,-2.7-2.2,-.9-1.5,2.6z"/><path fill="#e8e600" d="M487.9,109.3l1.4,-1.5-2.4,-.7-1.3,1.4z"/><path fill="#aded00" d="M472.6,116.5l1.4,-1.7-2.3,-.8-1.4,1.7z"/><path fill="#d7ea00" d="M482.8,111.5l1.4,-1.5-2.3,-.8-1.4,1.5z"/><path fill="#c3eb00" d="M477.7,113.9l1.4,-1.6-2.3,-.8-1.4,1.7z"/><path fill="#2df200" d="M450.8,130.6l1.4,-2.1-2.2,-.8-1.5,2.1z"/><path fill="#00f42d" d="M439.1,140.1l1.5,-2.4-2.3,-.8-1.4,2.3z"/><path fill="#0069ed" d="M406.3,175.4l1.5,-3-2.1,-1-1.5,3z"/><path fill="#4df100" d="M455.9,127.3l1.4,-2-2.3,-.9-1.4,2.1z"/><path fill="#0002d8" d="M398.3,186.6l1.5,-3.1-2.1,-1-1.5,3.1z"/><path fill="#00f569" d="M432.5,146.4l1.5,-2.5-2.2,-.8-1.4,2.4z"/><path fill="#00b9f7" d="M412.9,167.6l1.4,-2.8-2.1,-1-1.5,2.8z"/><path fill="#00f6a9" d="M426,153.1l1.4,-2.6-2.1,-.9-1.5,2.6z"/><path fill="#00f6ed" d="M419.4,160.2l1.5,-2.7-2.2,-1-1.4,2.7z"/><path fill="#00f308" d="M444.2,136.3l1.5,-2.2-2.3,-.9-1.4,2.3z"/><path fill="#6af000" d="M461,124.1l1.4,-1.9-2.3,-.8-1.4,1.9z"/><path fill="#004ee8" d="M404.8,178.4l1.5,-3-2.1,-1-1.5,3z"/><path fill="#86ef00" d="M466.1,121.1l1.4,-1.8-2.3,-.8-1.4,1.8z"/><path fill="#00f440" d="M437.7,142.4l1.4,-2.3-2.2,-.9-1.4,2.3z"/><path fill="#a0ed00" d="M471.2,118.3l1.4,-1.8-2.3,-.8-1.4,1.8z"/><path fill="#1bf200" d="M449.3,132.8l1.5,-2.2-2.3,-.8-1.4,2.1z"/><path fill="#e0e900" d="M486.5,110.8l1.4,-1.5-2.3,-.8-1.4,1.5z"/><path fill="#b7ec00" d="M476.3,115.6l1.4,-1.7-2.3,-.7-1.4,1.6z"/><path fill="#cdea00" d="M481.4,113.1l1.4,-1.6-2.3,-.8-1.4,1.6z"/><path fill="#009ff6" d="M411.4,170.5l1.5,-2.9-2.2,-1-1.4,2.9z"/><path fill="#00f57e" d="M431.1,148.9l1.4,-2.5-2.1,-.9-1.5,2.5z"/><path fill="#00e9f7" d="M418,162.9l1.4,-2.7-2.1,-1-1.5,2.8z"/><path fill="#00f6bf" d="M424.5,155.7l1.5,-2.6-2.2,-.9-1.4,2.6z"/><path fill="#3cf100" d="M454.4,129.4l1.5,-2.1-2.3,-.8-1.4,2z"/><path fill="#0034e3" d="M403.3,181.4l1.5,-3-2.1,-1-1.5,3z"/><path fill="#00f41b" d="M442.8,138.6l1.4,-2.3-2.2,-.8-1.4,2.2z"/><path fill="#5af000" d="M459.6,126.1l1.4,-2-2.3,-.8-1.4,2z"/><path fill="#0084f1" d="M409.9,173.4l1.5,-2.9-2.1,-1-1.5,2.9z"/><path fill="#00f554" d="M436.2,144.8l1.5,-2.4-2.2,-.9-1.5,2.4z"/><path fill="#78ef00" d="M464.7,123l1.4,-1.9-2.3,-.8-1.4,1.9z"/><path fill="#0af300" d="M447.9,135l1.4,-2.2-2.2,-.9-1.4,2.2z"/><path fill="#00d1f7" d="M416.5,165.7l1.5,-2.8-2.2,-.9-1.5,2.8z"/><path fill="#00f593" d="M429.6,151.4l1.5,-2.5-2.2,-.9-1.5,2.5z"/><path fill="#93ee00" d="M469.8,120.1l1.4,-1.8-2.3,-.8-1.4,1.8z"/><path fill="#0019dd" d="M401.9,184.5l1.4,-3.1-2.1,-1-1.4,3.1z"/><path fill="#00f6d6" d="M423.1,158.4l1.4,-2.7-2.1,-.9-1.5,2.7z"/><path fill="#aced00" d="M474.9,117.3l1.4,-1.7-2.3,-.8-1.4,1.7z"/><path fill="#d6e900" d="M485.1,112.3l1.4,-1.5-2.3,-.8-1.4,1.5z"/><path fill="#c2eb00" d="M480,114.7l1.4,-1.6-2.3,-.8-1.4,1.6z"/><path fill="#2cf200" d="M453,131.5l1.4,-2.1-2.2,-.9-1.4,2.1z"/><path fill="#00f42e" d="M441.3,140.9l1.5,-2.3-2.2,-.9-1.5,2.4z"/><path fill="#0068ec" d="M408.4,176.3l1.5,-2.9-2.1,-1-1.5,3z"/><path fill="#4cf100" d="M458.1,128.1l1.5,-2-2.3,-.8-1.4,2z"/><path fill="#0001d8" d="M400.4,187.6l1.5,-3.1-2.1,-1-1.5,3.1z"/><path fill="#00f56a" d="M434.7,147.3l1.5,-2.5-2.2,-.9-1.5,2.5z"/><path fill="#00b8f7" d="M415,168.5l1.5,-2.8-2.2,-.9-1.4,2.8z"/><path fill="#00f6a9" d="M428.2,154l1.4,-2.6-2.2,-.9-1.4,2.6z"/><path fill="#00f6ee" d="M421.6,161.1l1.5,-2.7-2.2,-.9-1.5,2.7z"/><path fill="#00f309" d="M446.4,137.2l1.5,-2.2-2.2,-.9-1.5,2.2z"/><path fill="#69f000" d="M463.3,125l1.4,-2-2.3,-.8-1.4,1.9z"/><path fill="#004ce7" d="M407,179.3l1.4,-3-2.1,-.9-1.5,3z"/><path fill="#85ef00" d="M468.4,121.9l1.4,-1.8-2.3,-.8-1.4,1.8z"/><path fill="#00f441" d="M439.9,143.3l1.4,-2.4-2.2,-.8-1.4,2.3z"/><path fill="#9fed00" d="M473.5,119.1l1.4,-1.8-2.3,-.8-1.4,1.8z"/><path fill="#1bf200" d="M451.6,133.6l1.4,-2.1-2.2,-.9-1.5,2.2z"/><path fill="#b6ec00" d="M478.6,116.4l1.4,-1.7-2.3,-.8-1.4,1.7z"/><path fill="#ccea00" d="M483.8,113.9l1.3,-1.6-2.3,-.8-1.4,1.6z"/><path fill="#009ef6" d="M413.5,171.4l1.5,-2.9-2.1,-.9-1.5,2.9z"/><path fill="#00f57f" d="M433.3,149.8l1.4,-2.5-2.2,-.9-1.4,2.5z"/><path fill="#00e8f6" d="M420.1,163.8l1.5,-2.7-2.2,-.9-1.4,2.7z"/><path fill="#00f6c0" d="M426.7,156.6l1.5,-2.6-2.2,-.9-1.5,2.6z"/><path fill="#3bf100" d="M456.7,130.2l1.4,-2.1-2.2,-.8-1.5,2.1z"/><path fill="#0033e2" d="M405.5,182.4l1.5,-3.1-2.2,-.9-1.5,3z"/><path fill="#00f31c" d="M445,139.5l1.4,-2.3-2.2,-.9-1.4,2.3z"/><path fill="#5af000" d="M461.8,126.9l1.5,-1.9-2.3,-.9-1.4,2z"/><path fill="#0082f1" d="M412.1,174.3l1.4,-2.9-2.1,-.9-1.5,2.9z"/><path fill="#00f455" d="M438.4,145.7l1.5,-2.4-2.2,-.9-1.5,2.4z"/><path fill="#77ef00" d="M467,123.8l1.4,-1.9-2.3,-.8-1.4,1.9z"/><path fill="#09f300" d="M450.1,135.8l1.5,-2.2-2.3,-.8-1.4,2.2z"/><path fill="#00d0f7" d="M418.6,166.6l1.5,-2.8-2.1,-.9-1.5,2.8z"/><path fill="#00f594" d="M431.8,152.3l1.5,-2.5-2.2,-.9-1.5,2.5z"/><path fill="#91ee00" d="M472.1,120.9l1.4,-1.8-2.3,-.8-1.4,1.8z"/><path fill="#0018dd" d="M404,185.5l1.5,-3.1-2.2,-1-1.4,3.1z"/><path fill="#00f6d7" d="M425.2,159.3l1.5,-2.7-2.2,-.9-1.4,2.7z"/><path fill="#abec00" d="M477.2,118.1l1.4,-1.7-2.3,-.8-1.4,1.7z"/><path fill="#c1eb00" d="M482.4,115.5l1.4,-1.6-2.4,-.8-1.4,1.6z"/><path fill="#2bf200" d="M455.3,132.3l1.4,-2.1-2.3,-.8-1.4,2.1z"/><path fill="#00f42f" d="M443.6,141.8l1.4,-2.3-2.2,-.9-1.5,2.3z"/><path fill="#0067ec" d="M410.6,177.3l1.5,-3-2.2,-.9-1.5,2.9z"/><path fill="#4bf100" d="M460.4,129l1.4,-2.1-2.2,-.8-1.5,2z"/><path fill="#0000d8" d="M402.5,188.6l1.5,-3.1-2.1,-1-1.5,3.1z"/><path fill="#00f56a" d="M437,148.2l1.4,-2.5-2.2,-.9-1.5,2.5z"/><path fill="#00b7f7" d="M417.2,169.5l1.4,-2.9-2.1,-.9-1.5,2.8z"/><path fill="#00f5aa" d="M430.4,154.9l1.4,-2.6-2.2,-.9-1.4,2.6z"/><path fill="#00f6ee" d="M423.8,162l1.4,-2.7-2.1,-.9-1.5,2.7z"/><path fill="#00f30a" d="M448.7,138.1l1.4,-2.3-2.2,-.8-1.5,2.2z"/><path fill="#68f000" d="M465.6,125.8l1.4,-2-2.3,-.8-1.4,2z"/><path fill="#004be7" d="M409.1,180.3l1.5,-3-2.2,-1-1.4,3z"/><path fill="#84ee00" d="M470.7,122.8l1.4,-1.9-2.3,-.8-1.4,1.8z"/><path fill="#00f442" d="M442.1,144.2l1.5,-2.4-2.3,-.9-1.4,2.4z"/><path fill="#9eed00" d="M475.8,119.9l1.4,-1.8-2.3,-.8-1.4,1.8z"/><path fill="#1af200" d="M453.8,134.5l1.5,-2.2-2.3,-.8-1.4,2.1z"/><path fill="#b6ec00" d="M481,117.2l1.4,-1.7-2.4,-.8-1.4,1.7z"/><path fill="#009df5" d="M415.7,172.4l1.5,-2.9-2.2,-1-1.5,2.9z"/><path fill="#00f580" d="M435.5,150.7l1.5,-2.5-2.3,-.9-1.4,2.5z"/><path fill="#00e7f6" d="M422.3,164.8l1.5,-2.8-2.2,-.9-1.5,2.7z"/><path fill="#00f6c1" d="M428.9,157.6l1.5,-2.7-2.2,-.9-1.5,2.6z"/><path fill="#3bf100" d="M459,131l1.4,-2-2.3,-.9-1.4,2.1z"/><path fill="#0032e2" d="M407.6,183.4l1.5,-3.1-2.1,-1-1.5,3.1z"/><path fill="#00f31d" d="M447.2,140.4l1.5,-2.3-2.3,-.9-1.4,2.3z"/><path fill="#59f000" d="M464.1,127.8l1.5,-2-2.3,-.8-1.5,1.9z"/><path fill="#0081f1" d="M414.2,175.3l1.5,-2.9-2.2,-1-1.4,2.9z"/><path fill="#00f456" d="M440.6,146.6l1.5,-2.4-2.2,-.9-1.5,2.4z"/><path fill="#76ef00" d="M469.3,124.7l1.4,-1.9-2.3,-.9-1.4,1.9z"/><path fill="#08f200" d="M452.4,136.7l1.4,-2.2-2.2,-.9-1.5,2.2z"/><path fill="#00cff6" d="M420.8,167.6l1.5,-2.8-2.2,-1-1.5,2.8z"/><path fill="#00f595" d="M434,153.2l1.5,-2.5-2.2,-.9-1.5,2.5z"/><path fill="#0017dd" d="M406.1,186.5l1.5,-3.1-2.1,-1-1.5,3.1z"/><path fill="#91ee00" d="M474.4,121.7l1.4,-1.8-2.3,-.8-1.4,1.8z"/><path fill="#00f6d8" d="M427.4,160.2l1.5,-2.6-2.2,-1-1.5,2.7z"/><path fill="#a9ec00" d="M479.6,118.9l1.4,-1.7-2.4,-.8-1.4,1.7z"/><path fill="#2af100" d="M457.5,133.2l1.5,-2.2-2.3,-.8-1.4,2.1z"/><path fill="#00f330" d="M445.8,142.7l1.4,-2.3-2.2,-.9-1.4,2.3z"/><path fill="#0066ec" d="M412.7,178.3l1.5,-3-2.1,-1-1.5,3z"/><path fill="#4af000" d="M462.7,129.8l1.4,-2-2.3,-.9-1.4,2.1z"/><path fill="#0000d7" d="M404.6,189.6l1.5,-3.1-2.1,-1-1.5,3.1z"/><path fill="#00f46b" d="M439.2,149.1l1.4,-2.5-2.2,-.9-1.4,2.5z"/><path fill="#00b6f7" d="M419.3,170.4l1.5,-2.8-2.2,-1-1.4,2.9z"/><path fill="#00f5ab" d="M432.6,155.8l1.4,-2.6-2.2,-.9-1.4,2.6z"/><path fill="#00f6ef" d="M426,163l1.4,-2.8-2.2,-.9-1.4,2.7z"/><path fill="#00f30a" d="M450.9,138.9l1.5,-2.2-2.3,-.9-1.4,2.3z"/><path fill="#67ef00" d="M467.9,126.6l1.4,-1.9-2.3,-.9-1.4,2z"/><path fill="#004be7" d="M411.2,181.3l1.5,-3-2.1,-1-1.5,3z"/><path fill="#84ee00" d="M473,123.6l1.4,-1.9-2.3,-.8-1.4,1.9z"/><path fill="#00f443" d="M444.3,145.1l1.5,-2.4-2.2,-.9-1.5,2.4z"/><path fill="#9ded00" d="M478.2,120.7l1.4,-1.8-2.4,-.8-1.4,1.8z"/><path fill="#19f200" d="M456.1,135.3l1.4,-2.1-2.2,-.9-1.5,2.2z"/><path fill="#009cf5" d="M417.9,173.3l1.4,-2.9-2.1,-.9-1.5,2.9z"/><path fill="#00f580" d="M437.7,151.6l1.5,-2.5-2.2,-.9-1.5,2.5z"/><path fill="#00e6f6" d="M424.5,165.7l1.5,-2.7-2.2,-1-1.5,2.8z"/><path fill="#00f5c1" d="M431.1,158.5l1.5,-2.7-2.2,-.9-1.5,2.7z"/><path fill="#3af100" d="M461.3,131.9l1.4,-2.1-2.3,-.8-1.4,2z"/><path fill="#0031e2" d="M409.8,184.4l1.4,-3.1-2.1,-1-1.5,3.1z"/><path fill="#00f31e" d="M449.5,141.2l1.4,-2.3-2.2,-.8-1.5,2.3z"/><path fill="#58f000" d="M466.4,128.6l1.5,-2-2.3,-.8-1.5,2z"/><path fill="#0080f0" d="M416.4,176.3l1.5,-3-2.2,-.9-1.5,2.9z"/><path fill="#00f457" d="M442.9,147.5l1.4,-2.4-2.2,-.9-1.5,2.4z"/><path fill="#75ef00" d="M471.6,125.5l1.4,-1.9-2.3,-.8-1.4,1.9z"/><path fill="#07f200" d="M454.7,137.5l1.4,-2.2-2.3,-.8-1.4,2.2z"/><path fill="#00cef6" d="M423,168.5l1.5,-2.8-2.2,-.9-1.5,2.8z"/><path fill="#00f596" d="M436.3,154.1l1.4,-2.5-2.2,-.9-1.5,2.5z"/><path fill="#0017dc" d="M408.3,187.5l1.5,-3.1-2.2,-1-1.5,3.1z"/><path fill="#90ed00" d="M476.8,122.5l1.4,-1.8-2.4,-.8-1.4,1.8z"/><path fill="#00f6d8" d="M429.6,161.2l1.5,-2.7-2.2,-.9-1.5,2.6z"/><path fill="#29f100" d="M459.8,134l1.5,-2.1-2.3,-.9-1.5,2.2z"/><path fill="#00f330" d="M448,143.6l1.5,-2.4-2.3,-.8-1.4,2.3z"/><path fill="#0065eb" d="M414.9,179.3l1.5,-3-2.2,-1-1.5,3z"/><path fill="#49f000" d="M465,130.6l1.4,-2-2.3,-.8-1.4,2z"/><path fill="#0000d7" d="M406.8,190.6l1.5,-3.1-2.2,-1-1.5,3.1z"/><path fill="#00f46b" d="M441.4,150l1.5,-2.5-2.3,-.9-1.4,2.5z"/><path fill="#00b5f6" d="M421.5,171.4l1.5,-2.9-2.2,-.9-1.5,2.8z"/><path fill="#00f5ab" d="M434.8,156.7l1.5,-2.6-2.3,-.9-1.4,2.6z"/><path fill="#00f6ef" d="M428.2,163.9l1.4,-2.7-2.2,-1-1.4,2.8z"/><path fill="#00f30b" d="M453.2,139.8l1.5,-2.3-2.3,-.8-1.5,2.2z"/><path fill="#67ef00" d="M470.2,127.4l1.4,-1.9-2.3,-.8-1.4,1.9z"/><path fill="#004ae6" d="M413.4,182.3l1.5,-3-2.2,-1-1.5,3z"/><path fill="#83ee00" d="M475.3,124.4l1.5,-1.9-2.4,-.8-1.4,1.9z"/><path fill="#00f444" d="M446.6,145.9l1.4,-2.3-2.2,-.9-1.5,2.4z"/><path fill="#18f200" d="M458.4,136.2l1.4,-2.2-2.3,-.8-1.4,2.1z"/><path fill="#009bf5" d="M420,174.3l1.5,-2.9-2.2,-1-1.4,2.9z"/><path fill="#00f580" d="M440,152.5l1.4,-2.5-2.2,-.9-1.5,2.5z"/><path fill="#00e5f6" d="M426.7,166.7l1.5,-2.8-2.2,-.9-1.5,2.7z"/><path fill="#00f5c2" d="M433.3,159.4l1.5,-2.7-2.2,-.9-1.5,2.7z"/><path fill="#39f100" d="M463.6,132.7l1.4,-2.1-2.3,-.8-1.4,2.1z"/><path fill="#0030e1" d="M411.9,185.4l1.5,-3.1-2.2,-1-1.4,3.1z"/><path fill="#00f31e" d="M451.8,142.1l1.4,-2.3-2.3,-.9-1.4,2.3z"/><path fill="#57f000" d="M468.7,129.4l1.5,-2-2.3,-.8-1.5,2z"/><path fill="#007ff0" d="M418.6,177.2l1.4,-2.9-2.1,-1-1.5,3z"/><path fill="#00f458" d="M445.1,148.4l1.5,-2.5-2.3,-.8-1.4,2.4z"/><path fill="#75ee00" d="M473.9,126.3l1.4,-1.9-2.3,-.8-1.4,1.9z"/><path fill="#07f200" d="M456.9,138.4l1.5,-2.2-2.3,-.9-1.4,2.2z"/><path fill="#00cdf6" d="M425.2,169.5l1.5,-2.8-2.2,-1-1.5,2.8z"/><path fill="#00f596" d="M438.5,155l1.5,-2.5-2.3,-.9-1.4,2.5z"/><path fill="#0016dc" d="M410.4,188.5l1.5,-3.1-2.1,-1-1.5,3.1z"/><path fill="#00f5d9" d="M431.8,162.1l1.5,-2.7-2.2,-.9-1.5,2.7z"/><path fill="#29f100" d="M462.1,134.8l1.5,-2.1-2.3,-.8-1.5,2.1z"/><path fill="#00f331" d="M450.3,144.4l1.5,-2.3-2.3,-.9-1.5,2.4z"/><path fill="#0064eb" d="M417.1,180.2l1.5,-3-2.2,-.9-1.5,3z"/><path fill="#0000d7" d="M408.9,191.6l1.5,-3.1-2.1,-1-1.5,3.1z"/><path fill="#48f000" d="M467.3,131.4l1.4,-2-2.3,-.8-1.4,2z"/><path fill="#00f46c" d="M443.7,150.8l1.4,-2.4-2.2,-.9-1.5,2.5z"/><path fill="#00b5f6" d="M423.7,172.3l1.5,-2.8-2.2,-1-1.5,2.9z"/><path fill="#00f5ac" d="M437,157.6l1.5,-2.6-2.2,-.9-1.5,2.6z"/><path fill="#00f6f0" d="M430.4,164.8l1.4,-2.7-2.2,-.9-1.4,2.7z"/><path fill="#00f20b" d="M455.5,140.6l1.4,-2.2-2.2,-.9-1.5,2.3z"/><path fill="#66ef00" d="M472.5,128.2l1.4,-1.9-2.3,-.8-1.4,1.9z"/><path fill="#0049e6" d="M415.6,183.3l1.5,-3.1-2.2,-.9-1.5,3z"/><path fill="#00f345" d="M448.9,146.8l1.4,-2.4-2.3,-.8-1.4,2.3z"/><path fill="#17f100" d="M460.7,137l1.4,-2.2-2.3,-.8-1.4,2.2z"/><path fill="#009af5" d="M422.2,175.2l1.5,-2.9-2.2,-.9-1.5,2.9z"/><path fill="#00f481" d="M442.2,153.4l1.5,-2.6-2.3,-.8-1.4,2.5z"/><path fill="#00e3f6" d="M428.9,167.6l1.5,-2.8-2.2,-.9-1.5,2.8z"/><path fill="#00f5c2" d="M435.5,160.3l1.5,-2.7-2.2,-.9-1.5,2.7z"/><path fill="#39f000" d="M465.9,133.5l1.4,-2.1-2.3,-.8-1.4,2.1z"/><path fill="#002fe1" d="M414.1,186.3l1.5,-3-2.2,-1-1.5,3.1z"/><path fill="#00f31e" d="M454,142.9l1.5,-2.3-2.3,-.8-1.4,2.3z"/><path fill="#57ef00" d="M471.1,130.2l1.4,-2-2.3,-.8-1.5,2z"/><path fill="#007ef0" d="M420.7,178.2l1.5,-3-2.2,-.9-1.4,2.9z"/><path fill="#00f458" d="M447.4,149.2l1.5,-2.4-2.3,-.9-1.5,2.5z"/><path fill="#06f200" d="M459.2,139.2l1.5,-2.2-2.3,-.8-1.5,2.2z"/><path fill="#00ccf6" d="M427.4,170.4l1.5,-2.8-2.2,-.9-1.5,2.8z"/><path fill="#00f597" d="M440.7,155.9l1.5,-2.5-2.2,-.9-1.5,2.5z"/><path fill="#0016dc" d="M412.6,189.5l1.5,-3.2-2.2,-.9-1.5,3.1z"/><path fill="#00f5d9" d="M434.1,163l1.4,-2.7-2.2,-.9-1.5,2.7z"/><path fill="#28f100" d="M464.4,135.7l1.5,-2.2-2.3,-.8-1.5,2.1z"/><path fill="#00f332" d="M452.6,145.3l1.4,-2.4-2.2,-.8-1.5,2.3z"/><path fill="#0064eb" d="M419.3,181.2l1.4,-3-2.1,-1-1.5,3z"/><path fill="#0000d7" d="M411.1,192.6l1.5,-3.1-2.2,-1-1.5,3.1z"/><path fill="#47f000" d="M469.6,132.3l1.5,-2.1-2.4,-.8-1.4,2z"/><path fill="#00f46d" d="M445.9,151.7l1.5,-2.5-2.3,-.8-1.4,2.4z"/><path fill="#00b3f6" d="M425.9,173.3l1.5,-2.9-2.2,-.9-1.5,2.8z"/><path fill="#00f5ad" d="M439.3,158.5l1.4,-2.6-2.2,-.9-1.5,2.6z"/><path fill="#00f5f1" d="M432.6,165.7l1.5,-2.7-2.3,-.9-1.4,2.7z"/><path fill="#00f20c" d="M457.8,141.5l1.4,-2.3-2.3,-.8-1.4,2.2z"/><path fill="#0048e6" d="M417.8,184.2l1.5,-3-2.2,-1-1.5,3.1z"/><path fill="#00f345" d="M451.1,147.7l1.5,-2.4-2.3,-.9-1.4,2.4z"/><path fill="#17f100" d="M463,137.8l1.4,-2.1-2.3,-.9-1.4,2.2z"/><path fill="#0099f4" d="M424.4,176.2l1.5,-2.9-2.2,-1-1.5,2.9z"/><path fill="#00f481" d="M444.5,154.2l1.4,-2.5-2.2,-.9-1.5,2.6z"/><path fill="#00e3f6" d="M431.1,168.5l1.5,-2.8-2.2,-.9-1.5,2.8z"/><path fill="#00f5c3" d="M437.8,161.2l1.5,-2.7-2.3,-.9-1.5,2.7z"/><path fill="#38f000" d="M468.2,134.3l1.4,-2-2.3,-.9-1.4,2.1z"/><path fill="#002fe1" d="M416.3,187.3l1.5,-3.1-2.2,-.9-1.5,3z"/><path fill="#00f21e" d="M456.3,143.8l1.5,-2.3-2.3,-.9-1.5,2.3z"/><path fill="#007ef0" d="M422.9,179.1l1.5,-2.9-2.2,-1-1.5,3z"/><path fill="#00f459" d="M449.7,150.1l1.4,-2.4-2.2,-.9-1.5,2.4z"/><path fill="#05f200" d="M461.5,140l1.5,-2.2-2.3,-.8-1.5,2.2z"/><path fill="#00cbf6" d="M429.6,171.3l1.5,-2.8-2.2,-.9-1.5,2.8z"/><path fill="#00f497" d="M443,156.8l1.5,-2.6-2.3,-.8-1.5,2.5z"/><path fill="#0016dc" d="M414.8,190.4l1.5,-3.1-2.2,-1-1.5,3.2z"/><path fill="#00f5d9" d="M436.3,163.9l1.5,-2.7-2.3,-.9-1.4,2.7z"/><path fill="#28f100" d="M466.8,136.5l1.4,-2.2-2.3,-.8-1.5,2.2z"/><path fill="#00f332" d="M454.9,146.1l1.4,-2.3-2.3,-.9-1.4,2.4z"/><path fill="#0062eb" d="M421.5,182.1l1.4,-3-2.2,-.9-1.4,3z"/><path fill="#0000d6" d="M413.3,193.6l1.5,-3.2-2.2,-.9-1.5,3.1z"/><path fill="#00f46d" d="M448.2,152.6l1.5,-2.5-2.3,-.9-1.5,2.5z"/><path fill="#00b2f6" d="M428.1,174.2l1.5,-2.9-2.2,-.9-1.5,2.9z"/><path fill="#00f5ad" d="M441.5,159.4l1.5,-2.6-2.3,-.9-1.4,2.6z"/><path fill="#00f5f1" d="M434.8,166.6l1.5,-2.7-2.2,-.9-1.5,2.7z"/><path fill="#00f20c" d="M460.1,142.3l1.4,-2.3-2.3,-.8-1.4,2.3z"/><path fill="#0048e6" d="M420,185.2l1.5,-3.1-2.2,-.9-1.5,3z"/><path fill="#00f346" d="M453.4,148.5l1.5,-2.4-2.3,-.8-1.5,2.4z"/><path fill="#17f100" d="M465.3,138.7l1.5,-2.2-2.4,-.8-1.4,2.1z"/><path fill="#0099f4" d="M426.7,177.1l1.4,-2.9-2.2,-.9-1.5,2.9z"/><path fill="#00f482" d="M446.7,155.1l1.5,-2.5-2.3,-.9-1.4,2.5z"/><path fill="#00e2f5" d="M433.3,169.4l1.5,-2.8-2.2,-.9-1.5,2.8z"/><path fill="#00f5c3" d="M440,162.1l1.5,-2.7-2.2,-.9-1.5,2.7z"/><path fill="#002ee1" d="M418.5,188.3l1.5,-3.1-2.2,-1-1.5,3.1z"/><path fill="#00f21f" d="M458.6,144.6l1.5,-2.3-2.3,-.8-1.5,2.3z"/><path fill="#007def" d="M425.2,180.1l1.5,-3-2.3,-.9-1.5,2.9z"/><path fill="#00f359" d="M452,151l1.4,-2.5-2.3,-.8-1.4,2.4z"/><path fill="#05f100" d="M463.9,140.9l1.4,-2.2-2.3,-.9-1.5,2.2z"/><path fill="#00caf6" d="M431.9,172.3l1.4,-2.9-2.2,-.9-1.5,2.8z"/><path fill="#00f497" d="M445.3,157.7l1.4,-2.6-2.2,-.9-1.5,2.6z"/><path fill="#0015dc" d="M417,191.4l1.5,-3.1-2.2,-1-1.5,3.1z"/><path fill="#00f5da" d="M438.6,164.8l1.4,-2.7-2.2,-.9-1.5,2.7z"/><path fill="#00f332" d="M457.2,147l1.4,-2.4-2.3,-.8-1.4,2.3z"/><path fill="#0062ea" d="M423.7,183.1l1.5,-3-2.3,-1-1.4,3z"/><path fill="#0000d6" d="M415.5,194.6l1.5,-3.2-2.2,-1-1.5,3.2z"/><path fill="#00f46e" d="M450.5,153.5l1.5,-2.5-2.3,-.9-1.5,2.5z"/><path fill="#00b2f6" d="M430.4,175.2l1.5,-2.9-2.3,-1-1.5,2.9z"/><path fill="#00f4ae" d="M443.8,160.3l1.5,-2.6-2.3,-.9-1.5,2.6z"/><path fill="#00f5f1" d="M437.1,167.6l1.5,-2.8-2.3,-.9-1.5,2.7z"/><path fill="#00f20d" d="M462.4,143.2l1.5,-2.3-2.4,-.9-1.4,2.3z"/><path fill="#0047e6" d="M422.2,186.2l1.5,-3.1-2.2,-1-1.5,3.1z"/><path fill="#00f346" d="M455.7,149.4l1.5,-2.4-2.3,-.9-1.5,2.4z"/><path fill="#0098f4" d="M428.9,178.1l1.5,-2.9-2.3,-1-1.4,2.9z"/><path fill="#00f482" d="M449,156l1.5,-2.5-2.3,-.9-1.5,2.5z"/><path fill="#00e2f5" d="M435.6,170.4l1.5,-2.8-2.3,-1-1.5,2.8z"/><path fill="#00f5c4" d="M442.3,163l1.5,-2.7-2.3,-.9-1.5,2.7z"/><path fill="#002ee0" d="M420.7,189.3l1.5,-3.1-2.2,-1-1.5,3.1z"/><path fill="#00f21f" d="M461,145.5l1.4,-2.3-2.3,-.9-1.5,2.3z"/><path fill="#007def" d="M427.4,181l1.5,-2.9-2.2,-1-1.5,3z"/><path fill="#00f35a" d="M454.3,151.8l1.4,-2.4-2.3,-.9-1.4,2.5z"/><path fill="#00caf5" d="M434.1,173.2l1.5,-2.8-2.3,-1-1.4,2.9z"/><path fill="#00f497" d="M447.5,158.6l1.5,-2.6-2.3,-.9-1.4,2.6z"/><path fill="#0015db" d="M419.2,192.4l1.5,-3.1-2.2,-1-1.5,3.1z"/><path fill="#00f5da" d="M440.8,165.7l1.5,-2.7-2.3,-.9-1.4,2.7z"/><path fill="#00f232" d="M459.5,147.8l1.5,-2.3-2.4,-.9-1.4,2.4z"/><path fill="#0061ea" d="M425.9,184.1l1.5,-3.1-2.2,-.9-1.5,3z"/><path fill="#0000d6" d="M417.7,195.6l1.5,-3.2-2.2,-1-1.5,3.2z"/><path fill="#00f36e" d="M452.8,154.3l1.5,-2.5-2.3,-.8-1.5,2.5z"/><path fill="#00b1f6" d="M432.6,176.1l1.5,-2.9-2.2,-.9-1.5,2.9z"/><path fill="#00f4ad" d="M446.1,161.2l1.4,-2.6-2.2,-.9-1.5,2.6z"/><path fill="#00f5f1" d="M439.3,168.5l1.5,-2.8-2.2,-.9-1.5,2.8z"/><path fill="#0047e5" d="M424.4,187.1l1.5,-3-2.2,-1-1.5,3.1z"/><path fill="#00f345" d="M458,150.3l1.5,-2.5-2.3,-.8-1.5,2.4z"/><path fill="#0098f4" d="M431.1,179l1.5,-2.9-2.2,-.9-1.5,2.9z"/><path fill="#00f483" d="M451.3,156.9l1.5,-2.6-2.3,-.8-1.5,2.5z"/><path fill="#00e1f5" d="M437.9,171.3l1.4,-2.8-2.2,-.9-1.5,2.8z"/><path fill="#00f5c4" d="M444.6,163.9l1.5,-2.7-2.3,-.9-1.5,2.7z"/><path fill="#002de0" d="M422.9,190.2l1.5,-3.1-2.2,-.9-1.5,3.1z"/><path fill="#007cef" d="M429.6,182l1.5,-3-2.2,-.9-1.5,2.9z"/><path fill="#00f35a" d="M456.6,152.7l1.4,-2.4-2.3,-.9-1.4,2.4z"/><path fill="#00c9f5" d="M436.4,174.1l1.5,-2.8-2.3,-.9-1.5,2.8z"/><path fill="#00f498" d="M449.8,159.5l1.5,-2.6-2.3,-.9-1.5,2.6z"/><path fill="#0014db" d="M421.4,193.4l1.5,-3.2-2.2,-.9-1.5,3.1z"/><path fill="#00f5db" d="M443.1,166.6l1.5,-2.7-2.3,-.9-1.5,2.7z"/><path fill="#0061ea" d="M428.1,185l1.5,-3-2.2,-1-1.5,3.1z"/><path fill="#0000d6" d="M419.9,196.6l1.5,-3.2-2.2,-1-1.5,3.2z"/><path fill="#00f36e" d="M455.1,155.2l1.5,-2.5-2.3,-.9-1.5,2.5z"/><path fill="#00b1f5" d="M434.9,177l1.5,-2.9-2.3,-.9-1.5,2.9z"/><path fill="#00f4ad" d="M448.4,162.1l1.4,-2.6-2.3,-.9-1.4,2.6z"/><path fill="#00f5f2" d="M441.6,169.4l1.5,-2.8-2.3,-.9-1.5,2.8z"/><path fill="#0047e5" d="M426.6,188.1l1.5,-3.1-2.2,-.9-1.5,3z"/><path fill="#0097f3" d="M433.4,180l1.5,-3-2.3,-.9-1.5,2.9z"/><path fill="#00f483" d="M453.6,157.8l1.5,-2.6-2.3,-.9-1.5,2.6z"/><path fill="#00e1f5" d="M440.1,172.2l1.5,-2.8-2.3,-.9-1.4,2.8z"/><path fill="#00f4c3" d="M446.9,164.8l1.5,-2.7-2.3,-.9-1.5,2.7z"/><path fill="#002de0" d="M425.1,191.2l1.5,-3.1-2.2,-1-1.5,3.1z"/><path fill="#007cef" d="M431.9,182.9l1.5,-2.9-2.3,-1-1.5,3z"/><path fill="#00c9f5" d="M438.6,175l1.5,-2.8-2.2,-.9-1.5,2.8z"/><path fill="#00f498" d="M452.1,160.4l1.5,-2.6-2.3,-.9-1.5,2.6z"/><path fill="#0014db" d="M423.6,194.4l1.5,-3.2-2.2,-1-1.5,3.2z"/><path fill="#00f5db" d="M445.4,167.5l1.5,-2.7-2.3,-.9-1.5,2.7z"/><path fill="#0061ea" d="M430.4,186l1.5,-3.1-2.3,-.9-1.5,3z"/><path fill="#0000d6" d="M422.1,197.6l1.5,-3.2-2.2,-1-1.5,3.2z"/><path fill="#00b1f5" d="M437.1,177.9l1.5,-2.9-2.2,-.9-1.5,2.9z"/><path fill="#00f4ae" d="M450.7,163l1.4,-2.6-2.3,-.9-1.4,2.6z"/><path fill="#00f5f2" d="M443.9,170.3l1.5,-2.8-2.3,-.9-1.5,2.8z"/><path fill="#0046e5" d="M428.9,189l1.5,-3-2.3,-1-1.5,3.1z"/><path fill="#0097f3" d="M435.6,180.9l1.5,-3-2.2,-.9-1.5,3z"/><path fill="#00e1f5" d="M442.4,173.1l1.5,-2.8-2.3,-.9-1.5,2.8z"/><path fill="#00f4c4" d="M449.2,165.7l1.5,-2.7-2.3,-.9-1.5,2.7z"/><path fill="#002de0" d="M427.4,192.2l1.5,-3.2-2.3,-.9-1.5,3.1z"/><path fill="#007cef" d="M434.1,183.9l1.5,-3-2.2,-.9-1.5,2.9z"/><path fill="#00c9f5" d="M440.9,176l1.5,-2.9-2.3,-.9-1.5,2.8z"/><path fill="#0014db" d="M425.9,195.3l1.5,-3.1-2.3,-1-1.5,3.2z"/><path fill="#00f4db" d="M447.7,168.4l1.5,-2.7-2.3,-.9-1.5,2.7z"/><path fill="#0060ea" d="M432.6,186.9l1.5,-3-2.2,-1-1.5,3.1z"/><path fill="#0000d6" d="M424.3,198.5l1.6,-3.2-2.3,-.9-1.5,3.2z"/><path fill="#00b1f5" d="M439.4,178.9l1.5,-2.9-2.3,-1-1.5,2.9z"/><path fill="#00f5f2" d="M446.2,171.2l1.5,-2.8-2.3,-.9-1.5,2.8z"/><path fill="#0046e5" d="M431.1,190l1.5,-3.1-2.2,-.9-1.5,3z"/><path fill="#0097f3" d="M437.9,181.8l1.5,-2.9-2.3,-1-1.5,3z"/><path fill="#00e1f5" d="M444.7,174l1.5,-2.8-2.3,-.9-1.5,2.8z"/><path fill="#002de0" d="M429.6,193.1l1.5,-3.1-2.2,-1-1.5,3.2z"/><path fill="#007bee" d="M436.4,184.8l1.5,-3-2.3,-.9-1.5,3z"/><path fill="#00c9f5" d="M443.2,176.9l1.5,-2.9-2.3,-.9-1.5,2.9z"/><path fill="#0014db" d="M428.1,196.3l1.5,-3.2-2.2,-.9-1.5,3.1z"/><path fill="#0060ea" d="M434.9,187.9l1.5,-3.1-2.3,-.9-1.5,3z"/><path fill="#0000d6" d="M426.6,199.5l1.5,-3.2-2.2,-1-1.6,3.2z"/><path fill="#00b1f5" d="M441.7,179.8l1.5,-2.9-2.3,-.9-1.5,2.9z"/><path fill="#0046e5" d="M433.4,191l1.5,-3.1-2.3,-1-1.5,3.1z"/><path fill="#0097f3" d="M440.2,182.8l1.5,-3-2.3,-.9-1.5,2.9z"/><path fill="#002de0" d="M431.9,194.1l1.5,-3.1-2.3,-1-1.5,3.1z"/><path fill="#007bee" d="M438.7,185.8l1.5,-3-2.3,-1-1.5,3z"/><path fill="#0014db" d="M430.4,197.3l1.5,-3.2-2.3,-1-1.5,3.2z"/><path fill="#0060e9" d="M437.2,188.8l1.5,-3-2.3,-1-1.5,3.1z"/><path fill="#0000d5" d="M428.9,200.5l1.5,-3.2-2.3,-1-1.5,3.2z"/><path fill="#0046e5" d="M435.7,191.9l1.5,-3.1-2.3,-.9-1.5,3.1z"/><path fill="#002de0" d="M434.2,195l1.5,-3.1-2.3,-.9-1.5,3.1z"/><path fill="#0014db" d="M432.7,198.2l1.5,-3.2-2.3,-.9-1.5,3.2z"/><path fill="#0000d5" d="M431.1,201.5l1.6,-3.3-2.3,-.9-1.5,3.2z"/></g>
<path d="M418.1,39.6L425.9,47.4M418.1,47.4L425.9,39.6" stroke="#000" stroke-width="3.3" fill="none"/>
<g font-family="'Liberation Sans',sans-serif" font-size="6.9" fill="#2a2a2a" stroke="#2a2a2a" stroke-width=".15" text-anchor="middle">
<text x="322.7" y="63.9" text-anchor="end">40</text>
<text x="323.9" y="89.5" text-anchor="end">30</text>
<text x="325.1" y="115.2" text-anchor="end">20</text>
<text x="326.3" y="140.8" text-anchor="end">10</text>
<text x="327.5" y="166.4" text-anchor="end">0</text>
<text x="324.9" y="198.3">90</text>
<text x="374" y="221.9">75</text>
<text x="422.3" y="245.9">60</text>
<text x="439.2" y="245.9">0.0</text>
<text x="487.9" y="222.1">0.1</text>
<text x="536.7" y="198.6">0.2</text>
</g>
<g font-family="'Liberation Sans',sans-serif" font-size="12" fill="#222">
<text transform="translate(328.8,215.6) rotate(25.5) skewX(-13)">Temperature (<tspan dy="-3.6" font-size="8.5">o</tspan><tspan dy="3.6">C)</tspan></text>
<text transform="translate(477.2,255.2) rotate(-25.5)">NaOH (M)</text>
</g>
</svg>
</body></html>
